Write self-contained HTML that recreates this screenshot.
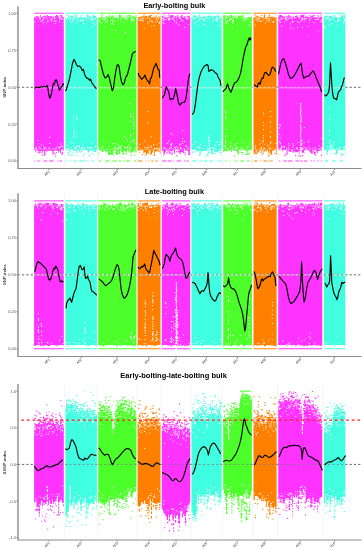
<!DOCTYPE html><html><head><meta charset="utf-8"><style>html,body{margin:0;padding:0;background:#fff;width:364px;height:550px;overflow:hidden}svg{display:block}</style></head><body><svg width="364" height="550" viewBox="0 0 364 550" font-family="Liberation Sans, Arial, sans-serif"><rect width="364" height="550" fill="#fff"/><line x1="64.6" y1="6.5" x2="64.6" y2="167.2" stroke="#EBEBEB" stroke-width="0.5"/><line x1="97.55" y1="6.5" x2="97.55" y2="167.2" stroke="#EBEBEB" stroke-width="0.5"/><line x1="137" y1="6.5" x2="137" y2="167.2" stroke="#EBEBEB" stroke-width="0.5"/><line x1="161.2" y1="6.5" x2="161.2" y2="167.2" stroke="#EBEBEB" stroke-width="0.5"/><line x1="190.85" y1="6.5" x2="190.85" y2="167.2" stroke="#EBEBEB" stroke-width="0.5"/><line x1="222.4" y1="6.5" x2="222.4" y2="167.2" stroke="#EBEBEB" stroke-width="0.5"/><line x1="252.7" y1="6.5" x2="252.7" y2="167.2" stroke="#EBEBEB" stroke-width="0.5"/><line x1="277.4" y1="6.5" x2="277.4" y2="167.2" stroke="#EBEBEB" stroke-width="0.5"/><line x1="323.05" y1="6.5" x2="323.05" y2="167.2" stroke="#EBEBEB" stroke-width="0.5"/><line x1="17.7" y1="87.3" x2="360.6" y2="87.3" stroke="#555" stroke-width="0.9" stroke-dasharray="2.2 2.11" stroke-dashoffset="0" stroke-opacity="1"/><rect x="34.1" y="12.7" width="29.7" height="1" fill="#FF33FF"/><rect x="34.1" y="17.6" width="29.7" height="132" fill="#FF33FF"/><path fill="#FF33FF" d="M34.1 16.7h1.0v1.0h-1.0zM35.1 17.3h0.8v0.4h-0.8zM35.9 16.0h1.6v1.7h-1.6zM37.5 16.4h1.6v1.3h-1.6zM40.1 15.1h0.8v2.6h-0.8zM40.9 17.0h1.6v0.7h-1.6zM42.5 16.3h0.8v1.4h-0.8zM43.3 16.2h1.2v1.5h-1.2zM44.5 16.6h1.0v1.1h-1.0zM45.5 15.1h0.8v2.6h-0.8zM47.1 15.0h0.8v2.7h-0.8zM47.9 16.3h1.6v1.4h-1.6zM49.5 16.2h1.6v1.5h-1.6zM51.1 16.0h1.0v1.7h-1.0zM52.1 16.7h1.6v1.0h-1.6zM54.9 16.0h1.0v1.7h-1.0zM55.9 15.0h1.2v2.7h-1.2zM57.1 15.6h1.6v2.1h-1.6zM60.7 15.1h1.2v2.6h-1.2zM61.9 16.8h1.6v0.9h-1.6zM60.1 14.8h1.1v1.1h-1.1zM42.2 16.5h1.1v1.1h-1.1zM48.4 16.5h1.1v1.1h-1.1zM45.3 16.3h1.1v1.1h-1.1zM47.8 16.0h1.1v1.1h-1.1zM45.7 15.9h1.1v1.1h-1.1zM44.6 16.3h1.1v1.1h-1.1zM35.3 149.5h0.8v2.8h-0.8zM36.1 149.5h1.6v0.9h-1.6zM37.7 149.5h0.8v1.2h-0.8zM38.5 149.5h1.2v2.3h-1.2zM39.7 149.5h1.6v2.0h-1.6zM41.3 149.5h1.0v1.4h-1.0zM42.3 149.5h0.8v2.7h-0.8zM43.1 149.5h1.0v1.0h-1.0zM44.1 149.5h1.2v5.6h-1.2zM45.3 149.5h1.2v1.2h-1.2zM46.5 149.5h1.2v2.0h-1.2zM47.7 149.5h0.8v1.0h-0.8zM48.5 149.5h1.0v1.4h-1.0zM49.5 149.5h1.0v1.1h-1.0zM50.5 149.5h0.8v1.3h-0.8zM51.3 149.5h1.2v1.6h-1.2zM52.5 149.5h1.0v5.2h-1.0zM53.5 149.5h1.6v1.3h-1.6zM55.1 149.5h1.2v1.1h-1.2zM56.3 149.5h0.8v1.5h-0.8zM57.1 149.5h1.2v1.2h-1.2zM58.3 149.5h0.8v3.0h-0.8zM59.1 149.5h1.0v1.5h-1.0zM60.1 149.5h1.0v3.7h-1.0zM63.1 149.5h0.7v1.2h-0.7zM55.7 152.0h1.1v1.1h-1.1zM41.8 154.6h1.1v1.1h-1.1zM39.4 152.1h1.1v1.1h-1.1zM38.9 151.9h1.1v1.1h-1.1zM61.3 153.9h1.1v1.1h-1.1zM52.6 152.1h1.1v1.1h-1.1zM54.2 153.1h1.1v1.1h-1.1zM37.4 152.2h1.1v1.1h-1.1zM43.9 154.6h1.1v1.1h-1.1zM41.5 151.9h1.1v1.1h-1.1zM55.0 155.5h1.1v1.1h-1.1zM61.7 152.8h1.1v1.1h-1.1zM62.0 151.7h1.1v1.1h-1.1zM34.5 160.5h0.9v1h-0.9zM37.4 160.5h2.2v1h-2.2zM43.6 160.5h3.5v1h-3.5zM49.1 160.5h4.5v1h-4.5zM57.6 160.5h1.0v1h-1.0zM59.8 160.5h2.2v1h-2.2z"/><rect x="65.4" y="12.7" width="31.5" height="1" fill="#40FFE0"/><rect x="65.4" y="17.6" width="31.5" height="132" fill="#40FFE0"/><path fill="#40FFE0" d="M68.2 15.3h1.0v2.4h-1.0zM70.4 17.2h0.8v0.5h-0.8zM71.2 16.1h1.2v1.6h-1.2zM72.4 16.7h1.6v1.0h-1.6zM75.0 16.6h0.8v1.1h-0.8zM75.8 15.0h1.0v2.7h-1.0zM78.4 17.1h0.8v0.6h-0.8zM80.4 16.6h1.6v1.1h-1.6zM83.6 17.2h1.6v0.5h-1.6zM86.8 15.1h1.6v2.6h-1.6zM89.2 15.8h1.2v1.9h-1.2zM90.4 17.1h1.0v0.6h-1.0zM91.4 17.3h1.0v0.4h-1.0zM92.4 15.6h0.8v2.1h-0.8zM93.2 15.0h1.2v2.7h-1.2zM94.4 16.0h1.6v1.7h-1.6zM66.6 14.7h1.1v1.1h-1.1zM70.5 15.6h1.1v1.1h-1.1zM73.5 15.1h1.1v1.1h-1.1zM80.8 15.0h1.1v1.1h-1.1zM75.7 14.7h1.1v1.1h-1.1zM72.5 16.5h1.1v1.1h-1.1zM89.1 16.0h1.1v1.1h-1.1zM67.0 149.5h0.8v0.8h-0.8zM69.4 149.5h1.0v3.3h-1.0zM73.2 149.5h1.0v1.6h-1.0zM74.2 149.5h1.2v0.9h-1.2zM75.4 149.5h1.2v1.6h-1.2zM76.6 149.5h0.8v1.2h-0.8zM78.6 149.5h0.8v3.3h-0.8zM79.4 149.5h0.8v1.8h-0.8zM81.0 149.5h0.8v3.2h-0.8zM81.8 149.5h0.8v0.5h-0.8zM82.6 149.5h1.6v0.4h-1.6zM84.2 149.5h1.6v0.4h-1.6zM85.8 149.5h1.0v0.4h-1.0zM86.8 149.5h0.8v1.1h-0.8zM87.6 149.5h1.6v3.1h-1.6zM89.2 149.5h1.2v1.5h-1.2zM90.4 149.5h1.6v0.8h-1.6zM92.0 149.5h1.0v2.0h-1.0zM93.8 149.5h1.2v2.4h-1.2zM95.0 149.5h1.2v1.2h-1.2zM96.2 149.5h0.7v1.0h-0.7zM67.4 152.2h1.1v1.1h-1.1zM83.7 152.9h1.1v1.1h-1.1zM73.0 154.5h1.1v1.1h-1.1zM89.0 155.1h1.1v1.1h-1.1zM91.8 152.9h1.1v1.1h-1.1zM76.2 151.5h1.1v1.1h-1.1zM71.7 151.6h1.1v1.1h-1.1zM76.4 154.7h1.1v1.1h-1.1zM68.1 154.4h1.1v1.1h-1.1zM68.2 153.5h1.1v1.1h-1.1zM75.7 151.7h1.1v1.1h-1.1zM94.8 150.8h1.1v1.1h-1.1zM71.1 154.6h1.1v1.1h-1.1zM83.0 155.2h1.1v1.1h-1.1zM65.6 160.5h0.9v1h-0.9zM67.7 160.5h1.0v1h-1.0zM70.7 160.5h0.9v1h-0.9zM73.6 160.5h2.2v1h-2.2zM77.0 160.5h1.2v1h-1.2zM79.4 160.5h4.5v1h-4.5zM85.1 160.5h0.9v1h-0.9zM87.2 160.5h1.2v1h-1.2zM91.4 160.5h2.2v1h-2.2z"/><rect x="98.2" y="12.7" width="38.2" height="1" fill="#4CFF2A"/><rect x="98.2" y="17.6" width="38.2" height="132" fill="#4CFF2A"/><path fill="#4CFF2A" d="M101.4 15.0h1.0v2.7h-1.0zM102.4 17.2h1.2v0.5h-1.2zM105.8 15.9h0.8v1.8h-0.8zM107.6 16.8h1.6v0.9h-1.6zM109.2 16.2h0.8v1.5h-0.8zM110.0 17.3h1.0v0.4h-1.0zM111.0 16.3h0.8v1.4h-0.8zM111.8 15.8h1.6v1.9h-1.6zM113.4 16.7h1.2v1.0h-1.2zM119.0 15.0h1.6v2.7h-1.6zM121.4 16.6h1.2v1.1h-1.2zM123.6 17.0h1.2v0.7h-1.2zM128.0 16.8h1.2v0.9h-1.2zM129.2 15.0h1.6v2.7h-1.6zM131.8 16.3h1.6v1.4h-1.6zM133.4 16.2h1.0v1.5h-1.0zM134.4 16.7h1.2v1.0h-1.2zM135.6 15.0h0.8v2.7h-0.8zM106.3 16.4h1.1v1.1h-1.1zM126.5 15.8h1.1v1.1h-1.1zM111.9 15.5h1.1v1.1h-1.1zM127.6 14.8h1.1v1.1h-1.1zM109.3 15.1h1.1v1.1h-1.1zM118.7 14.8h1.1v1.1h-1.1zM124.2 15.4h1.1v1.1h-1.1zM101.4 14.7h1.1v1.1h-1.1zM120.7 15.5h1.1v1.1h-1.1zM98.2 149.5h1.6v0.4h-1.6zM99.8 149.5h1.2v1.1h-1.2zM101.0 149.5h0.8v1.3h-0.8zM101.8 149.5h1.6v2.4h-1.6zM103.4 149.5h1.2v1.0h-1.2zM104.6 149.5h1.0v1.5h-1.0zM105.6 149.5h0.8v1.4h-0.8zM106.4 149.5h0.8v3.1h-0.8zM107.2 149.5h0.8v0.7h-0.8zM108.0 149.5h0.8v5.6h-0.8zM108.8 149.5h1.0v5.6h-1.0zM109.8 149.5h0.8v1.2h-0.8zM110.6 149.5h1.0v5.6h-1.0zM111.6 149.5h1.6v5.2h-1.6zM113.2 149.5h1.6v1.0h-1.6zM114.8 149.5h1.2v1.1h-1.2zM116.0 149.5h1.6v5.6h-1.6zM117.6 149.5h0.8v1.1h-0.8zM118.4 149.5h1.6v4.4h-1.6zM120.0 149.5h1.2v0.7h-1.2zM121.2 149.5h1.6v2.6h-1.6zM122.8 149.5h0.8v5.6h-0.8zM123.6 149.5h1.6v1.7h-1.6zM125.2 149.5h0.8v1.9h-0.8zM126.0 149.5h1.0v3.3h-1.0zM127.0 149.5h1.0v0.4h-1.0zM128.0 149.5h1.0v1.5h-1.0zM129.0 149.5h1.2v0.8h-1.2zM130.2 149.5h1.2v3.3h-1.2zM131.4 149.5h1.6v2.9h-1.6zM133.0 149.5h1.0v1.5h-1.0zM134.0 149.5h1.6v1.1h-1.6zM135.6 149.5h0.8v2.7h-0.8zM119.4 152.5h1.1v1.1h-1.1zM108.7 151.1h1.1v1.1h-1.1zM128.2 151.2h1.1v1.1h-1.1zM125.9 153.3h1.1v1.1h-1.1zM134.0 154.4h1.1v1.1h-1.1zM134.3 151.3h1.1v1.1h-1.1zM116.8 153.5h1.1v1.1h-1.1zM109.7 153.1h1.1v1.1h-1.1zM111.4 153.2h1.1v1.1h-1.1zM98.2 152.8h1.1v1.1h-1.1zM114.9 152.1h1.1v1.1h-1.1zM113.0 154.5h1.1v1.1h-1.1zM123.6 153.1h1.1v1.1h-1.1zM122.2 152.5h1.1v1.1h-1.1zM105.8 150.6h1.1v1.1h-1.1zM108.5 153.6h1.1v1.1h-1.1zM130.9 154.7h1.1v1.1h-1.1zM98.7 160.5h2.2v1h-2.2zM104.9 160.5h4.5v1h-4.5zM112.4 160.5h4.5v1h-4.5zM118.9 160.5h2.2v1h-2.2zM123.1 160.5h1.2v1h-1.2zM125.5 160.5h4.5v1h-4.5zM134.0 160.5h2.4v1h-2.4z"/><rect x="137.6" y="12.7" width="22.9" height="1" fill="#FF8000"/><rect x="137.6" y="17.6" width="22.9" height="132" fill="#FF8000"/><path fill="#FF8000" d="M137.6 17.1h1.6v0.6h-1.6zM139.2 16.9h0.8v0.8h-0.8zM140.0 16.5h1.0v1.2h-1.0zM141.0 16.5h1.2v1.2h-1.2zM142.2 16.2h1.6v1.5h-1.6zM143.8 16.5h1.0v1.2h-1.0zM144.8 15.9h1.6v1.8h-1.6zM146.4 16.0h1.0v1.7h-1.0zM147.4 17.1h0.8v0.6h-0.8zM148.2 15.8h1.2v1.9h-1.2zM149.4 15.3h1.6v2.4h-1.6zM152.2 16.9h1.2v0.8h-1.2zM153.4 16.8h1.6v0.9h-1.6zM155.0 16.8h1.2v0.9h-1.2zM157.8 16.4h0.8v1.3h-0.8zM159.4 16.3h1.0v1.4h-1.0zM146.4 15.9h1.1v1.1h-1.1zM150.8 14.9h1.1v1.1h-1.1zM142.1 16.3h1.1v1.1h-1.1zM143.5 14.6h1.1v1.1h-1.1zM155.7 15.6h1.1v1.1h-1.1zM137.6 149.5h1.2v1.2h-1.2zM138.8 149.5h0.8v0.4h-0.8zM139.6 149.5h1.2v0.9h-1.2zM140.8 149.5h1.0v1.0h-1.0zM141.8 149.5h1.6v0.4h-1.6zM143.4 149.5h1.2v3.7h-1.2zM144.6 149.5h1.2v2.4h-1.2zM145.8 149.5h1.2v5.6h-1.2zM147.0 149.5h1.0v3.4h-1.0zM148.0 149.5h0.8v3.5h-0.8zM148.8 149.5h1.6v0.8h-1.6zM150.4 149.5h1.6v5.0h-1.6zM152.0 149.5h1.0v2.9h-1.0zM154.0 149.5h1.0v3.8h-1.0zM155.0 149.5h1.6v1.7h-1.6zM156.6 149.5h1.0v1.8h-1.0zM157.6 149.5h1.2v1.2h-1.2zM159.8 149.5h0.7v4.1h-0.7zM147.2 152.1h1.1v1.1h-1.1zM146.3 151.2h1.1v1.1h-1.1zM142.1 154.0h1.1v1.1h-1.1zM139.1 151.7h1.1v1.1h-1.1zM144.6 155.2h1.1v1.1h-1.1zM158.4 150.8h1.1v1.1h-1.1zM155.2 150.7h1.1v1.1h-1.1zM154.0 154.0h1.1v1.1h-1.1zM148.4 153.2h1.1v1.1h-1.1zM153.4 155.0h1.1v1.1h-1.1zM138.0 160.5h4.5v1h-4.5zM145.5 160.5h0.9v1h-0.9zM148.4 160.5h0.9v1h-0.9zM151.3 160.5h2.2v1h-2.2zM155.5 160.5h2.2v1h-2.2z"/><rect x="161.9" y="12.7" width="28.3" height="1" fill="#FF33FF"/><rect x="161.9" y="17.6" width="28.3" height="132" fill="#FF33FF"/><path fill="#FF33FF" d="M161.9 16.1h1.6v1.6h-1.6zM164.5 16.9h1.2v0.8h-1.2zM167.3 17.2h1.2v0.5h-1.2zM168.5 15.0h0.8v2.7h-0.8zM170.1 15.5h0.8v2.2h-0.8zM170.9 15.2h1.2v2.5h-1.2zM172.1 15.0h1.2v2.7h-1.2zM174.9 15.9h1.0v1.8h-1.0zM176.7 15.3h1.0v2.4h-1.0zM177.7 16.7h0.8v1.0h-0.8zM179.7 16.4h1.6v1.3h-1.6zM181.3 15.0h1.2v2.7h-1.2zM182.5 16.8h0.8v0.9h-0.8zM184.3 15.9h1.2v1.8h-1.2zM187.1 16.8h0.8v0.9h-0.8zM187.9 16.1h1.0v1.6h-1.0zM188.9 16.4h1.0v1.3h-1.0zM172.5 15.8h1.1v1.1h-1.1zM188.3 15.8h1.1v1.1h-1.1zM168.5 14.5h1.1v1.1h-1.1zM187.3 15.7h1.1v1.1h-1.1zM171.4 15.7h1.1v1.1h-1.1zM177.1 15.5h1.1v1.1h-1.1zM163.6 15.2h1.1v1.1h-1.1zM161.9 149.5h1.6v1.5h-1.6zM163.5 149.5h1.6v4.6h-1.6zM165.1 149.5h0.8v2.4h-0.8zM165.9 149.5h0.8v0.6h-0.8zM167.5 149.5h1.0v3.6h-1.0zM169.3 149.5h0.8v4.5h-0.8zM170.1 149.5h1.6v1.4h-1.6zM171.7 149.5h0.8v5.6h-0.8zM173.3 149.5h0.8v1.2h-0.8zM174.1 149.5h1.0v4.2h-1.0zM179.1 149.5h0.8v3.6h-0.8zM179.9 149.5h0.8v2.5h-0.8zM180.7 149.5h1.2v2.5h-1.2zM181.9 149.5h1.2v2.9h-1.2zM183.1 149.5h0.8v3.6h-0.8zM185.1 149.5h1.0v1.4h-1.0zM186.1 149.5h1.0v0.8h-1.0zM187.1 149.5h1.2v1.4h-1.2zM188.3 149.5h1.6v5.6h-1.6zM177.8 151.1h1.1v1.1h-1.1zM179.7 152.8h1.1v1.1h-1.1zM188.8 154.2h1.1v1.1h-1.1zM184.6 154.1h1.1v1.1h-1.1zM176.5 155.1h1.1v1.1h-1.1zM184.5 152.1h1.1v1.1h-1.1zM166.2 152.5h1.1v1.1h-1.1zM176.1 151.1h1.1v1.1h-1.1zM171.3 153.5h1.1v1.1h-1.1zM163.1 154.7h1.1v1.1h-1.1zM179.6 152.2h1.1v1.1h-1.1zM170.0 152.4h1.1v1.1h-1.1zM162.2 160.5h4.5v1h-4.5zM167.9 160.5h3.5v1h-3.5zM172.6 160.5h1.0v1h-1.0zM176.6 160.5h4.5v1h-4.5zM184.1 160.5h1.2v1h-1.2zM186.5 160.5h2.2v1h-2.2z"/><rect x="191.5" y="12.7" width="30.1" height="1" fill="#40FFE0"/><rect x="191.5" y="17.6" width="30.1" height="132" fill="#40FFE0"/><path fill="#40FFE0" d="M191.5 16.9h1.6v0.8h-1.6zM193.1 15.0h1.2v2.7h-1.2zM194.3 15.7h1.6v2.0h-1.6zM195.9 15.0h0.8v2.7h-0.8zM197.5 16.7h1.6v1.0h-1.6zM199.1 15.9h1.2v1.8h-1.2zM200.3 17.1h1.2v0.6h-1.2zM201.5 17.0h1.2v0.7h-1.2zM202.7 16.6h1.6v1.1h-1.6zM204.3 16.8h1.2v0.9h-1.2zM206.5 16.3h1.2v1.4h-1.2zM207.7 15.0h1.0v2.7h-1.0zM208.7 16.0h1.0v1.7h-1.0zM209.7 15.8h0.8v1.9h-0.8zM210.5 16.2h1.2v1.5h-1.2zM211.7 17.3h1.0v0.4h-1.0zM212.7 15.5h0.8v2.2h-0.8zM213.5 16.5h1.0v1.2h-1.0zM214.5 16.8h1.0v0.9h-1.0zM217.1 15.1h1.2v2.6h-1.2zM218.3 16.2h1.6v1.5h-1.6zM221.1 16.6h0.5v1.1h-0.5zM216.6 16.4h1.1v1.1h-1.1zM203.8 15.9h1.1v1.1h-1.1zM207.3 16.5h1.1v1.1h-1.1zM214.6 16.0h1.1v1.1h-1.1zM215.1 16.6h1.1v1.1h-1.1zM198.9 14.8h1.1v1.1h-1.1zM213.2 16.1h1.1v1.1h-1.1zM196.3 149.5h1.2v2.2h-1.2zM197.5 149.5h0.8v1.5h-0.8zM198.3 149.5h1.2v1.4h-1.2zM199.5 149.5h1.2v5.6h-1.2zM200.7 149.5h1.2v1.4h-1.2zM201.9 149.5h1.6v1.8h-1.6zM203.5 149.5h1.2v1.2h-1.2zM204.7 149.5h1.0v1.4h-1.0zM205.7 149.5h1.0v1.5h-1.0zM206.7 149.5h1.0v0.6h-1.0zM207.7 149.5h0.8v5.6h-0.8zM208.5 149.5h0.8v0.9h-0.8zM209.3 149.5h1.6v0.7h-1.6zM210.9 149.5h0.8v4.2h-0.8zM211.7 149.5h0.8v3.5h-0.8zM212.5 149.5h1.6v0.7h-1.6zM214.1 149.5h1.2v3.0h-1.2zM215.3 149.5h1.2v1.9h-1.2zM216.5 149.5h1.6v2.7h-1.6zM218.1 149.5h1.6v1.2h-1.6zM219.7 149.5h0.8v1.3h-0.8zM220.5 149.5h1.0v1.1h-1.0zM192.0 151.5h1.1v1.1h-1.1zM199.0 154.9h1.1v1.1h-1.1zM208.6 152.0h1.1v1.1h-1.1zM220.4 151.9h1.1v1.1h-1.1zM206.4 154.3h1.1v1.1h-1.1zM211.5 152.8h1.1v1.1h-1.1zM214.0 153.0h1.1v1.1h-1.1zM212.2 153.1h1.1v1.1h-1.1zM219.7 154.2h1.1v1.1h-1.1zM194.1 151.2h1.1v1.1h-1.1zM219.5 151.7h1.1v1.1h-1.1zM192.3 151.9h1.1v1.1h-1.1zM205.4 155.4h1.1v1.1h-1.1zM191.9 160.5h4.5v1h-4.5zM198.4 160.5h0.9v1h-0.9zM200.5 160.5h2.2v1h-2.2zM203.9 160.5h3.5v1h-3.5zM209.4 160.5h3.5v1h-3.5zM216.9 160.5h1.2v1h-1.2zM219.3 160.5h2.3v1h-2.3z"/><rect x="223.2" y="12.7" width="28.7" height="1" fill="#4CFF2A"/><rect x="223.2" y="17.6" width="28.7" height="132" fill="#4CFF2A"/><path fill="#4CFF2A" d="M223.2 15.6h1.6v2.1h-1.6zM224.8 15.0h0.8v2.7h-0.8zM226.8 15.9h0.8v1.8h-0.8zM227.6 15.4h0.8v2.3h-0.8zM228.4 16.4h0.8v1.3h-0.8zM229.2 16.3h1.2v1.4h-1.2zM230.4 15.0h1.6v2.7h-1.6zM232.0 16.6h0.8v1.1h-0.8zM234.4 16.6h1.6v1.1h-1.6zM237.0 17.0h1.2v0.7h-1.2zM238.2 15.4h1.2v2.3h-1.2zM239.4 15.9h1.0v1.8h-1.0zM240.4 15.4h1.2v2.3h-1.2zM242.4 15.0h1.2v2.7h-1.2zM244.8 17.2h1.6v0.5h-1.6zM247.2 17.3h1.2v0.4h-1.2zM248.4 17.0h1.0v0.7h-1.0zM249.4 17.3h1.0v0.4h-1.0zM250.4 16.7h1.5v1.0h-1.5zM239.7 16.5h1.1v1.1h-1.1zM237.9 15.7h1.1v1.1h-1.1zM227.3 15.3h1.1v1.1h-1.1zM230.9 15.9h1.1v1.1h-1.1zM230.6 14.9h1.1v1.1h-1.1zM233.3 15.4h1.1v1.1h-1.1zM232.5 15.7h1.1v1.1h-1.1zM223.2 149.5h1.0v2.5h-1.0zM224.2 149.5h1.6v1.5h-1.6zM225.8 149.5h0.8v1.4h-0.8zM226.6 149.5h1.0v2.0h-1.0zM227.6 149.5h1.0v0.8h-1.0zM228.6 149.5h1.6v1.3h-1.6zM231.0 149.5h1.0v2.3h-1.0zM233.0 149.5h0.8v1.6h-0.8zM233.8 149.5h0.8v0.6h-0.8zM234.6 149.5h1.0v1.4h-1.0zM235.6 149.5h1.2v1.1h-1.2zM236.8 149.5h0.8v2.8h-0.8zM237.6 149.5h1.2v3.2h-1.2zM239.8 149.5h1.0v0.7h-1.0zM240.8 149.5h1.2v0.7h-1.2zM243.6 149.5h1.2v0.9h-1.2zM244.8 149.5h0.8v0.6h-0.8zM245.6 149.5h1.0v2.2h-1.0zM246.6 149.5h0.8v0.9h-0.8zM247.4 149.5h0.8v2.4h-0.8zM248.2 149.5h0.8v0.7h-0.8zM249.0 149.5h1.0v0.7h-1.0zM250.0 149.5h0.8v0.9h-0.8zM234.2 155.3h1.1v1.1h-1.1zM240.8 151.8h1.1v1.1h-1.1zM242.0 152.0h1.1v1.1h-1.1zM237.4 152.2h1.1v1.1h-1.1zM249.4 152.4h1.1v1.1h-1.1zM245.4 153.8h1.1v1.1h-1.1zM246.5 153.6h1.1v1.1h-1.1zM247.2 152.6h1.1v1.1h-1.1zM241.9 153.7h1.1v1.1h-1.1zM237.8 153.4h1.1v1.1h-1.1zM238.0 152.6h1.1v1.1h-1.1zM248.0 153.8h1.1v1.1h-1.1zM223.7 160.5h0.9v1h-0.9zM225.8 160.5h1.0v1h-1.0zM228.8 160.5h1.0v1h-1.0zM233.8 160.5h1.2v1h-1.2zM236.2 160.5h1.2v1h-1.2zM240.4 160.5h3.5v1h-3.5zM246.9 160.5h2.2v1h-2.2zM251.1 160.5h0.8v1h-0.8z"/><rect x="253.5" y="12.7" width="23.1" height="1" fill="#FF8000"/><rect x="253.5" y="17.6" width="23.1" height="132" fill="#FF8000"/><path fill="#FF8000" d="M254.7 16.7h1.2v1.0h-1.2zM255.9 16.5h0.8v1.2h-0.8zM256.7 16.3h1.6v1.4h-1.6zM259.3 16.4h1.0v1.3h-1.0zM260.3 16.9h1.0v0.8h-1.0zM261.3 17.1h1.2v0.6h-1.2zM263.7 15.6h1.6v2.1h-1.6zM266.9 17.3h1.0v0.4h-1.0zM267.9 16.8h0.8v0.9h-0.8zM268.7 15.0h0.8v2.7h-0.8zM269.5 17.1h1.0v0.6h-1.0zM270.5 16.9h0.8v0.8h-0.8zM271.3 16.6h1.6v1.1h-1.6zM272.9 17.2h1.6v0.5h-1.6zM274.5 17.0h1.2v0.7h-1.2zM263.9 14.5h1.1v1.1h-1.1zM269.0 14.4h1.1v1.1h-1.1zM254.4 14.6h1.1v1.1h-1.1zM256.6 15.5h1.1v1.1h-1.1zM261.3 15.0h1.1v1.1h-1.1zM253.5 149.5h1.2v3.0h-1.2zM254.7 149.5h1.0v4.8h-1.0zM256.7 149.5h1.2v3.8h-1.2zM257.9 149.5h0.8v2.8h-0.8zM258.7 149.5h1.2v1.1h-1.2zM259.9 149.5h1.2v0.6h-1.2zM261.1 149.5h0.8v1.8h-0.8zM261.9 149.5h1.6v0.9h-1.6zM263.5 149.5h1.2v2.6h-1.2zM264.7 149.5h1.2v1.1h-1.2zM265.9 149.5h1.0v1.9h-1.0zM267.9 149.5h0.8v4.1h-0.8zM268.7 149.5h1.0v1.5h-1.0zM269.7 149.5h1.6v4.1h-1.6zM271.3 149.5h0.8v5.6h-0.8zM272.1 149.5h0.8v1.3h-0.8zM272.9 149.5h1.0v1.0h-1.0zM273.9 149.5h1.0v1.0h-1.0zM275.9 149.5h0.7v5.6h-0.7zM260.7 151.8h1.1v1.1h-1.1zM268.4 154.3h1.1v1.1h-1.1zM261.6 153.9h1.1v1.1h-1.1zM268.1 155.3h1.1v1.1h-1.1zM263.0 152.6h1.1v1.1h-1.1zM256.1 153.0h1.1v1.1h-1.1zM259.4 151.2h1.1v1.1h-1.1zM253.8 152.7h1.1v1.1h-1.1zM271.1 153.9h1.1v1.1h-1.1zM274.2 152.9h1.1v1.1h-1.1zM253.9 160.5h3.5v1h-3.5zM260.4 160.5h1.0v1h-1.0zM263.4 160.5h3.5v1h-3.5zM268.1 160.5h1.2v1h-1.2zM270.5 160.5h2.2v1h-2.2z"/><rect x="278.2" y="12.7" width="44" height="1" fill="#FF33FF"/><rect x="278.2" y="17.6" width="44" height="132" fill="#FF33FF"/><path fill="#FF33FF" d="M278.2 16.8h1.0v0.9h-1.0zM279.2 15.0h1.6v2.7h-1.6zM280.8 15.0h1.0v2.7h-1.0zM281.8 16.4h1.0v1.3h-1.0zM282.8 16.4h1.2v1.3h-1.2zM284.0 16.0h0.8v1.7h-0.8zM285.8 16.8h0.8v0.9h-0.8zM288.2 15.0h0.8v2.7h-0.8zM289.0 16.3h1.0v1.4h-1.0zM290.0 17.3h0.8v0.4h-0.8zM292.4 17.1h0.8v0.6h-0.8zM293.2 16.5h0.8v1.2h-0.8zM295.6 15.9h1.0v1.8h-1.0zM296.6 15.0h0.8v2.7h-0.8zM297.4 16.9h1.2v0.8h-1.2zM300.2 15.0h1.0v2.7h-1.0zM301.2 16.0h1.2v1.7h-1.2zM302.4 15.0h1.6v2.7h-1.6zM304.0 16.7h1.6v1.0h-1.6zM305.6 16.3h1.6v1.4h-1.6zM307.2 16.8h1.0v0.9h-1.0zM308.2 17.1h1.2v0.6h-1.2zM309.4 17.3h1.0v0.4h-1.0zM310.4 15.6h1.2v2.1h-1.2zM311.6 16.2h0.8v1.5h-0.8zM312.4 15.0h1.2v2.7h-1.2zM313.6 17.3h1.2v0.4h-1.2zM314.8 17.1h1.2v0.6h-1.2zM317.6 15.0h1.0v2.7h-1.0zM319.6 16.7h1.0v1.0h-1.0zM320.6 16.7h1.0v1.0h-1.0zM321.6 17.1h0.6v0.6h-0.6zM286.6 15.8h1.1v1.1h-1.1zM281.5 16.1h1.1v1.1h-1.1zM280.7 16.0h1.1v1.1h-1.1zM294.6 15.9h1.1v1.1h-1.1zM303.6 14.7h1.1v1.1h-1.1zM301.3 14.6h1.1v1.1h-1.1zM288.5 15.2h1.1v1.1h-1.1zM290.5 15.9h1.1v1.1h-1.1zM320.5 15.2h1.1v1.1h-1.1zM314.2 14.9h1.1v1.1h-1.1zM308.6 15.2h1.1v1.1h-1.1zM279.4 149.5h1.2v0.5h-1.2zM282.2 149.5h0.8v1.8h-0.8zM283.0 149.5h1.6v0.6h-1.6zM285.4 149.5h1.2v0.4h-1.2zM286.6 149.5h1.0v5.6h-1.0zM288.4 149.5h1.6v1.9h-1.6zM290.0 149.5h1.0v2.6h-1.0zM292.6 149.5h1.0v3.2h-1.0zM293.6 149.5h1.6v2.0h-1.6zM295.2 149.5h1.0v3.1h-1.0zM296.2 149.5h1.2v2.4h-1.2zM297.4 149.5h0.8v3.1h-0.8zM298.2 149.5h1.6v2.1h-1.6zM299.8 149.5h1.0v0.7h-1.0zM300.8 149.5h1.0v2.1h-1.0zM301.8 149.5h1.0v3.6h-1.0zM302.8 149.5h1.2v2.7h-1.2zM304.0 149.5h1.6v1.0h-1.6zM307.2 149.5h1.0v0.5h-1.0zM308.2 149.5h0.8v1.2h-0.8zM309.0 149.5h0.8v1.3h-0.8zM309.8 149.5h1.6v3.2h-1.6zM311.4 149.5h1.2v4.4h-1.2zM313.4 149.5h0.8v3.5h-0.8zM314.2 149.5h1.6v0.5h-1.6zM315.8 149.5h1.0v1.7h-1.0zM316.8 149.5h1.0v3.5h-1.0zM317.8 149.5h1.6v1.4h-1.6zM319.4 149.5h1.0v0.6h-1.0zM320.4 149.5h0.8v0.9h-0.8zM321.2 149.5h0.8v1.2h-0.8zM314.0 151.5h1.1v1.1h-1.1zM284.5 155.1h1.1v1.1h-1.1zM290.4 150.8h1.1v1.1h-1.1zM299.7 155.6h1.1v1.1h-1.1zM314.0 152.6h1.1v1.1h-1.1zM320.8 154.6h1.1v1.1h-1.1zM314.3 153.8h1.1v1.1h-1.1zM295.1 155.1h1.1v1.1h-1.1zM298.4 155.3h1.1v1.1h-1.1zM301.9 155.1h1.1v1.1h-1.1zM298.7 152.7h1.1v1.1h-1.1zM303.5 152.2h1.1v1.1h-1.1zM284.6 153.5h1.1v1.1h-1.1zM314.7 152.0h1.1v1.1h-1.1zM315.3 154.5h1.1v1.1h-1.1zM311.5 152.7h1.1v1.1h-1.1zM321.0 154.6h1.1v1.1h-1.1zM302.9 151.2h1.1v1.1h-1.1zM302.8 150.7h1.1v1.1h-1.1zM279.1 160.5h1.2v1h-1.2zM283.3 160.5h3.5v1h-3.5zM288.0 160.5h4.5v1h-4.5zM295.5 160.5h3.5v1h-3.5zM300.2 160.5h2.2v1h-2.2zM303.6 160.5h3.5v1h-3.5zM311.1 160.5h1.2v1h-1.2zM313.5 160.5h1.0v1h-1.0zM317.5 160.5h1.2v1h-1.2zM320.7 160.5h1.0v1h-1.0z"/><rect x="323.9" y="12.7" width="21.4" height="1" fill="#40FFE0"/><rect x="323.9" y="17.6" width="21.4" height="132" fill="#40FFE0"/><path fill="#40FFE0" d="M323.9 17.0h0.8v0.7h-0.8zM324.7 15.7h1.6v2.0h-1.6zM326.3 15.5h1.2v2.2h-1.2zM328.7 16.0h0.8v1.7h-0.8zM329.5 15.7h1.0v2.0h-1.0zM330.5 16.1h1.2v1.6h-1.2zM331.7 16.7h1.6v1.0h-1.6zM334.1 15.0h1.0v2.7h-1.0zM335.1 17.0h1.2v0.7h-1.2zM336.3 17.2h1.0v0.5h-1.0zM338.5 17.2h0.8v0.5h-0.8zM340.9 15.9h1.2v1.8h-1.2zM342.1 15.7h1.0v2.0h-1.0zM343.1 16.7h0.8v1.0h-0.8zM343.9 15.0h1.2v2.7h-1.2zM341.3 14.7h1.1v1.1h-1.1zM332.9 15.2h1.1v1.1h-1.1zM339.1 14.5h1.1v1.1h-1.1zM330.3 16.0h1.1v1.1h-1.1zM341.9 14.5h1.1v1.1h-1.1zM323.9 149.5h1.6v0.5h-1.6zM325.5 149.5h1.0v0.6h-1.0zM326.5 149.5h1.0v5.6h-1.0zM327.5 149.5h0.8v2.4h-0.8zM328.3 149.5h1.6v0.5h-1.6zM329.9 149.5h0.8v0.9h-0.8zM330.7 149.5h1.6v0.8h-1.6zM332.3 149.5h1.2v0.5h-1.2zM335.9 149.5h1.2v4.2h-1.2zM337.9 149.5h0.8v1.4h-0.8zM339.7 149.5h1.0v0.5h-1.0zM340.7 149.5h1.2v0.6h-1.2zM341.9 149.5h1.2v0.8h-1.2zM343.1 149.5h0.8v0.5h-0.8zM343.9 149.5h1.0v0.5h-1.0zM344.9 149.5h0.4v5.6h-0.4zM335.7 153.7h1.1v1.1h-1.1zM331.3 153.0h1.1v1.1h-1.1zM342.8 153.9h1.1v1.1h-1.1zM335.6 153.7h1.1v1.1h-1.1zM341.1 154.7h1.1v1.1h-1.1zM335.7 152.3h1.1v1.1h-1.1zM337.0 151.6h1.1v1.1h-1.1zM334.3 153.1h1.1v1.1h-1.1zM341.0 153.6h1.1v1.1h-1.1zM324.6 160.5h3.5v1h-3.5zM332.1 160.5h3.5v1h-3.5zM339.6 160.5h3.5v1h-3.5z"/><path fill="#fff" d="M38.8 18.5h1.0v1.0h-1.0zM42.8 21.7h0.9v0.9h-0.9zM51.5 18.4h0.9v0.9h-0.9zM34.5 21.6h0.9v0.9h-0.9zM47.2 18.8h1.0v1.0h-1.0zM46.8 21.0h0.9v0.9h-0.9zM54.1 20.4h0.9v0.9h-0.9zM58.8 17.8h0.7v0.7h-0.7zM44.3 21.9h0.7v0.7h-0.7zM41.4 19.8h0.7v0.7h-0.7zM42.9 17.6h0.9v0.9h-0.9zM43.0 23.5h0.7v0.7h-0.7zM40.1 17.8h0.7v0.7h-0.7zM53.4 22.4h0.7v0.7h-0.7zM37.8 20.9h0.9v0.9h-0.9zM51.5 18.3h1.0v1.0h-1.0zM54.2 18.2h1.0v1.0h-1.0zM55.6 20.5h0.9v0.9h-0.9zM42.5 19.1h1.0v1.0h-1.0zM62.0 22.3h0.7v0.7h-0.7zM61.1 19.1h0.7v0.7h-0.7zM51.5 20.3h1.0v1.0h-1.0zM40.5 21.1h0.9v0.9h-0.9zM40.1 18.1h0.9v0.9h-0.9zM55.4 23.5h0.7v0.7h-0.7zM54.6 20.9h0.9v0.9h-0.9zM48.4 20.7h0.7v0.7h-0.7zM62.6 19.2h0.9v0.9h-0.9zM59.2 19.6h0.9v0.9h-0.9zM61.1 17.9h1.0v1.0h-1.0zM42.5 19.8h0.9v0.9h-0.9zM46.4 22.8h0.7v0.7h-0.7zM52.4 17.9h0.7v0.7h-0.7zM59.1 21.5h1.0v1.0h-1.0zM62.0 24.9h0.9v0.9h-0.9zM44.8 18.3h0.7v0.7h-0.7zM51.2 19.6h0.7v0.7h-0.7zM37.8 24.8h0.7v0.7h-0.7zM40.4 20.7h0.9v0.9h-0.9zM55.1 23.0h0.7v0.7h-0.7zM35.7 17.7h0.9v0.9h-0.9zM43.6 17.7h0.7v0.7h-0.7zM50.1 19.4h0.9v0.9h-0.9zM42.6 19.8h0.9v0.9h-0.9zM59.6 18.2h0.9v0.9h-0.9zM59.6 18.4h1.0v1.0h-1.0zM54.2 17.7h0.9v0.9h-0.9zM45.8 148.6h0.7v0.7h-0.7zM48.6 148.3h0.7v0.7h-0.7zM40.4 148.1h0.7v0.7h-0.7zM35.8 147.5h1.0v1.0h-1.0zM38.3 143.6h0.7v0.7h-0.7zM40.7 144.7h0.9v0.9h-0.9zM35.8 148.3h0.7v0.7h-0.7zM56.9 145.5h0.7v0.7h-0.7zM35.7 148.4h1.0v1.0h-1.0zM37.4 140.1h1.0v1.0h-1.0zM40.4 147.7h0.9v0.9h-0.9zM49.2 142.9h1.0v1.0h-1.0zM35.0 147.8h0.7v0.7h-0.7zM43.4 147.4h1.0v1.0h-1.0zM59.0 147.3h1.0v1.0h-1.0zM45.2 147.0h0.7v0.7h-0.7zM58.0 146.7h0.9v0.9h-0.9zM60.2 146.0h0.7v0.7h-0.7zM41.0 144.4h0.9v0.9h-0.9zM59.5 146.5h0.9v0.9h-0.9zM55.8 147.3h0.9v0.9h-0.9zM44.6 147.5h0.9v0.9h-0.9zM48.8 147.3h0.9v0.9h-0.9zM38.9 146.3h1.0v1.0h-1.0zM54.5 148.1h0.9v0.9h-0.9zM52.6 148.1h0.7v0.7h-0.7zM36.4 145.9h0.7v0.7h-0.7zM44.3 147.5h0.9v0.9h-0.9zM58.7 147.6h0.9v0.9h-0.9zM38.5 147.4h0.9v0.9h-0.9zM60.4 143.4h1.0v1.0h-1.0zM43.2 145.4h0.9v0.9h-0.9zM49.4 136.8h1.0v1.0h-1.0zM61.5 145.7h1.0v1.0h-1.0zM61.7 146.6h0.9v0.9h-0.9zM91.6 21.9h1.0v1.0h-1.0zM90.1 18.9h1.0v1.0h-1.0zM69.1 25.9h0.7v0.7h-0.7zM95.2 23.7h1.0v1.0h-1.0zM94.8 18.3h0.7v0.7h-0.7zM91.0 18.6h1.0v1.0h-1.0zM77.7 18.8h0.7v0.7h-0.7zM72.5 18.6h1.0v1.0h-1.0zM65.6 17.9h0.7v0.7h-0.7zM72.2 19.6h0.9v0.9h-0.9zM69.7 18.3h0.9v0.9h-0.9zM82.9 19.6h1.0v1.0h-1.0zM83.7 23.2h0.9v0.9h-0.9zM91.7 19.2h1.0v1.0h-1.0zM79.9 19.6h0.9v0.9h-0.9zM71.4 22.2h0.9v0.9h-0.9zM71.7 21.6h0.7v0.7h-0.7zM89.0 17.7h0.9v0.9h-0.9zM76.5 17.7h0.9v0.9h-0.9zM67.9 18.4h1.0v1.0h-1.0zM91.9 17.9h1.0v1.0h-1.0zM85.4 20.2h0.7v0.7h-0.7zM82.9 22.7h1.0v1.0h-1.0zM87.0 25.0h0.7v0.7h-0.7zM75.0 19.4h0.7v0.7h-0.7zM92.9 23.0h0.9v0.9h-0.9zM82.5 18.0h0.7v0.7h-0.7zM81.0 20.7h1.0v1.0h-1.0zM85.8 18.6h0.9v0.9h-0.9zM92.6 20.0h0.9v0.9h-0.9zM75.7 22.9h0.9v0.9h-0.9zM67.3 20.6h0.9v0.9h-0.9zM66.0 18.2h0.9v0.9h-0.9zM72.3 18.5h0.9v0.9h-0.9zM91.9 26.1h0.9v0.9h-0.9zM94.4 18.6h1.0v1.0h-1.0zM74.3 17.9h0.9v0.9h-0.9zM93.7 18.3h0.9v0.9h-0.9zM88.8 21.2h0.9v0.9h-0.9zM83.0 20.2h1.0v1.0h-1.0zM70.7 18.0h0.7v0.7h-0.7zM77.5 19.7h1.0v1.0h-1.0zM86.6 18.2h0.9v0.9h-0.9zM70.0 19.4h1.0v1.0h-1.0zM72.8 21.3h0.7v0.7h-0.7zM67.8 17.8h1.0v1.0h-1.0zM80.9 20.0h1.0v1.0h-1.0zM75.4 19.7h0.7v0.7h-0.7zM82.6 19.5h0.7v0.7h-0.7zM77.2 21.2h1.0v1.0h-1.0zM79.1 146.1h0.9v0.9h-0.9zM67.0 145.0h0.9v0.9h-0.9zM78.8 145.3h1.0v1.0h-1.0zM82.1 143.3h0.9v0.9h-0.9zM88.5 147.4h0.7v0.7h-0.7zM69.5 141.1h0.7v0.7h-0.7zM94.5 146.3h0.7v0.7h-0.7zM82.7 146.8h1.0v1.0h-1.0zM72.5 142.7h0.7v0.7h-0.7zM78.9 148.1h0.7v0.7h-0.7zM95.5 134.5h0.7v0.7h-0.7zM75.0 148.2h0.7v0.7h-0.7zM75.5 148.0h1.0v1.0h-1.0zM84.2 147.6h1.0v1.0h-1.0zM87.0 146.8h1.0v1.0h-1.0zM82.2 148.1h1.0v1.0h-1.0zM80.9 147.6h0.7v0.7h-0.7zM74.0 148.1h0.7v0.7h-0.7zM90.2 147.4h0.9v0.9h-0.9zM77.0 145.6h1.0v1.0h-1.0zM70.9 142.5h0.9v0.9h-0.9zM90.3 147.0h0.7v0.7h-0.7zM67.0 145.0h0.7v0.7h-0.7zM81.8 148.2h0.9v0.9h-0.9zM71.0 146.9h1.0v1.0h-1.0zM66.5 148.0h1.0v1.0h-1.0zM79.1 147.2h0.9v0.9h-0.9zM89.1 148.1h1.0v1.0h-1.0zM73.7 142.7h0.7v0.7h-0.7zM82.4 144.1h0.7v0.7h-0.7zM95.1 146.4h0.9v0.9h-0.9zM91.3 147.0h1.0v1.0h-1.0zM68.5 148.4h0.9v0.9h-0.9zM73.9 147.1h0.9v0.9h-0.9zM80.9 148.1h1.0v1.0h-1.0zM91.8 142.6h1.0v1.0h-1.0zM88.0 146.8h0.7v0.7h-0.7zM110.1 18.8h0.7v0.7h-0.7zM120.9 18.3h0.7v0.7h-0.7zM131.2 20.5h0.7v0.7h-0.7zM102.0 17.9h0.7v0.7h-0.7zM115.1 30.3h1.0v1.0h-1.0zM110.2 18.5h0.7v0.7h-0.7zM112.6 21.1h0.9v0.9h-0.9zM125.8 18.6h1.0v1.0h-1.0zM112.6 22.9h0.9v0.9h-0.9zM104.7 19.5h0.9v0.9h-0.9zM103.9 17.9h0.7v0.7h-0.7zM118.1 18.7h0.9v0.9h-0.9zM133.6 19.9h1.0v1.0h-1.0zM110.9 20.0h1.0v1.0h-1.0zM120.2 19.3h0.9v0.9h-0.9zM123.9 22.5h0.7v0.7h-0.7zM104.4 19.8h1.0v1.0h-1.0zM132.9 17.7h0.9v0.9h-0.9zM131.9 21.6h0.9v0.9h-0.9zM113.8 17.7h0.9v0.9h-0.9zM111.7 20.1h1.0v1.0h-1.0zM130.7 18.3h0.9v0.9h-0.9zM131.9 18.7h1.0v1.0h-1.0zM112.5 21.8h0.7v0.7h-0.7zM112.7 24.1h0.9v0.9h-0.9zM120.7 21.8h0.7v0.7h-0.7zM106.9 22.4h0.9v0.9h-0.9zM112.5 21.1h0.9v0.9h-0.9zM101.8 17.6h0.9v0.9h-0.9zM101.7 19.1h0.7v0.7h-0.7zM102.3 22.0h0.7v0.7h-0.7zM126.2 18.0h0.9v0.9h-0.9zM110.3 23.3h1.0v1.0h-1.0zM117.7 18.5h0.7v0.7h-0.7zM105.4 18.1h1.0v1.0h-1.0zM104.2 27.3h0.7v0.7h-0.7zM114.6 19.7h0.9v0.9h-0.9zM103.2 18.7h1.0v1.0h-1.0zM124.3 18.7h0.7v0.7h-0.7zM99.0 21.8h0.7v0.7h-0.7zM106.9 19.5h0.9v0.9h-0.9zM99.5 20.6h0.7v0.7h-0.7zM118.0 19.9h0.7v0.7h-0.7zM106.0 21.1h0.9v0.9h-0.9zM131.4 18.8h0.7v0.7h-0.7zM112.5 17.7h0.9v0.9h-0.9zM131.2 21.2h0.7v0.7h-0.7zM123.8 22.1h1.0v1.0h-1.0zM124.1 17.7h1.0v1.0h-1.0zM105.2 22.1h0.7v0.7h-0.7zM130.5 18.7h0.9v0.9h-0.9zM124.9 32.0h1.0v1.0h-1.0zM124.6 19.4h0.9v0.9h-0.9zM103.5 18.9h0.9v0.9h-0.9zM132.9 19.0h0.9v0.9h-0.9zM111.9 19.8h0.7v0.7h-0.7zM105.5 18.0h0.7v0.7h-0.7zM99.0 20.7h0.9v0.9h-0.9zM127.4 19.2h0.7v0.7h-0.7zM100.2 22.3h1.0v1.0h-1.0zM98.5 19.2h0.9v0.9h-0.9zM113.7 143.1h1.0v1.0h-1.0zM126.9 147.3h0.9v0.9h-0.9zM127.2 146.1h0.7v0.7h-0.7zM117.0 148.2h1.0v1.0h-1.0zM111.7 148.4h0.7v0.7h-0.7zM129.5 147.8h1.0v1.0h-1.0zM102.8 140.2h0.7v0.7h-0.7zM111.8 148.1h0.7v0.7h-0.7zM115.8 148.5h0.7v0.7h-0.7zM126.1 137.7h1.0v1.0h-1.0zM114.2 146.8h1.0v1.0h-1.0zM116.8 148.2h1.0v1.0h-1.0zM124.5 147.2h1.0v1.0h-1.0zM118.5 147.1h1.0v1.0h-1.0zM112.3 143.6h0.9v0.9h-0.9zM114.5 148.4h1.0v1.0h-1.0zM120.9 145.3h0.7v0.7h-0.7zM101.8 148.3h0.7v0.7h-0.7zM102.3 145.6h0.7v0.7h-0.7zM98.3 147.0h0.7v0.7h-0.7zM101.6 146.7h0.7v0.7h-0.7zM119.5 146.3h0.9v0.9h-0.9zM121.6 145.5h0.7v0.7h-0.7zM108.5 145.9h0.9v0.9h-0.9zM106.3 141.9h0.9v0.9h-0.9zM127.0 140.3h0.9v0.9h-0.9zM118.1 147.7h0.7v0.7h-0.7zM125.9 147.0h0.9v0.9h-0.9zM120.0 148.0h1.0v1.0h-1.0zM134.4 147.2h1.0v1.0h-1.0zM124.0 136.1h1.0v1.0h-1.0zM120.4 146.8h1.0v1.0h-1.0zM106.4 148.6h0.7v0.7h-0.7zM116.6 143.8h0.7v0.7h-0.7zM129.0 147.8h0.9v0.9h-0.9zM127.6 146.4h0.9v0.9h-0.9zM103.4 146.6h0.7v0.7h-0.7zM135.4 143.3h0.9v0.9h-0.9zM115.7 146.2h0.9v0.9h-0.9zM118.4 148.2h0.7v0.7h-0.7zM118.2 144.5h1.0v1.0h-1.0zM128.3 144.3h0.9v0.9h-0.9zM98.6 147.7h1.0v1.0h-1.0zM123.9 146.3h0.7v0.7h-0.7zM101.8 147.5h1.0v1.0h-1.0zM151.6 20.9h0.9v0.9h-0.9zM139.6 19.5h0.9v0.9h-0.9zM150.5 20.8h0.7v0.7h-0.7zM141.3 20.3h0.7v0.7h-0.7zM140.2 19.7h0.7v0.7h-0.7zM141.1 18.1h0.7v0.7h-0.7zM139.6 18.8h1.0v1.0h-1.0zM156.0 19.2h1.0v1.0h-1.0zM140.5 20.0h0.7v0.7h-0.7zM139.1 20.1h0.7v0.7h-0.7zM158.0 17.7h1.0v1.0h-1.0zM158.7 22.8h0.9v0.9h-0.9zM147.2 22.2h0.7v0.7h-0.7zM142.3 20.8h1.0v1.0h-1.0zM159.1 21.6h0.9v0.9h-0.9zM145.4 18.8h0.7v0.7h-0.7zM159.3 22.0h0.7v0.7h-0.7zM155.3 17.8h0.7v0.7h-0.7zM156.6 18.7h0.7v0.7h-0.7zM142.4 18.1h1.0v1.0h-1.0zM149.0 17.9h1.0v1.0h-1.0zM153.6 25.0h1.0v1.0h-1.0zM137.6 18.6h1.0v1.0h-1.0zM144.0 28.2h0.7v0.7h-0.7zM155.1 20.9h0.9v0.9h-0.9zM152.1 21.9h0.9v0.9h-0.9zM147.6 23.2h0.7v0.7h-0.7zM142.7 19.5h0.7v0.7h-0.7zM157.0 21.0h0.9v0.9h-0.9zM142.0 18.7h0.7v0.7h-0.7zM142.9 20.0h0.7v0.7h-0.7zM148.5 21.0h1.0v1.0h-1.0zM151.5 20.3h0.9v0.9h-0.9zM149.7 19.1h0.7v0.7h-0.7zM151.3 25.7h0.7v0.7h-0.7zM146.9 17.8h0.9v0.9h-0.9zM151.1 145.8h0.7v0.7h-0.7zM150.7 146.8h0.9v0.9h-0.9zM143.4 143.6h0.7v0.7h-0.7zM144.7 140.6h1.0v1.0h-1.0zM153.2 144.3h1.0v1.0h-1.0zM157.4 148.5h1.0v1.0h-1.0zM153.7 148.3h0.9v0.9h-0.9zM147.5 144.7h0.9v0.9h-0.9zM140.6 148.4h1.0v1.0h-1.0zM158.9 148.5h1.0v1.0h-1.0zM153.3 144.4h1.0v1.0h-1.0zM158.9 146.7h0.7v0.7h-0.7zM148.8 147.3h0.7v0.7h-0.7zM146.6 148.4h1.0v1.0h-1.0zM138.5 146.9h0.9v0.9h-0.9zM151.0 147.4h0.7v0.7h-0.7zM139.1 143.7h1.0v1.0h-1.0zM144.3 147.6h1.0v1.0h-1.0zM147.9 147.4h0.9v0.9h-0.9zM156.4 148.1h1.0v1.0h-1.0zM145.4 146.5h0.9v0.9h-0.9zM150.8 136.2h1.0v1.0h-1.0zM154.5 147.9h0.9v0.9h-0.9zM155.8 147.5h0.9v0.9h-0.9zM150.5 145.6h0.9v0.9h-0.9zM156.7 144.3h0.7v0.7h-0.7zM158.9 143.1h0.7v0.7h-0.7zM169.0 18.2h0.7v0.7h-0.7zM184.1 27.0h1.0v1.0h-1.0zM163.9 19.0h1.0v1.0h-1.0zM167.7 17.7h0.7v0.7h-0.7zM172.8 17.9h0.9v0.9h-0.9zM183.0 21.2h0.9v0.9h-0.9zM175.9 22.0h0.9v0.9h-0.9zM171.1 17.8h0.7v0.7h-0.7zM165.2 19.3h1.0v1.0h-1.0zM174.4 20.2h0.7v0.7h-0.7zM174.4 19.8h0.7v0.7h-0.7zM162.3 18.6h1.0v1.0h-1.0zM178.5 24.3h0.9v0.9h-0.9zM187.0 18.5h0.7v0.7h-0.7zM162.7 17.6h0.9v0.9h-0.9zM163.1 17.8h0.9v0.9h-0.9zM180.0 17.9h1.0v1.0h-1.0zM185.6 18.2h0.7v0.7h-0.7zM179.3 18.0h1.0v1.0h-1.0zM180.6 20.7h0.7v0.7h-0.7zM173.9 21.3h1.0v1.0h-1.0zM168.1 19.4h1.0v1.0h-1.0zM187.8 17.6h0.7v0.7h-0.7zM163.6 23.3h0.9v0.9h-0.9zM186.8 17.8h1.0v1.0h-1.0zM169.0 19.0h1.0v1.0h-1.0zM169.5 18.4h1.0v1.0h-1.0zM172.4 19.0h1.0v1.0h-1.0zM176.5 18.5h0.7v0.7h-0.7zM182.6 19.9h0.7v0.7h-0.7zM186.5 18.3h0.7v0.7h-0.7zM176.0 22.8h0.7v0.7h-0.7zM167.9 19.0h0.9v0.9h-0.9zM181.8 20.1h1.0v1.0h-1.0zM185.9 17.8h1.0v1.0h-1.0zM162.8 19.9h1.0v1.0h-1.0zM172.5 18.5h0.7v0.7h-0.7zM167.8 18.6h0.9v0.9h-0.9zM188.0 24.3h0.7v0.7h-0.7zM187.4 18.5h1.0v1.0h-1.0zM176.1 19.7h0.7v0.7h-0.7zM168.2 18.3h0.7v0.7h-0.7zM163.3 22.7h0.9v0.9h-0.9zM162.3 22.1h0.7v0.7h-0.7zM181.2 19.2h0.7v0.7h-0.7zM187.6 147.9h0.9v0.9h-0.9zM184.1 140.9h1.0v1.0h-1.0zM173.0 147.9h0.7v0.7h-0.7zM171.1 146.8h1.0v1.0h-1.0zM179.9 147.0h1.0v1.0h-1.0zM168.7 140.1h0.9v0.9h-0.9zM187.6 147.4h1.0v1.0h-1.0zM168.1 142.1h0.7v0.7h-0.7zM166.8 142.9h1.0v1.0h-1.0zM183.9 148.4h0.9v0.9h-0.9zM185.8 146.7h0.9v0.9h-0.9zM186.5 145.8h0.7v0.7h-0.7zM174.3 146.6h0.9v0.9h-0.9zM180.4 147.7h1.0v1.0h-1.0zM176.2 145.9h0.9v0.9h-0.9zM165.4 148.1h1.0v1.0h-1.0zM170.4 147.0h0.7v0.7h-0.7zM175.3 147.2h1.0v1.0h-1.0zM168.9 147.7h0.7v0.7h-0.7zM177.3 147.5h1.0v1.0h-1.0zM180.0 147.9h1.0v1.0h-1.0zM164.1 146.9h0.9v0.9h-0.9zM179.3 144.4h0.9v0.9h-0.9zM185.5 145.4h1.0v1.0h-1.0zM180.0 143.6h1.0v1.0h-1.0zM175.2 148.4h1.0v1.0h-1.0zM162.8 148.5h0.7v0.7h-0.7zM169.2 148.1h0.9v0.9h-0.9zM178.8 145.4h0.7v0.7h-0.7zM174.3 147.4h0.7v0.7h-0.7zM171.3 143.4h1.0v1.0h-1.0zM163.5 147.0h0.7v0.7h-0.7zM172.6 134.5h0.7v0.7h-0.7zM193.9 17.7h0.9v0.9h-0.9zM191.6 19.8h1.0v1.0h-1.0zM206.8 17.7h0.9v0.9h-0.9zM198.0 25.4h1.0v1.0h-1.0zM206.6 26.5h0.7v0.7h-0.7zM215.9 20.2h1.0v1.0h-1.0zM202.5 19.0h0.9v0.9h-0.9zM199.4 18.8h0.7v0.7h-0.7zM193.8 22.6h1.0v1.0h-1.0zM203.7 24.0h0.7v0.7h-0.7zM215.8 19.6h1.0v1.0h-1.0zM212.7 20.3h0.9v0.9h-0.9zM220.3 21.5h0.9v0.9h-0.9zM219.4 25.3h0.9v0.9h-0.9zM216.8 19.8h0.9v0.9h-0.9zM198.5 19.8h1.0v1.0h-1.0zM212.0 18.3h0.7v0.7h-0.7zM216.3 17.8h1.0v1.0h-1.0zM217.0 18.1h1.0v1.0h-1.0zM198.8 17.6h0.9v0.9h-0.9zM194.7 18.1h0.9v0.9h-0.9zM193.2 17.8h0.9v0.9h-0.9zM207.5 20.6h0.7v0.7h-0.7zM193.2 17.7h0.9v0.9h-0.9zM217.4 20.5h0.9v0.9h-0.9zM208.8 17.9h0.9v0.9h-0.9zM216.9 25.3h0.9v0.9h-0.9zM199.9 18.3h1.0v1.0h-1.0zM204.3 18.8h0.9v0.9h-0.9zM204.1 24.2h1.0v1.0h-1.0zM204.2 18.5h0.7v0.7h-0.7zM216.4 18.7h0.9v0.9h-0.9zM219.6 17.8h1.0v1.0h-1.0zM214.6 18.7h0.7v0.7h-0.7zM195.7 21.2h1.0v1.0h-1.0zM194.8 18.2h1.0v1.0h-1.0zM198.3 20.3h1.0v1.0h-1.0zM212.2 21.8h0.9v0.9h-0.9zM196.5 21.5h1.0v1.0h-1.0zM203.1 19.5h1.0v1.0h-1.0zM214.2 19.7h0.7v0.7h-0.7zM202.2 18.1h0.9v0.9h-0.9zM204.4 20.1h0.9v0.9h-0.9zM208.9 18.8h0.9v0.9h-0.9zM217.7 17.8h1.0v1.0h-1.0zM193.1 18.0h1.0v1.0h-1.0zM213.1 25.9h0.7v0.7h-0.7zM191.7 17.7h0.9v0.9h-0.9zM197.2 146.9h1.0v1.0h-1.0zM207.3 147.7h1.0v1.0h-1.0zM199.2 147.2h0.7v0.7h-0.7zM212.1 146.9h0.7v0.7h-0.7zM212.6 147.6h1.0v1.0h-1.0zM209.1 145.8h0.9v0.9h-0.9zM210.0 147.6h1.0v1.0h-1.0zM216.6 142.0h1.0v1.0h-1.0zM209.6 147.5h0.7v0.7h-0.7zM213.7 147.5h1.0v1.0h-1.0zM214.4 145.3h1.0v1.0h-1.0zM193.0 143.9h0.9v0.9h-0.9zM216.4 145.3h0.7v0.7h-0.7zM203.8 144.9h1.0v1.0h-1.0zM220.4 148.6h1.0v1.0h-1.0zM208.8 144.6h0.9v0.9h-0.9zM196.6 144.9h0.7v0.7h-0.7zM218.5 144.0h1.0v1.0h-1.0zM211.9 147.1h1.0v1.0h-1.0zM196.3 146.2h1.0v1.0h-1.0zM200.0 143.9h1.0v1.0h-1.0zM199.0 145.4h0.9v0.9h-0.9zM207.2 146.1h0.7v0.7h-0.7zM200.9 146.9h1.0v1.0h-1.0zM220.2 141.7h1.0v1.0h-1.0zM195.2 142.3h0.7v0.7h-0.7zM209.1 139.9h0.9v0.9h-0.9zM199.1 146.7h0.7v0.7h-0.7zM214.9 144.8h0.7v0.7h-0.7zM216.0 140.9h0.9v0.9h-0.9zM199.5 147.8h0.7v0.7h-0.7zM219.7 143.6h0.7v0.7h-0.7zM205.1 148.1h0.7v0.7h-0.7zM214.3 148.5h0.7v0.7h-0.7zM194.7 141.1h1.0v1.0h-1.0zM192.6 145.6h0.7v0.7h-0.7zM230.2 18.0h0.9v0.9h-0.9zM226.4 22.8h0.9v0.9h-0.9zM250.2 20.3h0.7v0.7h-0.7zM227.6 20.0h0.7v0.7h-0.7zM233.0 20.2h1.0v1.0h-1.0zM245.1 19.9h0.7v0.7h-0.7zM232.2 23.0h1.0v1.0h-1.0zM245.6 17.7h0.7v0.7h-0.7zM245.6 18.6h0.9v0.9h-0.9zM225.6 23.3h0.7v0.7h-0.7zM243.8 19.8h1.0v1.0h-1.0zM249.0 25.8h0.9v0.9h-0.9zM235.9 17.9h1.0v1.0h-1.0zM229.4 20.5h0.7v0.7h-0.7zM237.3 23.7h0.7v0.7h-0.7zM233.3 21.1h0.7v0.7h-0.7zM250.7 22.3h0.7v0.7h-0.7zM230.8 18.9h0.7v0.7h-0.7zM232.3 20.3h1.0v1.0h-1.0zM229.4 20.3h0.7v0.7h-0.7zM242.8 19.4h1.0v1.0h-1.0zM226.7 20.7h0.9v0.9h-0.9zM248.1 19.2h0.9v0.9h-0.9zM224.7 18.6h1.0v1.0h-1.0zM232.0 28.2h0.7v0.7h-0.7zM246.4 18.4h0.9v0.9h-0.9zM230.3 17.6h0.9v0.9h-0.9zM244.6 18.0h0.9v0.9h-0.9zM225.7 22.1h0.9v0.9h-0.9zM226.0 17.9h0.9v0.9h-0.9zM227.1 20.7h1.0v1.0h-1.0zM241.7 22.1h0.7v0.7h-0.7zM229.2 18.9h1.0v1.0h-1.0zM232.2 21.4h1.0v1.0h-1.0zM244.1 17.7h0.9v0.9h-0.9zM248.8 24.1h1.0v1.0h-1.0zM238.0 18.8h0.7v0.7h-0.7zM242.5 18.4h0.7v0.7h-0.7zM225.2 20.9h1.0v1.0h-1.0zM250.5 21.5h0.7v0.7h-0.7zM226.1 17.6h0.9v0.9h-0.9zM232.6 18.7h0.9v0.9h-0.9zM232.7 20.1h1.0v1.0h-1.0zM230.3 19.0h1.0v1.0h-1.0zM230.8 18.8h0.7v0.7h-0.7zM248.9 141.4h0.9v0.9h-0.9zM229.4 146.8h0.9v0.9h-0.9zM244.6 145.1h0.7v0.7h-0.7zM239.7 140.2h0.7v0.7h-0.7zM240.4 147.9h1.0v1.0h-1.0zM235.4 147.6h0.9v0.9h-0.9zM240.4 148.4h0.7v0.7h-0.7zM243.4 147.9h0.9v0.9h-0.9zM241.8 147.2h0.7v0.7h-0.7zM234.6 144.3h0.7v0.7h-0.7zM248.2 145.6h0.7v0.7h-0.7zM241.4 138.9h0.7v0.7h-0.7zM247.0 147.6h0.7v0.7h-0.7zM230.2 145.7h0.9v0.9h-0.9zM236.4 147.0h1.0v1.0h-1.0zM232.1 147.7h0.9v0.9h-0.9zM237.1 143.1h0.9v0.9h-0.9zM237.0 147.7h0.9v0.9h-0.9zM230.5 142.3h0.7v0.7h-0.7zM230.4 142.6h0.9v0.9h-0.9zM249.3 143.6h0.9v0.9h-0.9zM243.2 142.3h0.9v0.9h-0.9zM224.3 146.2h0.9v0.9h-0.9zM224.6 144.8h0.7v0.7h-0.7zM234.7 148.3h1.0v1.0h-1.0zM240.5 147.5h0.7v0.7h-0.7zM232.7 145.9h1.0v1.0h-1.0zM235.2 145.1h1.0v1.0h-1.0zM225.5 147.5h1.0v1.0h-1.0zM235.5 148.1h1.0v1.0h-1.0zM231.0 145.5h0.7v0.7h-0.7zM246.8 147.0h1.0v1.0h-1.0zM227.8 148.5h0.9v0.9h-0.9zM247.3 146.4h1.0v1.0h-1.0zM256.0 18.6h0.7v0.7h-0.7zM275.6 18.7h1.0v1.0h-1.0zM266.2 20.2h1.0v1.0h-1.0zM264.8 17.9h1.0v1.0h-1.0zM262.4 20.6h0.7v0.7h-0.7zM264.9 22.6h0.9v0.9h-0.9zM272.7 22.1h0.9v0.9h-0.9zM268.5 18.3h0.7v0.7h-0.7zM259.7 18.4h0.7v0.7h-0.7zM257.5 18.4h0.9v0.9h-0.9zM268.8 18.6h0.9v0.9h-0.9zM270.9 19.4h0.9v0.9h-0.9zM265.6 18.0h1.0v1.0h-1.0zM262.3 17.6h1.0v1.0h-1.0zM260.1 21.2h0.9v0.9h-0.9zM255.6 18.1h1.0v1.0h-1.0zM257.9 18.1h1.0v1.0h-1.0zM268.5 20.5h1.0v1.0h-1.0zM266.0 17.7h0.9v0.9h-0.9zM268.6 20.7h1.0v1.0h-1.0zM262.7 20.3h0.7v0.7h-0.7zM254.7 24.6h0.9v0.9h-0.9zM267.9 18.2h0.7v0.7h-0.7zM255.5 19.3h1.0v1.0h-1.0zM260.9 20.7h0.9v0.9h-0.9zM257.7 20.1h0.9v0.9h-0.9zM259.0 18.6h0.9v0.9h-0.9zM273.2 21.1h1.0v1.0h-1.0zM267.5 18.9h1.0v1.0h-1.0zM259.6 20.5h0.7v0.7h-0.7zM265.4 17.7h0.7v0.7h-0.7zM259.6 21.4h0.7v0.7h-0.7zM257.1 20.5h1.0v1.0h-1.0zM258.3 18.4h0.7v0.7h-0.7zM267.5 18.9h0.7v0.7h-0.7zM272.6 21.2h0.9v0.9h-0.9zM260.2 143.3h0.9v0.9h-0.9zM270.7 147.4h0.7v0.7h-0.7zM259.8 147.7h0.9v0.9h-0.9zM264.2 148.1h1.0v1.0h-1.0zM261.4 147.2h0.7v0.7h-0.7zM259.3 144.4h0.7v0.7h-0.7zM263.5 147.6h0.9v0.9h-0.9zM260.9 148.6h1.0v1.0h-1.0zM268.5 146.7h0.9v0.9h-0.9zM271.5 141.9h0.9v0.9h-0.9zM270.2 141.0h1.0v1.0h-1.0zM264.2 148.0h0.9v0.9h-0.9zM272.5 147.6h0.7v0.7h-0.7zM255.3 145.0h1.0v1.0h-1.0zM261.0 147.3h0.9v0.9h-0.9zM269.1 148.2h0.9v0.9h-0.9zM254.6 146.0h0.7v0.7h-0.7zM275.6 143.1h0.9v0.9h-0.9zM262.0 145.4h0.7v0.7h-0.7zM267.2 145.3h0.9v0.9h-0.9zM264.7 144.0h0.7v0.7h-0.7zM261.9 140.6h1.0v1.0h-1.0zM274.7 148.5h0.7v0.7h-0.7zM268.5 144.6h0.7v0.7h-0.7zM259.5 140.5h0.7v0.7h-0.7zM253.6 147.7h0.7v0.7h-0.7zM254.7 147.6h1.0v1.0h-1.0zM284.6 17.8h0.7v0.7h-0.7zM303.5 18.5h0.7v0.7h-0.7zM281.3 18.2h0.7v0.7h-0.7zM304.1 18.3h0.9v0.9h-0.9zM301.5 19.5h1.0v1.0h-1.0zM281.0 19.5h0.7v0.7h-0.7zM281.3 18.1h0.7v0.7h-0.7zM304.4 21.0h0.7v0.7h-0.7zM301.8 27.1h1.0v1.0h-1.0zM317.6 30.4h0.9v0.9h-0.9zM300.9 18.2h1.0v1.0h-1.0zM298.4 21.9h1.0v1.0h-1.0zM308.7 18.3h0.7v0.7h-0.7zM302.0 18.0h0.9v0.9h-0.9zM310.1 18.9h0.9v0.9h-0.9zM307.2 26.0h0.9v0.9h-0.9zM307.0 35.2h0.7v0.7h-0.7zM311.1 17.7h0.9v0.9h-0.9zM315.3 19.3h1.0v1.0h-1.0zM309.2 20.0h0.9v0.9h-0.9zM284.9 18.2h0.9v0.9h-0.9zM301.2 20.2h0.7v0.7h-0.7zM304.4 18.5h1.0v1.0h-1.0zM282.0 18.3h0.9v0.9h-0.9zM300.2 20.7h0.9v0.9h-0.9zM299.4 17.8h0.7v0.7h-0.7zM305.5 17.8h1.0v1.0h-1.0zM291.1 18.3h0.7v0.7h-0.7zM321.2 19.3h0.9v0.9h-0.9zM288.7 17.9h1.0v1.0h-1.0zM280.4 18.9h0.7v0.7h-0.7zM318.3 17.6h0.9v0.9h-0.9zM318.1 18.9h0.9v0.9h-0.9zM279.4 20.5h1.0v1.0h-1.0zM296.9 26.8h1.0v1.0h-1.0zM321.1 19.9h0.7v0.7h-0.7zM319.7 20.6h0.7v0.7h-0.7zM306.0 18.7h0.7v0.7h-0.7zM297.1 21.0h0.9v0.9h-0.9zM284.5 18.4h1.0v1.0h-1.0zM294.6 17.9h0.7v0.7h-0.7zM281.3 25.8h0.9v0.9h-0.9zM294.0 17.7h0.9v0.9h-0.9zM287.7 19.4h0.7v0.7h-0.7zM285.5 18.2h1.0v1.0h-1.0zM292.8 20.9h0.9v0.9h-0.9zM313.7 22.2h1.0v1.0h-1.0zM302.9 19.6h0.7v0.7h-0.7zM290.3 27.4h1.0v1.0h-1.0zM320.8 21.6h1.0v1.0h-1.0zM291.8 22.0h1.0v1.0h-1.0zM285.9 19.8h0.9v0.9h-0.9zM309.2 22.4h0.7v0.7h-0.7zM312.2 21.1h0.7v0.7h-0.7zM291.9 20.7h1.0v1.0h-1.0zM293.6 28.3h0.7v0.7h-0.7zM316.6 19.3h0.7v0.7h-0.7zM315.1 18.9h0.9v0.9h-0.9zM287.3 18.8h1.0v1.0h-1.0zM278.5 19.3h0.9v0.9h-0.9zM291.4 18.1h1.0v1.0h-1.0zM319.7 20.6h1.0v1.0h-1.0zM292.4 18.7h0.7v0.7h-0.7zM280.4 17.7h0.7v0.7h-0.7zM304.0 18.7h1.0v1.0h-1.0zM279.8 22.1h1.0v1.0h-1.0zM317.0 18.5h0.7v0.7h-0.7zM309.1 18.4h0.7v0.7h-0.7zM283.8 21.5h0.9v0.9h-0.9zM289.8 23.6h0.9v0.9h-0.9zM279.9 148.3h1.0v1.0h-1.0zM296.2 147.8h1.0v1.0h-1.0zM303.3 146.3h0.7v0.7h-0.7zM278.5 148.1h0.9v0.9h-0.9zM308.7 141.4h0.7v0.7h-0.7zM321.2 137.9h0.9v0.9h-0.9zM281.5 146.0h0.7v0.7h-0.7zM302.1 142.9h0.7v0.7h-0.7zM320.9 147.2h1.0v1.0h-1.0zM308.1 139.6h0.7v0.7h-0.7zM283.8 146.0h1.0v1.0h-1.0zM316.0 148.2h0.7v0.7h-0.7zM303.8 127.1h0.9v0.9h-0.9zM278.5 148.2h0.7v0.7h-0.7zM280.9 146.9h1.0v1.0h-1.0zM296.8 147.2h1.0v1.0h-1.0zM283.9 147.0h0.9v0.9h-0.9zM311.9 147.4h0.9v0.9h-0.9zM286.2 147.7h0.9v0.9h-0.9zM288.1 143.3h0.9v0.9h-0.9zM280.8 148.6h1.0v1.0h-1.0zM320.8 148.6h1.0v1.0h-1.0zM288.8 145.1h1.0v1.0h-1.0zM304.7 147.2h1.0v1.0h-1.0zM314.8 145.9h0.7v0.7h-0.7zM309.3 148.1h0.9v0.9h-0.9zM320.8 148.3h1.0v1.0h-1.0zM288.1 147.5h1.0v1.0h-1.0zM301.3 144.2h1.0v1.0h-1.0zM281.8 146.2h0.7v0.7h-0.7zM286.0 148.3h0.7v0.7h-0.7zM307.8 141.3h1.0v1.0h-1.0zM281.6 146.9h0.7v0.7h-0.7zM280.9 145.5h0.9v0.9h-0.9zM292.3 143.5h1.0v1.0h-1.0zM292.2 146.6h1.0v1.0h-1.0zM306.2 148.0h0.9v0.9h-0.9zM293.1 144.9h0.9v0.9h-0.9zM308.0 146.9h0.7v0.7h-0.7zM287.9 147.6h1.0v1.0h-1.0zM319.1 148.2h0.9v0.9h-0.9zM308.5 145.9h0.7v0.7h-0.7zM314.5 147.6h1.0v1.0h-1.0zM283.0 145.8h0.7v0.7h-0.7zM318.5 145.2h1.0v1.0h-1.0zM297.6 141.9h0.9v0.9h-0.9zM296.7 148.2h0.9v0.9h-0.9zM299.8 144.8h0.7v0.7h-0.7zM302.5 148.2h1.0v1.0h-1.0zM300.1 147.0h0.7v0.7h-0.7zM303.6 142.1h0.9v0.9h-0.9zM301.1 148.0h1.0v1.0h-1.0zM328.1 17.7h0.7v0.7h-0.7zM328.8 19.7h1.0v1.0h-1.0zM332.3 19.1h0.7v0.7h-0.7zM323.9 25.7h1.0v1.0h-1.0zM343.6 20.6h1.0v1.0h-1.0zM325.7 17.7h1.0v1.0h-1.0zM329.3 18.9h1.0v1.0h-1.0zM326.7 18.4h0.9v0.9h-0.9zM331.2 23.3h1.0v1.0h-1.0zM325.2 20.7h0.7v0.7h-0.7zM338.8 18.7h0.9v0.9h-0.9zM337.7 21.4h0.9v0.9h-0.9zM330.2 19.0h0.9v0.9h-0.9zM337.6 20.1h1.0v1.0h-1.0zM337.2 21.1h0.9v0.9h-0.9zM325.4 18.0h0.7v0.7h-0.7zM328.9 24.5h0.7v0.7h-0.7zM343.6 18.3h0.9v0.9h-0.9zM329.7 19.4h1.0v1.0h-1.0zM335.3 21.1h0.7v0.7h-0.7zM338.1 18.9h1.0v1.0h-1.0zM324.5 27.3h1.0v1.0h-1.0zM344.2 19.3h1.0v1.0h-1.0zM329.9 24.7h0.7v0.7h-0.7zM337.0 24.8h0.9v0.9h-0.9zM331.6 22.9h0.9v0.9h-0.9zM328.4 24.7h0.7v0.7h-0.7zM329.9 19.4h0.9v0.9h-0.9zM339.3 20.1h1.0v1.0h-1.0zM337.6 18.0h1.0v1.0h-1.0zM333.0 18.3h0.7v0.7h-0.7zM343.1 22.6h1.0v1.0h-1.0zM337.8 19.2h1.0v1.0h-1.0zM326.8 17.8h1.0v1.0h-1.0zM338.4 148.5h0.7v0.7h-0.7zM339.4 146.4h1.0v1.0h-1.0zM333.4 141.4h0.9v0.9h-0.9zM333.6 148.5h0.9v0.9h-0.9zM332.7 145.5h1.0v1.0h-1.0zM330.9 145.1h0.7v0.7h-0.7zM339.6 147.7h1.0v1.0h-1.0zM333.3 142.4h0.9v0.9h-0.9zM343.9 145.9h0.9v0.9h-0.9zM329.5 147.0h0.7v0.7h-0.7zM343.1 146.9h1.0v1.0h-1.0zM337.7 147.7h0.7v0.7h-0.7zM334.3 141.8h0.7v0.7h-0.7zM327.1 147.8h0.7v0.7h-0.7zM332.3 148.5h0.9v0.9h-0.9zM332.0 148.2h0.7v0.7h-0.7zM327.3 146.0h0.9v0.9h-0.9zM340.1 141.4h0.9v0.9h-0.9zM336.2 147.7h0.9v0.9h-0.9zM344.2 148.2h0.9v0.9h-0.9zM329.6 145.5h1.0v1.0h-1.0zM332.4 148.4h1.0v1.0h-1.0zM337.8 148.3h0.7v0.7h-0.7zM334.5 143.9h0.7v0.7h-0.7zM342.8 147.4h0.9v0.9h-0.9zM73.4 116.0h0.9v1.3h-0.9zM73.5 122.0h0.9v0.8h-0.9zM73.7 125.0h0.9v0.8h-0.9zM73.8 129.0h0.9v1.3h-0.9zM73.6 131.0h0.9v1.3h-0.9zM73.6 133.0h0.9v1.3h-0.9zM73.4 135.0h0.9v0.8h-0.9zM73.5 136.0h0.9v1.0h-0.9zM73.3 138.0h0.9v0.8h-0.9zM73.3 145.0h0.9v1.0h-0.9zM75.8 114.0h0.9v1.0h-0.9zM76.1 117.0h0.9v0.8h-0.9zM75.9 118.0h0.9v0.8h-0.9zM76.3 119.0h0.9v1.3h-0.9zM75.9 132.0h0.9v0.8h-0.9zM76.2 134.0h0.9v0.8h-0.9zM76.1 137.0h0.9v1.0h-0.9zM75.8 146.0h0.9v1.3h-0.9zM76.1 147.0h0.9v1.0h-0.9zM129.8 103.0h0.9v0.8h-0.9zM129.9 108.0h0.9v0.8h-0.9zM130.1 113.0h0.9v1.3h-0.9zM130.0 115.0h0.9v1.3h-0.9zM130.3 117.0h0.9v0.8h-0.9zM129.7 121.0h0.9v1.0h-0.9zM130.3 134.0h0.9v0.8h-0.9zM130.2 135.0h0.9v1.0h-0.9zM130.3 137.0h0.9v0.8h-0.9zM130.3 141.0h0.9v1.3h-0.9zM130.2 146.0h0.9v0.8h-0.9zM129.7 147.0h0.9v1.0h-0.9zM129.9 148.0h0.9v0.8h-0.9zM132.8 113.0h0.9v0.8h-0.9zM132.8 116.0h0.9v1.3h-0.9zM133.1 119.0h0.9v0.8h-0.9zM132.8 121.0h0.9v0.8h-0.9zM133.1 122.0h0.9v1.0h-0.9zM133.4 124.0h0.9v1.3h-0.9zM133.0 126.0h0.9v0.8h-0.9zM133.0 128.0h0.9v1.0h-0.9zM133.4 133.0h0.9v1.0h-0.9zM133.3 139.0h0.9v1.3h-0.9zM133.0 140.0h0.9v1.0h-0.9zM133.4 141.0h0.9v0.8h-0.9zM132.8 142.0h0.9v0.8h-0.9zM147.4 111.0h0.9v1.3h-0.9zM147.8 122.0h0.9v1.3h-0.9zM147.3 147.0h0.9v0.8h-0.9zM170.5 133.0h0.9v1.3h-0.9zM170.9 143.0h0.9v1.0h-0.9zM170.5 144.0h0.9v1.3h-0.9zM170.8 145.0h0.9v1.0h-0.9zM182.2 130.0h0.9v1.3h-0.9zM182.4 138.0h0.9v1.0h-0.9zM182.2 141.0h0.9v1.0h-0.9zM182.2 143.0h0.9v1.0h-0.9zM208.7 135.0h0.9v0.8h-0.9zM208.2 136.0h0.9v1.0h-0.9zM208.4 137.0h0.9v0.8h-0.9zM208.2 138.0h0.9v1.3h-0.9zM208.3 140.0h0.9v1.3h-0.9zM208.6 141.0h0.9v1.0h-0.9zM208.5 143.0h0.9v1.3h-0.9zM208.8 145.0h0.9v1.0h-0.9zM208.7 148.0h0.9v1.0h-0.9zM208.3 149.0h0.9v1.3h-0.9zM225.0 110.0h0.9v1.3h-0.9zM225.5 112.0h0.9v1.3h-0.9zM225.0 116.0h0.9v1.3h-0.9zM225.4 118.0h0.9v1.3h-0.9zM225.4 129.0h0.9v0.8h-0.9zM225.5 135.0h0.9v1.3h-0.9zM225.5 137.0h0.9v0.8h-0.9zM225.1 140.0h0.9v0.8h-0.9zM225.3 141.0h0.9v1.3h-0.9zM225.3 143.0h0.9v1.0h-0.9zM225.5 145.0h0.9v0.8h-0.9zM225.2 147.0h0.9v1.0h-0.9zM263.0 112.0h0.9v0.8h-0.9zM263.0 114.0h0.9v1.0h-0.9zM263.1 122.0h0.9v1.0h-0.9zM263.1 125.0h0.9v0.8h-0.9zM263.1 129.0h0.9v1.0h-0.9zM263.0 135.0h0.9v1.0h-0.9zM263.1 137.0h0.9v1.3h-0.9zM263.1 140.0h0.9v1.0h-0.9zM263.0 142.0h0.9v0.8h-0.9zM263.0 149.0h0.9v1.0h-0.9zM270.0 111.0h0.9v1.0h-0.9zM270.4 116.0h0.9v1.0h-0.9zM270.0 121.0h0.9v0.8h-0.9zM270.3 122.0h0.9v0.8h-0.9zM269.8 126.0h0.9v0.8h-0.9zM270.0 131.0h0.9v1.3h-0.9zM269.9 136.0h0.9v1.0h-0.9zM269.9 137.0h0.9v1.0h-0.9zM270.2 141.0h0.9v1.3h-0.9zM270.0 143.0h0.9v1.3h-0.9zM270.1 148.0h0.9v1.3h-0.9zM300.3 103.0h0.9v1.0h-0.9zM300.3 104.0h0.9v0.8h-0.9zM300.2 105.0h0.9v0.8h-0.9zM300.2 106.0h0.9v0.8h-0.9zM300.5 107.0h0.9v0.8h-0.9zM300.0 108.0h0.9v1.3h-0.9zM300.0 109.0h0.9v1.0h-0.9zM300.7 110.0h0.9v1.3h-0.9zM300.3 111.0h0.9v1.3h-0.9zM300.0 112.0h0.9v1.0h-0.9zM300.3 113.0h0.9v1.3h-0.9zM300.1 114.0h0.9v1.0h-0.9zM300.4 115.0h0.9v1.3h-0.9zM300.5 116.0h0.9v0.8h-0.9zM300.6 117.0h0.9v1.3h-0.9zM300.6 118.0h0.9v0.8h-0.9zM300.7 119.0h0.9v1.3h-0.9zM300.4 120.0h0.9v1.0h-0.9zM300.6 121.0h0.9v1.0h-0.9zM300.4 122.0h0.9v1.0h-0.9zM300.1 124.0h0.9v1.0h-0.9zM300.3 125.0h0.9v0.8h-0.9zM300.3 126.0h0.9v1.3h-0.9zM300.3 127.0h0.9v1.3h-0.9zM300.5 128.0h0.9v1.3h-0.9zM300.5 129.0h0.9v0.8h-0.9zM300.3 130.0h0.9v1.0h-0.9zM300.3 131.0h0.9v1.0h-0.9zM300.6 132.0h0.9v0.8h-0.9zM300.1 133.0h0.9v0.8h-0.9zM300.1 134.0h0.9v1.3h-0.9zM300.1 135.0h0.9v0.8h-0.9zM300.1 136.0h0.9v0.8h-0.9zM300.6 137.0h0.9v1.0h-0.9zM300.2 139.0h0.9v0.8h-0.9zM300.6 140.0h0.9v1.3h-0.9zM300.0 141.0h0.9v0.8h-0.9zM300.1 142.0h0.9v0.8h-0.9zM300.7 143.0h0.9v1.0h-0.9zM300.6 144.0h0.9v1.3h-0.9zM300.3 145.0h0.9v0.8h-0.9zM300.4 147.0h0.9v1.0h-0.9zM300.4 148.0h0.9v1.3h-0.9zM300.1 149.0h0.9v1.3h-0.9zM300.7 150.0h0.9v1.0h-0.9zM300.6 151.0h0.9v1.0h-0.9zM301.4 139.0h0.9v0.8h-0.9zM301.0 140.0h0.9v1.3h-0.9zM301.4 141.0h0.9v0.8h-0.9zM301.4 143.0h0.9v0.8h-0.9zM301.3 147.0h0.9v0.8h-0.9zM301.4 148.0h0.9v1.0h-0.9zM301.4 149.0h0.9v1.0h-0.9zM279.5 124.0h0.9v1.3h-0.9zM279.8 125.0h0.9v0.8h-0.9zM279.2 127.0h0.9v0.8h-0.9zM279.2 128.0h0.9v0.8h-0.9zM279.4 134.0h0.9v0.8h-0.9zM279.8 137.0h0.9v0.8h-0.9zM279.3 141.0h0.9v0.8h-0.9zM279.6 142.0h0.9v1.0h-0.9zM279.8 143.0h0.9v1.3h-0.9zM329.4 108.0h0.9v0.8h-0.9zM329.4 109.0h0.9v0.8h-0.9zM329.6 115.0h0.9v1.3h-0.9zM329.2 119.0h0.9v1.3h-0.9zM329.2 129.0h0.9v1.3h-0.9zM329.0 131.0h0.9v0.8h-0.9zM329.0 135.0h0.9v1.0h-0.9zM329.1 140.0h0.9v0.8h-0.9zM329.0 142.0h0.9v1.0h-0.9zM329.0 143.0h0.9v1.0h-0.9zM329.2 148.0h0.9v0.8h-0.9zM330.3 140.0h0.9v1.3h-0.9zM330.5 144.0h0.9v0.8h-0.9zM330.4 145.0h0.9v1.3h-0.9zM330.6 146.0h0.9v0.8h-0.9zM330.7 147.0h0.9v1.3h-0.9zM330.7 149.0h0.9v1.0h-0.9zM330.6 150.0h0.9v0.8h-0.9zM330.7 151.0h0.9v0.8h-0.9z"/><rect x="34.1" y="87.25" width="29.7" height="1.3" fill="#fff" fill-opacity="0.35"/><rect x="65.4" y="87.25" width="31.5" height="1.3" fill="#fff" fill-opacity="0.35"/><rect x="98.2" y="87.25" width="38.2" height="1.3" fill="#fff" fill-opacity="0.35"/><rect x="137.6" y="87.25" width="22.9" height="1.3" fill="#fff" fill-opacity="0.35"/><rect x="161.9" y="87.25" width="28.3" height="1.3" fill="#fff" fill-opacity="0.35"/><rect x="191.5" y="87.25" width="30.1" height="1.3" fill="#fff" fill-opacity="0.35"/><rect x="223.2" y="87.25" width="28.7" height="1.3" fill="#fff" fill-opacity="0.35"/><rect x="253.5" y="87.25" width="23.1" height="1.3" fill="#fff" fill-opacity="0.35"/><rect x="278.2" y="87.25" width="44" height="1.3" fill="#fff" fill-opacity="0.35"/><rect x="323.9" y="87.25" width="21.4" height="1.3" fill="#fff" fill-opacity="0.35"/><line x1="34.1" y1="87.3" x2="63.8" y2="87.3" stroke="#E0E0E0" stroke-width="0.9" stroke-dasharray="2.2 2.11" stroke-dashoffset="16.4" stroke-opacity="0.6"/><line x1="65.4" y1="87.3" x2="96.9" y2="87.3" stroke="#E0E0E0" stroke-width="0.9" stroke-dasharray="2.2 2.11" stroke-dashoffset="47.7" stroke-opacity="0.6"/><line x1="98.2" y1="87.3" x2="136.4" y2="87.3" stroke="#E0E0E0" stroke-width="0.9" stroke-dasharray="2.2 2.11" stroke-dashoffset="80.5" stroke-opacity="0.6"/><line x1="137.6" y1="87.3" x2="160.5" y2="87.3" stroke="#E0E0E0" stroke-width="0.9" stroke-dasharray="2.2 2.11" stroke-dashoffset="119.9" stroke-opacity="0.6"/><line x1="161.9" y1="87.3" x2="190.2" y2="87.3" stroke="#E0E0E0" stroke-width="0.9" stroke-dasharray="2.2 2.11" stroke-dashoffset="144.2" stroke-opacity="0.6"/><line x1="191.5" y1="87.3" x2="221.6" y2="87.3" stroke="#E0E0E0" stroke-width="0.9" stroke-dasharray="2.2 2.11" stroke-dashoffset="173.8" stroke-opacity="0.6"/><line x1="223.2" y1="87.3" x2="251.9" y2="87.3" stroke="#E0E0E0" stroke-width="0.9" stroke-dasharray="2.2 2.11" stroke-dashoffset="205.5" stroke-opacity="0.6"/><line x1="253.5" y1="87.3" x2="276.6" y2="87.3" stroke="#E0E0E0" stroke-width="0.9" stroke-dasharray="2.2 2.11" stroke-dashoffset="235.8" stroke-opacity="0.6"/><line x1="278.2" y1="87.3" x2="322.2" y2="87.3" stroke="#E0E0E0" stroke-width="0.9" stroke-dasharray="2.2 2.11" stroke-dashoffset="260.5" stroke-opacity="0.6"/><line x1="323.9" y1="87.3" x2="345.3" y2="87.3" stroke="#E0E0E0" stroke-width="0.9" stroke-dasharray="2.2 2.11" stroke-dashoffset="306.2" stroke-opacity="0.6"/><polyline points="34.9,88.1 36.6,87 38.8,87.6 41,86.7 42.6,87 44.3,86.3 45.4,87 46.5,86.5 47.4,85.4 48.1,89.2 48.7,94.2 49.6,98 50.3,98 51.4,93.6 52.5,88.1 53.3,83.2 54.4,84.3 55.3,80.4 56.2,79.7 56.9,81 57.7,84.3 58.6,87 59.5,90.3 60.2,88.7 61.3,87 62.1,86.5 63,83.7 63.5,84.8" fill="none" stroke="#000" stroke-width="1.15" stroke-linejoin="round" stroke-linecap="round"/><polyline points="65.8,90.7 67.5,85.8 69.1,80.3 70.8,72.6 72.4,63.8 73.9,59.4 75,61 76.3,64.3 77.9,66.5 79.6,66 80.9,67.6 82.3,70.4 83.4,69.3 84.5,74.2 85.6,76.4 86.7,78.1 88.4,78.6 89.5,80.3 90.6,79.2 91.7,82.5 93.9,85.8 96.1,88.5" fill="none" stroke="#000" stroke-width="1.15" stroke-linejoin="round" stroke-linecap="round"/><polyline points="99,60.1 100.2,60.7 101.4,66.1 103.3,74 105.1,78 106.9,76.8 108.1,74.6 109.1,77 110.5,83.1 112.3,90.9 113.5,87.9 114.7,78.2 116,69.8 117.2,64.9 118.4,64.9 119.2,67.3 120.2,74.6 121.4,81.3 122.8,84.9 124.1,83.7 125.6,77.6 127.4,74.6 128.6,69.8 130.5,62.5 132.3,54 133.5,52.2 135.3,51.6" fill="none" stroke="#000" stroke-width="1.15" stroke-linejoin="round" stroke-linecap="round"/><polyline points="138.4,73.4 138.8,75.6 140.2,76.9 141.5,79.1 142.4,78.7 143.7,77.3 145,75.1 145.6,77.3 146.7,79.5 148.1,81.3 149.1,82.6 149.6,83.9 150.3,79.1 151.6,76.9 152.6,72.9 153.5,68.5 154.7,66.4 156,63.3 157,65.9 157.9,69 159.1,69.9 159.7,77.3" fill="none" stroke="#000" stroke-width="1.15" stroke-linejoin="round" stroke-linecap="round"/><polyline points="162.5,97.7 163.4,96.2 164.4,94.8 165.4,90.8 166.1,86.8 167.1,88.8 167.9,90.3 168.7,91.3 169.7,97.7 170.4,99.7 171.7,98.7 172.9,99.2 173.8,97.2 175,92.8 175.6,88.3 176.3,90.8 177.3,96.2 178.3,101.7 179.6,105.1 180.8,104.2 181.8,102.7 183.2,102.2 184.7,102.2 185.9,98.7 186.7,92.8 187.7,84.9 188.7,77.9 189.7,74" fill="none" stroke="#000" stroke-width="1.15" stroke-linejoin="round" stroke-linecap="round"/><polyline points="192.5,114.2 193.9,112.5 194.8,108 195.9,100.1 197,91.1 198.1,83.2 199.3,77.5 201,71.9 202.7,68.5 204.3,66.3 206,65.1 207.2,64.6 208.1,65.7 208.9,71.3 210,70.8 211.1,69.7 212.8,70.2 214.5,71.9 215.6,73 216.7,73.6 217.9,76.4 219,78.7 220.1,80.4 220.9,85.4" fill="none" stroke="#000" stroke-width="1.15" stroke-linejoin="round" stroke-linecap="round"/><polyline points="223.1,91.4 224.6,89.9 226.1,88.3 227.6,83.8 228.9,88.3 229.9,90.6 231,92.2 233,86.8 234.5,83 236,82.2 237.6,80.7 239.1,77.6 240.6,73.1 242.1,65.4 243.2,57.8 244.4,52.5 245.6,47.1 246.7,45.3 247.6,42.5 248.5,39.5 249.6,38.9 250.6,38.9" fill="none" stroke="#000" stroke-width="1.15" stroke-linejoin="round" stroke-linecap="round"/><polyline points="254.5,84.8 255.4,86 256.2,86.4 257.4,86.9 258.2,83.6 259.2,82.7 260.1,84.4 260.9,81.1 261.7,79 262.4,77.8 263.2,78.2 264,74.5 264.8,72.7 266.1,72.4 267.3,74.1 268.5,75.3 269.6,74.9 270.6,72.8 271.6,68.7 272.4,67.1 273.5,67.9 274.6,68.7 275.4,71.2" fill="none" stroke="#000" stroke-width="1.15" stroke-linejoin="round" stroke-linecap="round"/><polyline points="278.6,73.7 279.7,68.5 281,62.5 282.6,59.2 283.7,58.6 285,61.9 286.6,67.2 288.5,74.4 290.5,78.4 292.5,77.7 294.5,75.1 296.4,71.8 298.4,67.8 300,64.5 301.1,63.2 302.4,73.1 303.7,78.4 305.3,77 307,76.4 308.7,76.1 310,74.4 311.6,72.4 313.2,70.8 314.5,73.1 316.2,77.7 318,82.3 319.8,86.3 321.5,91.6" fill="none" stroke="#000" stroke-width="1.15" stroke-linejoin="round" stroke-linecap="round"/><polyline points="324.8,95 325.7,95.9 326.6,95.4 327.7,93.7 328.8,91.9 329.5,85.8 330.1,72.6 330.5,62.9 331.1,72.6 331.9,85.8 332.7,93.7 333.6,98.1 334.9,98.5 335.8,99 336.7,99.8 337.6,95.4 338.5,91.9 339.5,91 340.7,89.7 341.5,86.6 342.4,85.3 343.3,81.4 344.2,77.9" fill="none" stroke="#000" stroke-width="1.15" stroke-linejoin="round" stroke-linecap="round"/><rect x="248.5" y="37.5" width="2.6" height="2.8" fill="#000"/><path d="M18,6.3 V168.5" fill="none" stroke="#8F8F8F" stroke-width="1.45"/><path d="M17.3,168.5 H361.6" fill="none" stroke="#8C8C8C" stroke-width="1.1"/><line x1="16.4" y1="13.2" x2="17.4" y2="13.2" stroke="#555" stroke-width="0.8"/><text x="15.9" y="14.6" font-size="3.9" fill="#4D4D4D" text-anchor="end">1.00</text><line x1="16.4" y1="50.2" x2="17.4" y2="50.2" stroke="#555" stroke-width="0.8"/><text x="15.9" y="51.6" font-size="3.9" fill="#4D4D4D" text-anchor="end">0.75</text><line x1="16.4" y1="87.1" x2="17.4" y2="87.1" stroke="#555" stroke-width="0.8"/><text x="15.9" y="88.5" font-size="3.9" fill="#4D4D4D" text-anchor="end">0.50</text><line x1="16.4" y1="124.1" x2="17.4" y2="124.1" stroke="#555" stroke-width="0.8"/><text x="15.9" y="125.5" font-size="3.9" fill="#4D4D4D" text-anchor="end">0.25</text><line x1="16.4" y1="161" x2="17.4" y2="161" stroke="#555" stroke-width="0.8"/><text x="15.9" y="162.4" font-size="3.9" fill="#4D4D4D" text-anchor="end">0.00</text><line x1="48.95" y1="169" x2="48.95" y2="170" stroke="#555" stroke-width="0.8"/><text transform="translate(50.05,171.9) rotate(-45)" font-size="3.5" fill="#3A3A3A" text-anchor="end">A01</text><line x1="81.15" y1="169" x2="81.15" y2="170" stroke="#555" stroke-width="0.8"/><text transform="translate(82.25,171.9) rotate(-45)" font-size="3.5" fill="#3A3A3A" text-anchor="end">A02</text><line x1="117.3" y1="169" x2="117.3" y2="170" stroke="#555" stroke-width="0.8"/><text transform="translate(118.4,171.9) rotate(-45)" font-size="3.5" fill="#3A3A3A" text-anchor="end">A03</text><line x1="149.05" y1="169" x2="149.05" y2="170" stroke="#555" stroke-width="0.8"/><text transform="translate(150.15,171.9) rotate(-45)" font-size="3.5" fill="#3A3A3A" text-anchor="end">A04</text><line x1="176.05" y1="169" x2="176.05" y2="170" stroke="#555" stroke-width="0.8"/><text transform="translate(177.15,171.9) rotate(-45)" font-size="3.5" fill="#3A3A3A" text-anchor="end">A05</text><line x1="206.55" y1="169" x2="206.55" y2="170" stroke="#555" stroke-width="0.8"/><text transform="translate(207.65,171.9) rotate(-45)" font-size="3.5" fill="#3A3A3A" text-anchor="end">A06</text><line x1="237.55" y1="169" x2="237.55" y2="170" stroke="#555" stroke-width="0.8"/><text transform="translate(238.65,171.9) rotate(-45)" font-size="3.5" fill="#3A3A3A" text-anchor="end">A07</text><line x1="265.05" y1="169" x2="265.05" y2="170" stroke="#555" stroke-width="0.8"/><text transform="translate(266.15,171.9) rotate(-45)" font-size="3.5" fill="#3A3A3A" text-anchor="end">A08</text><line x1="300.2" y1="169" x2="300.2" y2="170" stroke="#555" stroke-width="0.8"/><text transform="translate(301.3,171.9) rotate(-45)" font-size="3.5" fill="#3A3A3A" text-anchor="end">A09</text><line x1="334.6" y1="169" x2="334.6" y2="170" stroke="#555" stroke-width="0.8"/><text transform="translate(335.7,171.9) rotate(-45)" font-size="3.5" fill="#3A3A3A" text-anchor="end">A10</text><text x="174.4" y="7.7" font-size="7.35" font-weight="bold" fill="#000" text-anchor="middle">Early-bolting bulk</text><text transform="translate(6.3,87.2) rotate(-90)" font-size="4.4" fill="#000" text-anchor="middle">SNP-index</text><line x1="64.6" y1="193.5" x2="64.6" y2="355.2" stroke="#EBEBEB" stroke-width="0.5"/><line x1="97.55" y1="193.5" x2="97.55" y2="355.2" stroke="#EBEBEB" stroke-width="0.5"/><line x1="137" y1="193.5" x2="137" y2="355.2" stroke="#EBEBEB" stroke-width="0.5"/><line x1="161.2" y1="193.5" x2="161.2" y2="355.2" stroke="#EBEBEB" stroke-width="0.5"/><line x1="190.85" y1="193.5" x2="190.85" y2="355.2" stroke="#EBEBEB" stroke-width="0.5"/><line x1="222.4" y1="193.5" x2="222.4" y2="355.2" stroke="#EBEBEB" stroke-width="0.5"/><line x1="252.7" y1="193.5" x2="252.7" y2="355.2" stroke="#EBEBEB" stroke-width="0.5"/><line x1="277.4" y1="193.5" x2="277.4" y2="355.2" stroke="#EBEBEB" stroke-width="0.5"/><line x1="323.05" y1="193.5" x2="323.05" y2="355.2" stroke="#EBEBEB" stroke-width="0.5"/><line x1="17.7" y1="274.8" x2="360.6" y2="274.8" stroke="#555" stroke-width="0.9" stroke-dasharray="2.2 2.11" stroke-dashoffset="0" stroke-opacity="1"/><rect x="34.1" y="200.4" width="29.7" height="1" fill="#FF33FF"/><rect x="34.1" y="205.4" width="29.7" height="139.6" fill="#FF33FF"/><path fill="#FF33FF" d="M34.9 203.4h1.2v2.1h-1.2zM36.1 205.1h1.2v0.4h-1.2zM37.3 204.4h1.0v1.1h-1.0zM38.3 202.8h1.0v2.7h-1.0zM39.3 203.6h1.6v1.9h-1.6zM40.9 204.5h1.2v1.0h-1.2zM42.1 204.6h1.6v0.9h-1.6zM43.7 203.1h0.8v2.4h-0.8zM44.5 204.7h1.2v0.8h-1.2zM45.7 202.8h1.2v2.7h-1.2zM46.9 203.0h1.6v2.5h-1.6zM48.5 204.5h1.0v1.0h-1.0zM50.5 205.0h1.0v0.5h-1.0zM51.5 204.6h1.0v0.9h-1.0zM52.5 202.8h1.2v2.7h-1.2zM53.7 202.8h1.0v2.7h-1.0zM54.7 203.6h1.6v1.9h-1.6zM56.3 203.7h1.2v1.8h-1.2zM57.5 204.9h1.2v0.6h-1.2zM60.3 204.0h1.6v1.5h-1.6zM61.9 204.2h1.6v1.3h-1.6zM41.2 202.8h1.1v1.1h-1.1zM48.3 203.3h1.1v1.1h-1.1zM56.9 203.7h1.1v1.1h-1.1zM47.1 204.2h1.1v1.1h-1.1zM44.1 203.8h1.1v1.1h-1.1zM50.0 203.2h1.1v1.1h-1.1zM52.9 204.3h1.1v1.1h-1.1zM34.1 344.9h1.0v1.1h-1.0zM35.1 344.9h1.2v0.8h-1.2zM39.5 344.9h1.0v0.4h-1.0zM40.5 344.9h1.2v1.3h-1.2zM41.7 344.9h0.8v0.9h-0.8zM42.5 344.9h1.2v0.7h-1.2zM43.7 344.9h1.0v1.3h-1.0zM46.3 344.9h1.0v0.7h-1.0zM47.3 344.9h0.8v0.8h-0.8zM48.1 344.9h1.0v1.1h-1.0zM49.1 344.9h1.0v1.0h-1.0zM55.3 344.9h1.0v0.9h-1.0zM56.3 344.9h1.0v0.8h-1.0zM58.1 344.9h0.8v0.9h-0.8zM63.1 344.9h0.7v0.5h-0.7zM34.1 348.3h29.7v1h-29.7z"/><rect x="65.4" y="200.4" width="31.5" height="1" fill="#40FFE0"/><rect x="65.4" y="205.4" width="31.5" height="139.6" fill="#40FFE0"/><path fill="#40FFE0" d="M65.4 202.8h0.8v2.7h-0.8zM66.2 203.2h1.6v2.3h-1.6zM67.8 204.7h1.0v0.8h-1.0zM69.8 203.4h1.2v2.1h-1.2zM71.0 204.7h0.8v0.8h-0.8zM71.8 204.6h1.0v0.9h-1.0zM72.8 204.7h1.6v0.8h-1.6zM75.6 205.1h1.2v0.4h-1.2zM76.8 204.2h1.6v1.3h-1.6zM78.4 204.2h1.0v1.3h-1.0zM81.6 204.3h1.6v1.2h-1.6zM83.2 202.8h0.8v2.7h-0.8zM84.0 204.0h1.0v1.5h-1.0zM85.0 205.1h0.8v0.4h-0.8zM85.8 204.3h1.0v1.2h-1.0zM86.8 205.1h1.2v0.4h-1.2zM88.0 205.0h1.6v0.5h-1.6zM90.4 204.8h1.6v0.7h-1.6zM92.0 204.6h0.8v0.9h-0.8zM92.8 205.1h0.8v0.4h-0.8zM95.4 204.6h0.8v0.9h-0.8zM96.2 204.7h0.7v0.8h-0.7zM81.7 203.0h1.1v1.1h-1.1zM86.2 203.9h1.1v1.1h-1.1zM71.8 204.0h1.1v1.1h-1.1zM78.3 202.2h1.1v1.1h-1.1zM83.4 204.1h1.1v1.1h-1.1zM93.6 203.5h1.1v1.1h-1.1zM93.4 203.7h1.1v1.1h-1.1zM67.0 344.9h0.8v0.6h-0.8zM67.8 344.9h1.2v0.7h-1.2zM73.0 344.9h0.8v0.9h-0.8zM74.6 344.9h1.6v0.4h-1.6zM85.8 344.9h1.2v0.6h-1.2zM87.0 344.9h1.0v0.7h-1.0zM88.0 344.9h0.8v0.6h-0.8zM88.8 344.9h1.6v0.9h-1.6zM94.8 344.9h1.6v0.7h-1.6zM96.4 344.9h0.5v1.3h-0.5zM65.4 348.3h31.5v1h-31.5z"/><rect x="98.2" y="200.4" width="38.2" height="1" fill="#4CFF2A"/><rect x="98.2" y="205.4" width="38.2" height="139.6" fill="#4CFF2A"/><path fill="#4CFF2A" d="M98.2 204.8h1.2v0.7h-1.2zM99.4 204.7h1.0v0.8h-1.0zM100.4 204.5h1.2v1.0h-1.2zM101.6 204.4h0.8v1.1h-0.8zM103.2 202.8h1.0v2.7h-1.0zM104.2 203.6h1.0v1.9h-1.0zM105.2 203.6h0.8v1.9h-0.8zM106.8 204.9h1.2v0.6h-1.2zM108.0 204.8h1.2v0.7h-1.2zM112.0 204.0h1.0v1.5h-1.0zM114.2 204.7h1.0v0.8h-1.0zM115.2 204.8h1.0v0.7h-1.0zM116.2 203.7h1.2v1.8h-1.2zM117.4 204.7h1.0v0.8h-1.0zM118.4 203.6h0.8v1.9h-0.8zM119.2 203.1h1.6v2.4h-1.6zM120.8 204.9h1.0v0.6h-1.0zM121.8 204.7h0.8v0.8h-0.8zM122.6 205.1h1.6v0.4h-1.6zM124.2 204.1h1.6v1.4h-1.6zM125.8 204.9h1.6v0.6h-1.6zM127.4 204.0h1.2v1.5h-1.2zM128.6 203.8h0.8v1.7h-0.8zM129.4 204.6h1.0v0.9h-1.0zM130.4 204.8h1.0v0.7h-1.0zM131.4 202.8h1.6v2.7h-1.6zM133.0 205.0h0.8v0.5h-0.8zM133.8 204.2h1.6v1.3h-1.6zM133.2 203.8h1.1v1.1h-1.1zM120.7 204.2h1.1v1.1h-1.1zM131.0 202.4h1.1v1.1h-1.1zM128.5 203.9h1.1v1.1h-1.1zM105.6 203.8h1.1v1.1h-1.1zM119.9 202.6h1.1v1.1h-1.1zM128.0 202.5h1.1v1.1h-1.1zM120.9 203.2h1.1v1.1h-1.1zM107.6 203.4h1.1v1.1h-1.1zM98.2 344.9h1.6v0.7h-1.6zM100.6 344.9h1.6v0.5h-1.6zM102.2 344.9h0.8v0.8h-0.8zM103.0 344.9h1.6v1.3h-1.6zM104.6 344.9h1.2v0.4h-1.2zM107.4 344.9h0.8v0.6h-0.8zM113.6 344.9h1.6v0.7h-1.6zM116.2 344.9h1.6v1.3h-1.6zM119.0 344.9h1.6v0.5h-1.6zM120.6 344.9h1.0v1.1h-1.0zM121.6 344.9h1.2v0.4h-1.2zM122.8 344.9h1.0v0.4h-1.0zM126.2 344.9h1.2v0.6h-1.2zM127.4 344.9h1.6v0.5h-1.6zM129.0 344.9h0.8v0.5h-0.8zM130.8 344.9h1.0v0.9h-1.0zM132.6 344.9h1.0v1.3h-1.0zM133.6 344.9h1.0v0.5h-1.0zM134.6 344.9h0.8v1.3h-0.8zM135.4 344.9h0.8v0.7h-0.8zM98.2 348.3h38.2v1h-38.2z"/><rect x="137.6" y="200.4" width="22.9" height="1" fill="#FF8000"/><rect x="137.6" y="205.4" width="22.9" height="139.6" fill="#FF8000"/><path fill="#FF8000" d="M137.6 203.3h1.6v2.2h-1.6zM139.2 205.0h1.0v0.5h-1.0zM140.2 205.0h0.8v0.5h-0.8zM142.2 203.2h1.6v2.3h-1.6zM143.8 202.9h1.6v2.6h-1.6zM145.4 202.8h1.6v2.7h-1.6zM147.0 202.8h1.0v2.7h-1.0zM149.2 204.7h1.0v0.8h-1.0zM151.4 203.7h1.0v1.8h-1.0zM152.4 205.1h1.0v0.4h-1.0zM153.4 204.8h1.6v0.7h-1.6zM155.0 205.0h1.2v0.5h-1.2zM156.2 203.9h1.2v1.6h-1.2zM157.4 204.6h1.2v0.9h-1.2zM158.6 204.9h0.8v0.6h-0.8zM159.4 204.7h1.1v0.8h-1.1zM143.2 204.2h1.1v1.1h-1.1zM147.2 202.4h1.1v1.1h-1.1zM157.7 202.9h1.1v1.1h-1.1zM145.9 204.3h1.1v1.1h-1.1zM139.9 202.6h1.1v1.1h-1.1zM137.6 344.9h0.8v1.3h-0.8zM141.2 344.9h1.6v0.5h-1.6zM142.8 344.9h1.6v0.6h-1.6zM145.4 344.9h1.0v1.3h-1.0zM146.4 344.9h0.8v1.3h-0.8zM151.4 344.9h1.0v0.8h-1.0zM153.2 344.9h1.2v0.6h-1.2zM154.4 344.9h0.8v1.1h-0.8zM155.2 344.9h1.0v1.1h-1.0zM137.6 348.3h22.9v1h-22.9z"/><rect x="161.9" y="200.4" width="28.3" height="1" fill="#FF33FF"/><rect x="161.9" y="205.4" width="28.3" height="139.6" fill="#FF33FF"/><path fill="#FF33FF" d="M161.9 204.9h0.8v0.6h-0.8zM162.7 204.7h1.6v0.8h-1.6zM164.3 204.5h1.2v1.0h-1.2zM165.5 204.4h0.8v1.1h-0.8zM166.3 202.8h1.6v2.7h-1.6zM169.5 204.6h1.6v0.9h-1.6zM171.1 203.1h0.8v2.4h-0.8zM171.9 202.8h1.6v2.7h-1.6zM175.5 204.7h1.2v0.8h-1.2zM176.7 205.1h0.8v0.4h-0.8zM179.5 204.9h0.8v0.6h-0.8zM181.9 205.1h1.6v0.4h-1.6zM186.7 203.5h0.8v2.0h-0.8zM187.5 204.1h1.2v1.4h-1.2zM176.6 202.7h1.1v1.1h-1.1zM174.6 204.0h1.1v1.1h-1.1zM178.7 203.6h1.1v1.1h-1.1zM171.1 203.6h1.1v1.1h-1.1zM172.6 204.3h1.1v1.1h-1.1zM176.2 203.9h1.1v1.1h-1.1zM180.3 203.3h1.1v1.1h-1.1zM161.9 344.9h1.0v0.6h-1.0zM167.5 344.9h1.2v0.9h-1.2zM168.7 344.9h0.8v0.4h-0.8zM169.5 344.9h1.2v0.5h-1.2zM170.7 344.9h1.6v1.3h-1.6zM173.3 344.9h1.0v0.7h-1.0zM176.1 344.9h1.6v0.5h-1.6zM177.7 344.9h1.0v0.6h-1.0zM178.7 344.9h1.2v0.7h-1.2zM179.9 344.9h1.6v0.5h-1.6zM181.5 344.9h1.0v1.0h-1.0zM183.7 344.9h1.0v1.3h-1.0zM184.7 344.9h1.0v0.6h-1.0zM185.7 344.9h1.0v0.8h-1.0zM186.7 344.9h0.8v1.3h-0.8zM187.5 344.9h1.6v0.6h-1.6zM161.9 348.3h28.3v1h-28.3z"/><rect x="191.5" y="200.4" width="30.1" height="1" fill="#40FFE0"/><rect x="191.5" y="205.4" width="30.1" height="139.6" fill="#40FFE0"/><path fill="#40FFE0" d="M191.5 204.1h1.2v1.4h-1.2zM192.7 203.3h1.2v2.2h-1.2zM193.9 204.8h0.8v0.7h-0.8zM194.7 204.2h1.6v1.3h-1.6zM196.3 204.7h0.8v0.8h-0.8zM197.1 204.3h0.8v1.2h-0.8zM197.9 202.8h1.2v2.7h-1.2zM199.9 205.1h1.2v0.4h-1.2zM201.1 204.4h1.6v1.1h-1.6zM202.7 204.8h1.0v0.7h-1.0zM203.7 204.1h1.0v1.4h-1.0zM204.7 203.1h1.6v2.4h-1.6zM206.3 204.9h1.2v0.6h-1.2zM207.5 204.3h1.2v1.2h-1.2zM208.7 204.8h1.6v0.7h-1.6zM210.3 203.3h1.6v2.2h-1.6zM211.9 205.0h1.2v0.5h-1.2zM213.1 204.9h1.0v0.6h-1.0zM215.7 204.1h1.0v1.4h-1.0zM216.7 203.2h1.2v2.3h-1.2zM221.1 203.7h0.5v1.8h-0.5zM210.8 204.0h1.1v1.1h-1.1zM193.6 203.2h1.1v1.1h-1.1zM212.1 202.8h1.1v1.1h-1.1zM208.2 202.7h1.1v1.1h-1.1zM196.2 203.9h1.1v1.1h-1.1zM212.4 203.6h1.1v1.1h-1.1zM204.5 202.8h1.1v1.1h-1.1zM191.5 344.9h0.8v0.4h-0.8zM193.3 344.9h1.2v1.0h-1.2zM195.5 344.9h1.2v0.5h-1.2zM196.7 344.9h1.6v0.5h-1.6zM198.3 344.9h1.0v0.6h-1.0zM201.1 344.9h1.6v1.0h-1.6zM202.7 344.9h0.8v1.3h-0.8zM207.7 344.9h0.8v0.6h-0.8zM212.1 344.9h1.2v0.5h-1.2zM213.3 344.9h1.6v0.5h-1.6zM214.9 344.9h1.6v0.8h-1.6zM217.5 344.9h0.8v0.4h-0.8zM218.3 344.9h1.0v0.6h-1.0zM220.3 344.9h0.8v0.6h-0.8zM221.1 344.9h0.5v1.3h-0.5zM191.5 348.3h30.1v1h-30.1z"/><rect x="223.2" y="200.4" width="28.7" height="1" fill="#4CFF2A"/><rect x="223.2" y="205.4" width="28.7" height="139.6" fill="#4CFF2A"/><path fill="#4CFF2A" d="M223.2 204.3h0.8v1.2h-0.8zM224.0 204.2h0.8v1.3h-0.8zM224.8 204.8h1.0v0.7h-1.0zM226.8 204.7h1.2v0.8h-1.2zM228.0 203.8h1.2v1.7h-1.2zM229.2 204.4h0.8v1.1h-0.8zM230.0 204.4h0.8v1.1h-0.8zM230.8 204.9h1.2v0.6h-1.2zM232.0 203.6h1.2v1.9h-1.2zM233.2 204.6h1.2v0.9h-1.2zM235.4 204.8h1.2v0.7h-1.2zM236.6 204.9h0.8v0.6h-0.8zM237.4 203.2h0.8v2.3h-0.8zM238.2 204.1h0.8v1.4h-0.8zM239.0 204.8h1.6v0.7h-1.6zM240.6 203.7h1.0v1.8h-1.0zM241.6 204.4h1.0v1.1h-1.0zM242.6 204.4h0.8v1.1h-0.8zM243.4 204.2h1.2v1.3h-1.2zM245.8 202.8h0.8v2.7h-0.8zM246.6 204.8h1.0v0.7h-1.0zM248.8 205.1h0.8v0.4h-0.8zM246.7 203.5h1.1v1.1h-1.1zM229.3 203.4h1.1v1.1h-1.1zM250.7 204.2h1.1v1.1h-1.1zM235.0 203.9h1.1v1.1h-1.1zM227.5 202.5h1.1v1.1h-1.1zM243.5 202.3h1.1v1.1h-1.1zM249.6 202.6h1.1v1.1h-1.1zM223.2 344.9h1.6v1.3h-1.6zM226.4 344.9h1.0v1.1h-1.0zM228.4 344.9h1.0v1.3h-1.0zM229.4 344.9h1.6v0.5h-1.6zM231.0 344.9h1.2v1.3h-1.2zM232.2 344.9h1.6v0.4h-1.6zM236.4 344.9h0.8v1.0h-0.8zM238.0 344.9h0.8v1.3h-0.8zM238.8 344.9h1.6v0.5h-1.6zM243.2 344.9h1.6v1.3h-1.6zM244.8 344.9h1.0v0.5h-1.0zM245.8 344.9h1.0v0.4h-1.0zM248.0 344.9h1.0v0.8h-1.0zM250.6 344.9h1.3v0.6h-1.3zM223.2 348.3h28.7v1h-28.7z"/><rect x="253.5" y="200.4" width="23.1" height="1" fill="#FF8000"/><rect x="253.5" y="205.4" width="23.1" height="139.6" fill="#FF8000"/><path fill="#FF8000" d="M255.1 204.7h1.6v0.8h-1.6zM256.7 202.8h1.2v2.7h-1.2zM259.1 204.2h1.0v1.3h-1.0zM260.1 204.8h1.0v0.7h-1.0zM261.1 204.0h1.6v1.5h-1.6zM262.7 204.8h1.0v0.7h-1.0zM263.7 204.5h1.2v1.0h-1.2zM264.9 205.0h1.6v0.5h-1.6zM266.5 204.2h1.2v1.3h-1.2zM267.7 204.8h0.8v0.7h-0.8zM270.1 205.0h1.2v0.5h-1.2zM271.3 203.9h1.2v1.6h-1.2zM272.5 203.9h1.0v1.6h-1.0zM273.5 203.7h1.2v1.8h-1.2zM274.7 204.8h1.6v0.7h-1.6zM273.7 203.2h1.1v1.1h-1.1zM255.6 202.2h1.1v1.1h-1.1zM254.2 203.3h1.1v1.1h-1.1zM269.2 202.3h1.1v1.1h-1.1zM260.8 203.3h1.1v1.1h-1.1zM253.5 344.9h0.8v1.1h-0.8zM256.5 344.9h1.2v0.9h-1.2zM257.7 344.9h1.6v0.5h-1.6zM259.3 344.9h1.6v0.4h-1.6zM262.1 344.9h1.0v0.5h-1.0zM264.1 344.9h1.2v1.3h-1.2zM265.3 344.9h1.0v1.2h-1.0zM268.9 344.9h1.2v0.5h-1.2zM271.1 344.9h1.6v0.8h-1.6zM272.7 344.9h1.0v0.7h-1.0zM273.7 344.9h1.0v1.0h-1.0zM274.7 344.9h0.8v0.9h-0.8zM275.5 344.9h1.0v1.3h-1.0zM253.5 348.3h23.1v1h-23.1z"/><rect x="278.2" y="200.4" width="44" height="1" fill="#FF33FF"/><rect x="278.2" y="205.4" width="44" height="139.6" fill="#FF33FF"/><path fill="#FF33FF" d="M279.2 204.7h0.8v0.8h-0.8zM280.0 203.9h1.0v1.6h-1.0zM281.0 204.8h1.2v0.7h-1.2zM283.0 205.0h0.8v0.5h-0.8zM283.8 204.7h1.2v0.8h-1.2zM287.4 202.8h1.6v2.7h-1.6zM289.0 205.1h0.8v0.4h-0.8zM289.8 204.6h1.6v0.9h-1.6zM291.4 205.0h1.2v0.5h-1.2zM292.6 204.5h0.8v1.0h-0.8zM295.4 204.7h1.2v0.8h-1.2zM296.6 203.3h1.0v2.2h-1.0zM297.6 204.7h1.2v0.8h-1.2zM299.6 203.3h1.0v2.2h-1.0zM300.6 204.3h1.2v1.2h-1.2zM301.8 203.3h0.8v2.2h-0.8zM302.6 203.5h1.0v2.0h-1.0zM304.6 205.0h0.8v0.5h-0.8zM305.4 203.8h1.2v1.7h-1.2zM306.6 204.9h1.0v0.6h-1.0zM307.6 203.9h1.6v1.6h-1.6zM309.2 205.0h1.0v0.5h-1.0zM310.2 203.9h0.8v1.6h-0.8zM311.0 204.3h1.2v1.2h-1.2zM312.2 203.2h0.8v2.3h-0.8zM313.8 202.8h1.6v2.7h-1.6zM315.4 204.7h1.2v0.8h-1.2zM316.6 205.0h1.2v0.5h-1.2zM317.8 202.8h1.0v2.7h-1.0zM319.6 202.9h0.8v2.6h-0.8zM320.4 203.0h1.2v2.5h-1.2zM321.6 202.8h0.6v2.7h-0.6zM311.5 203.7h1.1v1.1h-1.1zM317.8 202.5h1.1v1.1h-1.1zM320.8 202.7h1.1v1.1h-1.1zM309.3 203.8h1.1v1.1h-1.1zM312.7 204.4h1.1v1.1h-1.1zM315.7 203.7h1.1v1.1h-1.1zM287.2 203.6h1.1v1.1h-1.1zM279.8 204.3h1.1v1.1h-1.1zM296.6 203.3h1.1v1.1h-1.1zM302.2 204.2h1.1v1.1h-1.1zM300.8 202.5h1.1v1.1h-1.1zM280.6 344.9h1.0v0.6h-1.0zM283.4 344.9h0.8v0.5h-0.8zM286.4 344.9h1.6v0.7h-1.6zM291.4 344.9h0.8v0.8h-0.8zM295.4 344.9h1.0v1.3h-1.0zM297.4 344.9h0.8v0.6h-0.8zM298.2 344.9h1.6v0.4h-1.6zM300.6 344.9h0.8v1.0h-0.8zM302.4 344.9h1.0v0.9h-1.0zM303.4 344.9h1.6v1.0h-1.6zM306.0 344.9h1.2v0.9h-1.2zM307.2 344.9h1.0v1.3h-1.0zM309.4 344.9h1.6v0.4h-1.6zM311.0 344.9h1.6v0.8h-1.6zM315.8 344.9h1.6v0.5h-1.6zM317.4 344.9h1.2v0.5h-1.2zM319.4 344.9h1.6v1.2h-1.6zM321.0 344.9h1.2v0.7h-1.2zM278.2 348.3h44.0v1h-44.0z"/><rect x="323.9" y="200.4" width="21.4" height="1" fill="#40FFE0"/><rect x="323.9" y="205.4" width="21.4" height="139.6" fill="#40FFE0"/><path fill="#40FFE0" d="M323.9 204.6h1.6v0.9h-1.6zM326.7 204.9h1.0v0.6h-1.0zM327.7 203.9h0.8v1.6h-0.8zM328.5 204.8h1.0v0.7h-1.0zM329.5 204.6h1.0v0.9h-1.0zM330.5 203.2h1.0v2.3h-1.0zM331.5 203.5h1.2v2.0h-1.2zM332.7 203.9h1.0v1.6h-1.0zM333.7 203.9h0.8v1.6h-0.8zM335.5 204.8h0.8v0.7h-0.8zM336.3 202.9h0.8v2.6h-0.8zM338.3 204.0h1.0v1.5h-1.0zM339.3 202.9h1.0v2.6h-1.0zM340.3 204.5h1.0v1.0h-1.0zM341.3 204.6h1.0v0.9h-1.0zM342.3 204.5h1.2v1.0h-1.2zM344.7 204.6h0.6v0.9h-0.6zM338.5 202.3h1.1v1.1h-1.1zM333.9 203.4h1.1v1.1h-1.1zM343.0 203.8h1.1v1.1h-1.1zM342.3 202.3h1.1v1.1h-1.1zM330.7 203.2h1.1v1.1h-1.1zM332.7 344.9h1.0v0.8h-1.0zM334.5 344.9h0.8v1.3h-0.8zM341.1 344.9h0.8v0.7h-0.8zM343.9 344.9h0.8v0.6h-0.8zM344.7 344.9h0.6v1.3h-0.6zM323.9 348.3h21.4v1h-21.4z"/><path fill="#fff" d="M59.9 205.7h1.0v1.0h-1.0zM60.0 208.2h0.7v0.7h-0.7zM45.9 206.2h0.7v0.7h-0.7zM60.0 208.9h1.0v1.0h-1.0zM59.0 207.8h0.7v0.7h-0.7zM41.0 206.2h0.7v0.7h-0.7zM57.6 206.2h0.7v0.7h-0.7zM52.0 210.1h0.7v0.7h-0.7zM61.5 207.8h1.0v1.0h-1.0zM41.0 206.5h0.7v0.7h-0.7zM59.3 206.0h0.7v0.7h-0.7zM50.5 214.3h0.7v0.7h-0.7zM44.4 208.7h0.7v0.7h-0.7zM40.2 206.3h0.7v0.7h-0.7zM40.7 219.8h0.9v0.9h-0.9zM52.8 206.4h0.9v0.9h-0.9zM62.8 205.5h0.9v0.9h-0.9zM62.1 220.5h1.0v1.0h-1.0zM53.0 208.0h0.9v0.9h-0.9zM42.3 212.1h0.9v0.9h-0.9zM62.7 207.0h1.0v1.0h-1.0zM57.4 213.9h0.7v0.7h-0.7zM52.7 206.1h1.0v1.0h-1.0zM52.3 205.6h0.7v0.7h-0.7zM51.5 207.2h0.7v0.7h-0.7zM44.9 207.2h1.0v1.0h-1.0zM52.8 207.0h0.7v0.7h-0.7zM37.1 206.6h0.9v0.9h-0.9zM38.0 207.9h0.9v0.9h-0.9zM57.2 212.6h1.0v1.0h-1.0zM60.3 205.5h0.7v0.7h-0.7zM40.0 205.6h0.9v0.9h-0.9zM61.0 209.4h0.7v0.7h-0.7zM41.1 205.6h0.7v0.7h-0.7zM37.3 205.7h1.0v1.0h-1.0zM61.0 206.9h1.0v1.0h-1.0zM61.3 209.3h1.0v1.0h-1.0zM34.9 205.8h0.7v0.7h-0.7zM57.9 205.6h1.0v1.0h-1.0zM42.1 212.4h0.9v0.9h-0.9zM37.4 216.5h0.7v0.7h-0.7zM56.2 206.4h1.0v1.0h-1.0zM51.6 205.9h0.7v0.7h-0.7zM60.3 208.5h1.0v1.0h-1.0zM57.1 207.1h0.7v0.7h-0.7zM52.6 207.9h0.7v0.7h-0.7zM57.6 206.5h0.7v0.7h-0.7zM41.0 340.7h0.7v0.7h-0.7zM38.9 343.4h0.9v0.9h-0.9zM62.6 343.1h0.9v0.9h-0.9zM62.6 343.1h1.0v1.0h-1.0zM38.3 342.9h0.7v0.7h-0.7zM50.9 343.3h0.9v0.9h-0.9zM46.8 342.1h1.0v1.0h-1.0zM59.1 340.5h0.7v0.7h-0.7zM47.3 342.4h1.0v1.0h-1.0zM61.4 335.7h1.0v1.0h-1.0zM59.2 339.4h0.9v0.9h-0.9zM82.3 209.3h0.7v0.7h-0.7zM89.2 210.1h0.9v0.9h-0.9zM73.6 207.1h0.9v0.9h-0.9zM88.3 211.4h0.7v0.7h-0.7zM88.4 211.3h0.7v0.7h-0.7zM92.3 206.2h0.7v0.7h-0.7zM88.3 206.3h1.0v1.0h-1.0zM69.3 211.3h1.0v1.0h-1.0zM87.7 208.6h0.7v0.7h-0.7zM86.9 205.5h0.7v0.7h-0.7zM66.5 212.0h1.0v1.0h-1.0zM73.2 209.4h0.7v0.7h-0.7zM70.2 223.2h1.0v1.0h-1.0zM68.0 207.0h1.0v1.0h-1.0zM84.0 205.9h0.9v0.9h-0.9zM74.2 205.4h0.7v0.7h-0.7zM88.9 205.6h0.7v0.7h-0.7zM94.0 206.1h0.9v0.9h-0.9zM92.3 209.3h0.9v0.9h-0.9zM94.7 213.8h0.7v0.7h-0.7zM74.8 210.6h1.0v1.0h-1.0zM85.2 207.5h0.9v0.9h-0.9zM68.4 207.1h1.0v1.0h-1.0zM70.6 205.9h1.0v1.0h-1.0zM94.2 208.9h0.7v0.7h-0.7zM81.1 205.5h1.0v1.0h-1.0zM89.3 208.0h1.0v1.0h-1.0zM73.7 210.0h0.9v0.9h-0.9zM95.2 207.9h1.0v1.0h-1.0zM69.4 207.8h0.7v0.7h-0.7zM83.3 214.1h1.0v1.0h-1.0zM75.2 211.6h0.7v0.7h-0.7zM92.1 205.5h0.9v0.9h-0.9zM67.3 209.5h0.9v0.9h-0.9zM77.5 205.9h0.7v0.7h-0.7zM83.5 206.9h0.9v0.9h-0.9zM70.4 207.4h0.7v0.7h-0.7zM73.4 210.1h0.9v0.9h-0.9zM80.6 212.2h0.9v0.9h-0.9zM79.6 209.7h0.9v0.9h-0.9zM82.2 208.1h0.7v0.7h-0.7zM88.3 209.2h0.7v0.7h-0.7zM77.8 207.0h1.0v1.0h-1.0zM79.4 207.7h0.9v0.9h-0.9zM88.5 214.2h0.9v0.9h-0.9zM66.3 219.2h1.0v1.0h-1.0zM85.1 206.1h0.7v0.7h-0.7zM92.5 207.6h0.9v0.9h-0.9zM93.5 206.6h0.7v0.7h-0.7zM75.9 209.0h0.7v0.7h-0.7zM94.1 339.2h0.9v0.9h-0.9zM73.4 342.0h1.0v1.0h-1.0zM73.4 341.7h1.0v1.0h-1.0zM88.7 337.2h0.9v0.9h-0.9zM78.6 342.6h0.9v0.9h-0.9zM67.8 337.3h0.7v0.7h-0.7zM68.6 342.6h1.0v1.0h-1.0zM83.1 340.2h0.9v0.9h-0.9zM79.2 338.8h0.9v0.9h-0.9zM93.4 331.5h0.9v0.9h-0.9zM66.0 342.1h1.0v1.0h-1.0zM76.4 342.5h1.0v1.0h-1.0zM105.7 210.3h0.7v0.7h-0.7zM104.6 208.6h1.0v1.0h-1.0zM99.2 210.1h0.7v0.7h-0.7zM122.7 209.6h0.9v0.9h-0.9zM124.4 210.3h0.9v0.9h-0.9zM128.3 206.3h0.9v0.9h-0.9zM112.8 205.4h0.7v0.7h-0.7zM130.4 205.4h0.7v0.7h-0.7zM105.6 206.5h0.9v0.9h-0.9zM119.4 209.4h1.0v1.0h-1.0zM110.7 206.8h0.7v0.7h-0.7zM99.0 205.7h0.9v0.9h-0.9zM122.7 206.7h0.7v0.7h-0.7zM108.4 216.9h0.7v0.7h-0.7zM123.2 206.9h0.9v0.9h-0.9zM110.9 206.1h0.7v0.7h-0.7zM123.8 208.3h0.9v0.9h-0.9zM113.1 208.8h1.0v1.0h-1.0zM132.2 207.0h0.7v0.7h-0.7zM121.6 210.3h1.0v1.0h-1.0zM108.4 208.6h0.9v0.9h-0.9zM99.2 207.5h0.9v0.9h-0.9zM109.9 207.8h1.0v1.0h-1.0zM113.7 205.6h0.7v0.7h-0.7zM132.5 205.9h0.9v0.9h-0.9zM128.2 206.1h0.7v0.7h-0.7zM126.5 208.2h0.7v0.7h-0.7zM116.8 207.5h0.9v0.9h-0.9zM117.0 205.8h0.7v0.7h-0.7zM106.7 206.4h0.9v0.9h-0.9zM126.4 207.1h1.0v1.0h-1.0zM127.0 206.6h0.7v0.7h-0.7zM115.2 205.5h0.9v0.9h-0.9zM127.3 206.8h0.7v0.7h-0.7zM120.4 207.5h0.9v0.9h-0.9zM114.7 211.8h0.9v0.9h-0.9zM122.1 208.6h1.0v1.0h-1.0zM123.0 205.9h0.9v0.9h-0.9zM124.1 208.6h1.0v1.0h-1.0zM131.7 207.7h0.7v0.7h-0.7zM119.9 207.0h1.0v1.0h-1.0zM106.3 206.3h0.7v0.7h-0.7zM127.1 206.4h1.0v1.0h-1.0zM134.5 208.2h0.7v0.7h-0.7zM98.8 207.5h1.0v1.0h-1.0zM128.7 209.5h0.7v0.7h-0.7zM130.7 206.0h0.7v0.7h-0.7zM100.7 208.3h0.7v0.7h-0.7zM112.9 208.0h0.9v0.9h-0.9zM130.3 206.5h1.0v1.0h-1.0zM133.3 205.4h1.0v1.0h-1.0zM119.9 207.2h0.7v0.7h-0.7zM112.4 209.2h0.7v0.7h-0.7zM107.4 205.8h0.7v0.7h-0.7zM110.9 205.6h0.7v0.7h-0.7zM101.8 207.0h1.0v1.0h-1.0zM101.7 208.8h0.7v0.7h-0.7zM113.9 208.8h0.9v0.9h-0.9zM121.7 206.1h0.7v0.7h-0.7zM129.6 205.6h1.0v1.0h-1.0zM105.4 206.6h0.9v0.9h-0.9zM111.5 343.1h0.7v0.7h-0.7zM114.8 341.2h0.9v0.9h-0.9zM118.4 339.0h0.7v0.7h-0.7zM117.7 343.6h1.0v1.0h-1.0zM107.3 339.1h0.7v0.7h-0.7zM126.7 340.6h0.9v0.9h-0.9zM103.3 343.0h0.7v0.7h-0.7zM114.5 341.0h0.9v0.9h-0.9zM135.4 335.0h0.9v0.9h-0.9zM117.5 341.5h0.7v0.7h-0.7zM133.2 340.7h0.9v0.9h-0.9zM120.3 343.9h0.9v0.9h-0.9zM134.4 336.4h1.0v1.0h-1.0zM101.6 342.1h0.9v0.9h-0.9zM124.1 339.7h1.0v1.0h-1.0zM141.4 206.2h0.9v0.9h-0.9zM146.2 210.4h1.0v1.0h-1.0zM144.6 206.2h1.0v1.0h-1.0zM154.1 208.9h0.9v0.9h-0.9zM150.5 206.9h1.0v1.0h-1.0zM153.8 212.3h1.0v1.0h-1.0zM151.2 206.0h1.0v1.0h-1.0zM142.3 206.1h0.7v0.7h-0.7zM138.7 205.6h1.0v1.0h-1.0zM155.5 205.9h0.9v0.9h-0.9zM140.4 205.4h0.9v0.9h-0.9zM146.6 205.9h1.0v1.0h-1.0zM144.2 205.8h0.7v0.7h-0.7zM141.7 206.1h0.7v0.7h-0.7zM140.1 205.5h0.7v0.7h-0.7zM145.0 207.4h1.0v1.0h-1.0zM149.3 206.5h0.7v0.7h-0.7zM149.1 206.3h0.7v0.7h-0.7zM149.6 217.8h0.7v0.7h-0.7zM156.4 217.7h0.7v0.7h-0.7zM149.3 206.9h1.0v1.0h-1.0zM148.3 213.2h0.7v0.7h-0.7zM155.6 206.2h0.9v0.9h-0.9zM138.3 209.7h0.7v0.7h-0.7zM154.2 205.8h0.9v0.9h-0.9zM144.9 208.7h0.7v0.7h-0.7zM142.9 209.8h1.0v1.0h-1.0zM151.7 207.5h0.7v0.7h-0.7zM138.2 207.0h0.9v0.9h-0.9zM151.1 207.2h0.9v0.9h-0.9zM140.5 208.0h1.0v1.0h-1.0zM157.8 210.5h0.9v0.9h-0.9zM156.9 205.7h0.9v0.9h-0.9zM154.0 206.5h0.9v0.9h-0.9zM154.7 206.0h0.7v0.7h-0.7zM145.4 208.2h0.9v0.9h-0.9zM159.0 339.5h0.7v0.7h-0.7zM143.5 343.6h0.7v0.7h-0.7zM140.9 339.6h0.7v0.7h-0.7zM137.7 338.1h0.9v0.9h-0.9zM150.6 340.5h0.9v0.9h-0.9zM145.3 343.7h0.9v0.9h-0.9zM151.9 339.6h1.0v1.0h-1.0zM138.9 339.0h0.9v0.9h-0.9zM153.4 340.7h0.9v0.9h-0.9zM167.0 213.8h0.9v0.9h-0.9zM171.3 206.3h0.9v0.9h-0.9zM187.0 211.2h0.7v0.7h-0.7zM163.9 207.4h1.0v1.0h-1.0zM162.2 205.8h0.9v0.9h-0.9zM171.8 209.4h1.0v1.0h-1.0zM162.1 208.5h0.9v0.9h-0.9zM181.1 207.9h0.9v0.9h-0.9zM168.8 206.3h1.0v1.0h-1.0zM183.1 210.3h0.7v0.7h-0.7zM172.9 211.2h0.7v0.7h-0.7zM188.7 208.2h0.9v0.9h-0.9zM173.0 214.1h0.9v0.9h-0.9zM170.5 205.5h0.9v0.9h-0.9zM169.6 205.6h1.0v1.0h-1.0zM184.3 209.0h0.7v0.7h-0.7zM166.9 208.4h0.9v0.9h-0.9zM177.1 206.3h1.0v1.0h-1.0zM185.1 206.7h0.7v0.7h-0.7zM179.0 209.2h0.7v0.7h-0.7zM186.2 206.0h0.7v0.7h-0.7zM174.2 207.3h0.7v0.7h-0.7zM168.6 209.0h1.0v1.0h-1.0zM181.9 214.9h1.0v1.0h-1.0zM182.3 208.2h1.0v1.0h-1.0zM179.1 205.6h1.0v1.0h-1.0zM170.1 210.0h0.7v0.7h-0.7zM167.5 210.7h0.9v0.9h-0.9zM167.9 211.6h0.9v0.9h-0.9zM187.9 205.6h0.9v0.9h-0.9zM163.3 206.2h1.0v1.0h-1.0zM162.4 205.5h0.9v0.9h-0.9zM176.2 206.7h1.0v1.0h-1.0zM182.8 208.2h0.7v0.7h-0.7zM171.4 208.5h0.9v0.9h-0.9zM167.9 205.4h0.9v0.9h-0.9zM172.9 208.0h1.0v1.0h-1.0zM168.4 205.8h1.0v1.0h-1.0zM174.3 208.7h1.0v1.0h-1.0zM184.2 207.1h0.7v0.7h-0.7zM174.0 209.5h0.9v0.9h-0.9zM180.9 207.9h0.9v0.9h-0.9zM166.1 207.6h1.0v1.0h-1.0zM172.9 205.5h1.0v1.0h-1.0zM189.1 207.4h1.0v1.0h-1.0zM177.1 337.6h0.9v0.9h-0.9zM179.9 343.8h1.0v1.0h-1.0zM165.6 341.7h0.9v0.9h-0.9zM177.2 343.8h1.0v1.0h-1.0zM188.9 343.2h0.9v0.9h-0.9zM169.7 340.9h1.0v1.0h-1.0zM183.1 334.5h0.9v0.9h-0.9zM170.1 338.2h1.0v1.0h-1.0zM176.5 337.9h1.0v1.0h-1.0zM164.7 340.1h0.9v0.9h-0.9zM181.7 341.2h0.7v0.7h-0.7zM213.4 215.6h0.9v0.9h-0.9zM209.7 206.5h0.9v0.9h-0.9zM215.8 206.3h0.9v0.9h-0.9zM201.1 206.7h0.9v0.9h-0.9zM191.7 207.5h1.0v1.0h-1.0zM205.3 207.2h0.7v0.7h-0.7zM210.4 207.7h1.0v1.0h-1.0zM219.2 208.1h1.0v1.0h-1.0zM209.6 205.7h0.9v0.9h-0.9zM220.3 205.9h1.0v1.0h-1.0zM202.4 207.9h1.0v1.0h-1.0zM216.7 212.2h0.7v0.7h-0.7zM202.8 208.2h0.7v0.7h-0.7zM200.3 206.2h1.0v1.0h-1.0zM199.2 209.9h1.0v1.0h-1.0zM192.8 206.5h0.9v0.9h-0.9zM215.9 206.4h1.0v1.0h-1.0zM217.2 209.3h1.0v1.0h-1.0zM218.6 207.0h0.7v0.7h-0.7zM213.6 207.8h1.0v1.0h-1.0zM206.9 207.7h0.7v0.7h-0.7zM197.1 210.9h1.0v1.0h-1.0zM207.6 212.8h0.7v0.7h-0.7zM217.1 207.0h0.9v0.9h-0.9zM200.9 207.5h1.0v1.0h-1.0zM207.1 207.0h1.0v1.0h-1.0zM195.1 209.7h0.7v0.7h-0.7zM213.9 207.1h0.9v0.9h-0.9zM209.6 208.5h1.0v1.0h-1.0zM211.3 209.7h1.0v1.0h-1.0zM201.7 207.6h1.0v1.0h-1.0zM207.9 206.3h1.0v1.0h-1.0zM197.4 205.4h1.0v1.0h-1.0zM193.0 207.9h0.9v0.9h-0.9zM205.3 206.9h0.7v0.7h-0.7zM212.4 206.0h0.9v0.9h-0.9zM202.9 205.6h0.9v0.9h-0.9zM197.2 206.8h0.9v0.9h-0.9zM207.8 205.8h1.0v1.0h-1.0zM206.7 206.0h0.9v0.9h-0.9zM219.3 207.9h0.9v0.9h-0.9zM208.6 205.5h0.7v0.7h-0.7zM195.2 207.9h0.9v0.9h-0.9zM199.2 209.6h0.7v0.7h-0.7zM208.7 206.5h0.9v0.9h-0.9zM208.0 209.1h1.0v1.0h-1.0zM197.5 213.7h0.9v0.9h-0.9zM196.9 210.7h1.0v1.0h-1.0zM202.9 339.7h1.0v1.0h-1.0zM212.1 341.6h1.0v1.0h-1.0zM193.1 342.9h0.9v0.9h-0.9zM200.4 343.0h1.0v1.0h-1.0zM219.7 339.0h1.0v1.0h-1.0zM201.7 340.6h0.9v0.9h-0.9zM197.7 341.2h0.9v0.9h-0.9zM196.3 342.4h0.9v0.9h-0.9zM194.9 337.3h0.9v0.9h-0.9zM195.5 342.7h1.0v1.0h-1.0zM217.0 342.1h0.7v0.7h-0.7zM215.2 343.1h0.7v0.7h-0.7zM248.0 205.4h0.7v0.7h-0.7zM240.0 205.7h0.7v0.7h-0.7zM228.8 206.0h0.7v0.7h-0.7zM232.9 206.6h0.7v0.7h-0.7zM236.3 208.9h0.7v0.7h-0.7zM246.4 212.7h0.9v0.9h-0.9zM229.7 206.9h0.7v0.7h-0.7zM242.7 206.2h0.9v0.9h-0.9zM234.4 207.0h0.7v0.7h-0.7zM228.3 209.9h0.9v0.9h-0.9zM244.1 215.3h0.7v0.7h-0.7zM234.2 209.0h0.7v0.7h-0.7zM228.9 209.9h0.7v0.7h-0.7zM238.1 207.3h0.7v0.7h-0.7zM225.8 206.2h0.7v0.7h-0.7zM241.3 205.8h0.9v0.9h-0.9zM240.7 206.6h0.7v0.7h-0.7zM238.1 206.4h0.7v0.7h-0.7zM228.7 206.3h0.7v0.7h-0.7zM248.0 206.2h1.0v1.0h-1.0zM237.8 211.4h0.9v0.9h-0.9zM242.0 208.2h1.0v1.0h-1.0zM227.6 205.5h0.9v0.9h-0.9zM235.4 209.8h0.9v0.9h-0.9zM250.2 210.5h0.7v0.7h-0.7zM239.7 206.4h0.9v0.9h-0.9zM227.3 207.5h1.0v1.0h-1.0zM233.9 213.1h0.9v0.9h-0.9zM227.4 206.5h1.0v1.0h-1.0zM225.4 205.9h1.0v1.0h-1.0zM230.9 209.5h0.7v0.7h-0.7zM229.7 206.3h0.7v0.7h-0.7zM250.6 209.7h0.9v0.9h-0.9zM241.2 207.4h1.0v1.0h-1.0zM232.1 205.6h1.0v1.0h-1.0zM236.7 209.5h0.7v0.7h-0.7zM235.1 206.3h0.9v0.9h-0.9zM242.1 208.5h1.0v1.0h-1.0zM230.3 209.6h1.0v1.0h-1.0zM236.3 212.7h1.0v1.0h-1.0zM241.6 219.2h0.9v0.9h-0.9zM250.4 208.9h1.0v1.0h-1.0zM234.6 206.5h0.9v0.9h-0.9zM237.6 207.4h0.7v0.7h-0.7zM232.3 206.2h0.7v0.7h-0.7zM239.6 341.8h0.7v0.7h-0.7zM234.9 343.5h0.7v0.7h-0.7zM234.5 342.2h0.9v0.9h-0.9zM248.0 343.8h0.9v0.9h-0.9zM232.4 334.8h1.0v1.0h-1.0zM225.2 343.5h0.9v0.9h-0.9zM229.8 341.8h0.9v0.9h-0.9zM246.3 338.5h1.0v1.0h-1.0zM236.9 339.6h1.0v1.0h-1.0zM230.0 334.6h1.0v1.0h-1.0zM236.7 341.4h0.7v0.7h-0.7zM271.8 207.5h0.7v0.7h-0.7zM254.5 208.8h0.9v0.9h-0.9zM265.3 206.7h0.9v0.9h-0.9zM259.8 206.7h1.0v1.0h-1.0zM274.9 208.9h0.7v0.7h-0.7zM256.9 207.5h0.7v0.7h-0.7zM264.7 207.9h0.9v0.9h-0.9zM260.2 207.6h1.0v1.0h-1.0zM261.1 209.8h0.7v0.7h-0.7zM257.4 206.5h0.9v0.9h-0.9zM260.9 208.2h0.9v0.9h-0.9zM266.9 206.0h1.0v1.0h-1.0zM271.2 206.0h0.9v0.9h-0.9zM272.3 206.0h1.0v1.0h-1.0zM259.4 210.6h0.7v0.7h-0.7zM270.5 207.5h0.9v0.9h-0.9zM265.9 208.6h0.9v0.9h-0.9zM267.5 206.5h0.9v0.9h-0.9zM273.5 207.5h0.9v0.9h-0.9zM253.6 209.8h0.9v0.9h-0.9zM260.5 209.8h0.9v0.9h-0.9zM258.0 206.8h0.7v0.7h-0.7zM264.9 205.5h1.0v1.0h-1.0zM257.5 207.2h1.0v1.0h-1.0zM270.4 209.2h0.7v0.7h-0.7zM258.2 206.5h0.7v0.7h-0.7zM273.7 206.1h0.7v0.7h-0.7zM270.8 208.9h1.0v1.0h-1.0zM256.4 211.0h1.0v1.0h-1.0zM254.3 210.5h0.7v0.7h-0.7zM270.0 207.1h0.7v0.7h-0.7zM267.4 206.2h0.9v0.9h-0.9zM267.1 211.4h1.0v1.0h-1.0zM274.1 206.2h0.7v0.7h-0.7zM271.4 207.8h1.0v1.0h-1.0zM264.2 206.1h0.9v0.9h-0.9zM262.2 339.4h1.0v1.0h-1.0zM268.6 338.5h0.7v0.7h-0.7zM268.3 341.2h0.7v0.7h-0.7zM263.7 343.1h0.9v0.9h-0.9zM258.6 342.7h0.9v0.9h-0.9zM271.6 343.8h0.7v0.7h-0.7zM257.1 342.8h0.9v0.9h-0.9zM262.5 343.5h0.7v0.7h-0.7zM263.6 342.1h0.9v0.9h-0.9zM281.8 210.7h0.7v0.7h-0.7zM319.5 206.4h1.0v1.0h-1.0zM308.5 209.5h1.0v1.0h-1.0zM312.5 207.8h0.9v0.9h-0.9zM288.7 215.3h0.9v0.9h-0.9zM317.9 206.7h0.9v0.9h-0.9zM296.9 211.8h0.7v0.7h-0.7zM313.9 213.7h0.9v0.9h-0.9zM278.8 206.4h0.7v0.7h-0.7zM299.5 207.1h0.7v0.7h-0.7zM312.3 206.0h0.7v0.7h-0.7zM295.7 212.7h0.7v0.7h-0.7zM288.9 206.0h1.0v1.0h-1.0zM289.3 207.8h0.9v0.9h-0.9zM301.0 210.0h1.0v1.0h-1.0zM288.0 205.8h0.7v0.7h-0.7zM305.3 205.5h0.9v0.9h-0.9zM319.0 206.7h0.9v0.9h-0.9zM288.0 209.1h1.0v1.0h-1.0zM303.1 207.6h0.9v0.9h-0.9zM321.2 205.9h1.0v1.0h-1.0zM312.8 211.9h0.9v0.9h-0.9zM287.5 213.0h0.9v0.9h-0.9zM317.7 206.0h0.7v0.7h-0.7zM320.8 208.1h0.7v0.7h-0.7zM283.3 215.0h0.9v0.9h-0.9zM292.5 205.9h0.7v0.7h-0.7zM285.9 207.9h0.7v0.7h-0.7zM291.1 209.2h0.9v0.9h-0.9zM301.1 206.7h1.0v1.0h-1.0zM303.0 207.1h0.7v0.7h-0.7zM305.1 207.5h0.9v0.9h-0.9zM291.8 207.8h1.0v1.0h-1.0zM281.9 206.5h1.0v1.0h-1.0zM290.1 205.6h0.9v0.9h-0.9zM289.2 205.6h1.0v1.0h-1.0zM305.7 206.0h0.7v0.7h-0.7zM305.1 211.9h0.9v0.9h-0.9zM288.9 209.2h1.0v1.0h-1.0zM282.8 210.7h1.0v1.0h-1.0zM299.8 206.3h0.9v0.9h-0.9zM315.8 208.5h0.9v0.9h-0.9zM294.7 212.8h0.9v0.9h-0.9zM290.5 217.6h0.7v0.7h-0.7zM295.9 205.6h1.0v1.0h-1.0zM315.8 206.3h0.7v0.7h-0.7zM310.6 205.5h0.7v0.7h-0.7zM301.4 210.5h1.0v1.0h-1.0zM292.6 218.6h0.9v0.9h-0.9zM287.5 207.6h0.7v0.7h-0.7zM320.7 207.8h1.0v1.0h-1.0zM302.3 206.6h1.0v1.0h-1.0zM296.5 212.1h0.9v0.9h-0.9zM317.1 207.0h0.7v0.7h-0.7zM281.3 206.3h1.0v1.0h-1.0zM278.2 208.3h0.9v0.9h-0.9zM299.5 207.2h0.9v0.9h-0.9zM314.6 206.6h1.0v1.0h-1.0zM300.0 208.5h0.7v0.7h-0.7zM313.5 208.3h1.0v1.0h-1.0zM293.5 207.2h1.0v1.0h-1.0zM290.6 205.9h1.0v1.0h-1.0zM313.2 209.3h1.0v1.0h-1.0zM283.6 205.9h1.0v1.0h-1.0zM282.2 206.1h0.9v0.9h-0.9zM301.2 208.4h0.7v0.7h-0.7zM291.6 205.7h0.9v0.9h-0.9zM312.5 214.7h0.7v0.7h-0.7zM296.3 205.7h0.7v0.7h-0.7zM314.6 205.5h0.9v0.9h-0.9zM314.7 342.2h1.0v1.0h-1.0zM290.7 342.1h0.7v0.7h-0.7zM287.9 342.8h1.0v1.0h-1.0zM308.7 343.1h1.0v1.0h-1.0zM298.2 344.0h0.9v0.9h-0.9zM282.4 340.2h0.9v0.9h-0.9zM297.2 341.7h0.7v0.7h-0.7zM288.9 343.8h1.0v1.0h-1.0zM308.6 336.2h1.0v1.0h-1.0zM310.1 337.7h1.0v1.0h-1.0zM298.5 337.6h0.9v0.9h-0.9zM282.2 340.7h0.7v0.7h-0.7zM309.8 332.6h1.0v1.0h-1.0zM304.1 339.7h0.7v0.7h-0.7zM286.5 343.9h1.0v1.0h-1.0zM305.0 338.3h0.7v0.7h-0.7zM301.4 340.4h1.0v1.0h-1.0zM335.2 209.7h0.7v0.7h-0.7zM339.6 208.0h1.0v1.0h-1.0zM328.5 206.8h0.9v0.9h-0.9zM328.3 207.3h0.9v0.9h-0.9zM339.5 205.5h1.0v1.0h-1.0zM332.3 205.7h0.9v0.9h-0.9zM341.7 206.3h1.0v1.0h-1.0zM329.9 205.9h0.7v0.7h-0.7zM326.4 207.1h0.9v0.9h-0.9zM326.6 209.1h0.7v0.7h-0.7zM327.8 207.9h1.0v1.0h-1.0zM328.2 208.8h1.0v1.0h-1.0zM328.3 206.1h1.0v1.0h-1.0zM330.5 206.7h0.7v0.7h-0.7zM340.7 212.9h0.9v0.9h-0.9zM339.0 208.6h0.7v0.7h-0.7zM329.1 218.6h0.9v0.9h-0.9zM342.6 213.4h0.9v0.9h-0.9zM325.4 206.6h0.7v0.7h-0.7zM341.3 209.4h0.9v0.9h-0.9zM336.3 207.6h1.0v1.0h-1.0zM340.6 208.1h1.0v1.0h-1.0zM332.0 210.1h1.0v1.0h-1.0zM340.5 206.8h0.7v0.7h-0.7zM337.6 211.9h0.7v0.7h-0.7zM327.8 209.1h1.0v1.0h-1.0zM335.9 205.8h0.9v0.9h-0.9zM335.2 206.7h0.7v0.7h-0.7zM342.2 210.1h0.7v0.7h-0.7zM325.8 209.0h1.0v1.0h-1.0zM344.3 209.1h1.0v1.0h-1.0zM332.4 208.7h0.7v0.7h-0.7zM341.1 207.4h0.9v0.9h-0.9zM335.6 206.9h0.9v0.9h-0.9zM338.5 342.8h0.9v0.9h-0.9zM330.2 342.2h0.9v0.9h-0.9zM333.2 343.8h0.9v0.9h-0.9zM325.4 342.0h1.0v1.0h-1.0zM337.1 336.7h0.7v0.7h-0.7zM326.5 343.4h0.7v0.7h-0.7zM324.3 343.4h0.9v0.9h-0.9zM340.1 333.5h0.7v0.7h-0.7zM37.8 313.0h0.9v1.3h-0.9zM38.0 318.0h0.9v1.0h-0.9zM38.0 319.0h0.9v0.8h-0.9zM38.1 320.0h0.9v1.0h-0.9zM37.7 325.0h0.9v0.8h-0.9zM38.1 327.0h0.9v1.0h-0.9zM38.1 329.0h0.9v1.3h-0.9zM37.8 330.0h0.9v1.0h-0.9zM37.8 331.0h0.9v1.0h-0.9zM38.3 332.0h0.9v1.0h-0.9zM38.4 336.0h0.9v0.8h-0.9zM37.8 338.0h0.9v1.0h-0.9zM38.4 339.0h0.9v0.8h-0.9zM38.2 342.0h0.9v1.0h-0.9zM40.8 323.0h0.9v1.3h-0.9zM41.0 325.0h0.9v1.0h-0.9zM41.1 326.0h0.9v0.8h-0.9zM41.2 331.0h0.9v1.3h-0.9zM41.0 335.0h0.9v1.0h-0.9zM41.2 339.0h0.9v0.8h-0.9zM41.3 342.0h0.9v1.3h-0.9zM84.8 322.0h0.9v1.3h-0.9zM84.4 327.0h0.9v0.8h-0.9zM84.5 328.0h0.9v0.8h-0.9zM84.3 329.0h0.9v1.3h-0.9zM84.9 331.0h0.9v1.3h-0.9zM84.9 332.0h0.9v1.3h-0.9zM84.7 333.0h0.9v0.8h-0.9zM84.3 338.0h0.9v1.0h-0.9zM84.3 342.0h0.9v1.0h-0.9zM84.8 343.0h0.9v1.3h-0.9zM130.8 332.0h0.9v1.3h-0.9zM130.7 334.0h0.9v0.8h-0.9zM130.3 336.0h0.9v1.3h-0.9zM130.3 337.0h0.9v1.0h-0.9zM130.9 338.0h0.9v0.8h-0.9zM130.9 339.0h0.9v1.0h-0.9zM133.5 336.0h0.9v1.0h-0.9zM133.6 337.0h0.9v1.0h-0.9zM133.4 338.0h0.9v1.3h-0.9zM133.2 342.0h0.9v1.0h-0.9zM144.5 300.0h0.9v1.0h-0.9zM144.7 303.0h0.9v0.8h-0.9zM144.7 306.0h0.9v1.0h-0.9zM144.7 311.0h0.9v0.8h-0.9zM144.4 326.0h0.9v0.8h-0.9zM144.3 327.0h0.9v0.8h-0.9zM144.6 328.0h0.9v1.3h-0.9zM144.6 330.0h0.9v1.0h-0.9zM144.6 332.0h0.9v1.0h-0.9zM144.7 343.0h0.9v1.3h-0.9zM152.5 292.0h0.9v1.3h-0.9zM152.0 295.0h0.9v0.8h-0.9zM152.6 296.0h0.9v1.3h-0.9zM152.1 299.0h0.9v1.3h-0.9zM152.1 305.0h0.9v1.3h-0.9zM152.2 309.0h0.9v1.3h-0.9zM152.5 316.0h0.9v1.3h-0.9zM152.1 321.0h0.9v1.0h-0.9zM152.2 326.0h0.9v1.3h-0.9zM152.0 328.0h0.9v0.8h-0.9zM152.4 333.0h0.9v1.0h-0.9zM152.1 334.0h0.9v0.8h-0.9zM152.1 337.0h0.9v0.8h-0.9zM152.5 338.0h0.9v1.3h-0.9zM152.4 339.0h0.9v0.8h-0.9zM175.8 282.0h0.9v1.0h-0.9zM175.9 283.0h0.9v1.0h-0.9zM175.7 284.0h0.9v0.8h-0.9zM176.0 285.0h0.9v1.3h-0.9zM176.1 286.0h0.9v0.8h-0.9zM175.9 287.0h0.9v1.0h-0.9zM175.8 288.0h0.9v1.3h-0.9zM176.3 289.0h0.9v1.3h-0.9zM176.2 290.0h0.9v1.0h-0.9zM176.1 291.0h0.9v1.3h-0.9zM176.1 292.0h0.9v0.8h-0.9zM175.6 293.0h0.9v0.8h-0.9zM176.2 294.0h0.9v1.0h-0.9zM175.7 295.0h0.9v1.3h-0.9zM176.0 296.0h0.9v1.3h-0.9zM176.2 297.0h0.9v0.8h-0.9zM176.3 298.0h0.9v0.8h-0.9zM176.0 299.0h0.9v1.0h-0.9zM176.0 300.0h0.9v1.0h-0.9zM175.9 301.0h0.9v1.3h-0.9zM175.7 302.0h0.9v1.3h-0.9zM175.9 303.0h0.9v0.8h-0.9zM175.8 304.0h0.9v0.8h-0.9zM175.9 305.0h0.9v0.8h-0.9zM176.0 306.0h0.9v0.8h-0.9zM176.0 307.0h0.9v1.0h-0.9zM176.0 308.0h0.9v1.3h-0.9zM175.6 309.0h0.9v0.8h-0.9zM175.7 310.0h0.9v0.8h-0.9zM175.7 311.0h0.9v1.0h-0.9zM175.6 312.0h0.9v0.8h-0.9zM176.0 313.0h0.9v0.8h-0.9zM176.1 314.0h0.9v1.0h-0.9zM175.9 315.0h0.9v1.0h-0.9zM176.0 316.0h0.9v0.8h-0.9zM175.8 317.0h0.9v1.0h-0.9zM176.0 318.0h0.9v0.8h-0.9zM176.1 319.0h0.9v1.3h-0.9zM176.0 320.0h0.9v1.3h-0.9zM176.0 321.0h0.9v1.3h-0.9zM175.6 322.0h0.9v0.8h-0.9zM176.2 323.0h0.9v1.3h-0.9zM175.7 324.0h0.9v0.8h-0.9zM175.8 325.0h0.9v1.0h-0.9zM176.2 326.0h0.9v0.8h-0.9zM175.7 327.0h0.9v1.0h-0.9zM175.7 328.0h0.9v1.0h-0.9zM175.8 329.0h0.9v0.8h-0.9zM176.0 330.0h0.9v1.3h-0.9zM175.7 331.0h0.9v1.3h-0.9zM175.9 332.0h0.9v1.0h-0.9zM175.7 333.0h0.9v1.3h-0.9zM176.0 334.0h0.9v1.3h-0.9zM175.9 335.0h0.9v1.3h-0.9zM176.2 336.0h0.9v0.8h-0.9zM176.2 337.0h0.9v1.3h-0.9zM175.7 338.0h0.9v0.8h-0.9zM175.8 339.0h0.9v1.0h-0.9zM176.0 340.0h0.9v1.0h-0.9zM176.2 341.0h0.9v0.8h-0.9zM175.6 342.0h0.9v1.0h-0.9zM176.2 343.0h0.9v1.0h-0.9zM175.3 292.0h0.9v1.0h-0.9zM175.0 297.0h0.9v1.3h-0.9zM175.1 299.0h0.9v1.3h-0.9zM175.5 300.0h0.9v1.0h-0.9zM174.8 309.0h0.9v1.0h-0.9zM175.4 310.0h0.9v1.3h-0.9zM175.1 312.0h0.9v1.3h-0.9zM175.4 315.0h0.9v0.8h-0.9zM174.9 316.0h0.9v0.8h-0.9zM175.2 317.0h0.9v0.8h-0.9zM175.1 320.0h0.9v0.8h-0.9zM174.8 323.0h0.9v0.8h-0.9zM175.3 324.0h0.9v0.8h-0.9zM175.4 325.0h0.9v0.8h-0.9zM174.8 326.0h0.9v1.0h-0.9zM175.3 329.0h0.9v1.0h-0.9zM175.2 336.0h0.9v0.8h-0.9zM174.9 337.0h0.9v1.3h-0.9zM175.5 340.0h0.9v1.3h-0.9zM175.2 343.0h0.9v1.3h-0.9zM177.0 310.0h0.9v1.0h-0.9zM177.1 312.0h0.9v1.3h-0.9zM176.8 314.0h0.9v1.3h-0.9zM176.8 315.0h0.9v1.0h-0.9zM176.7 316.0h0.9v1.3h-0.9zM177.2 318.0h0.9v1.3h-0.9zM176.7 319.0h0.9v0.8h-0.9zM177.2 321.0h0.9v0.8h-0.9zM177.2 322.0h0.9v1.0h-0.9zM176.6 323.0h0.9v0.8h-0.9zM177.1 324.0h0.9v0.8h-0.9zM176.7 325.0h0.9v1.3h-0.9zM177.0 326.0h0.9v1.0h-0.9zM177.2 327.0h0.9v1.3h-0.9zM176.7 330.0h0.9v0.8h-0.9zM176.5 331.0h0.9v0.8h-0.9zM177.0 332.0h0.9v1.0h-0.9zM177.1 333.0h0.9v0.8h-0.9zM177.1 334.0h0.9v0.8h-0.9zM176.9 336.0h0.9v1.3h-0.9zM176.6 337.0h0.9v1.0h-0.9zM177.0 338.0h0.9v0.8h-0.9zM176.8 340.0h0.9v1.3h-0.9zM176.6 342.0h0.9v1.3h-0.9zM172.8 316.0h0.9v1.3h-0.9zM172.7 321.0h0.9v1.0h-0.9zM173.3 324.0h0.9v0.8h-0.9zM173.1 326.0h0.9v0.8h-0.9zM173.0 328.0h0.9v1.3h-0.9zM172.8 339.0h0.9v0.8h-0.9zM172.9 340.0h0.9v1.0h-0.9zM172.9 342.0h0.9v0.8h-0.9zM171.2 321.0h0.9v1.0h-0.9zM171.1 327.0h0.9v1.3h-0.9zM171.2 331.0h0.9v1.3h-0.9zM171.1 337.0h0.9v1.3h-0.9zM171.2 339.0h0.9v1.3h-0.9zM171.0 341.0h0.9v1.3h-0.9zM170.9 342.0h0.9v1.0h-0.9zM178.4 324.0h0.9v1.0h-0.9zM178.8 337.0h0.9v1.3h-0.9zM178.5 340.0h0.9v1.0h-0.9zM165.3 302.0h0.9v1.0h-0.9zM165.2 303.0h0.9v1.0h-0.9zM165.8 307.0h0.9v1.0h-0.9zM165.3 313.0h0.9v1.0h-0.9zM165.6 339.0h0.9v1.3h-0.9zM145.1 302.0h0.9v1.3h-0.9zM145.2 304.0h0.9v0.8h-0.9zM144.7 310.0h0.9v1.0h-0.9zM145.1 312.0h0.9v1.0h-0.9zM145.1 314.0h0.9v1.0h-0.9zM145.1 316.0h0.9v1.0h-0.9zM144.7 319.0h0.9v1.0h-0.9zM145.1 321.0h0.9v0.8h-0.9zM145.1 323.0h0.9v1.3h-0.9zM144.6 324.0h0.9v1.0h-0.9zM144.8 327.0h0.9v1.0h-0.9zM145.1 332.0h0.9v1.0h-0.9zM144.9 335.0h0.9v1.0h-0.9zM144.8 339.0h0.9v1.3h-0.9zM152.6 300.0h0.9v1.3h-0.9zM152.3 301.0h0.9v1.0h-0.9zM152.6 302.0h0.9v1.3h-0.9zM152.4 316.0h0.9v1.3h-0.9zM152.3 317.0h0.9v1.0h-0.9zM152.7 318.0h0.9v1.3h-0.9zM152.3 319.0h0.9v0.8h-0.9zM152.5 323.0h0.9v1.3h-0.9zM152.7 325.0h0.9v0.8h-0.9zM152.7 329.0h0.9v0.8h-0.9zM152.7 331.0h0.9v0.8h-0.9zM152.2 332.0h0.9v1.0h-0.9zM152.8 333.0h0.9v1.0h-0.9zM152.4 334.0h0.9v1.0h-0.9zM152.3 335.0h0.9v1.3h-0.9zM156.4 331.0h0.9v1.0h-0.9zM156.7 332.0h0.9v1.3h-0.9zM156.8 334.0h0.9v0.8h-0.9zM156.4 337.0h0.9v0.8h-0.9zM156.5 338.0h0.9v1.3h-0.9zM156.8 339.0h0.9v1.3h-0.9zM156.2 340.0h0.9v1.0h-0.9zM155.7 334.0h0.9v1.0h-0.9zM155.2 335.0h0.9v1.0h-0.9zM155.3 337.0h0.9v0.8h-0.9zM155.2 340.0h0.9v1.3h-0.9zM227.8 296.0h0.9v1.0h-0.9zM228.2 299.0h0.9v1.0h-0.9zM228.0 300.0h0.9v1.3h-0.9zM228.1 301.0h0.9v1.0h-0.9zM228.2 311.0h0.9v0.8h-0.9zM227.7 313.0h0.9v0.8h-0.9zM228.2 315.0h0.9v0.8h-0.9zM228.1 317.0h0.9v0.8h-0.9zM228.0 320.0h0.9v1.3h-0.9zM228.1 323.0h0.9v0.8h-0.9zM228.1 328.0h0.9v1.3h-0.9zM227.7 329.0h0.9v1.0h-0.9zM228.0 330.0h0.9v1.0h-0.9zM228.0 334.0h0.9v1.3h-0.9zM228.1 336.0h0.9v1.3h-0.9zM227.7 337.0h0.9v1.3h-0.9zM227.9 339.0h0.9v1.0h-0.9zM228.2 343.0h0.9v1.3h-0.9zM227.8 344.0h0.9v0.8h-0.9zM248.5 297.0h0.9v1.3h-0.9zM248.4 298.0h0.9v1.3h-0.9zM248.8 299.0h0.9v1.0h-0.9zM248.3 300.0h0.9v1.0h-0.9zM248.5 302.0h0.9v0.8h-0.9zM248.3 306.0h0.9v0.8h-0.9zM248.5 317.0h0.9v1.0h-0.9zM248.6 318.0h0.9v1.0h-0.9zM248.8 320.0h0.9v1.0h-0.9zM248.8 323.0h0.9v1.0h-0.9zM248.6 324.0h0.9v1.3h-0.9zM248.7 327.0h0.9v1.3h-0.9zM248.3 331.0h0.9v1.3h-0.9zM248.4 333.0h0.9v1.3h-0.9zM248.9 335.0h0.9v1.0h-0.9zM248.6 337.0h0.9v1.0h-0.9zM240.5 335.0h0.9v1.0h-0.9zM240.5 344.0h0.9v1.3h-0.9zM272.1 302.0h0.9v1.0h-0.9zM272.0 305.0h0.9v1.3h-0.9zM272.2 310.0h0.9v0.8h-0.9zM271.8 314.0h0.9v1.3h-0.9zM271.9 318.0h0.9v1.0h-0.9zM272.1 323.0h0.9v1.0h-0.9zM271.7 334.0h0.9v1.0h-0.9zM271.7 339.0h0.9v1.0h-0.9z"/><rect x="34.1" y="274.1" width="29.7" height="1.4" fill="#fff" fill-opacity="0.55"/><rect x="65.4" y="274.1" width="31.5" height="1.4" fill="#fff" fill-opacity="0.55"/><rect x="98.2" y="274.1" width="38.2" height="1.4" fill="#fff" fill-opacity="0.55"/><rect x="137.6" y="274.1" width="22.9" height="1.4" fill="#fff" fill-opacity="0.55"/><rect x="161.9" y="274.1" width="28.3" height="1.4" fill="#fff" fill-opacity="0.55"/><rect x="191.5" y="274.1" width="30.1" height="1.4" fill="#fff" fill-opacity="0.55"/><rect x="223.2" y="274.1" width="28.7" height="1.4" fill="#fff" fill-opacity="0.55"/><rect x="253.5" y="274.1" width="23.1" height="1.4" fill="#fff" fill-opacity="0.55"/><rect x="278.2" y="274.1" width="44" height="1.4" fill="#fff" fill-opacity="0.55"/><rect x="323.9" y="274.1" width="21.4" height="1.4" fill="#fff" fill-opacity="0.55"/><rect x="175.6" y="347.9" width="1.6" height="1.8" fill="#fff"/><line x1="34.1" y1="274.8" x2="63.8" y2="274.8" stroke="#666" stroke-width="0.9" stroke-dasharray="2.2 2.11" stroke-dashoffset="16.4" stroke-opacity="0.85"/><line x1="65.4" y1="274.8" x2="96.9" y2="274.8" stroke="#666" stroke-width="0.9" stroke-dasharray="2.2 2.11" stroke-dashoffset="47.7" stroke-opacity="0.85"/><line x1="98.2" y1="274.8" x2="136.4" y2="274.8" stroke="#666" stroke-width="0.9" stroke-dasharray="2.2 2.11" stroke-dashoffset="80.5" stroke-opacity="0.85"/><line x1="137.6" y1="274.8" x2="160.5" y2="274.8" stroke="#666" stroke-width="0.9" stroke-dasharray="2.2 2.11" stroke-dashoffset="119.9" stroke-opacity="0.85"/><line x1="161.9" y1="274.8" x2="190.2" y2="274.8" stroke="#666" stroke-width="0.9" stroke-dasharray="2.2 2.11" stroke-dashoffset="144.2" stroke-opacity="0.85"/><line x1="191.5" y1="274.8" x2="221.6" y2="274.8" stroke="#666" stroke-width="0.9" stroke-dasharray="2.2 2.11" stroke-dashoffset="173.8" stroke-opacity="0.85"/><line x1="223.2" y1="274.8" x2="251.9" y2="274.8" stroke="#666" stroke-width="0.9" stroke-dasharray="2.2 2.11" stroke-dashoffset="205.5" stroke-opacity="0.85"/><line x1="253.5" y1="274.8" x2="276.6" y2="274.8" stroke="#666" stroke-width="0.9" stroke-dasharray="2.2 2.11" stroke-dashoffset="235.8" stroke-opacity="0.85"/><line x1="278.2" y1="274.8" x2="322.2" y2="274.8" stroke="#666" stroke-width="0.9" stroke-dasharray="2.2 2.11" stroke-dashoffset="260.5" stroke-opacity="0.85"/><line x1="323.9" y1="274.8" x2="345.3" y2="274.8" stroke="#666" stroke-width="0.9" stroke-dasharray="2.2 2.11" stroke-dashoffset="306.2" stroke-opacity="0.85"/><polyline points="34.9,271.4 36,267 37.1,263.2 38.2,261.5 39.3,262.6 41,263.7 42.6,265.4 44.3,267 45.4,268.1 46.5,269.8 47.4,274.2 48.5,278.6 49.6,280.2 50.9,278.6 52,274.7 53.1,269.8 54,268.1 54.7,269.2 55.8,266 56.9,267.6 58,270.3 59.1,276.4 59.9,281.3 61,281.9 61.9,280.8 63,281.9" fill="none" stroke="#000" stroke-width="1.15" stroke-linejoin="round" stroke-linecap="round"/><polyline points="66.1,307.9 66.6,303.5 67.5,301.3 68.6,299.7 69.9,298 70.7,300.2 71.6,302.4 72.7,298 73.8,293.7 74.9,290.9 76,288.8 76.7,283.8 77.5,277.3 78.4,270.7 79.2,266.4 80.3,265.3 81.1,267.5 82.2,269.7 83.3,269.1 84.1,266.9 84.7,272.9 85.5,278.4 86.6,277.8 87.7,276.2 88.4,279.5 89.3,280.6 90.2,282.8 91,288.2 91.7,290.9 92.8,291.5 94.2,292.6 95.3,293.7 96.4,294.8" fill="none" stroke="#000" stroke-width="1.15" stroke-linejoin="round" stroke-linecap="round"/><polyline points="99.2,279.3 101.1,280.6 103,282.5 104.9,285.1 106.2,285.7 108.1,283.8 110,282.5 111.9,280 113.2,276.2 114.4,272.4 115.7,267.9 117,264.7 118.3,266 119.2,270.4 120.2,280.6 121.2,289.5 122.5,295.3 124,298.2 125.5,297.2 127.2,294.6 128.8,289.5 130.1,283.2 131.4,275.5 132.3,266.6 132.9,257.7 134.2,253.9 135.7,250.1" fill="none" stroke="#000" stroke-width="1.15" stroke-linejoin="round" stroke-linecap="round"/><polyline points="138.4,267.4 139.3,268.7 140.6,267.9 141.9,266.1 142.8,267 143.8,265.7 144.7,263.9 145.6,267.9 146.7,270.1 148.1,271.4 149.1,273 149.8,271.4 150.7,267 151.6,262.6 152.5,257.3 153.2,253.8 153.8,250.3 154.4,252 155.3,253.8 156.4,255.5 157.3,257.7 158.4,259.5 159.5,262.6 159.9,264.8" fill="none" stroke="#000" stroke-width="1.15" stroke-linejoin="round" stroke-linecap="round"/><polyline points="162.5,268.3 163.4,266.3 164.4,263.8 165.1,258.9 166.1,254.4 167.4,255.9 168.7,257.4 169.9,261.3 170.9,256.9 171.9,254.4 173,253.4 174.3,250.9 175.6,248 176.6,252.9 177.8,256.4 179,257.9 180.3,258.9 181.6,259.9 182.8,262.8 183.9,267.3 184.9,273.7 185.9,278.2 186.9,277.7 187.9,275.7 188.9,273.7 189.7,272.2" fill="none" stroke="#000" stroke-width="1.15" stroke-linejoin="round" stroke-linecap="round"/><polyline points="192.7,282.4 194.3,283 195.3,284 196.4,286.1 197.6,288.7 199,291.8 200,293.6 201,291.8 202.1,290.8 203.4,291.3 204.5,289.7 205.5,287.7 206.6,285.6 207.3,282.4 208,272.5 208.7,280.4 209.2,287.7 209.9,293.4 211,296.5 212.2,298.6 213.6,300.2 214.9,301.2 216.2,299.7 217.2,296.5 218.3,294.4 219.3,292.9 220.6,293.4" fill="none" stroke="#000" stroke-width="1.15" stroke-linejoin="round" stroke-linecap="round"/><polyline points="223.4,286.1 224.8,286.8 226.2,285.4 227.6,284.1 228.6,277.9 229.4,283.4 230.8,287.5 232.4,288.9 233.8,288.9 235.4,291 236.8,294.4 238.2,299.2 239.3,303.4 240.7,306.8 242.1,311.7 243.2,317.2 244.1,325.4 244.8,331 245.7,326.8 246.5,317.2 247.6,306.1 248.4,296.5 249.2,291.7 250.3,289.6 251.4,285.4" fill="none" stroke="#000" stroke-width="1.15" stroke-linejoin="round" stroke-linecap="round"/><polyline points="254.3,271.9 254.9,274 255.8,277.7 256.6,282.2 257.4,287.2 258.1,288.8 258.9,287.6 259.7,286.3 260.6,283 261.4,279.7 262.2,278.9 263,281 264,279.3 265.3,278.5 266.5,277.7 267.7,276.8 269,276.4 270,276.8 271,274.4 272.1,272.3 272.7,271.9 273.5,274.4 274.6,276 275.1,278.5 275.7,283.9 276,285.5" fill="none" stroke="#000" stroke-width="1.15" stroke-linejoin="round" stroke-linecap="round"/><polyline points="279.3,276.4 280.6,278.4 282.3,280.4 284.2,282.4 285.9,284.4 287.2,290.3 288.5,297.6 289.9,302.2 291.2,303.5 292.5,302.8 294.5,300.9 296.4,297.6 298.4,294.3 299.7,291 300.8,282.4 301.6,261.9 302.4,279.7 303.3,294.3 304.1,302.2 305.3,298.2 306.6,289 307.9,282.4 309.6,279.7 311,277.1 312.3,274.5 313.6,271.2 314.9,270.5 316.2,273.1 317.6,279.7 318.5,276.4 320.2,271.8 321.9,269.2" fill="none" stroke="#000" stroke-width="1.15" stroke-linejoin="round" stroke-linecap="round"/><polyline points="325.2,283.6 326.2,285.5 326.8,286.9 327.8,285 329,283.6 329.7,280.3 330.2,268.9 330.6,255.7 331.2,268.9 331.8,283.1 332.8,287.9 333.7,292.6 335,295.5 336.1,297.3 337,299.7 338,296.4 338.8,291.7 339.7,289.8 340.6,287.9 341.3,284.6 342,282.2 342.9,283.6 343.9,282.7 344.8,282.2" fill="none" stroke="#000" stroke-width="1.15" stroke-linejoin="round" stroke-linecap="round"/><path d="M18,193.3 V356.5" fill="none" stroke="#8F8F8F" stroke-width="1.45"/><path d="M17.3,356.5 H361.6" fill="none" stroke="#8C8C8C" stroke-width="1.1"/><line x1="16.4" y1="200.9" x2="17.4" y2="200.9" stroke="#555" stroke-width="0.8"/><text x="15.9" y="202.3" font-size="3.9" fill="#4D4D4D" text-anchor="end">1.00</text><line x1="16.4" y1="237.9" x2="17.4" y2="237.9" stroke="#555" stroke-width="0.8"/><text x="15.9" y="239.3" font-size="3.9" fill="#4D4D4D" text-anchor="end">0.75</text><line x1="16.4" y1="274.85" x2="17.4" y2="274.85" stroke="#555" stroke-width="0.8"/><text x="15.9" y="276.25" font-size="3.9" fill="#4D4D4D" text-anchor="end">0.50</text><line x1="16.4" y1="311.8" x2="17.4" y2="311.8" stroke="#555" stroke-width="0.8"/><text x="15.9" y="313.2" font-size="3.9" fill="#4D4D4D" text-anchor="end">0.25</text><line x1="16.4" y1="348.8" x2="17.4" y2="348.8" stroke="#555" stroke-width="0.8"/><text x="15.9" y="350.2" font-size="3.9" fill="#4D4D4D" text-anchor="end">0.00</text><line x1="48.95" y1="357" x2="48.95" y2="358" stroke="#555" stroke-width="0.8"/><text transform="translate(50.05,359.9) rotate(-45)" font-size="3.5" fill="#3A3A3A" text-anchor="end">A01</text><line x1="81.15" y1="357" x2="81.15" y2="358" stroke="#555" stroke-width="0.8"/><text transform="translate(82.25,359.9) rotate(-45)" font-size="3.5" fill="#3A3A3A" text-anchor="end">A02</text><line x1="117.3" y1="357" x2="117.3" y2="358" stroke="#555" stroke-width="0.8"/><text transform="translate(118.4,359.9) rotate(-45)" font-size="3.5" fill="#3A3A3A" text-anchor="end">A03</text><line x1="149.05" y1="357" x2="149.05" y2="358" stroke="#555" stroke-width="0.8"/><text transform="translate(150.15,359.9) rotate(-45)" font-size="3.5" fill="#3A3A3A" text-anchor="end">A04</text><line x1="176.05" y1="357" x2="176.05" y2="358" stroke="#555" stroke-width="0.8"/><text transform="translate(177.15,359.9) rotate(-45)" font-size="3.5" fill="#3A3A3A" text-anchor="end">A05</text><line x1="206.55" y1="357" x2="206.55" y2="358" stroke="#555" stroke-width="0.8"/><text transform="translate(207.65,359.9) rotate(-45)" font-size="3.5" fill="#3A3A3A" text-anchor="end">A06</text><line x1="237.55" y1="357" x2="237.55" y2="358" stroke="#555" stroke-width="0.8"/><text transform="translate(238.65,359.9) rotate(-45)" font-size="3.5" fill="#3A3A3A" text-anchor="end">A07</text><line x1="265.05" y1="357" x2="265.05" y2="358" stroke="#555" stroke-width="0.8"/><text transform="translate(266.15,359.9) rotate(-45)" font-size="3.5" fill="#3A3A3A" text-anchor="end">A08</text><line x1="300.2" y1="357" x2="300.2" y2="358" stroke="#555" stroke-width="0.8"/><text transform="translate(301.3,359.9) rotate(-45)" font-size="3.5" fill="#3A3A3A" text-anchor="end">A09</text><line x1="334.6" y1="357" x2="334.6" y2="358" stroke="#555" stroke-width="0.8"/><text transform="translate(335.7,359.9) rotate(-45)" font-size="3.5" fill="#3A3A3A" text-anchor="end">A10</text><text x="174.4" y="193.6" font-size="7.35" font-weight="bold" fill="#000" text-anchor="middle">Late-bolting bulk</text><text transform="translate(6.3,274.8) rotate(-90)" font-size="4.4" fill="#000" text-anchor="middle">SNP-index</text><line x1="64.6" y1="384.2" x2="64.6" y2="538.6" stroke="#EBEBEB" stroke-width="0.5"/><line x1="97.55" y1="384.2" x2="97.55" y2="538.6" stroke="#EBEBEB" stroke-width="0.5"/><line x1="137" y1="384.2" x2="137" y2="538.6" stroke="#EBEBEB" stroke-width="0.5"/><line x1="161.2" y1="384.2" x2="161.2" y2="538.6" stroke="#EBEBEB" stroke-width="0.5"/><line x1="190.85" y1="384.2" x2="190.85" y2="538.6" stroke="#EBEBEB" stroke-width="0.5"/><line x1="222.4" y1="384.2" x2="222.4" y2="538.6" stroke="#EBEBEB" stroke-width="0.5"/><line x1="252.7" y1="384.2" x2="252.7" y2="538.6" stroke="#EBEBEB" stroke-width="0.5"/><line x1="277.4" y1="384.2" x2="277.4" y2="538.6" stroke="#EBEBEB" stroke-width="0.5"/><line x1="323.05" y1="384.2" x2="323.05" y2="538.6" stroke="#EBEBEB" stroke-width="0.5"/><line x1="17.7" y1="464.4" x2="360.6" y2="464.4" stroke="#555" stroke-width="0.9" stroke-dasharray="2.2 2.11" stroke-dashoffset="0" stroke-opacity="1"/><path d="M34.1,426 L34.43,425.97 L34.77,425.94 L35.1,425.91 L35.43,425.88 L35.77,425.85 L36.1,425.82 L36.44,425.79 L36.77,425.76 L37.1,425.72 L37.44,425.69 L37.77,425.66 L38.1,425.63 L38.44,425.6 L38.77,425.57 L39.11,425.54 L39.44,425.51 L39.77,425.48 L40.11,425.45 L40.44,425.42 L40.77,425.39 L41.11,425.36 L41.44,425.33 L41.78,425.3 L42.11,425.27 L42.44,425.23 L42.78,425.2 L43.11,425.17 L43.44,425.14 L43.78,425.11 L44.11,425.08 L44.44,425.05 L44.78,425.02 L45.11,425 L45.45,425 L45.78,425 L46.11,425 L46.45,425 L46.78,425 L47.11,425 L47.45,425 L47.78,425 L48.12,425 L48.45,425 L48.78,425 L49.12,425 L49.45,425 L49.78,425 L50.12,425 L50.45,425 L50.79,425 L51.12,425 L51.45,425 L51.79,425 L52.12,425 L52.45,425 L52.79,425 L53.12,425 L53.46,425 L53.79,425 L54.12,425 L54.46,425 L54.79,425 L55.12,425.01 L55.46,425.05 L55.79,425.09 L56.12,425.13 L56.46,425.17 L56.79,425.2 L57.13,425.24 L57.46,425.28 L57.79,425.32 L58.13,425.36 L58.46,425.39 L58.79,425.43 L59.13,425.47 L59.46,425.51 L59.8,425.54 L60.13,425.58 L60.46,425.62 L60.8,425.66 L61.13,425.7 L61.46,425.73 L61.8,425.77 L62.13,425.81 L62.47,425.85 L62.8,425.89 L63.13,425.92 L63.47,425.96 L63.8,426 L63.8,496 L63.47,496.02 L63.13,496.05 L62.8,496.07 L62.47,496.1 L62.13,496.12 L61.8,496.15 L61.46,496.17 L61.13,496.19 L60.8,496.22 L60.46,496.24 L60.13,496.27 L59.8,496.29 L59.46,496.31 L59.13,496.34 L58.79,496.36 L58.46,496.39 L58.13,496.41 L57.79,496.44 L57.46,496.46 L57.13,496.48 L56.79,496.51 L56.46,496.53 L56.12,496.56 L55.79,496.58 L55.46,496.6 L55.12,496.63 L54.79,496.65 L54.46,496.68 L54.12,496.7 L53.79,496.73 L53.46,496.75 L53.12,496.77 L52.79,496.8 L52.45,496.82 L52.12,496.85 L51.79,496.87 L51.45,496.89 L51.12,496.92 L50.79,496.94 L50.45,496.97 L50.12,496.99 L49.78,497.16 L49.45,497.41 L49.12,497.66 L48.78,497.91 L48.45,498.16 L48.12,498.41 L47.78,498.66 L47.45,498.91 L47.11,499.16 L46.78,499.41 L46.45,499.66 L46.11,499.91 L45.78,500 L45.45,500 L45.11,500 L44.78,500 L44.44,500 L44.11,500 L43.78,500 L43.44,500 L43.11,500 L42.78,500 L42.44,500 L42.11,500 L41.78,500 L41.44,500 L41.11,500 L40.77,500 L40.44,500 L40.11,500 L39.77,500 L39.44,500 L39.11,500 L38.77,500 L38.44,500 L38.1,500 L37.77,500 L37.44,500 L37.1,500 L36.77,500 L36.44,500 L36.1,500 L35.77,500 L35.43,500 L35.1,500 L34.77,500 L34.43,500 L34.1,500Z" fill="#FF33FF"/><path fill="#FF33FF" d="M50.4 421.0h1.1v1.1h-1.1zM57.5 424.0h1.1v1.1h-1.1zM52.7 416.1h1.1v1.1h-1.1zM60.1 424.8h1.1v1.1h-1.1zM52.7 421.2h1.1v1.1h-1.1zM48.5 411.5h1.1v1.1h-1.1zM49.2 422.6h1.1v1.1h-1.1zM61.1 421.7h1.1v1.1h-1.1zM42.7 423.7h1.1v1.1h-1.1zM48.3 424.8h1.1v1.1h-1.1zM51.5 419.7h1.1v1.1h-1.1zM46.3 417.5h1.1v1.1h-1.1zM60.6 422.4h1.1v1.1h-1.1zM53.6 424.5h1.1v1.1h-1.1zM35.7 410.2h1.1v1.1h-1.1zM42.2 424.3h1.1v1.1h-1.1zM59.7 420.0h1.1v1.1h-1.1zM37.6 424.1h1.1v1.1h-1.1zM41.0 424.1h1.1v1.1h-1.1zM34.3 423.0h1.1v1.1h-1.1zM42.8 423.2h1.1v1.1h-1.1zM39.4 425.0h1.1v1.1h-1.1zM35.0 417.7h1.1v1.1h-1.1zM55.5 421.8h1.1v1.1h-1.1zM37.6 425.0h1.1v1.1h-1.1zM37.5 424.2h1.1v1.1h-1.1zM35.7 424.6h1.1v1.1h-1.1zM39.9 424.6h1.1v1.1h-1.1zM52.8 422.6h1.1v1.1h-1.1zM47.6 423.2h1.1v1.1h-1.1zM49.5 418.8h1.1v1.1h-1.1zM42.9 424.9h1.1v1.1h-1.1zM47.9 423.1h1.1v1.1h-1.1zM56.4 424.7h1.1v1.1h-1.1zM59.1 425.4h1.1v1.1h-1.1zM49.6 422.7h1.1v1.1h-1.1zM43.1 416.4h1.1v1.1h-1.1zM54.2 424.3h1.1v1.1h-1.1zM48.3 421.2h1.1v1.1h-1.1zM35.1 425.5h1.1v1.1h-1.1zM51.3 419.8h1.1v1.1h-1.1zM47.3 422.8h1.1v1.1h-1.1zM48.6 423.8h1.1v1.1h-1.1zM59.2 412.4h1.1v1.1h-1.1zM47.9 424.9h1.1v1.1h-1.1zM45.5 418.5h1.1v1.1h-1.1zM43.4 424.7h1.1v1.1h-1.1zM39.4 420.5h1.1v1.1h-1.1zM51.9 423.7h1.1v1.1h-1.1zM51.9 419.3h1.1v1.1h-1.1zM61.7 418.6h1.1v1.1h-1.1zM46.5 418.4h1.1v1.1h-1.1zM60.6 417.5h1.1v1.1h-1.1zM55.6 421.5h1.1v1.1h-1.1zM48.7 417.4h1.1v1.1h-1.1zM52.0 419.9h1.1v1.1h-1.1zM40.6 425.0h1.1v1.1h-1.1zM41.8 421.8h1.1v1.1h-1.1zM50.5 424.1h1.1v1.1h-1.1zM39.5 413.5h1.1v1.1h-1.1zM36.1 415.4h1.1v1.1h-1.1zM56.2 421.7h1.1v1.1h-1.1zM62.6 421.3h1.1v1.1h-1.1zM34.3 414.8h1.1v1.1h-1.1zM45.9 415.1h1.1v1.1h-1.1zM57.4 424.7h1.1v1.1h-1.1zM35.2 425.8h1.1v1.1h-1.1zM56.4 418.9h1.1v1.1h-1.1zM40.6 424.9h1.1v1.1h-1.1zM44.6 418.6h1.1v1.1h-1.1zM55.3 417.0h1.1v1.1h-1.1zM61.8 420.2h1.1v1.1h-1.1zM58.0 425.3h1.1v1.1h-1.1zM34.3 418.0h1.1v1.1h-1.1zM51.8 423.4h1.1v1.1h-1.1zM37.8 424.0h1.1v1.1h-1.1zM43.8 422.4h1.1v1.1h-1.1zM47.0 424.1h1.1v1.1h-1.1zM36.4 424.9h1.1v1.1h-1.1zM37.8 425.2h1.1v1.1h-1.1zM46.0 424.4h1.1v1.1h-1.1zM57.0 422.1h1.1v1.1h-1.1zM47.3 420.9h1.1v1.1h-1.1zM40.8 425.3h1.1v1.1h-1.1zM36.3 424.1h1.1v1.1h-1.1zM44.4 423.9h1.1v1.1h-1.1zM42.9 418.0h1.1v1.1h-1.1zM34.3 423.6h1.1v1.1h-1.1zM45.1 423.7h1.1v1.1h-1.1zM54.8 424.0h1.1v1.1h-1.1zM35.3 425.2h1.1v1.1h-1.1zM62.1 424.1h1.1v1.1h-1.1zM37.4 411.5h1.1v1.1h-1.1zM52.5 412.5h1.1v1.1h-1.1zM43.6 418.5h1.1v1.1h-1.1zM35.3 424.8h1.1v1.1h-1.1zM56.8 422.3h1.1v1.1h-1.1zM56.7 423.2h1.1v1.1h-1.1zM59.2 425.2h1.1v1.1h-1.1zM51.9 424.2h1.1v1.1h-1.1zM39.8 416.9h1.1v1.1h-1.1zM46.4 418.3h1.1v1.1h-1.1zM42.2 420.0h1.1v1.1h-1.1zM60.1 421.6h1.1v1.1h-1.1zM40.8 421.0h1.1v1.1h-1.1zM61.3 419.3h1.1v1.1h-1.1zM46.8 423.0h1.1v1.1h-1.1zM36.9 419.9h1.1v1.1h-1.1zM38.6 424.6h1.1v1.1h-1.1zM35.0 425.2h1.1v1.1h-1.1zM45.1 422.4h1.1v1.1h-1.1zM39.1 423.3h1.1v1.1h-1.1zM55.8 424.7h1.1v1.1h-1.1zM38.0 422.7h1.1v1.1h-1.1zM60.0 415.6h1.1v1.1h-1.1zM50.4 424.6h1.1v1.1h-1.1zM59.8 422.5h1.1v1.1h-1.1zM45.0 421.5h1.1v1.1h-1.1zM48.2 422.2h1.1v1.1h-1.1zM43.0 422.1h1.1v1.1h-1.1zM49.6 423.7h1.1v1.1h-1.1zM47.2 415.1h1.1v1.1h-1.1zM40.8 424.2h1.1v1.1h-1.1zM42.8 417.4h1.1v1.1h-1.1zM42.8 418.2h1.1v1.1h-1.1zM60.7 417.3h1.1v1.1h-1.1zM57.1 424.4h1.1v1.1h-1.1zM47.0 418.1h1.1v1.1h-1.1zM41.1 421.7h1.1v1.1h-1.1zM59.0 414.6h1.1v1.1h-1.1zM44.1 424.6h1.1v1.1h-1.1zM35.0 424.4h1.1v1.1h-1.1zM49.7 423.7h1.1v1.1h-1.1zM57.7 421.1h1.1v1.1h-1.1zM51.9 418.0h1.1v1.1h-1.1zM43.5 420.9h1.1v1.1h-1.1zM44.1 423.7h1.1v1.1h-1.1zM37.4 419.5h1.1v1.1h-1.1zM59.9 425.4h1.1v1.1h-1.1zM54.6 424.7h1.1v1.1h-1.1zM46.0 423.5h1.1v1.1h-1.1zM59.9 423.3h1.1v1.1h-1.1zM48.7 423.2h1.1v1.1h-1.1zM41.4 424.2h1.1v1.1h-1.1zM35.9 425.8h1.1v1.1h-1.1zM49.8 419.6h1.1v1.1h-1.1zM53.3 423.8h1.1v1.1h-1.1zM62.4 425.5h1.1v1.1h-1.1zM46.4 423.4h1.1v1.1h-1.1zM39.2 412.5h1.1v1.1h-1.1zM54.6 424.4h1.1v1.1h-1.1zM39.2 418.9h1.1v1.1h-1.1zM44.8 423.6h1.1v1.1h-1.1zM42.6 423.6h1.1v1.1h-1.1zM50.9 423.5h1.1v1.1h-1.1zM51.0 424.7h1.1v1.1h-1.1zM49.4 421.5h1.1v1.1h-1.1zM43.2 417.1h1.1v1.1h-1.1zM60.6 421.4h1.1v1.1h-1.1zM45.9 424.3h1.1v1.1h-1.1zM52.0 423.6h1.1v1.1h-1.1zM38.8 422.5h1.1v1.1h-1.1zM39.8 421.4h1.1v1.1h-1.1zM55.8 425.0h1.1v1.1h-1.1zM52.2 424.1h1.1v1.1h-1.1zM43.7 420.0h1.1v1.1h-1.1zM61.7 424.3h1.1v1.1h-1.1zM55.7 423.4h1.1v1.1h-1.1zM61.0 424.9h1.1v1.1h-1.1zM53.1 424.7h1.1v1.1h-1.1zM50.1 419.6h1.1v1.1h-1.1zM60.2 419.8h1.1v1.1h-1.1zM49.8 423.0h1.1v1.1h-1.1zM52.1 420.8h1.1v1.1h-1.1zM51.6 420.0h1.1v1.1h-1.1zM55.4 414.0h1.1v1.1h-1.1zM34.1 499.8h1.3v2.6h-1.3zM36.5 499.8h1.3v3.7h-1.3zM36.5 503.5h1.3v3.7h-1.3zM36.5 508.8h1.3v1.8h-1.3zM37.8 499.8h1.1v2.1h-1.1zM37.8 501.9h1.1v1.6h-1.1zM37.8 503.5h1.1v3.3h-1.1zM37.8 508.6h1.1v1.6h-1.1zM37.8 511.0h1.1v0.2h-1.1zM38.9 499.8h1.0v1.4h-1.0zM38.9 501.2h1.0v1.3h-1.0zM38.9 502.5h1.0v1.7h-1.0zM38.9 505.3h1.0v2.4h-1.0zM38.9 508.3h1.0v2.8h-1.0zM38.9 511.9h1.0v2.0h-1.0zM38.9 515.2h1.0v1.2h-1.0zM39.9 499.8h1.0v1.6h-1.0zM39.9 501.4h1.0v1.7h-1.0zM39.9 503.1h1.0v2.2h-1.0zM40.9 499.8h1.3v0.9h-1.3zM42.2 499.8h0.8v2.7h-0.8zM42.2 502.5h0.8v2.8h-0.8zM42.2 505.3h0.8v1.3h-0.8zM42.2 507.8h0.8v0.7h-0.8zM43.0 499.8h1.1v2.0h-1.1zM43.0 501.8h1.1v0.5h-1.1zM44.1 499.8h1.1v1.3h-1.1zM44.1 501.1h1.1v1.3h-1.1zM45.2 499.8h1.1v1.1h-1.1zM45.2 500.9h1.1v2.6h-1.1zM45.2 503.5h1.1v0.5h-1.1zM46.3 499.6h1.3v2.7h-1.3zM47.6 498.6h1.3v1.6h-1.3zM47.6 500.2h1.3v3.9h-1.3zM47.6 504.1h1.3v0.7h-1.3zM48.9 497.6h1.3v2.6h-1.3zM50.2 496.8h0.8v3.6h-0.8zM50.2 500.4h0.8v3.6h-0.8zM50.2 505.0h0.8v2.1h-0.8zM50.2 508.6h0.8v1.3h-0.8zM51.0 496.7h1.1v3.7h-1.1zM51.0 500.4h1.1v3.3h-1.1zM52.1 496.6h0.8v2.5h-0.8zM52.1 499.2h0.8v0.2h-0.8zM52.9 496.6h0.8v2.6h-0.8zM52.9 499.2h0.8v3.6h-0.8zM52.9 502.8h0.8v1.1h-0.8zM53.7 496.5h1.1v3.3h-1.1zM53.7 499.8h1.1v2.3h-1.1zM54.8 496.5h1.0v3.9h-1.0zM54.8 500.4h1.0v1.1h-1.0zM54.8 503.3h1.0v1.2h-1.0zM55.8 496.4h1.1v1.6h-1.1zM55.8 497.9h1.1v1.2h-1.1zM58.0 496.2h0.8v3.8h-0.8zM58.0 500.0h0.8v2.7h-0.8zM58.0 503.4h0.8v2.1h-0.8zM58.0 506.6h0.8v3.0h-0.8zM58.0 510.3h0.8v2.8h-0.8zM58.0 513.6h0.8v1.6h-0.8zM58.8 496.2h1.1v3.7h-1.1zM58.8 499.8h1.1v1.8h-1.1zM59.9 496.1h1.0v3.2h-1.0zM61.9 495.9h1.3v1.8h-1.3zM61.9 497.7h1.3v4.0h-1.3zM61.9 501.7h1.3v1.4h-1.3zM63.2 495.8h0.6v2.4h-0.6zM63.2 498.3h0.6v1.1h-0.6zM63.2 499.4h0.6v3.4h-0.6zM63.2 504.1h0.6v2.7h-0.6zM47.8 509.4h1.1v1.1h-1.1zM54.9 497.9h1.1v1.1h-1.1zM43.5 503.9h1.1v1.1h-1.1zM47.2 528.7h1.1v1.1h-1.1zM60.8 496.2h1.1v1.1h-1.1zM51.8 497.8h1.1v1.1h-1.1zM58.8 501.2h1.1v1.1h-1.1zM59.8 511.9h1.1v1.1h-1.1zM60.8 497.4h1.1v1.1h-1.1zM35.9 509.6h1.1v1.1h-1.1zM47.4 508.7h1.1v1.1h-1.1zM46.8 502.9h1.1v1.1h-1.1zM55.1 499.6h1.1v1.1h-1.1zM48.3 501.6h1.1v1.1h-1.1zM53.4 497.2h1.1v1.1h-1.1zM47.3 504.6h1.1v1.1h-1.1zM53.7 511.8h1.1v1.1h-1.1zM44.7 521.2h1.1v1.1h-1.1zM54.2 499.8h1.1v1.1h-1.1zM50.2 499.9h1.1v1.1h-1.1zM52.8 497.0h1.1v1.1h-1.1zM59.8 499.2h1.1v1.1h-1.1zM34.4 500.6h1.1v1.1h-1.1zM43.8 502.0h1.1v1.1h-1.1zM58.1 499.5h1.1v1.1h-1.1zM60.3 498.4h1.1v1.1h-1.1zM44.0 519.6h1.1v1.1h-1.1zM58.7 514.3h1.1v1.1h-1.1zM37.4 500.5h1.1v1.1h-1.1zM54.0 499.4h1.1v1.1h-1.1zM37.1 500.6h1.1v1.1h-1.1zM43.3 502.4h1.1v1.1h-1.1zM53.1 526.3h1.1v1.1h-1.1zM38.9 510.3h1.1v1.1h-1.1zM51.1 510.0h1.1v1.1h-1.1zM62.5 512.2h1.1v1.1h-1.1zM37.9 508.7h1.1v1.1h-1.1zM56.2 499.7h1.1v1.1h-1.1zM35.0 509.3h1.1v1.1h-1.1zM52.1 506.1h1.1v1.1h-1.1zM55.7 505.2h1.1v1.1h-1.1zM35.3 518.4h1.1v1.1h-1.1zM61.4 499.0h1.1v1.1h-1.1zM56.6 514.6h1.1v1.1h-1.1zM46.4 404.4h1.1v1.1h-1.1zM51.3 414.2h1.1v1.1h-1.1zM45.9 412.4h1.1v1.1h-1.1zM61.4 405.5h1.1v1.1h-1.1zM60.1 400.2h1.1v1.1h-1.1zM51.1 415.3h1.1v1.1h-1.1zM45.7 513.5h1.1v1.1h-1.1zM42.0 515.4h1.1v1.1h-1.1zM45.3 516.5h1.1v1.1h-1.1zM41.1 520.7h1.1v1.1h-1.1z"/><path fill="#fff" d="M40.5 426.6h0.9v0.9h-0.9zM36.7 438.0h0.7v0.7h-0.7zM39.3 431.5h1.0v1.0h-1.0zM47.9 433.6h1.0v1.0h-1.0zM39.9 429.5h0.7v0.7h-0.7zM54.0 429.4h0.7v0.7h-0.7zM52.2 431.3h1.0v1.0h-1.0zM34.5 427.5h0.7v0.7h-0.7zM50.8 428.0h1.0v1.0h-1.0zM60.1 431.6h0.7v0.7h-0.7zM34.2 432.5h0.7v0.7h-0.7zM50.6 425.2h0.9v0.9h-0.9zM61.5 429.8h1.0v1.0h-1.0zM37.0 434.7h0.9v0.9h-0.9zM36.8 427.7h0.7v0.7h-0.7zM46.3 431.9h0.7v0.7h-0.7zM46.7 427.5h0.9v0.9h-0.9zM37.7 426.8h0.9v0.9h-0.9zM60.3 426.3h1.0v1.0h-1.0zM42.3 429.8h1.0v1.0h-1.0zM40.9 433.5h0.7v0.7h-0.7zM48.0 425.1h1.0v1.0h-1.0zM57.3 426.0h0.9v0.9h-0.9zM40.5 435.1h0.7v0.7h-0.7zM34.5 426.6h1.0v1.0h-1.0zM38.4 433.3h0.9v0.9h-0.9zM55.6 425.2h1.0v1.0h-1.0zM45.4 425.6h0.9v0.9h-0.9zM61.7 430.6h1.0v1.0h-1.0zM39.1 431.2h1.0v1.0h-1.0zM43.1 426.4h0.9v0.9h-0.9zM58.6 427.8h1.0v1.0h-1.0zM38.4 426.9h0.7v0.7h-0.7zM57.3 425.7h0.9v0.9h-0.9zM56.1 427.0h0.9v0.9h-0.9zM35.0 429.3h1.0v1.0h-1.0zM37.1 426.7h0.9v0.9h-0.9zM49.5 428.1h0.7v0.7h-0.7zM35.7 434.2h1.0v1.0h-1.0zM57.0 429.5h1.0v1.0h-1.0zM49.6 425.4h1.0v1.0h-1.0zM45.8 434.1h0.9v0.9h-0.9zM56.9 425.7h0.7v0.7h-0.7zM56.3 434.8h0.9v0.9h-0.9zM52.0 426.8h0.9v0.9h-0.9zM47.4 428.6h0.9v0.9h-0.9zM45.3 428.3h0.7v0.7h-0.7zM60.2 428.8h0.9v0.9h-0.9zM39.0 428.3h0.9v0.9h-0.9zM48.2 425.4h1.0v1.0h-1.0zM49.7 425.0h0.9v0.9h-0.9zM49.1 431.3h1.0v1.0h-1.0zM51.8 433.6h0.7v0.7h-0.7zM41.5 435.6h1.0v1.0h-1.0zM47.0 426.9h0.7v0.7h-0.7zM38.9 427.7h1.0v1.0h-1.0zM48.4 425.6h0.7v0.7h-0.7zM42.6 428.1h1.0v1.0h-1.0zM46.5 426.5h0.9v0.9h-0.9zM62.5 426.1h0.9v0.9h-0.9zM48.3 425.7h0.7v0.7h-0.7zM61.5 427.4h0.7v0.7h-0.7zM34.3 429.1h0.9v0.9h-0.9zM57.0 428.3h0.7v0.7h-0.7zM62.3 427.2h0.7v0.7h-0.7zM34.8 425.9h0.9v0.9h-0.9zM34.5 428.2h1.0v1.0h-1.0zM46.9 427.9h1.0v1.0h-1.0zM54.5 430.1h0.7v0.7h-0.7zM53.3 431.7h1.0v1.0h-1.0zM43.8 427.2h0.7v0.7h-0.7zM53.0 426.2h0.7v0.7h-0.7zM49.4 425.9h1.0v1.0h-1.0zM47.1 425.7h1.0v1.0h-1.0zM43.6 498.5h0.9v0.9h-0.9zM44.0 498.2h1.0v1.0h-1.0zM38.4 495.7h0.7v0.7h-0.7zM58.8 493.2h0.9v0.9h-0.9zM44.9 495.8h0.9v0.9h-0.9zM43.7 498.1h0.9v0.9h-0.9zM53.7 494.6h0.7v0.7h-0.7zM39.8 496.9h1.0v1.0h-1.0zM58.1 495.3h1.0v1.0h-1.0zM42.7 497.2h1.0v1.0h-1.0zM56.7 493.5h1.0v1.0h-1.0zM35.6 498.1h1.0v1.0h-1.0zM50.6 494.2h0.9v0.9h-0.9zM61.9 485.5h1.0v1.0h-1.0zM46.6 486.0h1.0v1.0h-1.0zM46.6 487.0h1.0v1.0h-1.0zM46.8 489.0h1.0v1.0h-1.0zM46.9 490.0h1.0v1.0h-1.0zM46.7 491.0h1.0v1.0h-1.0zM46.6 494.0h1.0v1.0h-1.0zM47.0 495.0h1.0v1.0h-1.0zM46.6 496.0h1.0v1.0h-1.0zM46.8 497.0h1.0v1.0h-1.0zM46.7 498.0h1.0v1.0h-1.0zM47.1 499.0h1.0v1.0h-1.0zM46.8 501.0h1.0v1.0h-1.0zM47.1 502.0h1.0v1.0h-1.0zM47.1 503.0h1.0v1.0h-1.0zM46.6 504.0h1.0v1.0h-1.0z"/><path d="M65.4,409 L65.74,408.58 L66.07,408.16 L66.41,407.74 L66.74,407.32 L67.08,407 L67.41,407 L67.75,407 L68.08,407 L68.42,407 L68.75,407 L69.09,407 L69.42,407 L69.76,407 L70.09,407 L70.43,407 L70.76,407 L71.1,407 L71.43,407 L71.77,407 L72.1,407 L72.44,407 L72.77,407 L73.11,407 L73.44,407 L73.78,407 L74.11,407 L74.45,407 L74.78,407 L75.12,407 L75.45,407 L75.79,407 L76.12,407.49 L76.46,408.83 L76.79,410.17 L77.13,411.51 L77.46,412.86 L77.8,413.03 L78.13,413.07 L78.47,413.1 L78.8,413.13 L79.14,413.17 L79.47,413.2 L79.81,413.24 L80.14,413.27 L80.48,413.31 L80.81,413.34 L81.15,413.38 L81.49,413.41 L81.82,413.45 L82.16,413.48 L82.49,413.51 L82.83,413.55 L83.16,413.58 L83.5,413.62 L83.83,413.65 L84.17,413.69 L84.5,413.72 L84.84,413.76 L85.17,413.79 L85.51,413.83 L85.84,413.86 L86.18,413.89 L86.51,413.93 L86.85,413.96 L87.18,414 L87.52,414.03 L87.85,414.07 L88.19,414.1 L88.52,414.14 L88.86,414.17 L89.19,414.21 L89.53,414.24 L89.86,414.27 L90.2,414.31 L90.53,414.34 L90.87,414.38 L91.2,414.41 L91.54,414.45 L91.87,414.48 L92.21,414.52 L92.54,414.55 L92.88,414.59 L93.21,414.62 L93.55,414.65 L93.88,414.69 L94.22,414.72 L94.55,414.76 L94.89,414.79 L95.22,414.83 L95.56,414.86 L95.89,414.9 L96.23,414.93 L96.56,414.97 L96.9,415 L96.9,498 L96.56,498.03 L96.23,498.06 L95.89,498.08 L95.56,498.11 L95.22,498.14 L94.89,498.17 L94.55,498.2 L94.22,498.23 L93.88,498.25 L93.55,498.28 L93.21,498.31 L92.88,498.34 L92.54,498.37 L92.21,498.39 L91.87,498.42 L91.54,498.45 L91.2,498.48 L90.87,498.51 L90.53,498.54 L90.2,498.56 L89.86,498.59 L89.53,498.62 L89.19,498.65 L88.86,498.68 L88.52,498.7 L88.19,498.73 L87.85,498.76 L87.52,498.79 L87.18,498.82 L86.85,498.84 L86.51,498.87 L86.18,498.9 L85.84,498.93 L85.51,498.96 L85.17,498.99 L84.84,499 L84.5,499 L84.17,499 L83.83,499 L83.5,499 L83.16,499 L82.83,499 L82.49,499 L82.16,499 L81.82,499 L81.49,499 L81.15,499 L80.81,499 L80.48,499 L80.14,499 L79.81,499 L79.47,499 L79.14,499 L78.8,499 L78.47,499 L78.13,499 L77.8,499 L77.46,499 L77.13,499 L76.79,499 L76.46,499 L76.12,499 L75.79,499 L75.45,499 L75.12,499 L74.78,499 L74.45,499 L74.11,499 L73.78,499 L73.44,499 L73.11,499 L72.77,499 L72.44,499 L72.1,499 L71.77,499 L71.43,499 L71.1,499 L70.76,499 L70.43,499 L70.09,499 L69.76,499 L69.42,499 L69.09,502.7 L68.75,512 L68.42,512 L68.08,512 L67.75,512 L67.41,512 L67.08,512 L66.74,512 L66.41,512 L66.07,512 L65.74,512 L65.4,512Z" fill="#40FFE0"/><path fill="#40FFE0" d="M75.8 405.8h1.1v1.1h-1.1zM75.9 405.5h1.1v1.1h-1.1zM77.8 412.7h1.1v1.1h-1.1zM84.5 410.2h1.1v1.1h-1.1zM72.2 406.6h1.1v1.1h-1.1zM66.5 407.1h1.1v1.1h-1.1zM81.1 410.4h1.1v1.1h-1.1zM93.9 409.5h1.1v1.1h-1.1zM70.2 406.1h1.1v1.1h-1.1zM71.4 406.8h1.1v1.1h-1.1zM66.3 405.6h1.1v1.1h-1.1zM94.4 403.3h1.1v1.1h-1.1zM66.1 407.2h1.1v1.1h-1.1zM76.1 401.5h1.1v1.1h-1.1zM68.5 405.3h1.1v1.1h-1.1zM92.0 409.9h1.1v1.1h-1.1zM70.9 404.8h1.1v1.1h-1.1zM86.1 413.5h1.1v1.1h-1.1zM91.6 411.1h1.1v1.1h-1.1zM76.5 408.0h1.1v1.1h-1.1zM68.1 400.0h1.1v1.1h-1.1zM71.2 404.3h1.1v1.1h-1.1zM86.6 411.2h1.1v1.1h-1.1zM89.6 413.3h1.1v1.1h-1.1zM85.7 413.1h1.1v1.1h-1.1zM86.9 409.8h1.1v1.1h-1.1zM79.6 409.3h1.1v1.1h-1.1zM86.0 413.8h1.1v1.1h-1.1zM71.9 406.3h1.1v1.1h-1.1zM86.4 408.6h1.1v1.1h-1.1zM72.4 399.3h1.1v1.1h-1.1zM71.4 405.3h1.1v1.1h-1.1zM91.2 413.4h1.1v1.1h-1.1zM91.5 414.3h1.1v1.1h-1.1zM74.3 401.5h1.1v1.1h-1.1zM85.3 413.4h1.1v1.1h-1.1zM80.3 411.0h1.1v1.1h-1.1zM66.3 399.8h1.1v1.1h-1.1zM66.2 400.1h1.1v1.1h-1.1zM86.5 410.7h1.1v1.1h-1.1zM76.7 408.8h1.1v1.1h-1.1zM80.4 404.1h1.1v1.1h-1.1zM68.3 405.1h1.1v1.1h-1.1zM83.8 402.9h1.1v1.1h-1.1zM86.8 405.1h1.1v1.1h-1.1zM86.7 412.2h1.1v1.1h-1.1zM93.9 414.6h1.1v1.1h-1.1zM88.1 414.1h1.1v1.1h-1.1zM68.1 406.8h1.1v1.1h-1.1zM79.1 408.4h1.1v1.1h-1.1zM89.6 411.3h1.1v1.1h-1.1zM76.6 408.5h1.1v1.1h-1.1zM79.2 412.0h1.1v1.1h-1.1zM81.0 410.2h1.1v1.1h-1.1zM68.2 399.1h1.1v1.1h-1.1zM69.4 400.8h1.1v1.1h-1.1zM65.9 408.4h1.1v1.1h-1.1zM94.6 413.6h1.1v1.1h-1.1zM77.3 407.7h1.1v1.1h-1.1zM67.9 404.2h1.1v1.1h-1.1zM91.8 412.5h1.1v1.1h-1.1zM66.1 407.6h1.1v1.1h-1.1zM92.0 413.8h1.1v1.1h-1.1zM86.9 410.9h1.1v1.1h-1.1zM88.9 411.1h1.1v1.1h-1.1zM81.7 408.6h1.1v1.1h-1.1zM87.3 413.2h1.1v1.1h-1.1zM67.6 404.3h1.1v1.1h-1.1zM82.9 410.3h1.1v1.1h-1.1zM83.6 412.0h1.1v1.1h-1.1zM70.6 406.4h1.1v1.1h-1.1zM73.7 403.5h1.1v1.1h-1.1zM77.9 408.0h1.1v1.1h-1.1zM75.1 401.5h1.1v1.1h-1.1zM94.9 411.5h1.1v1.1h-1.1zM89.6 413.2h1.1v1.1h-1.1zM79.4 411.7h1.1v1.1h-1.1zM77.6 402.2h1.1v1.1h-1.1zM87.7 413.1h1.1v1.1h-1.1zM78.6 411.4h1.1v1.1h-1.1zM79.4 404.4h1.1v1.1h-1.1zM84.7 411.7h1.1v1.1h-1.1zM83.1 412.3h1.1v1.1h-1.1zM69.4 405.5h1.1v1.1h-1.1zM90.0 409.5h1.1v1.1h-1.1zM66.4 404.7h1.1v1.1h-1.1zM88.7 411.2h1.1v1.1h-1.1zM94.4 413.6h1.1v1.1h-1.1zM70.5 405.5h1.1v1.1h-1.1zM66.1 402.3h1.1v1.1h-1.1zM78.9 409.9h1.1v1.1h-1.1zM80.7 411.1h1.1v1.1h-1.1zM76.9 405.8h1.1v1.1h-1.1zM91.9 400.0h1.1v1.1h-1.1zM82.6 411.6h1.1v1.1h-1.1zM82.7 404.0h1.1v1.1h-1.1zM75.5 407.0h1.1v1.1h-1.1zM80.7 407.4h1.1v1.1h-1.1zM69.8 405.7h1.1v1.1h-1.1zM84.5 410.7h1.1v1.1h-1.1zM75.5 402.8h1.1v1.1h-1.1zM90.5 410.7h1.1v1.1h-1.1zM91.9 414.0h1.1v1.1h-1.1zM78.0 411.5h1.1v1.1h-1.1zM74.2 405.3h1.1v1.1h-1.1zM93.7 410.6h1.1v1.1h-1.1zM71.2 403.5h1.1v1.1h-1.1zM85.2 412.9h1.1v1.1h-1.1zM75.8 406.6h1.1v1.1h-1.1zM79.1 409.2h1.1v1.1h-1.1zM76.1 406.1h1.1v1.1h-1.1zM73.0 405.2h1.1v1.1h-1.1zM72.4 405.0h1.1v1.1h-1.1zM89.1 408.1h1.1v1.1h-1.1zM83.0 405.6h1.1v1.1h-1.1zM74.2 403.5h1.1v1.1h-1.1zM76.6 408.5h1.1v1.1h-1.1zM77.5 412.1h1.1v1.1h-1.1zM84.4 413.2h1.1v1.1h-1.1zM87.0 410.0h1.1v1.1h-1.1zM66.0 406.8h1.1v1.1h-1.1zM85.2 410.7h1.1v1.1h-1.1zM84.2 413.6h1.1v1.1h-1.1zM88.1 413.6h1.1v1.1h-1.1zM65.9 404.1h1.1v1.1h-1.1zM78.6 412.5h1.1v1.1h-1.1zM69.7 405.6h1.1v1.1h-1.1zM85.5 413.7h1.1v1.1h-1.1zM81.2 411.6h1.1v1.1h-1.1zM91.9 412.8h1.1v1.1h-1.1zM70.4 404.3h1.1v1.1h-1.1zM68.2 406.7h1.1v1.1h-1.1zM92.7 412.1h1.1v1.1h-1.1zM76.1 406.7h1.1v1.1h-1.1zM69.8 405.4h1.1v1.1h-1.1zM78.2 404.4h1.1v1.1h-1.1zM79.7 411.8h1.1v1.1h-1.1zM80.5 412.2h1.1v1.1h-1.1zM80.7 411.8h1.1v1.1h-1.1zM71.6 405.6h1.1v1.1h-1.1zM89.0 413.9h1.1v1.1h-1.1zM83.8 405.8h1.1v1.1h-1.1zM83.3 411.8h1.1v1.1h-1.1zM91.8 410.6h1.1v1.1h-1.1zM75.6 407.0h1.1v1.1h-1.1zM93.2 412.8h1.1v1.1h-1.1zM75.1 407.0h1.1v1.1h-1.1zM72.0 403.0h1.1v1.1h-1.1zM83.7 413.1h1.1v1.1h-1.1zM88.4 409.5h1.1v1.1h-1.1zM68.2 404.1h1.1v1.1h-1.1zM75.6 405.6h1.1v1.1h-1.1zM74.2 404.7h1.1v1.1h-1.1zM66.2 406.4h1.1v1.1h-1.1zM76.8 409.7h1.1v1.1h-1.1zM76.9 410.4h1.1v1.1h-1.1zM80.2 412.7h1.1v1.1h-1.1zM72.1 406.5h1.1v1.1h-1.1zM81.7 410.4h1.1v1.1h-1.1zM90.6 412.7h1.1v1.1h-1.1zM85.5 413.8h1.1v1.1h-1.1zM81.4 408.0h1.1v1.1h-1.1zM76.3 407.8h1.1v1.1h-1.1zM93.3 410.0h1.1v1.1h-1.1zM75.1 406.6h1.1v1.1h-1.1zM77.0 409.1h1.1v1.1h-1.1zM73.4 401.2h1.1v1.1h-1.1zM82.5 408.5h1.1v1.1h-1.1zM81.4 405.0h1.1v1.1h-1.1zM84.7 411.7h1.1v1.1h-1.1zM80.2 407.5h1.1v1.1h-1.1zM84.3 411.3h1.1v1.1h-1.1zM70.5 400.6h1.1v1.1h-1.1zM85.8 401.3h1.1v1.1h-1.1zM77.8 412.3h1.1v1.1h-1.1zM67.0 405.8h1.1v1.1h-1.1zM80.6 412.5h1.1v1.1h-1.1zM87.4 413.4h1.1v1.1h-1.1zM93.3 414.1h1.1v1.1h-1.1zM70.9 406.6h1.1v1.1h-1.1zM89.4 407.8h1.1v1.1h-1.1zM65.4 511.8h1.0v2.0h-1.0zM65.4 513.8h1.0v1.5h-1.0zM66.4 511.8h0.8v3.3h-0.8zM66.4 515.1h0.8v1.8h-0.8zM66.4 518.2h0.8v1.0h-0.8zM66.4 519.9h0.8v1.2h-0.8zM66.4 522.9h0.8v0.7h-0.8zM69.4 498.8h1.1v1.2h-1.1zM69.4 500.0h1.1v2.7h-1.1zM69.4 502.7h1.1v0.0h-1.1zM70.5 498.8h0.8v2.1h-0.8zM70.5 500.9h0.8v3.9h-0.8zM70.5 504.8h0.8v1.7h-0.8zM71.3 498.8h1.1v1.7h-1.1zM71.3 500.5h1.1v1.8h-1.1zM71.3 502.2h1.1v1.0h-1.1zM73.5 498.8h1.0v3.6h-1.0zM73.5 502.4h1.0v2.1h-1.0zM73.5 505.6h1.0v3.7h-1.0zM74.5 498.8h0.8v1.1h-0.8zM74.5 499.9h0.8v2.3h-0.8zM75.3 498.8h1.1v2.9h-1.1zM75.3 501.7h1.1v2.3h-1.1zM76.4 498.8h1.0v1.8h-1.0zM76.4 500.6h1.0v1.0h-1.0zM76.4 501.6h1.0v1.1h-1.0zM77.4 498.8h0.8v1.0h-0.8zM78.2 498.8h1.0v1.2h-1.0zM79.2 498.8h0.8v0.7h-0.8zM80.0 498.8h1.3v3.4h-1.3zM80.0 502.2h1.3v3.1h-1.3zM80.0 506.8h1.3v1.2h-1.3zM80.0 509.1h1.3v1.0h-1.3zM81.3 498.8h1.1v2.7h-1.1zM81.3 501.5h1.1v2.6h-1.1zM81.3 505.6h1.1v3.1h-1.1zM81.3 509.7h1.1v1.2h-1.1zM82.4 498.8h1.3v2.4h-1.3zM82.4 501.2h1.3v0.2h-1.3zM83.7 498.8h1.0v3.7h-1.0zM83.7 502.5h1.0v1.0h-1.0zM83.7 504.5h1.0v0.3h-1.0zM85.7 498.7h1.0v1.1h-1.0zM85.7 499.9h1.0v2.1h-1.0zM85.7 502.0h1.0v2.8h-1.0zM85.7 506.6h1.0v1.5h-1.0zM85.7 510.1h1.0v3.8h-1.0zM85.7 515.4h1.0v3.1h-1.0zM86.7 498.7h0.8v1.8h-0.8zM86.7 500.5h0.8v2.2h-0.8zM86.7 502.6h0.8v0.3h-0.8zM87.5 498.6h0.8v2.6h-0.8zM87.5 501.2h0.8v3.6h-0.8zM87.5 504.7h0.8v1.5h-0.8zM87.5 507.3h0.8v3.1h-0.8zM87.5 511.4h0.8v3.2h-0.8zM87.5 516.5h0.8v0.1h-0.8zM88.3 498.5h1.0v1.7h-1.0zM88.3 500.2h1.0v3.4h-1.0zM88.3 503.6h1.0v2.7h-1.0zM89.3 498.4h1.1v1.9h-1.1zM89.3 500.4h1.1v1.8h-1.1zM89.3 502.2h1.1v1.4h-1.1zM90.4 498.3h1.0v2.1h-1.0zM90.4 500.4h1.0v1.8h-1.0zM90.4 502.2h1.0v1.3h-1.0zM91.4 498.3h1.3v1.6h-1.3zM91.4 499.9h1.3v2.4h-1.3zM92.7 498.2h1.0v2.9h-1.0zM92.7 501.0h1.0v3.0h-1.0zM93.7 498.1h0.8v4.0h-0.8zM93.7 502.1h0.8v2.2h-0.8zM94.5 498.0h0.8v1.4h-0.8zM96.4 497.8h0.5v3.9h-0.5zM96.4 501.8h0.5v1.7h-0.5zM96.4 505.0h0.5v3.4h-0.5zM96.4 509.3h0.5v0.5h-0.5zM81.0 502.2h1.1v1.1h-1.1zM67.5 516.1h1.1v1.1h-1.1zM72.0 504.7h1.1v1.1h-1.1zM72.0 499.1h1.1v1.1h-1.1zM77.1 520.1h1.1v1.1h-1.1zM93.4 500.6h1.1v1.1h-1.1zM93.2 508.1h1.1v1.1h-1.1zM74.0 504.2h1.1v1.1h-1.1zM80.7 499.7h1.1v1.1h-1.1zM73.9 503.6h1.1v1.1h-1.1zM70.6 502.7h1.1v1.1h-1.1zM91.3 499.7h1.1v1.1h-1.1zM76.7 502.7h1.1v1.1h-1.1zM85.3 504.8h1.1v1.1h-1.1zM92.1 507.2h1.1v1.1h-1.1zM76.6 500.3h1.1v1.1h-1.1zM71.2 503.6h1.1v1.1h-1.1zM77.1 509.1h1.1v1.1h-1.1zM70.1 501.1h1.1v1.1h-1.1zM77.8 507.1h1.1v1.1h-1.1zM71.7 516.3h1.1v1.1h-1.1zM87.2 501.5h1.1v1.1h-1.1zM81.7 524.0h1.1v1.1h-1.1zM95.2 498.7h1.1v1.1h-1.1zM78.8 511.9h1.1v1.1h-1.1zM80.7 514.2h1.1v1.1h-1.1zM76.9 504.2h1.1v1.1h-1.1zM71.7 500.4h1.1v1.1h-1.1zM84.0 505.9h1.1v1.1h-1.1zM78.4 499.7h1.1v1.1h-1.1zM79.6 502.2h1.1v1.1h-1.1zM68.4 522.2h1.1v1.1h-1.1zM77.1 512.3h1.1v1.1h-1.1zM67.6 514.5h1.1v1.1h-1.1zM77.2 500.6h1.1v1.1h-1.1zM79.6 502.3h1.1v1.1h-1.1zM72.6 500.3h1.1v1.1h-1.1zM65.8 525.7h1.1v1.1h-1.1zM86.7 501.4h1.1v1.1h-1.1zM87.7 507.2h1.1v1.1h-1.1zM95.3 499.8h1.1v1.1h-1.1zM79.2 499.3h1.1v1.1h-1.1zM90.1 499.2h1.1v1.1h-1.1zM66.9 514.6h1.1v1.1h-1.1zM91.1 514.5h1.1v1.1h-1.1zM84.3 390.2h1.1v1.1h-1.1zM76.0 395.3h1.1v1.1h-1.1zM94.6 405.4h1.1v1.1h-1.1zM92.8 394.8h1.1v1.1h-1.1zM90.4 391.7h1.1v1.1h-1.1zM94.3 402.2h1.1v1.1h-1.1zM70.0 521.0h1.1v1.1h-1.1zM85.7 524.5h1.1v1.1h-1.1zM70.1 525.9h1.1v1.1h-1.1zM86.2 507.5h1.1v1.1h-1.1z"/><path fill="#fff" d="M94.1 421.9h0.9v0.9h-0.9zM91.3 414.6h0.7v0.7h-0.7zM92.3 415.7h1.0v1.0h-1.0zM92.8 417.0h0.7v0.7h-0.7zM80.2 419.5h0.7v0.7h-0.7zM84.0 426.8h1.0v1.0h-1.0zM68.9 408.8h1.0v1.0h-1.0zM81.8 415.8h1.0v1.0h-1.0zM86.9 421.0h1.0v1.0h-1.0zM72.5 411.3h0.9v0.9h-0.9zM82.8 415.7h0.7v0.7h-0.7zM66.9 408.2h0.7v0.7h-0.7zM76.7 410.4h0.9v0.9h-0.9zM83.8 414.4h0.7v0.7h-0.7zM92.7 421.5h1.0v1.0h-1.0zM83.9 415.9h0.9v0.9h-0.9zM75.6 410.4h1.0v1.0h-1.0zM75.6 410.8h0.9v0.9h-0.9zM86.7 417.6h0.9v0.9h-0.9zM84.4 416.2h0.7v0.7h-0.7zM67.8 407.7h0.9v0.9h-0.9zM85.5 415.2h0.9v0.9h-0.9zM67.4 410.6h0.9v0.9h-0.9zM73.8 408.7h0.9v0.9h-0.9zM78.1 415.4h0.9v0.9h-0.9zM72.2 408.5h1.0v1.0h-1.0zM68.7 411.5h0.9v0.9h-0.9zM74.0 407.8h1.0v1.0h-1.0zM74.4 407.5h1.0v1.0h-1.0zM74.3 415.1h0.9v0.9h-0.9zM81.4 418.5h0.7v0.7h-0.7zM80.4 420.4h1.0v1.0h-1.0zM80.7 414.7h1.0v1.0h-1.0zM75.6 420.0h0.7v0.7h-0.7zM89.0 415.7h0.7v0.7h-0.7zM88.9 417.6h1.0v1.0h-1.0zM91.8 421.0h0.9v0.9h-0.9zM78.5 422.4h1.0v1.0h-1.0zM95.1 415.1h0.9v0.9h-0.9zM69.6 409.8h0.9v0.9h-0.9zM75.9 418.0h0.7v0.7h-0.7zM81.0 421.0h0.9v0.9h-0.9zM89.6 414.4h0.9v0.9h-0.9zM92.3 414.6h0.7v0.7h-0.7zM90.6 424.3h0.7v0.7h-0.7zM70.1 408.4h0.9v0.9h-0.9zM73.1 418.2h0.7v0.7h-0.7zM71.8 422.0h1.0v1.0h-1.0zM80.5 420.1h0.9v0.9h-0.9zM91.6 419.7h0.9v0.9h-0.9zM65.8 413.4h1.0v1.0h-1.0zM91.3 415.8h1.0v1.0h-1.0zM93.8 415.2h1.0v1.0h-1.0zM92.4 417.0h0.7v0.7h-0.7zM85.9 418.4h1.0v1.0h-1.0zM85.4 422.4h0.7v0.7h-0.7zM72.4 421.4h0.7v0.7h-0.7zM85.3 414.4h0.7v0.7h-0.7zM72.6 408.6h1.0v1.0h-1.0zM66.2 412.8h0.7v0.7h-0.7zM92.1 416.1h0.9v0.9h-0.9zM94.0 419.4h0.9v0.9h-0.9zM89.4 419.0h0.7v0.7h-0.7zM90.5 415.3h0.7v0.7h-0.7zM71.6 421.5h1.0v1.0h-1.0zM84.0 423.8h0.9v0.9h-0.9zM91.4 415.8h1.0v1.0h-1.0zM76.4 409.5h0.9v0.9h-0.9zM72.4 412.9h0.9v0.9h-0.9zM78.9 418.4h0.9v0.9h-0.9zM76.3 408.6h0.9v0.9h-0.9zM86.0 414.9h0.9v0.9h-0.9zM74.8 407.0h0.9v0.9h-0.9zM82.5 421.1h1.0v1.0h-1.0zM79.3 413.4h0.7v0.7h-0.7zM86.5 418.4h1.0v1.0h-1.0zM77.3 413.0h1.0v1.0h-1.0zM92.0 422.5h0.7v0.7h-0.7zM90.8 496.1h0.9v0.9h-0.9zM73.6 496.9h1.0v1.0h-1.0zM75.9 492.1h0.7v0.7h-0.7zM91.0 496.3h0.9v0.9h-0.9zM79.5 497.6h1.0v1.0h-1.0zM84.5 496.7h0.9v0.9h-0.9zM78.8 495.1h1.0v1.0h-1.0zM94.8 495.7h0.9v0.9h-0.9zM90.5 496.9h0.9v0.9h-0.9zM80.5 497.6h0.9v0.9h-0.9zM94.4 496.0h1.0v1.0h-1.0zM83.7 497.7h1.0v1.0h-1.0zM90.0 489.8h0.9v0.9h-0.9zM88.5 496.9h0.9v0.9h-0.9zM73.9 496.4h1.0v1.0h-1.0zM69.9 486.0h1.0v1.0h-1.0zM69.6 487.0h1.0v1.0h-1.0zM69.6 488.0h1.0v1.0h-1.0zM69.5 489.0h1.0v1.0h-1.0zM69.9 491.0h1.0v1.0h-1.0zM69.9 492.0h1.0v1.0h-1.0zM69.9 493.0h1.0v1.0h-1.0zM69.6 494.0h1.0v1.0h-1.0zM69.9 495.0h1.0v1.0h-1.0zM69.5 496.0h1.0v1.0h-1.0zM69.9 497.0h1.0v1.0h-1.0zM69.9 498.0h1.0v1.0h-1.0zM69.8 499.0h1.0v1.0h-1.0z"/><path d="M98.2,412 L98.54,412 L98.87,412 L99.21,412 L99.54,412 L99.88,412 L100.21,412 L100.55,412 L100.88,412 L101.22,412 L101.55,412 L101.89,412 L102.22,412 L102.56,412 L102.89,412 L103.23,412 L103.56,412 L103.9,412 L104.23,412 L104.57,412 L104.9,412 L105.24,412 L105.57,412 L105.91,412 L106.24,412 L106.58,412 L106.91,412 L107.25,412 L107.58,412 L107.92,412 L108.25,412 L108.59,412 L108.92,412 L109.26,412.52 L109.59,413.19 L109.93,413.86 L110.26,414.53 L110.6,415.2 L110.93,415.87 L111.27,416.54 L111.6,417.67 L111.94,419.84 L112.27,422.01 L112.61,424.17 L112.94,426.34 L113.28,427.52 L113.61,425.47 L113.95,423.42 L114.28,421.37 L114.62,419.33 L114.95,417.28 L115.29,415.84 L115.62,414.5 L115.96,413.16 L116.29,411.82 L116.63,410.48 L116.96,409.14 L117.3,408.91 L117.64,408.82 L117.97,408.72 L118.31,408.63 L118.64,408.53 L118.98,408.44 L119.31,408.34 L119.65,408.24 L119.98,408.15 L120.32,408.05 L120.65,407.96 L120.99,407.86 L121.32,407.77 L121.66,407.67 L121.99,407.57 L122.33,407.48 L122.66,407.38 L123,407.29 L123.33,407.19 L123.67,407.1 L124,407 L124.34,407.22 L124.67,407.45 L125.01,407.67 L125.34,407.89 L125.68,408.12 L126.01,408.34 L126.35,408.56 L126.68,408.79 L127.02,409.01 L127.35,409.24 L127.69,409.46 L128.02,409.68 L128.36,409.91 L128.69,410.13 L129.03,410.35 L129.36,410.58 L129.7,410.8 L130.03,411.03 L130.37,411.29 L130.7,411.55 L131.04,411.81 L131.37,412.07 L131.71,412.33 L132.04,412.6 L132.38,412.86 L132.71,413.12 L133.05,413.38 L133.38,413.64 L133.72,413.91 L134.05,414.17 L134.39,414.43 L134.72,414.69 L135.06,414.95 L135.39,415.21 L135.73,415.48 L136.06,415.74 L136.4,416 L136.4,488 L136.06,488.14 L135.73,488.27 L135.39,488.41 L135.06,488.54 L134.72,488.68 L134.39,488.81 L134.05,488.95 L133.72,489.08 L133.38,489.22 L133.05,489.35 L132.71,489.49 L132.38,489.62 L132.04,489.76 L131.71,489.89 L131.37,490.03 L131.04,490.16 L130.7,490.3 L130.37,490.43 L130.03,490.57 L129.7,490.7 L129.36,490.84 L129.03,490.97 L128.69,491.11 L128.36,491.24 L128.02,491.38 L127.69,491.51 L127.35,491.65 L127.02,491.78 L126.68,491.92 L126.35,492.05 L126.01,492.19 L125.68,492.32 L125.34,492.46 L125.01,492.59 L124.67,492.73 L124.34,492.86 L124,493 L123.67,493.14 L123.33,493.28 L123,493.42 L122.66,493.56 L122.33,493.7 L121.99,493.84 L121.66,493.98 L121.32,494.12 L120.99,494.26 L120.65,494.4 L120.32,494.54 L119.98,494.67 L119.65,494.81 L119.31,494.95 L118.98,495.09 L118.64,495.23 L118.31,495.37 L117.97,495.51 L117.64,495.65 L117.3,495.79 L116.96,495.93 L116.63,496.07 L116.29,496.21 L115.96,496.35 L115.62,496.49 L115.29,496.63 L114.95,496.77 L114.62,496.91 L114.28,497.05 L113.95,497.19 L113.61,497.33 L113.28,497.47 L112.94,497.61 L112.61,497.75 L112.27,497.89 L111.94,498 L111.6,498.03 L111.27,498.05 L110.93,498.08 L110.6,498.1 L110.26,498.13 L109.93,498.15 L109.59,498.17 L109.26,498.2 L108.92,498.22 L108.59,498.25 L108.25,498.27 L107.92,498.3 L107.58,498.32 L107.25,498.34 L106.91,498.37 L106.58,498.39 L106.24,498.42 L105.91,498.44 L105.57,498.47 L105.24,498.49 L104.9,498.51 L104.57,498.54 L104.23,498.56 L103.9,498.59 L103.56,498.61 L103.23,498.64 L102.89,498.66 L102.56,498.68 L102.22,498.71 L101.89,498.73 L101.55,498.76 L101.22,498.78 L100.88,498.81 L100.55,498.83 L100.21,498.85 L99.88,498.88 L99.54,498.9 L99.21,498.93 L98.87,498.95 L98.54,498.98 L98.2,499Z" fill="#4CFF2A"/><path fill="#4CFF2A" d="M114.3 417.9h1.1v1.1h-1.1zM133.7 410.2h1.1v1.1h-1.1zM100.6 402.5h1.1v1.1h-1.1zM99.5 410.1h1.1v1.1h-1.1zM119.2 405.7h1.1v1.1h-1.1zM101.2 409.8h1.1v1.1h-1.1zM122.1 400.1h1.1v1.1h-1.1zM123.6 404.4h1.1v1.1h-1.1zM115.5 414.4h1.1v1.1h-1.1zM119.7 404.7h1.1v1.1h-1.1zM133.7 411.1h1.1v1.1h-1.1zM113.5 418.3h1.1v1.1h-1.1zM123.4 403.0h1.1v1.1h-1.1zM104.0 406.3h1.1v1.1h-1.1zM110.2 411.7h1.1v1.1h-1.1zM115.5 413.7h1.1v1.1h-1.1zM128.8 407.5h1.1v1.1h-1.1zM134.9 406.1h1.1v1.1h-1.1zM124.3 400.3h1.1v1.1h-1.1zM112.4 419.8h1.1v1.1h-1.1zM127.6 399.6h1.1v1.1h-1.1zM135.0 411.9h1.1v1.1h-1.1zM130.7 410.2h1.1v1.1h-1.1zM130.1 410.0h1.1v1.1h-1.1zM101.1 410.9h1.1v1.1h-1.1zM117.7 408.1h1.1v1.1h-1.1zM108.4 411.6h1.1v1.1h-1.1zM126.2 400.8h1.1v1.1h-1.1zM106.4 408.5h1.1v1.1h-1.1zM107.3 409.2h1.1v1.1h-1.1zM119.8 408.2h1.1v1.1h-1.1zM104.0 407.2h1.1v1.1h-1.1zM115.4 405.2h1.1v1.1h-1.1zM106.8 410.6h1.1v1.1h-1.1zM119.0 405.8h1.1v1.1h-1.1zM112.0 417.4h1.1v1.1h-1.1zM99.8 411.9h1.1v1.1h-1.1zM108.0 406.6h1.1v1.1h-1.1zM109.3 406.3h1.1v1.1h-1.1zM117.9 407.2h1.1v1.1h-1.1zM121.0 405.7h1.1v1.1h-1.1zM124.6 407.1h1.1v1.1h-1.1zM110.5 414.0h1.1v1.1h-1.1zM103.7 409.5h1.1v1.1h-1.1zM104.1 410.1h1.1v1.1h-1.1zM107.6 406.9h1.1v1.1h-1.1zM104.3 408.1h1.1v1.1h-1.1zM100.4 405.4h1.1v1.1h-1.1zM131.5 412.1h1.1v1.1h-1.1zM113.4 425.6h1.1v1.1h-1.1zM103.0 405.3h1.1v1.1h-1.1zM129.4 410.3h1.1v1.1h-1.1zM133.2 409.1h1.1v1.1h-1.1zM99.8 409.7h1.1v1.1h-1.1zM124.8 403.8h1.1v1.1h-1.1zM131.0 408.6h1.1v1.1h-1.1zM116.3 411.6h1.1v1.1h-1.1zM101.8 406.8h1.1v1.1h-1.1zM130.5 401.3h1.1v1.1h-1.1zM99.7 408.0h1.1v1.1h-1.1zM99.3 404.3h1.1v1.1h-1.1zM121.1 403.9h1.1v1.1h-1.1zM110.2 412.8h1.1v1.1h-1.1zM102.1 407.5h1.1v1.1h-1.1zM130.8 407.2h1.1v1.1h-1.1zM129.8 410.2h1.1v1.1h-1.1zM134.4 413.7h1.1v1.1h-1.1zM134.3 410.2h1.1v1.1h-1.1zM113.3 400.7h1.1v1.1h-1.1zM114.7 418.6h1.1v1.1h-1.1zM120.6 403.6h1.1v1.1h-1.1zM128.6 405.7h1.1v1.1h-1.1zM103.1 411.9h1.1v1.1h-1.1zM105.7 402.3h1.1v1.1h-1.1zM112.0 416.7h1.1v1.1h-1.1zM103.1 405.9h1.1v1.1h-1.1zM101.6 410.9h1.1v1.1h-1.1zM132.8 401.3h1.1v1.1h-1.1zM105.0 399.6h1.1v1.1h-1.1zM117.6 403.3h1.1v1.1h-1.1zM133.6 413.1h1.1v1.1h-1.1zM117.3 405.0h1.1v1.1h-1.1zM107.5 411.5h1.1v1.1h-1.1zM123.5 397.1h1.1v1.1h-1.1zM133.2 413.0h1.1v1.1h-1.1zM125.8 407.5h1.1v1.1h-1.1zM122.1 404.7h1.1v1.1h-1.1zM130.5 408.5h1.1v1.1h-1.1zM103.4 409.9h1.1v1.1h-1.1zM101.3 411.9h1.1v1.1h-1.1zM111.7 404.9h1.1v1.1h-1.1zM106.0 405.6h1.1v1.1h-1.1zM124.9 401.4h1.1v1.1h-1.1zM120.6 404.9h1.1v1.1h-1.1zM108.8 411.3h1.1v1.1h-1.1zM134.6 402.0h1.1v1.1h-1.1zM118.6 406.4h1.1v1.1h-1.1zM112.9 420.3h1.1v1.1h-1.1zM112.6 423.6h1.1v1.1h-1.1zM131.9 407.8h1.1v1.1h-1.1zM100.6 406.9h1.1v1.1h-1.1zM118.5 407.1h1.1v1.1h-1.1zM108.4 406.0h1.1v1.1h-1.1zM126.5 407.6h1.1v1.1h-1.1zM101.2 410.1h1.1v1.1h-1.1zM131.7 409.6h1.1v1.1h-1.1zM125.8 402.5h1.1v1.1h-1.1zM117.5 405.7h1.1v1.1h-1.1zM119.9 404.5h1.1v1.1h-1.1zM116.8 400.7h1.1v1.1h-1.1zM123.1 403.8h1.1v1.1h-1.1zM117.4 407.0h1.1v1.1h-1.1zM131.6 409.9h1.1v1.1h-1.1zM108.3 406.6h1.1v1.1h-1.1zM101.4 406.4h1.1v1.1h-1.1zM128.6 407.6h1.1v1.1h-1.1zM126.4 407.4h1.1v1.1h-1.1zM123.1 407.2h1.1v1.1h-1.1zM116.3 410.3h1.1v1.1h-1.1zM128.0 408.4h1.1v1.1h-1.1zM130.8 405.9h1.1v1.1h-1.1zM123.9 401.2h1.1v1.1h-1.1zM102.4 404.8h1.1v1.1h-1.1zM111.0 415.5h1.1v1.1h-1.1zM99.5 408.5h1.1v1.1h-1.1zM110.2 413.8h1.1v1.1h-1.1zM128.3 409.3h1.1v1.1h-1.1zM117.7 406.8h1.1v1.1h-1.1zM114.7 418.3h1.1v1.1h-1.1zM105.7 407.9h1.1v1.1h-1.1zM127.8 405.6h1.1v1.1h-1.1zM116.5 408.9h1.1v1.1h-1.1zM134.6 411.6h1.1v1.1h-1.1zM119.2 400.2h1.1v1.1h-1.1zM133.1 411.0h1.1v1.1h-1.1zM116.4 400.3h1.1v1.1h-1.1zM105.6 396.8h1.1v1.1h-1.1zM122.2 404.1h1.1v1.1h-1.1zM131.5 411.6h1.1v1.1h-1.1zM115.4 413.2h1.1v1.1h-1.1zM113.9 413.3h1.1v1.1h-1.1zM119.9 400.2h1.1v1.1h-1.1zM120.2 405.3h1.1v1.1h-1.1zM129.1 401.5h1.1v1.1h-1.1zM100.1 409.7h1.1v1.1h-1.1zM121.1 403.7h1.1v1.1h-1.1zM127.3 404.8h1.1v1.1h-1.1zM112.9 420.8h1.1v1.1h-1.1zM102.7 409.9h1.1v1.1h-1.1zM121.1 404.9h1.1v1.1h-1.1zM130.7 407.7h1.1v1.1h-1.1zM134.1 405.4h1.1v1.1h-1.1zM100.6 411.9h1.1v1.1h-1.1zM107.1 409.7h1.1v1.1h-1.1zM102.1 410.5h1.1v1.1h-1.1zM129.6 408.8h1.1v1.1h-1.1zM103.1 405.4h1.1v1.1h-1.1zM122.6 403.0h1.1v1.1h-1.1zM130.8 410.0h1.1v1.1h-1.1zM99.7 409.9h1.1v1.1h-1.1zM98.5 408.1h1.1v1.1h-1.1zM133.8 412.3h1.1v1.1h-1.1zM115.0 415.4h1.1v1.1h-1.1zM119.4 406.3h1.1v1.1h-1.1zM120.5 402.3h1.1v1.1h-1.1zM123.5 403.3h1.1v1.1h-1.1zM114.9 412.8h1.1v1.1h-1.1zM108.7 409.8h1.1v1.1h-1.1zM102.1 406.2h1.1v1.1h-1.1zM110.5 413.2h1.1v1.1h-1.1zM99.9 408.7h1.1v1.1h-1.1zM112.1 415.7h1.1v1.1h-1.1zM128.5 404.2h1.1v1.1h-1.1zM105.8 410.5h1.1v1.1h-1.1zM135.1 414.3h1.1v1.1h-1.1zM108.6 408.3h1.1v1.1h-1.1zM133.9 413.8h1.1v1.1h-1.1zM99.1 404.6h1.1v1.1h-1.1zM99.3 401.2h1.1v1.1h-1.1zM104.5 406.5h1.1v1.1h-1.1zM124.8 406.7h1.1v1.1h-1.1zM133.3 413.0h1.1v1.1h-1.1zM120.8 407.5h1.1v1.1h-1.1zM128.8 402.3h1.1v1.1h-1.1zM110.6 411.2h1.1v1.1h-1.1zM104.4 408.6h1.1v1.1h-1.1zM127.6 408.2h1.1v1.1h-1.1zM117.4 407.2h1.1v1.1h-1.1zM120.1 404.2h1.1v1.1h-1.1zM101.1 406.8h1.1v1.1h-1.1zM118.5 406.3h1.1v1.1h-1.1zM120.7 402.8h1.1v1.1h-1.1zM115.7 410.8h1.1v1.1h-1.1zM131.6 407.7h1.1v1.1h-1.1zM122.9 406.8h1.1v1.1h-1.1zM111.4 413.8h1.1v1.1h-1.1zM119.4 407.7h1.1v1.1h-1.1zM114.4 411.0h1.1v1.1h-1.1zM112.1 419.1h1.1v1.1h-1.1zM110.3 412.3h1.1v1.1h-1.1zM102.1 411.4h1.1v1.1h-1.1zM110.1 411.0h1.1v1.1h-1.1zM117.4 402.9h1.1v1.1h-1.1zM102.6 406.4h1.1v1.1h-1.1zM131.0 410.8h1.1v1.1h-1.1zM132.0 411.4h1.1v1.1h-1.1zM110.3 412.0h1.1v1.1h-1.1zM120.1 407.2h1.1v1.1h-1.1zM112.8 424.9h1.1v1.1h-1.1zM132.3 397.4h1.1v1.1h-1.1zM130.9 403.3h1.1v1.1h-1.1zM122.4 396.7h1.1v1.1h-1.1zM128.8 405.5h1.1v1.1h-1.1zM126.0 404.0h1.1v1.1h-1.1zM101.4 409.5h1.1v1.1h-1.1zM100.8 411.3h1.1v1.1h-1.1zM134.3 413.8h1.1v1.1h-1.1zM98.2 498.8h1.0v1.3h-1.0zM98.2 500.1h1.0v2.2h-1.0zM98.2 502.3h1.0v1.0h-1.0zM99.2 498.7h1.1v1.8h-1.1zM100.3 498.6h0.8v2.7h-0.8zM100.3 501.3h0.8v0.9h-0.8zM101.1 498.6h1.0v2.8h-1.0zM101.1 501.4h1.0v0.5h-1.0zM102.1 498.5h1.1v1.1h-1.1zM102.1 499.6h1.1v1.1h-1.1zM102.1 500.8h1.1v2.3h-1.1zM102.1 503.1h1.1v1.3h-1.1zM103.2 498.4h1.0v2.2h-1.0zM103.2 500.6h1.0v2.5h-1.0zM103.2 503.2h1.0v0.2h-1.0zM104.2 498.4h0.8v3.5h-0.8zM104.2 501.9h0.8v3.2h-0.8zM104.2 505.8h0.8v1.0h-0.8zM105.0 498.3h1.3v1.3h-1.3zM105.0 499.6h1.3v2.9h-1.3zM106.3 498.2h1.1v3.8h-1.1zM106.3 502.1h1.1v0.5h-1.1zM107.4 498.1h0.8v3.0h-0.8zM108.2 498.1h1.0v1.0h-1.0zM109.2 498.0h0.8v1.9h-0.8zM109.2 499.9h0.8v2.3h-0.8zM109.2 502.3h0.8v3.9h-0.8zM109.2 506.7h0.8v1.6h-0.8zM109.2 509.1h0.8v1.4h-0.8zM109.2 511.6h0.8v3.0h-0.8zM110.0 497.9h1.1v1.5h-1.1zM110.0 499.4h1.1v0.4h-1.1zM111.1 497.9h0.8v1.5h-0.8zM111.9 497.8h0.8v1.1h-0.8zM112.7 497.5h1.1v1.7h-1.1zM113.8 497.1h1.0v3.2h-1.0zM113.8 500.2h1.0v1.9h-1.0zM113.8 502.7h1.0v2.2h-1.0zM114.8 496.6h0.8v2.8h-0.8zM115.6 496.3h1.1v1.7h-1.1zM116.7 495.8h1.1v2.1h-1.1zM116.7 497.9h1.1v1.4h-1.1zM116.7 499.3h1.1v2.1h-1.1zM116.7 503.4h1.1v4.0h-1.1zM116.7 508.4h1.1v0.4h-1.1zM117.8 495.4h1.1v1.3h-1.1zM117.8 496.6h1.1v1.0h-1.1zM118.9 494.9h1.0v2.3h-1.0zM118.9 497.2h1.0v2.3h-1.0zM119.9 494.5h1.0v1.7h-1.0zM119.9 496.2h1.0v1.6h-1.0zM119.9 497.8h1.0v0.5h-1.0zM120.9 494.1h1.3v3.7h-1.3zM120.9 497.8h1.3v1.1h-1.3zM122.2 493.6h1.3v3.0h-1.3zM122.2 496.6h1.3v3.5h-1.3zM123.5 493.0h0.8v1.8h-0.8zM123.5 494.8h0.8v3.0h-0.8zM123.5 497.7h0.8v1.9h-0.8zM123.5 501.3h0.8v0.6h-0.8zM124.3 492.7h1.0v3.1h-1.0zM125.3 492.3h0.8v1.7h-0.8zM125.3 494.0h0.8v3.8h-0.8zM125.3 497.8h0.8v1.1h-0.8zM125.3 499.5h0.8v2.2h-0.8zM126.1 492.0h1.3v2.1h-1.3zM126.1 494.1h1.3v1.1h-1.3zM126.1 495.2h1.3v2.1h-1.3zM126.1 498.1h1.3v1.0h-1.3zM126.1 500.0h1.3v2.3h-1.3zM126.1 504.3h1.3v0.1h-1.3zM127.4 491.4h1.0v1.3h-1.0zM127.4 492.7h1.0v2.0h-1.0zM128.4 491.0h1.0v0.8h-1.0zM129.4 490.6h1.1v0.9h-1.1zM130.5 490.2h1.1v2.2h-1.1zM130.5 492.3h1.1v1.6h-1.1zM130.5 493.9h1.1v1.9h-1.1zM131.6 489.7h1.0v3.8h-1.0zM131.6 493.5h1.0v3.4h-1.0zM132.6 489.3h1.1v1.5h-1.1zM132.6 490.9h1.1v1.8h-1.1zM132.6 492.6h1.1v0.2h-1.1zM133.7 488.9h1.1v2.4h-1.1zM133.7 491.3h1.1v0.0h-1.1zM134.8 488.4h0.8v2.5h-0.8zM134.8 491.0h0.8v0.7h-0.8zM135.6 488.1h0.8v1.8h-0.8zM114.5 513.4h1.1v1.1h-1.1zM98.9 514.5h1.1v1.1h-1.1zM103.4 504.0h1.1v1.1h-1.1zM117.5 500.9h1.1v1.1h-1.1zM126.8 492.9h1.1v1.1h-1.1zM108.4 501.3h1.1v1.1h-1.1zM130.1 495.0h1.1v1.1h-1.1zM107.6 500.4h1.1v1.1h-1.1zM100.2 506.7h1.1v1.1h-1.1zM108.6 511.6h1.1v1.1h-1.1zM135.0 498.4h1.1v1.1h-1.1zM127.7 506.1h1.1v1.1h-1.1zM101.2 513.0h1.1v1.1h-1.1zM105.1 503.0h1.1v1.1h-1.1zM104.7 506.5h1.1v1.1h-1.1zM101.5 499.3h1.1v1.1h-1.1zM109.5 512.8h1.1v1.1h-1.1zM116.3 506.0h1.1v1.1h-1.1zM130.3 493.6h1.1v1.1h-1.1zM103.7 511.1h1.1v1.1h-1.1zM106.9 504.5h1.1v1.1h-1.1zM105.7 501.6h1.1v1.1h-1.1zM128.2 495.9h1.1v1.1h-1.1zM117.7 502.2h1.1v1.1h-1.1zM133.2 502.7h1.1v1.1h-1.1zM117.9 509.7h1.1v1.1h-1.1zM124.9 498.8h1.1v1.1h-1.1zM107.0 499.0h1.1v1.1h-1.1zM130.9 496.6h1.1v1.1h-1.1zM133.8 490.4h1.1v1.1h-1.1zM102.5 519.2h1.1v1.1h-1.1zM121.2 506.4h1.1v1.1h-1.1zM119.2 495.2h1.1v1.1h-1.1zM115.3 503.0h1.1v1.1h-1.1zM121.2 503.5h1.1v1.1h-1.1zM110.6 498.9h1.1v1.1h-1.1zM112.8 501.1h1.1v1.1h-1.1zM119.2 501.8h1.1v1.1h-1.1zM101.4 501.9h1.1v1.1h-1.1zM100.1 502.2h1.1v1.1h-1.1zM114.1 514.5h1.1v1.1h-1.1zM124.3 506.8h1.1v1.1h-1.1zM101.2 506.3h1.1v1.1h-1.1zM115.2 513.5h1.1v1.1h-1.1zM126.0 504.3h1.1v1.1h-1.1zM117.4 500.7h1.1v1.1h-1.1zM127.5 492.6h1.1v1.1h-1.1zM122.5 508.1h1.1v1.1h-1.1zM113.0 504.7h1.1v1.1h-1.1zM119.1 506.1h1.1v1.1h-1.1zM117.7 500.6h1.1v1.1h-1.1zM107.3 508.6h1.1v1.1h-1.1zM124.1 494.5h1.1v1.1h-1.1zM98.6 512.5h1.1v1.1h-1.1zM123.8 503.2h1.1v1.1h-1.1zM135.2 490.8h1.1v1.1h-1.1zM109.9 514.0h1.1v1.1h-1.1zM121.5 399.1h1.1v1.1h-1.1zM108.0 399.9h1.1v1.1h-1.1zM125.2 400.1h1.1v1.1h-1.1zM110.1 396.2h1.1v1.1h-1.1zM98.9 403.4h1.1v1.1h-1.1zM118.5 401.5h1.1v1.1h-1.1zM105.5 402.4h1.1v1.1h-1.1zM99.4 403.7h1.1v1.1h-1.1zM131.5 510.7h1.1v1.1h-1.1zM122.5 506.0h1.1v1.1h-1.1zM130.0 517.5h1.1v1.1h-1.1zM98.9 524.0h1.1v1.1h-1.1zM121.3 506.7h1.1v1.1h-1.1z"/><path fill="#fff" d="M128.8 411.2h1.0v1.0h-1.0zM117.0 412.1h1.0v1.0h-1.0zM115.7 417.3h0.9v0.9h-0.9zM129.1 412.0h0.9v0.9h-0.9zM115.0 417.3h1.0v1.0h-1.0zM109.1 412.2h0.9v0.9h-0.9zM130.2 419.0h1.0v1.0h-1.0zM99.6 423.3h1.0v1.0h-1.0zM102.3 412.2h0.7v0.7h-0.7zM116.3 412.8h0.9v0.9h-0.9zM124.8 409.2h0.9v0.9h-0.9zM112.0 427.4h1.0v1.0h-1.0zM126.1 408.8h0.7v0.7h-0.7zM127.3 413.5h0.9v0.9h-0.9zM124.7 416.8h1.0v1.0h-1.0zM99.6 413.6h1.0v1.0h-1.0zM122.4 407.6h0.7v0.7h-0.7zM123.8 409.2h0.7v0.7h-0.7zM122.6 410.5h0.7v0.7h-0.7zM116.6 422.9h1.0v1.0h-1.0zM100.6 412.7h0.9v0.9h-0.9zM122.4 409.8h1.0v1.0h-1.0zM135.4 416.3h1.0v1.0h-1.0zM131.2 415.7h0.9v0.9h-0.9zM115.2 429.3h0.7v0.7h-0.7zM110.3 415.4h0.7v0.7h-0.7zM124.4 408.4h1.0v1.0h-1.0zM101.5 416.2h0.9v0.9h-0.9zM124.7 408.4h1.0v1.0h-1.0zM124.9 410.2h0.7v0.7h-0.7zM113.1 431.9h0.7v0.7h-0.7zM116.2 419.7h0.7v0.7h-0.7zM105.6 412.9h0.7v0.7h-0.7zM124.8 411.1h1.0v1.0h-1.0zM105.4 417.3h0.9v0.9h-0.9zM107.4 413.8h0.7v0.7h-0.7zM118.1 410.7h0.9v0.9h-0.9zM126.5 411.1h0.7v0.7h-0.7zM120.6 413.1h1.0v1.0h-1.0zM112.9 433.0h1.0v1.0h-1.0zM129.0 410.7h0.7v0.7h-0.7zM119.7 409.3h1.0v1.0h-1.0zM108.2 414.5h1.0v1.0h-1.0zM134.9 420.7h1.0v1.0h-1.0zM106.3 415.9h0.9v0.9h-0.9zM127.9 411.2h0.9v0.9h-0.9zM109.4 418.4h1.0v1.0h-1.0zM127.8 410.8h1.0v1.0h-1.0zM114.5 425.4h0.9v0.9h-0.9zM119.5 416.1h1.0v1.0h-1.0zM132.4 414.4h1.0v1.0h-1.0zM109.5 415.0h0.7v0.7h-0.7zM112.6 424.6h0.7v0.7h-0.7zM112.9 427.9h0.9v0.9h-0.9zM117.8 416.2h1.0v1.0h-1.0zM133.3 425.0h0.9v0.9h-0.9zM102.5 423.9h0.9v0.9h-0.9zM106.1 420.0h0.9v0.9h-0.9zM120.4 413.1h0.9v0.9h-0.9zM127.9 410.9h0.9v0.9h-0.9zM124.3 408.4h0.9v0.9h-0.9zM133.3 413.9h0.9v0.9h-0.9zM113.9 425.9h0.7v0.7h-0.7zM130.2 417.5h0.7v0.7h-0.7zM124.4 410.6h0.7v0.7h-0.7zM125.8 408.3h0.7v0.7h-0.7zM98.6 416.3h1.0v1.0h-1.0zM128.2 413.8h0.9v0.9h-0.9zM105.8 416.6h1.0v1.0h-1.0zM120.1 409.2h1.0v1.0h-1.0zM131.7 420.1h1.0v1.0h-1.0zM112.7 427.2h1.0v1.0h-1.0zM103.0 416.1h0.9v0.9h-0.9zM109.5 419.1h0.9v0.9h-0.9zM127.6 417.3h1.0v1.0h-1.0zM116.4 413.5h1.0v1.0h-1.0zM102.2 414.6h0.9v0.9h-0.9zM121.1 415.8h1.0v1.0h-1.0zM98.5 412.4h0.7v0.7h-0.7zM124.9 409.6h0.7v0.7h-0.7zM129.0 411.3h1.0v1.0h-1.0zM108.6 412.8h1.0v1.0h-1.0zM135.3 415.2h1.0v1.0h-1.0zM106.4 413.0h1.0v1.0h-1.0zM124.3 413.5h0.9v0.9h-0.9zM110.1 426.2h0.7v0.7h-0.7zM124.6 408.1h0.9v0.9h-0.9zM132.0 413.5h1.0v1.0h-1.0zM114.9 422.0h0.9v0.9h-0.9zM99.6 423.6h0.9v0.9h-0.9zM104.9 416.3h0.7v0.7h-0.7zM132.1 415.1h1.0v1.0h-1.0zM125.5 409.6h1.0v1.0h-1.0zM98.6 415.0h1.0v1.0h-1.0zM134.5 427.4h0.9v0.9h-0.9zM134.0 487.5h0.7v0.7h-0.7zM102.2 495.2h1.0v1.0h-1.0zM127.1 489.4h0.7v0.7h-0.7zM129.8 489.2h0.9v0.9h-0.9zM130.7 488.6h1.0v1.0h-1.0zM100.7 493.5h0.7v0.7h-0.7zM120.0 493.4h1.0v1.0h-1.0zM114.7 492.4h0.9v0.9h-0.9zM134.4 487.1h0.9v0.9h-0.9zM111.3 495.9h1.0v1.0h-1.0zM124.6 490.6h0.7v0.7h-0.7zM98.4 497.4h0.9v0.9h-0.9zM120.5 492.8h1.0v1.0h-1.0zM128.3 488.6h0.9v0.9h-0.9zM101.1 496.9h0.9v0.9h-0.9zM126.9 488.7h0.9v0.9h-0.9zM108.7 496.5h0.9v0.9h-0.9zM98.4 490.3h1.0v1.0h-1.0zM113.0 486.3h1.0v1.0h-1.0zM112.2 402.0h1.0v1.0h-1.0zM112.5 403.0h1.0v1.0h-1.0zM112.2 404.0h1.0v1.0h-1.0zM112.6 405.0h1.0v1.0h-1.0zM112.6 406.0h1.0v1.0h-1.0zM112.2 407.0h1.0v1.0h-1.0zM112.2 408.0h1.0v1.0h-1.0zM112.1 409.0h1.0v1.0h-1.0zM112.0 410.0h1.0v1.0h-1.0zM112.1 411.0h1.0v1.0h-1.0zM112.5 412.0h1.0v1.0h-1.0zM112.2 413.0h1.0v1.0h-1.0zM112.3 414.0h1.0v1.0h-1.0zM112.3 415.0h1.0v1.0h-1.0zM112.4 416.0h1.0v1.0h-1.0zM112.3 417.0h1.0v1.0h-1.0zM112.1 419.0h1.0v1.0h-1.0zM112.1 420.0h1.0v1.0h-1.0zM112.4 421.0h1.0v1.0h-1.0zM112.2 422.0h1.0v1.0h-1.0zM112.6 423.0h1.0v1.0h-1.0zM112.2 424.0h1.0v1.0h-1.0zM112.2 425.0h1.0v1.0h-1.0zM112.3 426.0h1.0v1.0h-1.0zM112.5 427.0h1.0v1.0h-1.0zM112.0 428.0h1.0v1.0h-1.0zM112.6 430.0h1.0v1.0h-1.0zM113.3 404.0h1.0v1.0h-1.0zM113.0 405.0h1.0v1.0h-1.0zM113.0 406.0h1.0v1.0h-1.0zM113.5 407.0h1.0v1.0h-1.0zM113.5 408.0h1.0v1.0h-1.0zM113.4 409.0h1.0v1.0h-1.0zM113.2 410.0h1.0v1.0h-1.0zM113.1 411.0h1.0v1.0h-1.0zM113.4 412.0h1.0v1.0h-1.0zM113.0 413.0h1.0v1.0h-1.0zM113.2 414.0h1.0v1.0h-1.0zM113.4 415.0h1.0v1.0h-1.0zM113.0 417.0h1.0v1.0h-1.0zM113.3 418.0h1.0v1.0h-1.0zM113.2 419.0h1.0v1.0h-1.0zM113.0 420.0h1.0v1.0h-1.0zM113.1 422.0h1.0v1.0h-1.0zM113.0 423.0h1.0v1.0h-1.0zM113.4 424.0h1.0v1.0h-1.0zM113.5 425.0h1.0v1.0h-1.0zM113.0 426.0h1.0v1.0h-1.0zM113.2 427.0h1.0v1.0h-1.0z"/><path d="M137.6,424 L137.94,423.97 L138.27,423.95 L138.61,423.92 L138.95,423.89 L139.28,423.86 L139.62,423.84 L139.96,423.81 L140.29,423.78 L140.63,423.76 L140.97,423.73 L141.3,423.7 L141.64,423.67 L141.98,423.65 L142.31,423.62 L142.65,423.59 L142.99,423.57 L143.32,423.54 L143.66,423.51 L144,423.48 L144.34,423.46 L144.67,423.43 L145.01,423.4 L145.35,423.38 L145.68,423.35 L146.02,423.32 L146.36,423.29 L146.69,423.27 L147.03,423.24 L147.37,423.21 L147.7,423.19 L148.04,423.16 L148.38,423.13 L148.71,423.1 L149.05,423.08 L149.39,423.05 L149.72,423.02 L150.06,423 L150.4,423 L150.73,423 L151.07,423 L151.41,423 L151.74,423 L152.08,423 L152.42,423 L152.75,423 L153.09,423 L153.43,423 L153.76,423 L154.1,423 L154.44,423 L154.78,423 L155.11,423 L155.45,423 L155.79,423 L156.12,423 L156.46,423 L156.8,423 L157.13,423 L157.47,423 L157.81,423 L158.14,423 L158.48,423 L158.82,423 L159.15,423 L159.49,423 L159.83,423 L160.16,423 L160.5,423 L160.5,498 L160.16,497.97 L159.83,497.95 L159.49,497.92 L159.15,497.89 L158.82,497.87 L158.48,497.84 L158.14,497.81 L157.81,497.78 L157.47,497.76 L157.13,497.73 L156.8,497.7 L156.46,497.68 L156.12,497.65 L155.79,497.62 L155.45,497.6 L155.11,497.57 L154.78,497.54 L154.44,497.52 L154.1,497.49 L153.76,497.46 L153.43,497.43 L153.09,497.41 L152.75,497.38 L152.42,497.35 L152.08,497.33 L151.74,497.3 L151.41,497.27 L151.07,497.25 L150.73,497.22 L150.4,497.19 L150.06,497.16 L149.72,497.14 L149.39,497.11 L149.05,497.08 L148.71,497.06 L148.38,497.03 L148.04,497 L147.7,497.89 L147.37,498.9 L147.03,499.91 L146.69,500 L146.36,500 L146.02,500 L145.68,500 L145.35,500 L145.01,500 L144.67,500 L144.34,500 L144,500 L143.66,500 L143.32,500 L142.99,500 L142.65,500 L142.31,500 L141.98,500 L141.64,500 L141.3,500 L140.97,500 L140.63,500 L140.29,500 L139.96,500 L139.62,500 L139.28,500 L138.95,500 L138.61,500 L138.27,500 L137.94,500 L137.6,500Z" fill="#FF8000"/><path fill="#FF8000" d="M138.6 422.8h1.1v1.1h-1.1zM141.6 423.5h1.1v1.1h-1.1zM150.8 420.5h1.1v1.1h-1.1zM155.3 419.1h1.1v1.1h-1.1zM150.5 422.0h1.1v1.1h-1.1zM139.7 422.3h1.1v1.1h-1.1zM158.3 420.4h1.1v1.1h-1.1zM158.6 418.9h1.1v1.1h-1.1zM147.4 418.6h1.1v1.1h-1.1zM140.9 423.5h1.1v1.1h-1.1zM152.8 413.1h1.1v1.1h-1.1zM140.1 422.0h1.1v1.1h-1.1zM154.8 422.3h1.1v1.1h-1.1zM150.2 408.8h1.1v1.1h-1.1zM152.6 422.0h1.1v1.1h-1.1zM142.0 423.0h1.1v1.1h-1.1zM139.3 420.3h1.1v1.1h-1.1zM158.3 420.2h1.1v1.1h-1.1zM152.0 423.0h1.1v1.1h-1.1zM150.1 422.2h1.1v1.1h-1.1zM152.9 422.3h1.1v1.1h-1.1zM155.2 419.1h1.1v1.1h-1.1zM146.3 420.8h1.1v1.1h-1.1zM146.3 406.1h1.1v1.1h-1.1zM155.6 419.1h1.1v1.1h-1.1zM157.7 423.0h1.1v1.1h-1.1zM155.2 412.8h1.1v1.1h-1.1zM142.2 412.7h1.1v1.1h-1.1zM142.6 416.2h1.1v1.1h-1.1zM141.0 421.2h1.1v1.1h-1.1zM155.0 420.8h1.1v1.1h-1.1zM139.5 422.3h1.1v1.1h-1.1zM149.2 421.6h1.1v1.1h-1.1zM143.8 413.1h1.1v1.1h-1.1zM152.8 411.9h1.1v1.1h-1.1zM141.7 415.2h1.1v1.1h-1.1zM154.0 416.8h1.1v1.1h-1.1zM156.1 419.9h1.1v1.1h-1.1zM144.4 408.6h1.1v1.1h-1.1zM138.9 414.9h1.1v1.1h-1.1zM139.6 417.5h1.1v1.1h-1.1zM149.3 420.2h1.1v1.1h-1.1zM152.2 413.1h1.1v1.1h-1.1zM151.0 418.7h1.1v1.1h-1.1zM143.3 419.0h1.1v1.1h-1.1zM145.6 419.7h1.1v1.1h-1.1zM139.5 414.0h1.1v1.1h-1.1zM144.6 422.7h1.1v1.1h-1.1zM153.1 419.8h1.1v1.1h-1.1zM156.5 420.6h1.1v1.1h-1.1zM148.4 422.5h1.1v1.1h-1.1zM138.4 421.7h1.1v1.1h-1.1zM145.4 408.2h1.1v1.1h-1.1zM146.1 419.1h1.1v1.1h-1.1zM156.7 420.9h1.1v1.1h-1.1zM143.9 423.4h1.1v1.1h-1.1zM141.0 420.1h1.1v1.1h-1.1zM152.9 418.2h1.1v1.1h-1.1zM156.4 422.5h1.1v1.1h-1.1zM151.3 422.6h1.1v1.1h-1.1zM154.6 422.4h1.1v1.1h-1.1zM146.4 420.3h1.1v1.1h-1.1zM154.1 420.0h1.1v1.1h-1.1zM150.8 419.9h1.1v1.1h-1.1zM139.3 416.0h1.1v1.1h-1.1zM153.1 420.5h1.1v1.1h-1.1zM151.3 422.1h1.1v1.1h-1.1zM147.0 421.8h1.1v1.1h-1.1zM151.8 421.8h1.1v1.1h-1.1zM156.0 419.4h1.1v1.1h-1.1zM154.9 419.7h1.1v1.1h-1.1zM152.5 407.8h1.1v1.1h-1.1zM154.6 422.3h1.1v1.1h-1.1zM145.1 413.1h1.1v1.1h-1.1zM141.4 413.0h1.1v1.1h-1.1zM146.1 422.2h1.1v1.1h-1.1zM147.0 422.2h1.1v1.1h-1.1zM157.1 422.5h1.1v1.1h-1.1zM158.6 408.3h1.1v1.1h-1.1zM152.2 416.9h1.1v1.1h-1.1zM139.1 420.6h1.1v1.1h-1.1zM151.5 422.5h1.1v1.1h-1.1zM153.6 421.8h1.1v1.1h-1.1zM158.2 422.7h1.1v1.1h-1.1zM155.1 418.4h1.1v1.1h-1.1zM145.8 420.8h1.1v1.1h-1.1zM154.1 420.9h1.1v1.1h-1.1zM144.8 419.9h1.1v1.1h-1.1zM147.3 415.0h1.1v1.1h-1.1zM143.3 420.3h1.1v1.1h-1.1zM154.1 423.0h1.1v1.1h-1.1zM142.7 421.1h1.1v1.1h-1.1zM139.2 420.5h1.1v1.1h-1.1zM158.4 421.7h1.1v1.1h-1.1zM138.3 407.8h1.1v1.1h-1.1zM155.8 411.8h1.1v1.1h-1.1zM148.5 422.6h1.1v1.1h-1.1zM137.7 422.1h1.1v1.1h-1.1zM150.1 422.5h1.1v1.1h-1.1zM146.5 416.0h1.1v1.1h-1.1zM148.2 418.5h1.1v1.1h-1.1zM156.3 422.0h1.1v1.1h-1.1zM140.4 412.4h1.1v1.1h-1.1zM146.4 423.0h1.1v1.1h-1.1zM146.0 419.9h1.1v1.1h-1.1zM144.7 422.9h1.1v1.1h-1.1zM142.7 416.9h1.1v1.1h-1.1zM151.1 418.3h1.1v1.1h-1.1zM154.9 420.6h1.1v1.1h-1.1zM138.7 422.1h1.1v1.1h-1.1zM156.5 415.6h1.1v1.1h-1.1zM152.5 405.3h1.1v1.1h-1.1zM140.6 423.3h1.1v1.1h-1.1zM144.7 422.1h1.1v1.1h-1.1zM156.6 417.5h1.1v1.1h-1.1zM150.4 419.2h1.1v1.1h-1.1zM155.9 419.3h1.1v1.1h-1.1zM147.3 419.2h1.1v1.1h-1.1zM149.3 419.8h1.1v1.1h-1.1zM154.9 421.1h1.1v1.1h-1.1zM149.3 418.7h1.1v1.1h-1.1zM156.9 422.8h1.1v1.1h-1.1zM153.3 417.2h1.1v1.1h-1.1zM151.4 411.5h1.1v1.1h-1.1zM148.0 418.9h1.1v1.1h-1.1zM149.3 419.2h1.1v1.1h-1.1zM159.1 418.0h1.1v1.1h-1.1zM153.4 412.7h1.1v1.1h-1.1zM137.7 417.8h1.1v1.1h-1.1zM138.8 415.9h1.1v1.1h-1.1zM154.2 421.2h1.1v1.1h-1.1zM145.5 417.6h1.1v1.1h-1.1zM157.0 422.8h1.1v1.1h-1.1zM153.0 422.5h1.1v1.1h-1.1zM149.2 421.5h1.1v1.1h-1.1zM139.9 421.0h1.1v1.1h-1.1zM146.6 420.4h1.1v1.1h-1.1zM137.6 499.8h1.1v1.8h-1.1zM137.6 501.6h1.1v2.5h-1.1zM137.6 504.1h1.1v1.9h-1.1zM138.7 499.8h1.1v1.3h-1.1zM138.7 501.1h1.1v3.2h-1.1zM138.7 504.3h1.1v2.9h-1.1zM138.7 509.1h1.1v2.7h-1.1zM139.8 499.8h1.3v1.4h-1.3zM139.8 501.2h1.3v2.7h-1.3zM139.8 503.9h1.3v1.5h-1.3zM141.1 499.8h0.8v1.9h-0.8zM141.1 501.7h0.8v0.3h-0.8zM141.9 499.8h1.0v2.2h-1.0zM142.9 499.8h1.1v1.9h-1.1zM142.9 501.7h1.1v1.7h-1.1zM142.9 503.3h1.1v0.4h-1.1zM144.0 499.8h1.1v0.7h-1.1zM145.1 499.8h1.0v2.3h-1.0zM145.1 502.1h1.0v1.8h-1.0zM146.1 499.8h1.3v3.2h-1.3zM146.1 503.0h1.3v1.1h-1.3zM146.1 505.4h1.3v0.7h-1.3zM147.4 498.6h1.3v2.0h-1.3zM147.4 500.6h1.3v1.3h-1.3zM147.4 501.9h1.3v2.8h-1.3zM147.4 506.5h1.3v3.9h-1.3zM147.4 512.3h1.3v1.1h-1.3zM147.4 514.9h1.3v0.9h-1.3zM148.7 496.9h1.1v2.0h-1.1zM148.7 498.9h1.1v1.7h-1.1zM148.7 500.6h1.1v1.4h-1.1zM149.8 496.9h1.1v2.3h-1.1zM150.9 497.0h1.1v3.7h-1.1zM150.9 500.8h1.1v1.1h-1.1zM150.9 503.1h1.1v2.4h-1.1zM150.9 506.4h1.1v3.8h-1.1zM150.9 511.5h1.1v2.4h-1.1zM150.9 515.9h1.1v2.7h-1.1zM152.0 497.1h0.8v1.4h-0.8zM152.8 497.2h1.1v3.8h-1.1zM152.8 500.9h1.1v2.0h-1.1zM152.8 504.8h1.1v2.2h-1.1zM153.9 497.3h1.1v2.5h-1.1zM153.9 499.8h1.1v1.3h-1.1zM153.9 501.1h1.1v1.8h-1.1zM155.0 497.4h1.0v2.3h-1.0zM155.0 499.7h1.0v1.7h-1.0zM155.0 501.4h1.0v2.4h-1.0zM155.0 505.1h1.0v1.5h-1.0zM155.0 507.4h1.0v2.1h-1.0zM155.0 510.9h1.0v0.0h-1.0zM156.0 497.4h1.3v4.0h-1.3zM156.0 501.4h1.3v2.4h-1.3zM156.0 505.0h1.3v1.3h-1.3zM156.0 507.9h1.3v0.4h-1.3zM157.3 497.5h1.1v3.8h-1.1zM157.3 501.4h1.1v1.0h-1.1zM158.4 497.6h0.8v3.1h-0.8zM158.4 500.7h0.8v1.2h-0.8zM159.2 497.7h1.3v1.0h-1.3zM159.2 498.7h1.3v1.5h-1.3zM159.2 500.3h1.3v1.5h-1.3zM159.2 501.7h1.3v1.3h-1.3zM159.2 503.9h1.3v2.2h-1.3zM151.5 500.5h1.1v1.1h-1.1zM148.7 510.4h1.1v1.1h-1.1zM148.1 502.9h1.1v1.1h-1.1zM156.7 503.4h1.1v1.1h-1.1zM158.4 501.5h1.1v1.1h-1.1zM142.7 502.5h1.1v1.1h-1.1zM151.2 498.5h1.1v1.1h-1.1zM153.8 500.9h1.1v1.1h-1.1zM150.6 507.0h1.1v1.1h-1.1zM149.3 505.2h1.1v1.1h-1.1zM158.9 508.7h1.1v1.1h-1.1zM149.1 502.1h1.1v1.1h-1.1zM145.6 509.9h1.1v1.1h-1.1zM147.1 511.7h1.1v1.1h-1.1zM148.2 505.1h1.1v1.1h-1.1zM138.8 502.9h1.1v1.1h-1.1zM148.8 503.8h1.1v1.1h-1.1zM158.0 501.8h1.1v1.1h-1.1zM139.8 502.3h1.1v1.1h-1.1zM145.3 515.3h1.1v1.1h-1.1zM155.9 500.8h1.1v1.1h-1.1zM147.9 502.9h1.1v1.1h-1.1zM156.1 509.5h1.1v1.1h-1.1zM146.8 506.6h1.1v1.1h-1.1zM156.3 507.1h1.1v1.1h-1.1zM140.4 515.6h1.1v1.1h-1.1zM139.1 502.0h1.1v1.1h-1.1zM147.4 501.5h1.1v1.1h-1.1zM147.4 499.2h1.1v1.1h-1.1zM159.2 506.9h1.1v1.1h-1.1zM157.2 500.6h1.1v1.1h-1.1zM148.0 518.0h1.1v1.1h-1.1zM158.9 413.4h1.1v1.1h-1.1zM158.4 409.3h1.1v1.1h-1.1zM138.9 403.9h1.1v1.1h-1.1zM144.9 406.7h1.1v1.1h-1.1zM139.3 399.9h1.1v1.1h-1.1zM141.2 508.3h1.1v1.1h-1.1zM149.2 522.0h1.1v1.1h-1.1zM156.1 516.4h1.1v1.1h-1.1z"/><path fill="#fff" d="M158.4 424.8h1.0v1.0h-1.0zM142.5 426.9h0.7v0.7h-0.7zM144.0 430.9h1.0v1.0h-1.0zM140.1 424.5h0.9v0.9h-0.9zM139.4 424.7h0.7v0.7h-0.7zM145.3 423.5h0.9v0.9h-0.9zM139.0 431.2h0.9v0.9h-0.9zM148.1 425.2h1.0v1.0h-1.0zM139.0 425.1h0.7v0.7h-0.7zM151.3 425.2h0.7v0.7h-0.7zM158.1 429.4h0.7v0.7h-0.7zM143.5 425.8h1.0v1.0h-1.0zM144.3 424.4h0.9v0.9h-0.9zM159.2 423.9h1.0v1.0h-1.0zM146.5 426.1h1.0v1.0h-1.0zM150.3 426.6h0.7v0.7h-0.7zM143.7 424.2h1.0v1.0h-1.0zM153.6 423.1h0.7v0.7h-0.7zM137.6 437.1h0.9v0.9h-0.9zM148.8 425.9h1.0v1.0h-1.0zM145.2 428.8h1.0v1.0h-1.0zM148.1 425.3h0.9v0.9h-0.9zM138.6 426.9h0.9v0.9h-0.9zM139.1 426.2h0.9v0.9h-0.9zM141.0 426.1h1.0v1.0h-1.0zM144.1 447.9h1.0v1.0h-1.0zM145.2 424.8h1.0v1.0h-1.0zM153.4 423.2h0.7v0.7h-0.7zM156.4 424.1h1.0v1.0h-1.0zM154.8 425.5h0.9v0.9h-0.9zM149.4 432.5h1.0v1.0h-1.0zM139.4 424.6h1.0v1.0h-1.0zM155.3 427.8h0.7v0.7h-0.7zM140.9 432.0h0.9v0.9h-0.9zM149.8 424.6h0.9v0.9h-0.9zM150.1 428.4h0.7v0.7h-0.7zM138.5 424.2h1.0v1.0h-1.0zM146.7 426.5h0.9v0.9h-0.9zM143.9 428.1h0.9v0.9h-0.9zM140.1 426.5h0.9v0.9h-0.9zM146.6 433.1h0.7v0.7h-0.7zM155.9 427.4h0.7v0.7h-0.7zM149.6 423.6h0.9v0.9h-0.9zM149.1 423.4h0.7v0.7h-0.7zM154.9 428.5h0.9v0.9h-0.9zM157.9 423.6h0.9v0.9h-0.9zM158.8 423.4h0.7v0.7h-0.7zM151.7 424.6h1.0v1.0h-1.0zM141.5 430.0h1.0v1.0h-1.0zM143.9 431.2h0.7v0.7h-0.7zM151.8 429.3h0.7v0.7h-0.7zM138.6 428.3h0.9v0.9h-0.9zM139.6 424.0h0.9v0.9h-0.9zM153.8 425.4h0.9v0.9h-0.9zM158.2 425.0h1.0v1.0h-1.0zM157.5 430.2h0.9v0.9h-0.9zM153.3 424.8h1.0v1.0h-1.0zM159.0 490.8h0.9v0.9h-0.9zM150.9 495.4h0.9v0.9h-0.9zM149.5 495.0h1.0v1.0h-1.0zM153.2 496.1h0.9v0.9h-0.9zM149.0 495.6h0.7v0.7h-0.7zM158.1 494.9h0.7v0.7h-0.7zM154.0 494.5h1.0v1.0h-1.0zM140.9 498.8h0.7v0.7h-0.7zM156.9 488.6h1.0v1.0h-1.0zM150.5 493.0h1.0v1.0h-1.0zM153.9 496.4h1.0v1.0h-1.0z"/><path d="M161.9,427 L162.24,427.04 L162.57,427.08 L162.91,427.12 L163.25,427.17 L163.58,427.21 L163.92,427.25 L164.26,427.29 L164.6,427.33 L164.93,427.37 L165.27,427.42 L165.61,427.46 L165.94,427.5 L166.28,427.54 L166.62,427.58 L166.95,427.62 L167.29,427.67 L167.63,427.71 L167.96,427.75 L168.3,427.79 L168.64,427.83 L168.97,427.87 L169.31,427.92 L169.65,427.96 L169.99,428 L170.32,428.12 L170.66,428.25 L171,428.37 L171.33,428.5 L171.67,428.63 L172.01,428.75 L172.34,428.88 L172.68,429.01 L173.02,429.13 L173.35,429.26 L173.69,429.38 L174.03,429.51 L174.37,429.64 L174.7,429.76 L175.04,429.89 L175.38,430.02 L175.71,430.14 L176.05,430.27 L176.39,430.4 L176.72,430.52 L177.06,430.65 L177.4,430.77 L177.73,430.9 L178.07,431.01 L178.41,431.03 L178.75,431.06 L179.08,431.09 L179.42,431.12 L179.76,431.14 L180.09,431.17 L180.43,431.2 L180.77,431.23 L181.1,431.25 L181.44,431.28 L181.78,431.31 L182.11,431.34 L182.45,431.36 L182.79,431.39 L183.12,431.42 L183.46,431.45 L183.8,431.48 L184.14,431.5 L184.47,431.53 L184.81,431.56 L185.15,431.59 L185.48,431.61 L185.82,431.64 L186.16,431.67 L186.49,431.7 L186.83,431.72 L187.17,431.75 L187.5,431.78 L187.84,431.81 L188.18,431.83 L188.52,431.86 L188.85,431.89 L189.19,431.92 L189.53,431.94 L189.86,431.97 L190.2,432 L190.2,502 L189.86,502.45 L189.53,502.91 L189.19,503.36 L188.85,503.81 L188.52,504.27 L188.18,504.72 L187.84,505.17 L187.5,505.63 L187.17,506.08 L186.83,506.54 L186.49,506.99 L186.16,507.44 L185.82,507.9 L185.48,508.35 L185.15,508.8 L184.81,509.11 L184.47,509.3 L184.14,509.49 L183.8,509.69 L183.46,509.88 L183.12,510.07 L182.79,510.26 L182.45,510.46 L182.11,510.65 L181.78,510.84 L181.44,511.03 L181.1,511.23 L180.77,511.42 L180.43,511.61 L180.09,511.8 L179.76,512 L179.42,512.19 L179.08,512.38 L178.75,512.57 L178.41,512.77 L178.07,512.96 L177.73,512.98 L177.4,512.95 L177.06,512.92 L176.72,512.89 L176.39,512.87 L176.05,512.84 L175.71,512.81 L175.38,512.78 L175.04,512.75 L174.7,512.73 L174.37,512.7 L174.03,512.67 L173.69,512.64 L173.35,512.61 L173.02,512.58 L172.68,512.56 L172.34,512.53 L172.01,512.5 L171.67,512.47 L171.33,512.44 L171,512.42 L170.66,512.39 L170.32,512.36 L169.99,512.33 L169.65,512.3 L169.31,512.28 L168.97,512.25 L168.64,512.22 L168.3,512.19 L167.96,512.16 L167.63,512.14 L167.29,512.11 L166.95,512.08 L166.62,512.05 L166.28,512.02 L165.94,511.96 L165.61,511.71 L165.27,511.47 L164.93,511.22 L164.6,510.97 L164.26,510.73 L163.92,510.48 L163.58,510.23 L163.25,509.99 L162.91,509.74 L162.57,509.49 L162.24,509.25 L161.9,509Z" fill="#FF33FF"/><path fill="#FF33FF" d="M183.2 431.2h1.1v1.1h-1.1zM176.4 415.2h1.1v1.1h-1.1zM184.5 421.2h1.1v1.1h-1.1zM165.1 416.6h1.1v1.1h-1.1zM165.4 426.3h1.1v1.1h-1.1zM181.2 430.7h1.1v1.1h-1.1zM179.6 429.0h1.1v1.1h-1.1zM166.9 421.3h1.1v1.1h-1.1zM182.8 428.5h1.1v1.1h-1.1zM169.5 424.5h1.1v1.1h-1.1zM175.1 428.1h1.1v1.1h-1.1zM182.3 429.1h1.1v1.1h-1.1zM178.6 429.0h1.1v1.1h-1.1zM171.6 421.7h1.1v1.1h-1.1zM163.6 414.3h1.1v1.1h-1.1zM182.4 430.9h1.1v1.1h-1.1zM173.8 428.9h1.1v1.1h-1.1zM185.1 428.1h1.1v1.1h-1.1zM167.4 427.6h1.1v1.1h-1.1zM185.0 429.0h1.1v1.1h-1.1zM187.3 430.7h1.1v1.1h-1.1zM181.1 429.7h1.1v1.1h-1.1zM175.0 427.4h1.1v1.1h-1.1zM172.4 416.7h1.1v1.1h-1.1zM174.1 428.7h1.1v1.1h-1.1zM173.4 429.2h1.1v1.1h-1.1zM177.0 415.3h1.1v1.1h-1.1zM175.6 422.8h1.1v1.1h-1.1zM173.5 428.1h1.1v1.1h-1.1zM183.9 423.6h1.1v1.1h-1.1zM175.3 425.1h1.1v1.1h-1.1zM183.1 430.5h1.1v1.1h-1.1zM174.2 427.3h1.1v1.1h-1.1zM169.7 421.9h1.1v1.1h-1.1zM162.8 426.1h1.1v1.1h-1.1zM174.1 427.3h1.1v1.1h-1.1zM172.3 428.7h1.1v1.1h-1.1zM168.9 424.5h1.1v1.1h-1.1zM164.1 424.3h1.1v1.1h-1.1zM170.6 424.5h1.1v1.1h-1.1zM181.1 425.9h1.1v1.1h-1.1zM163.5 424.0h1.1v1.1h-1.1zM187.8 430.7h1.1v1.1h-1.1zM182.0 422.6h1.1v1.1h-1.1zM185.5 424.2h1.1v1.1h-1.1zM165.1 425.5h1.1v1.1h-1.1zM179.6 429.5h1.1v1.1h-1.1zM186.5 421.1h1.1v1.1h-1.1zM177.2 421.8h1.1v1.1h-1.1zM171.4 420.7h1.1v1.1h-1.1zM163.4 426.0h1.1v1.1h-1.1zM180.0 424.4h1.1v1.1h-1.1zM164.1 425.9h1.1v1.1h-1.1zM177.6 425.6h1.1v1.1h-1.1zM168.7 421.9h1.1v1.1h-1.1zM176.1 427.7h1.1v1.1h-1.1zM184.2 427.8h1.1v1.1h-1.1zM164.5 425.4h1.1v1.1h-1.1zM177.6 428.1h1.1v1.1h-1.1zM183.2 429.8h1.1v1.1h-1.1zM176.7 423.1h1.1v1.1h-1.1zM163.7 421.4h1.1v1.1h-1.1zM168.3 423.9h1.1v1.1h-1.1zM167.1 426.6h1.1v1.1h-1.1zM165.3 424.2h1.1v1.1h-1.1zM168.7 427.7h1.1v1.1h-1.1zM162.7 423.9h1.1v1.1h-1.1zM176.9 429.6h1.1v1.1h-1.1zM177.1 420.5h1.1v1.1h-1.1zM188.3 431.1h1.1v1.1h-1.1zM189.0 429.3h1.1v1.1h-1.1zM168.7 419.1h1.1v1.1h-1.1zM162.3 425.9h1.1v1.1h-1.1zM184.0 428.8h1.1v1.1h-1.1zM180.0 430.3h1.1v1.1h-1.1zM165.3 420.3h1.1v1.1h-1.1zM180.6 430.0h1.1v1.1h-1.1zM165.8 416.0h1.1v1.1h-1.1zM186.2 423.5h1.1v1.1h-1.1zM172.4 427.9h1.1v1.1h-1.1zM183.2 428.4h1.1v1.1h-1.1zM181.7 430.8h1.1v1.1h-1.1zM173.7 425.7h1.1v1.1h-1.1zM164.5 424.8h1.1v1.1h-1.1zM177.4 427.5h1.1v1.1h-1.1zM183.6 431.2h1.1v1.1h-1.1zM167.3 421.8h1.1v1.1h-1.1zM183.7 429.7h1.1v1.1h-1.1zM166.6 419.6h1.1v1.1h-1.1zM175.2 425.7h1.1v1.1h-1.1zM176.5 427.3h1.1v1.1h-1.1zM179.6 426.4h1.1v1.1h-1.1zM179.1 420.4h1.1v1.1h-1.1zM181.3 429.7h1.1v1.1h-1.1zM166.0 425.9h1.1v1.1h-1.1zM176.3 430.1h1.1v1.1h-1.1zM171.6 418.8h1.1v1.1h-1.1zM178.7 431.0h1.1v1.1h-1.1zM167.7 418.0h1.1v1.1h-1.1zM163.1 423.0h1.1v1.1h-1.1zM179.8 425.5h1.1v1.1h-1.1zM186.3 424.5h1.1v1.1h-1.1zM180.3 429.4h1.1v1.1h-1.1zM170.0 419.6h1.1v1.1h-1.1zM163.3 418.9h1.1v1.1h-1.1zM171.4 424.3h1.1v1.1h-1.1zM177.2 425.6h1.1v1.1h-1.1zM179.1 429.3h1.1v1.1h-1.1zM171.2 428.1h1.1v1.1h-1.1zM172.9 421.4h1.1v1.1h-1.1zM167.0 424.4h1.1v1.1h-1.1zM162.0 426.6h1.1v1.1h-1.1zM184.4 427.9h1.1v1.1h-1.1zM164.0 420.2h1.1v1.1h-1.1zM162.8 417.4h1.1v1.1h-1.1zM184.0 429.2h1.1v1.1h-1.1zM175.2 423.5h1.1v1.1h-1.1zM180.5 430.3h1.1v1.1h-1.1zM178.0 430.1h1.1v1.1h-1.1zM165.9 426.2h1.1v1.1h-1.1zM188.4 428.0h1.1v1.1h-1.1zM176.0 428.8h1.1v1.1h-1.1zM179.0 421.8h1.1v1.1h-1.1zM187.7 431.1h1.1v1.1h-1.1zM171.2 427.2h1.1v1.1h-1.1zM166.6 426.3h1.1v1.1h-1.1zM181.0 429.5h1.1v1.1h-1.1zM175.8 422.7h1.1v1.1h-1.1zM184.7 427.1h1.1v1.1h-1.1zM170.4 419.0h1.1v1.1h-1.1zM170.2 426.3h1.1v1.1h-1.1zM183.9 428.0h1.1v1.1h-1.1zM168.3 423.4h1.1v1.1h-1.1zM171.2 426.0h1.1v1.1h-1.1zM169.4 426.6h1.1v1.1h-1.1zM183.7 416.6h1.1v1.1h-1.1zM188.4 422.9h1.1v1.1h-1.1zM173.7 424.6h1.1v1.1h-1.1zM186.7 431.5h1.1v1.1h-1.1zM163.5 425.4h1.1v1.1h-1.1zM166.3 424.3h1.1v1.1h-1.1zM187.3 430.5h1.1v1.1h-1.1zM174.6 427.9h1.1v1.1h-1.1zM184.1 430.5h1.1v1.1h-1.1zM186.9 428.9h1.1v1.1h-1.1zM186.5 427.7h1.1v1.1h-1.1zM172.5 423.7h1.1v1.1h-1.1zM184.4 426.0h1.1v1.1h-1.1zM162.9 426.3h1.1v1.1h-1.1zM173.3 427.7h1.1v1.1h-1.1zM165.1 425.3h1.1v1.1h-1.1zM174.0 418.6h1.1v1.1h-1.1zM183.4 428.2h1.1v1.1h-1.1zM182.1 426.7h1.1v1.1h-1.1zM163.3 422.5h1.1v1.1h-1.1zM178.2 428.7h1.1v1.1h-1.1zM168.8 422.2h1.1v1.1h-1.1zM176.1 424.5h1.1v1.1h-1.1zM186.3 427.5h1.1v1.1h-1.1zM188.7 417.1h1.1v1.1h-1.1zM166.4 424.6h1.1v1.1h-1.1zM176.9 421.1h1.1v1.1h-1.1zM170.9 427.5h1.1v1.1h-1.1zM173.1 427.9h1.1v1.1h-1.1zM176.0 428.0h1.1v1.1h-1.1zM188.0 429.6h1.1v1.1h-1.1zM172.6 428.2h1.1v1.1h-1.1zM186.9 429.8h1.1v1.1h-1.1zM162.9 509.5h0.8v1.5h-0.8zM163.7 510.1h1.0v3.2h-1.0zM164.7 510.8h1.0v3.3h-1.0zM164.7 514.1h1.0v0.7h-1.0zM165.7 511.6h1.1v1.7h-1.1zM165.7 513.3h1.1v2.2h-1.1zM165.7 515.5h1.1v1.1h-1.1zM166.8 511.9h1.3v2.0h-1.3zM166.8 513.9h1.3v3.4h-1.3zM166.8 517.3h1.3v2.8h-1.3zM166.8 521.9h1.3v1.2h-1.3zM168.1 512.0h0.8v1.7h-0.8zM168.1 513.7h0.8v0.5h-0.8zM168.9 512.0h1.3v3.7h-1.3zM168.9 515.7h1.3v1.8h-1.3zM168.9 518.5h1.3v2.7h-1.3zM170.2 512.1h1.0v1.8h-1.0zM171.2 512.2h1.1v1.8h-1.1zM172.3 512.3h1.0v2.1h-1.0zM172.3 514.5h1.0v2.0h-1.0zM172.3 516.5h1.0v3.5h-1.0zM173.3 512.4h0.8v1.2h-0.8zM173.3 513.7h0.8v2.4h-0.8zM173.3 516.0h0.8v2.4h-0.8zM173.3 519.7h0.8v1.5h-0.8zM173.3 523.0h0.8v2.4h-0.8zM173.3 527.1h0.8v1.8h-0.8zM173.3 530.3h0.8v1.7h-0.8zM174.1 512.5h0.8v1.3h-0.8zM174.9 512.5h1.3v3.2h-1.3zM174.9 515.7h1.3v2.5h-1.3zM174.9 519.9h1.3v2.7h-1.3zM176.2 512.6h1.0v3.0h-1.0zM177.2 512.7h0.8v1.5h-0.8zM178.0 512.8h1.3v3.6h-1.3zM178.0 516.4h1.3v2.8h-1.3zM178.0 520.8h1.3v2.2h-1.3zM179.3 512.1h0.8v3.7h-0.8zM179.3 515.8h0.8v1.1h-0.8zM179.3 517.5h0.8v1.9h-0.8zM179.3 520.2h0.8v3.8h-0.8zM179.3 525.7h0.8v1.5h-0.8zM179.3 527.7h0.8v0.2h-0.8zM182.4 510.3h1.3v1.9h-1.3zM182.4 512.2h1.3v2.1h-1.3zM183.7 509.5h1.3v1.5h-1.3zM183.7 511.0h1.3v3.4h-1.3zM185.0 508.8h1.1v1.3h-1.1zM185.0 510.1h1.1v2.7h-1.1zM185.0 512.8h1.1v2.7h-1.1zM185.0 517.3h1.1v2.8h-1.1zM185.0 521.1h1.1v2.4h-1.1zM185.0 524.7h1.1v0.9h-1.1zM186.1 507.3h0.8v3.5h-0.8zM186.1 510.8h0.8v0.4h-0.8zM186.9 506.2h0.8v1.5h-0.8zM186.9 507.8h0.8v0.4h-0.8zM187.7 505.2h1.0v0.8h-1.0zM188.7 503.8h0.8v1.1h-0.8zM189.5 502.7h0.7v0.8h-0.7zM165.1 512.1h1.1v1.1h-1.1zM183.7 514.9h1.1v1.1h-1.1zM167.1 515.4h1.1v1.1h-1.1zM167.3 522.2h1.1v1.1h-1.1zM164.2 511.5h1.1v1.1h-1.1zM182.0 514.0h1.1v1.1h-1.1zM175.9 513.0h1.1v1.1h-1.1zM181.7 515.1h1.1v1.1h-1.1zM174.4 513.8h1.1v1.1h-1.1zM176.3 513.3h1.1v1.1h-1.1zM178.7 512.8h1.1v1.1h-1.1zM188.0 514.4h1.1v1.1h-1.1zM170.5 512.5h1.1v1.1h-1.1zM172.3 514.4h1.1v1.1h-1.1zM178.4 514.1h1.1v1.1h-1.1zM172.4 523.5h1.1v1.1h-1.1zM184.9 519.1h1.1v1.1h-1.1zM184.7 515.0h1.1v1.1h-1.1zM188.3 506.2h1.1v1.1h-1.1zM184.9 519.0h1.1v1.1h-1.1zM172.6 515.2h1.1v1.1h-1.1zM187.3 511.0h1.1v1.1h-1.1zM165.4 515.4h1.1v1.1h-1.1zM181.9 513.9h1.1v1.1h-1.1zM170.0 513.9h1.1v1.1h-1.1zM172.2 514.0h1.1v1.1h-1.1zM183.0 511.2h1.1v1.1h-1.1zM179.2 517.6h1.1v1.1h-1.1zM177.6 513.8h1.1v1.1h-1.1zM178.7 518.7h1.1v1.1h-1.1zM178.1 529.9h1.1v1.1h-1.1zM189.0 518.0h1.1v1.1h-1.1zM186.2 511.3h1.1v1.1h-1.1zM188.3 508.4h1.1v1.1h-1.1zM179.6 513.4h1.1v1.1h-1.1zM182.0 516.3h1.1v1.1h-1.1zM164.0 527.2h1.1v1.1h-1.1zM163.0 511.5h1.1v1.1h-1.1zM175.1 516.6h1.1v1.1h-1.1zM174.3 514.4h1.1v1.1h-1.1zM166.7 517.0h1.1v1.1h-1.1zM166.7 421.5h1.1v1.1h-1.1zM173.6 411.0h1.1v1.1h-1.1zM181.0 422.3h1.1v1.1h-1.1zM179.8 412.1h1.1v1.1h-1.1zM178.8 403.7h1.1v1.1h-1.1zM179.0 403.6h1.1v1.1h-1.1zM168.9 530.1h1.1v1.1h-1.1zM171.2 523.8h1.1v1.1h-1.1zM185.6 520.7h1.1v1.1h-1.1z"/><path fill="#fff" d="M165.1 431.0h0.9v0.9h-0.9zM188.2 432.2h0.9v0.9h-0.9zM188.1 432.3h0.9v0.9h-0.9zM174.7 432.8h0.7v0.7h-0.7zM176.9 433.2h0.7v0.7h-0.7zM185.7 437.7h0.7v0.7h-0.7zM178.1 436.2h1.0v1.0h-1.0zM177.6 434.4h0.9v0.9h-0.9zM172.8 431.9h0.7v0.7h-0.7zM176.2 434.2h1.0v1.0h-1.0zM166.9 431.2h1.0v1.0h-1.0zM170.1 438.6h1.0v1.0h-1.0zM188.5 434.9h0.7v0.7h-0.7zM173.0 431.7h0.9v0.9h-0.9zM185.2 440.2h1.0v1.0h-1.0zM177.4 437.6h1.0v1.0h-1.0zM165.1 427.4h1.0v1.0h-1.0zM178.0 437.0h0.7v0.7h-0.7zM172.3 434.8h0.9v0.9h-0.9zM169.6 432.7h0.7v0.7h-0.7zM168.8 428.4h0.7v0.7h-0.7zM183.5 431.8h0.9v0.9h-0.9zM168.0 455.7h1.0v1.0h-1.0zM184.3 432.7h0.9v0.9h-0.9zM162.5 427.4h0.9v0.9h-0.9zM164.0 429.3h0.9v0.9h-0.9zM183.0 434.1h0.9v0.9h-0.9zM175.3 431.2h1.0v1.0h-1.0zM168.2 428.2h0.7v0.7h-0.7zM175.2 431.5h0.9v0.9h-0.9zM173.2 431.8h0.9v0.9h-0.9zM182.0 431.6h1.0v1.0h-1.0zM180.6 444.3h0.9v0.9h-0.9zM174.9 431.0h0.7v0.7h-0.7zM188.4 435.7h1.0v1.0h-1.0zM164.7 430.3h0.9v0.9h-0.9zM186.7 446.9h0.7v0.7h-0.7zM183.3 438.5h1.0v1.0h-1.0zM186.3 434.3h0.9v0.9h-0.9zM167.0 430.9h0.7v0.7h-0.7zM172.8 429.5h0.7v0.7h-0.7zM185.9 434.3h0.9v0.9h-0.9zM164.1 427.9h0.7v0.7h-0.7zM182.0 437.2h1.0v1.0h-1.0zM162.8 429.2h1.0v1.0h-1.0zM178.6 431.6h0.9v0.9h-0.9zM166.7 428.6h1.0v1.0h-1.0zM174.5 433.0h0.9v0.9h-0.9zM172.1 434.2h0.7v0.7h-0.7zM186.4 434.9h1.0v1.0h-1.0zM164.1 443.0h0.9v0.9h-0.9zM176.7 432.7h1.0v1.0h-1.0zM177.9 431.2h0.9v0.9h-0.9zM167.1 428.2h1.0v1.0h-1.0zM163.9 427.8h0.9v0.9h-0.9zM170.5 434.3h0.9v0.9h-0.9zM179.1 433.8h0.7v0.7h-0.7zM172.7 440.4h0.9v0.9h-0.9zM179.1 433.5h1.0v1.0h-1.0zM186.5 435.9h1.0v1.0h-1.0zM182.2 432.9h0.7v0.7h-0.7zM177.6 435.1h1.0v1.0h-1.0zM173.3 429.7h1.0v1.0h-1.0zM183.1 432.5h0.7v0.7h-0.7zM168.1 428.7h1.0v1.0h-1.0zM166.4 427.8h0.7v0.7h-0.7zM166.1 432.0h0.7v0.7h-0.7zM177.0 443.0h0.7v0.7h-0.7zM162.2 429.7h1.0v1.0h-1.0zM174.7 434.3h1.0v1.0h-1.0zM177.3 511.0h0.7v0.7h-0.7zM163.7 500.0h1.0v1.0h-1.0zM181.1 508.0h0.9v0.9h-0.9zM184.4 505.8h0.9v0.9h-0.9zM166.2 510.0h0.7v0.7h-0.7zM163.0 503.5h1.0v1.0h-1.0zM179.7 510.7h0.7v0.7h-0.7zM170.8 508.5h1.0v1.0h-1.0zM172.2 508.9h1.0v1.0h-1.0zM175.6 510.0h1.0v1.0h-1.0zM173.1 508.5h0.9v0.9h-0.9zM179.3 504.2h0.9v0.9h-0.9zM180.4 502.8h0.9v0.9h-0.9zM167.7 510.3h1.0v1.0h-1.0z"/><path d="M191.5,420 L191.83,419.88 L192.17,419.76 L192.5,419.64 L192.84,419.51 L193.17,419.39 L193.51,419.27 L193.84,419.15 L194.18,419.03 L194.51,418.91 L194.84,418.78 L195.18,418.66 L195.51,418.54 L195.85,418.42 L196.18,418.3 L196.52,418.18 L196.85,418.05 L197.19,417.75 L197.52,417.31 L197.85,416.86 L198.19,416.41 L198.52,415.97 L198.86,415.52 L199.19,415.08 L199.53,414.63 L199.86,414.19 L200.2,414 L200.53,414 L200.86,414 L201.2,414 L201.53,414 L201.87,414 L202.2,414 L202.54,414 L202.87,414 L203.21,414 L203.54,414 L203.87,414 L204.21,414 L204.54,414 L204.88,414 L205.21,414 L205.55,414 L205.88,414 L206.22,414 L206.55,414 L206.88,414 L207.22,414 L207.55,414 L207.89,414 L208.22,414 L208.56,414 L208.89,414 L209.23,414 L209.56,414 L209.89,414 L210.23,414 L210.56,414 L210.9,414 L211.23,414 L211.57,414 L211.9,414 L212.24,414 L212.57,414 L212.9,414 L213.24,414 L213.57,414 L213.91,414 L214.24,414 L214.58,414 L214.91,414 L215.25,414.07 L215.58,414.18 L215.91,414.28 L216.25,414.38 L216.58,414.48 L216.92,414.58 L217.25,414.68 L217.59,414.78 L217.92,414.89 L218.26,414.99 L218.59,415.09 L218.92,415.19 L219.26,415.29 L219.59,415.39 L219.93,415.49 L220.26,415.59 L220.6,415.7 L220.93,415.8 L221.27,415.9 L221.6,416 L221.6,492 L221.27,491.97 L220.93,491.94 L220.6,491.91 L220.26,491.88 L219.93,491.86 L219.59,491.83 L219.26,491.8 L218.92,491.77 L218.59,491.74 L218.26,491.71 L217.92,491.68 L217.59,491.65 L217.25,491.63 L216.92,491.6 L216.58,491.57 L216.25,491.54 L215.91,491.51 L215.58,491.48 L215.25,491.45 L214.91,491.42 L214.58,491.39 L214.24,491.37 L213.91,491.34 L213.57,491.31 L213.24,491.28 L212.9,491.25 L212.57,491.22 L212.24,491.19 L211.9,491.16 L211.57,491.14 L211.23,491.11 L210.9,491.08 L210.56,491.05 L210.23,491.02 L209.89,491.01 L209.56,491.04 L209.23,491.06 L208.89,491.09 L208.56,491.12 L208.22,491.14 L207.89,491.17 L207.55,491.2 L207.22,491.22 L206.88,491.25 L206.55,491.28 L206.22,491.3 L205.88,491.33 L205.55,491.36 L205.21,491.38 L204.88,491.41 L204.54,491.44 L204.21,491.46 L203.87,491.49 L203.54,491.52 L203.21,491.54 L202.87,491.57 L202.54,491.6 L202.2,491.62 L201.87,491.65 L201.53,491.68 L201.2,491.7 L200.86,491.73 L200.53,491.76 L200.2,491.78 L199.86,491.81 L199.53,491.84 L199.19,491.86 L198.86,491.89 L198.52,491.92 L198.19,491.94 L197.85,491.97 L197.52,492 L197.19,497.66 L196.85,503.68 L196.52,509.7 L196.18,510 L195.85,510 L195.51,510 L195.18,510 L194.84,510 L194.51,510 L194.18,510 L193.84,510 L193.51,510 L193.17,510 L192.84,510 L192.5,510 L192.17,510 L191.83,510 L191.5,510Z" fill="#40FFE0"/><path fill="#40FFE0" d="M197.1 411.7h1.1v1.1h-1.1zM193.2 403.4h1.1v1.1h-1.1zM203.4 399.5h1.1v1.1h-1.1zM197.6 416.7h1.1v1.1h-1.1zM200.4 413.8h1.1v1.1h-1.1zM193.0 419.3h1.1v1.1h-1.1zM200.4 412.5h1.1v1.1h-1.1zM208.5 408.5h1.1v1.1h-1.1zM220.0 414.3h1.1v1.1h-1.1zM194.0 412.4h1.1v1.1h-1.1zM196.3 418.2h1.1v1.1h-1.1zM212.2 407.3h1.1v1.1h-1.1zM219.5 406.0h1.1v1.1h-1.1zM209.4 409.7h1.1v1.1h-1.1zM204.1 412.0h1.1v1.1h-1.1zM216.3 403.8h1.1v1.1h-1.1zM193.3 414.5h1.1v1.1h-1.1zM195.7 416.0h1.1v1.1h-1.1zM196.6 414.6h1.1v1.1h-1.1zM219.7 403.3h1.1v1.1h-1.1zM210.0 407.1h1.1v1.1h-1.1zM203.5 392.7h1.1v1.1h-1.1zM210.2 413.4h1.1v1.1h-1.1zM207.0 412.9h1.1v1.1h-1.1zM202.4 406.9h1.1v1.1h-1.1zM202.3 393.0h1.1v1.1h-1.1zM218.2 410.1h1.1v1.1h-1.1zM205.5 409.5h1.1v1.1h-1.1zM198.2 413.3h1.1v1.1h-1.1zM219.0 412.3h1.1v1.1h-1.1zM195.3 415.7h1.1v1.1h-1.1zM209.9 413.7h1.1v1.1h-1.1zM206.2 404.9h1.1v1.1h-1.1zM197.8 414.8h1.1v1.1h-1.1zM195.2 418.3h1.1v1.1h-1.1zM216.4 408.5h1.1v1.1h-1.1zM219.9 414.7h1.1v1.1h-1.1zM213.0 411.1h1.1v1.1h-1.1zM204.1 396.6h1.1v1.1h-1.1zM212.3 410.3h1.1v1.1h-1.1zM198.6 411.3h1.1v1.1h-1.1zM201.9 411.1h1.1v1.1h-1.1zM220.0 406.3h1.1v1.1h-1.1zM192.4 407.4h1.1v1.1h-1.1zM218.1 411.2h1.1v1.1h-1.1zM215.5 413.6h1.1v1.1h-1.1zM192.0 416.8h1.1v1.1h-1.1zM202.7 404.8h1.1v1.1h-1.1zM214.1 394.5h1.1v1.1h-1.1zM220.4 401.6h1.1v1.1h-1.1zM201.2 413.5h1.1v1.1h-1.1zM218.4 412.5h1.1v1.1h-1.1zM220.4 402.9h1.1v1.1h-1.1zM205.9 410.7h1.1v1.1h-1.1zM193.4 412.2h1.1v1.1h-1.1zM217.1 412.2h1.1v1.1h-1.1zM204.6 412.8h1.1v1.1h-1.1zM217.1 409.9h1.1v1.1h-1.1zM200.4 409.0h1.1v1.1h-1.1zM201.5 406.1h1.1v1.1h-1.1zM219.7 409.1h1.1v1.1h-1.1zM199.8 408.1h1.1v1.1h-1.1zM213.7 405.8h1.1v1.1h-1.1zM211.7 400.2h1.1v1.1h-1.1zM197.0 415.4h1.1v1.1h-1.1zM206.2 406.7h1.1v1.1h-1.1zM205.0 407.0h1.1v1.1h-1.1zM210.8 413.3h1.1v1.1h-1.1zM192.8 418.7h1.1v1.1h-1.1zM219.4 414.8h1.1v1.1h-1.1zM207.7 404.5h1.1v1.1h-1.1zM219.4 407.9h1.1v1.1h-1.1zM211.1 409.1h1.1v1.1h-1.1zM211.9 409.0h1.1v1.1h-1.1zM197.3 410.0h1.1v1.1h-1.1zM201.0 409.3h1.1v1.1h-1.1zM217.5 407.5h1.1v1.1h-1.1zM197.5 401.4h1.1v1.1h-1.1zM218.5 411.5h1.1v1.1h-1.1zM195.1 399.4h1.1v1.1h-1.1zM191.9 417.3h1.1v1.1h-1.1zM200.9 413.9h1.1v1.1h-1.1zM208.9 407.3h1.1v1.1h-1.1zM192.9 411.8h1.1v1.1h-1.1zM220.2 405.3h1.1v1.1h-1.1zM213.0 413.5h1.1v1.1h-1.1zM201.1 413.2h1.1v1.1h-1.1zM198.6 403.2h1.1v1.1h-1.1zM197.7 409.0h1.1v1.1h-1.1zM197.3 417.0h1.1v1.1h-1.1zM203.1 409.9h1.1v1.1h-1.1zM215.6 405.6h1.1v1.1h-1.1zM203.9 410.9h1.1v1.1h-1.1zM203.9 401.2h1.1v1.1h-1.1zM214.9 395.8h1.1v1.1h-1.1zM209.8 409.3h1.1v1.1h-1.1zM207.1 413.9h1.1v1.1h-1.1zM201.7 407.6h1.1v1.1h-1.1zM196.9 402.0h1.1v1.1h-1.1zM219.3 411.1h1.1v1.1h-1.1zM213.9 413.1h1.1v1.1h-1.1zM193.2 417.4h1.1v1.1h-1.1zM200.7 413.4h1.1v1.1h-1.1zM205.5 411.2h1.1v1.1h-1.1zM193.2 417.9h1.1v1.1h-1.1zM199.2 414.4h1.1v1.1h-1.1zM210.9 410.4h1.1v1.1h-1.1zM215.6 406.0h1.1v1.1h-1.1zM192.6 417.2h1.1v1.1h-1.1zM217.3 414.5h1.1v1.1h-1.1zM205.0 403.1h1.1v1.1h-1.1zM199.9 413.8h1.1v1.1h-1.1zM214.2 408.9h1.1v1.1h-1.1zM212.7 408.6h1.1v1.1h-1.1zM208.6 408.6h1.1v1.1h-1.1zM218.1 411.4h1.1v1.1h-1.1zM196.7 411.0h1.1v1.1h-1.1zM218.8 414.0h1.1v1.1h-1.1zM193.8 416.9h1.1v1.1h-1.1zM198.3 414.6h1.1v1.1h-1.1zM201.3 409.0h1.1v1.1h-1.1zM216.5 412.1h1.1v1.1h-1.1zM218.2 397.4h1.1v1.1h-1.1zM214.3 406.7h1.1v1.1h-1.1zM194.9 416.2h1.1v1.1h-1.1zM205.7 411.5h1.1v1.1h-1.1zM219.3 409.3h1.1v1.1h-1.1zM219.5 413.3h1.1v1.1h-1.1zM216.0 410.2h1.1v1.1h-1.1zM211.8 402.1h1.1v1.1h-1.1zM213.9 408.7h1.1v1.1h-1.1zM199.4 406.8h1.1v1.1h-1.1zM203.2 413.6h1.1v1.1h-1.1zM215.5 406.0h1.1v1.1h-1.1zM203.8 410.0h1.1v1.1h-1.1zM203.6 405.0h1.1v1.1h-1.1zM193.7 413.9h1.1v1.1h-1.1zM202.6 408.4h1.1v1.1h-1.1zM209.5 395.8h1.1v1.1h-1.1zM193.8 409.9h1.1v1.1h-1.1zM206.5 407.1h1.1v1.1h-1.1zM213.0 413.0h1.1v1.1h-1.1zM197.7 416.6h1.1v1.1h-1.1zM196.8 416.8h1.1v1.1h-1.1zM193.7 411.3h1.1v1.1h-1.1zM207.5 413.8h1.1v1.1h-1.1zM209.8 406.7h1.1v1.1h-1.1zM191.7 418.2h1.1v1.1h-1.1zM206.1 408.7h1.1v1.1h-1.1zM211.3 412.1h1.1v1.1h-1.1zM217.0 409.6h1.1v1.1h-1.1zM218.8 400.6h1.1v1.1h-1.1zM210.3 403.8h1.1v1.1h-1.1zM214.3 413.4h1.1v1.1h-1.1zM200.3 413.7h1.1v1.1h-1.1zM209.6 404.7h1.1v1.1h-1.1zM200.7 402.1h1.1v1.1h-1.1zM194.9 417.4h1.1v1.1h-1.1zM207.6 411.9h1.1v1.1h-1.1zM202.6 412.3h1.1v1.1h-1.1zM198.6 412.8h1.1v1.1h-1.1zM194.2 414.0h1.1v1.1h-1.1zM213.3 413.9h1.1v1.1h-1.1zM203.0 408.3h1.1v1.1h-1.1zM210.3 406.2h1.1v1.1h-1.1zM203.6 413.1h1.1v1.1h-1.1zM192.3 411.1h1.1v1.1h-1.1zM197.5 399.4h1.1v1.1h-1.1zM204.8 397.0h1.1v1.1h-1.1zM217.5 414.1h1.1v1.1h-1.1zM194.9 414.6h1.1v1.1h-1.1zM196.3 408.0h1.1v1.1h-1.1zM206.8 402.9h1.1v1.1h-1.1zM212.3 407.6h1.1v1.1h-1.1zM196.8 412.8h1.1v1.1h-1.1zM193.8 418.7h1.1v1.1h-1.1zM194.2 414.0h1.1v1.1h-1.1zM211.9 407.9h1.1v1.1h-1.1zM201.5 410.4h1.1v1.1h-1.1zM191.5 509.8h1.1v1.7h-1.1zM192.6 509.8h1.0v1.9h-1.0zM192.6 511.7h1.0v2.0h-1.0zM192.6 513.7h1.0v1.5h-1.0zM192.6 517.1h1.0v1.1h-1.0zM192.6 519.2h1.0v1.4h-1.0zM193.6 509.8h0.8v3.4h-0.8zM193.6 513.2h0.8v3.3h-0.8zM194.4 509.8h1.3v2.5h-1.3zM194.4 512.3h1.3v2.3h-1.3zM194.4 514.6h1.3v2.4h-1.3zM194.4 518.0h1.3v1.2h-1.3zM195.7 509.8h1.0v2.2h-1.0zM195.7 512.0h1.0v1.7h-1.0zM196.7 506.2h1.1v1.7h-1.1zM196.7 507.9h1.1v1.5h-1.1zM197.8 491.8h1.3v2.3h-1.3zM197.8 494.1h1.3v1.2h-1.3zM197.8 495.3h1.3v2.3h-1.3zM197.8 498.3h1.3v2.5h-1.3zM197.8 502.5h1.3v1.6h-1.3zM199.1 491.7h1.3v2.1h-1.3zM200.4 491.6h1.1v3.5h-1.1zM200.4 495.0h1.1v2.5h-1.1zM200.4 498.5h1.1v1.5h-1.1zM200.4 500.6h1.1v2.2h-1.1zM201.5 491.5h1.3v3.5h-1.3zM201.5 494.9h1.3v1.6h-1.3zM202.8 491.4h0.8v2.6h-0.8zM202.8 494.0h0.8v0.1h-0.8zM203.6 491.3h1.0v3.2h-1.0zM203.6 494.5h1.0v3.2h-1.0zM203.6 499.4h1.0v1.4h-1.0zM203.6 502.1h1.0v3.3h-1.0zM204.6 491.2h1.1v3.1h-1.1zM204.6 494.4h1.1v2.7h-1.1zM205.7 491.1h1.0v2.7h-1.0zM205.7 493.8h1.0v0.1h-1.0zM206.7 491.1h0.8v1.9h-0.8zM206.7 493.0h0.8v1.8h-0.8zM206.7 494.8h0.8v1.7h-0.8zM206.7 497.6h0.8v1.3h-0.8zM206.7 500.2h0.8v3.8h-0.8zM206.7 505.5h0.8v3.8h-0.8zM208.3 490.9h0.8v2.4h-0.8zM208.3 493.3h0.8v1.8h-0.8zM208.3 495.2h0.8v2.1h-0.8zM208.3 498.4h0.8v1.5h-0.8zM209.1 490.9h0.8v2.0h-0.8zM209.1 492.8h0.8v0.3h-0.8zM210.7 490.9h1.3v1.6h-1.3zM210.7 492.5h1.3v1.2h-1.3zM210.7 493.6h1.3v1.2h-1.3zM212.0 491.0h1.0v1.0h-1.0zM212.0 492.0h1.0v1.8h-1.0zM212.0 493.8h1.0v1.0h-1.0zM213.0 491.1h1.3v2.9h-1.3zM213.0 493.9h1.3v1.1h-1.3zM214.3 491.2h1.0v1.9h-1.0zM214.3 493.1h1.0v3.1h-1.0zM214.3 496.2h1.0v2.4h-1.0zM214.3 499.6h1.0v1.1h-1.0zM216.1 491.3h1.1v1.1h-1.1zM217.2 491.4h1.1v1.5h-1.1zM218.3 491.5h1.1v2.3h-1.1zM218.3 493.8h1.1v1.7h-1.1zM218.3 495.5h1.1v2.4h-1.1zM218.3 499.2h1.1v3.1h-1.1zM218.3 504.2h1.1v1.1h-1.1zM219.4 491.6h0.8v2.7h-0.8zM219.4 494.3h0.8v3.3h-0.8zM220.2 491.7h1.1v3.9h-1.1zM220.2 495.6h1.1v3.7h-1.1zM220.2 500.4h1.1v1.2h-1.1zM207.9 500.5h1.1v1.1h-1.1zM203.8 495.7h1.1v1.1h-1.1zM213.2 499.4h1.1v1.1h-1.1zM211.2 498.5h1.1v1.1h-1.1zM216.8 494.4h1.1v1.1h-1.1zM200.8 494.6h1.1v1.1h-1.1zM205.5 492.1h1.1v1.1h-1.1zM198.6 493.2h1.1v1.1h-1.1zM206.9 499.3h1.1v1.1h-1.1zM214.5 503.8h1.1v1.1h-1.1zM212.9 491.5h1.1v1.1h-1.1zM216.1 492.9h1.1v1.1h-1.1zM210.2 507.8h1.1v1.1h-1.1zM210.0 494.9h1.1v1.1h-1.1zM209.7 508.7h1.1v1.1h-1.1zM199.9 494.9h1.1v1.1h-1.1zM202.1 498.7h1.1v1.1h-1.1zM208.1 497.4h1.1v1.1h-1.1zM210.8 494.0h1.1v1.1h-1.1zM217.5 494.2h1.1v1.1h-1.1zM218.1 492.6h1.1v1.1h-1.1zM201.4 501.5h1.1v1.1h-1.1zM207.2 495.8h1.1v1.1h-1.1zM196.9 510.1h1.1v1.1h-1.1zM201.1 510.4h1.1v1.1h-1.1zM200.4 496.0h1.1v1.1h-1.1zM207.9 492.6h1.1v1.1h-1.1zM204.4 499.7h1.1v1.1h-1.1zM202.8 491.9h1.1v1.1h-1.1zM215.9 495.4h1.1v1.1h-1.1zM220.4 493.6h1.1v1.1h-1.1zM218.7 501.1h1.1v1.1h-1.1zM218.0 496.1h1.1v1.1h-1.1zM219.2 501.5h1.1v1.1h-1.1zM209.6 493.3h1.1v1.1h-1.1zM193.5 513.1h1.1v1.1h-1.1zM207.2 492.8h1.1v1.1h-1.1zM192.0 517.0h1.1v1.1h-1.1zM195.2 511.6h1.1v1.1h-1.1zM201.7 491.8h1.1v1.1h-1.1zM216.4 500.7h1.1v1.1h-1.1zM202.4 493.3h1.1v1.1h-1.1zM209.8 491.7h1.1v1.1h-1.1zM200.0 498.7h1.1v1.1h-1.1zM212.1 400.2h1.1v1.1h-1.1zM210.4 407.9h1.1v1.1h-1.1zM198.3 399.9h1.1v1.1h-1.1zM211.8 402.2h1.1v1.1h-1.1zM195.6 395.4h1.1v1.1h-1.1zM192.0 412.7h1.1v1.1h-1.1zM194.3 517.5h1.1v1.1h-1.1zM195.3 520.1h1.1v1.1h-1.1zM201.1 515.2h1.1v1.1h-1.1zM196.1 518.1h1.1v1.1h-1.1z"/><path fill="#fff" d="M202.0 421.9h0.7v0.7h-0.7zM204.1 418.2h0.9v0.9h-0.9zM198.8 417.4h1.0v1.0h-1.0zM194.2 421.6h1.0v1.0h-1.0zM201.7 416.9h0.7v0.7h-0.7zM210.2 420.9h1.0v1.0h-1.0zM192.9 431.7h0.9v0.9h-0.9zM206.1 418.4h0.9v0.9h-0.9zM218.7 418.3h0.7v0.7h-0.7zM193.9 420.8h0.9v0.9h-0.9zM211.3 423.5h1.0v1.0h-1.0zM204.5 417.3h1.0v1.0h-1.0zM204.5 417.7h0.9v0.9h-0.9zM217.0 414.8h1.0v1.0h-1.0zM195.6 421.3h0.9v0.9h-0.9zM209.6 418.4h0.7v0.7h-0.7zM199.3 416.1h0.7v0.7h-0.7zM195.9 436.5h0.9v0.9h-0.9zM209.6 415.9h0.9v0.9h-0.9zM211.3 417.9h1.0v1.0h-1.0zM193.9 423.0h0.9v0.9h-0.9zM211.7 418.8h0.7v0.7h-0.7zM215.0 416.2h1.0v1.0h-1.0zM211.5 418.6h0.9v0.9h-0.9zM219.0 429.5h0.7v0.7h-0.7zM204.3 415.7h1.0v1.0h-1.0zM219.6 418.7h0.7v0.7h-0.7zM202.7 418.1h0.9v0.9h-0.9zM217.8 422.6h0.9v0.9h-0.9zM200.9 418.1h0.9v0.9h-0.9zM211.0 415.3h0.7v0.7h-0.7zM200.3 414.5h1.0v1.0h-1.0zM212.8 420.4h0.9v0.9h-0.9zM200.4 418.6h1.0v1.0h-1.0zM202.3 415.6h1.0v1.0h-1.0zM206.1 417.0h0.9v0.9h-0.9zM198.4 429.4h1.0v1.0h-1.0zM209.3 414.4h0.7v0.7h-0.7zM203.7 415.3h0.7v0.7h-0.7zM207.2 419.2h0.9v0.9h-0.9zM214.1 416.5h0.7v0.7h-0.7zM219.5 419.8h1.0v1.0h-1.0zM200.9 420.6h0.9v0.9h-0.9zM204.3 414.9h0.7v0.7h-0.7zM204.7 415.5h0.7v0.7h-0.7zM195.0 419.1h0.9v0.9h-0.9zM201.7 415.1h0.7v0.7h-0.7zM202.9 414.0h0.7v0.7h-0.7zM192.9 426.9h0.9v0.9h-0.9zM198.8 416.8h1.0v1.0h-1.0zM192.9 424.7h0.9v0.9h-0.9zM215.9 414.4h0.7v0.7h-0.7zM194.8 423.5h0.7v0.7h-0.7zM194.9 422.4h0.9v0.9h-0.9zM220.0 418.4h0.7v0.7h-0.7zM202.8 414.4h1.0v1.0h-1.0zM219.5 422.9h1.0v1.0h-1.0zM213.8 414.1h0.9v0.9h-0.9zM196.2 419.2h0.7v0.7h-0.7zM203.4 418.3h0.7v0.7h-0.7zM191.9 422.5h0.7v0.7h-0.7zM205.6 419.4h0.7v0.7h-0.7zM205.0 414.3h0.7v0.7h-0.7zM217.3 419.7h0.7v0.7h-0.7zM193.2 420.1h0.7v0.7h-0.7zM203.0 432.1h1.0v1.0h-1.0zM214.9 416.9h0.7v0.7h-0.7zM215.6 414.9h0.7v0.7h-0.7zM207.6 414.6h0.9v0.9h-0.9zM211.0 415.3h1.0v1.0h-1.0zM217.2 419.0h0.7v0.7h-0.7zM211.3 419.6h0.7v0.7h-0.7zM206.3 419.6h0.7v0.7h-0.7zM203.3 417.4h0.7v0.7h-0.7zM205.9 414.9h0.7v0.7h-0.7zM209.1 489.7h1.0v1.0h-1.0zM207.4 489.0h0.7v0.7h-0.7zM199.5 489.2h0.7v0.7h-0.7zM210.1 485.8h0.7v0.7h-0.7zM214.5 486.8h1.0v1.0h-1.0zM218.7 488.3h0.7v0.7h-0.7zM191.9 506.7h0.7v0.7h-0.7zM195.7 505.0h0.9v0.9h-0.9zM191.6 508.0h0.7v0.7h-0.7zM213.3 487.9h0.7v0.7h-0.7zM193.3 499.2h0.9v0.9h-0.9zM211.7 488.9h1.0v1.0h-1.0zM206.8 488.5h1.0v1.0h-1.0zM198.7 489.8h0.7v0.7h-0.7zM218.0 490.7h1.0v1.0h-1.0zM206.7 398.0h1.0v1.0h-1.0zM206.7 399.0h1.0v1.0h-1.0zM206.5 400.0h1.0v1.0h-1.0zM206.6 402.0h1.0v1.0h-1.0zM206.8 403.0h1.0v1.0h-1.0zM206.6 405.0h1.0v1.0h-1.0zM206.4 406.0h1.0v1.0h-1.0zM206.5 407.0h1.0v1.0h-1.0zM206.3 412.0h1.0v1.0h-1.0zM206.5 413.0h1.0v1.0h-1.0zM206.6 415.0h1.0v1.0h-1.0zM206.4 418.0h1.0v1.0h-1.0zM206.6 419.0h1.0v1.0h-1.0zM206.4 420.0h1.0v1.0h-1.0zM206.7 421.0h1.0v1.0h-1.0zM206.7 424.0h1.0v1.0h-1.0zM206.5 425.0h1.0v1.0h-1.0zM206.8 426.0h1.0v1.0h-1.0zM206.4 428.0h1.0v1.0h-1.0z"/><path d="M223.2,421 L223.53,420.95 L223.87,420.89 L224.2,420.84 L224.53,420.79 L224.87,420.74 L225.2,420.68 L225.54,420.63 L225.87,420.58 L226.2,420.52 L226.54,420.47 L226.87,420.42 L227.2,420.36 L227.54,420.31 L227.87,420.26 L228.21,420.21 L228.54,420.15 L228.87,420.1 L229.21,420.05 L229.54,419.72 L229.87,417.38 L230.21,415.04 L230.54,413 L230.88,412.96 L231.21,412.92 L231.54,412.88 L231.88,412.84 L232.21,412.8 L232.54,412.76 L232.88,412.72 L233.21,412.68 L233.55,412.64 L233.88,412.6 L234.21,412.56 L234.55,412.52 L234.88,412.48 L235.21,412.45 L235.55,412.41 L235.88,412.37 L236.22,412.33 L236.55,412.29 L236.88,412.25 L237.22,412.21 L237.55,412.17 L237.88,412.13 L238.22,412.09 L238.55,412.05 L238.88,412.01 L239.22,409.81 L239.55,406.48 L239.89,403.14 L240.22,399.8 L240.55,396.89 L240.89,396.23 L241.22,395.56 L241.55,394.89 L241.89,394.22 L242.22,394 L242.56,394 L242.89,394 L243.22,394 L243.56,394 L243.89,394 L244.22,394 L244.56,394 L244.89,394 L245.23,394 L245.56,394 L245.89,394 L246.23,394 L246.56,394 L246.89,394 L247.23,394 L247.56,394 L247.9,394 L248.23,394 L248.56,394 L248.9,394 L249.23,394.24 L249.56,394.58 L249.9,394.93 L250.23,395.27 L250.57,395.62 L250.9,395.96 L251.23,396.31 L251.57,396.65 L251.9,397 L251.9,491 L251.57,490.98 L251.23,490.96 L250.9,490.94 L250.57,490.92 L250.23,490.9 L249.9,490.88 L249.56,490.86 L249.23,490.84 L248.9,490.82 L248.56,490.8 L248.23,490.78 L247.9,490.76 L247.56,490.74 L247.23,490.72 L246.89,490.7 L246.56,490.68 L246.23,490.66 L245.89,490.64 L245.56,490.62 L245.23,490.61 L244.89,490.59 L244.56,490.57 L244.22,490.55 L243.89,490.53 L243.56,490.51 L243.22,490.49 L242.89,490.47 L242.56,490.45 L242.22,490.43 L241.89,490.41 L241.55,490.39 L241.22,490.37 L240.89,490.35 L240.55,490.33 L240.22,490.31 L239.89,490.29 L239.55,490.27 L239.22,490.25 L238.88,490.23 L238.55,490.21 L238.22,490.19 L237.88,490.17 L237.55,490.15 L237.22,490.13 L236.88,490.11 L236.55,490.09 L236.22,490.07 L235.88,490.05 L235.55,490.03 L235.21,490.01 L234.88,490 L234.55,490 L234.21,490 L233.88,490 L233.55,490 L233.21,490 L232.88,490 L232.54,490 L232.21,490 L231.88,490 L231.54,490 L231.21,490 L230.88,490 L230.54,490 L230.21,490 L229.87,490 L229.54,490 L229.21,490 L228.87,490 L228.54,490 L228.21,490 L227.87,490 L227.54,490 L227.2,490 L226.87,490 L226.54,490 L226.2,490 L225.87,490 L225.54,490 L225.2,490 L224.87,490 L224.53,490 L224.2,490 L223.87,490 L223.53,490 L223.2,490Z" fill="#4CFF2A"/><path fill="#4CFF2A" d="M230.0 413.6h1.1v1.1h-1.1zM238.0 410.6h1.1v1.1h-1.1zM233.6 412.3h1.1v1.1h-1.1zM234.4 409.4h1.1v1.1h-1.1zM233.6 409.2h1.1v1.1h-1.1zM229.9 416.4h1.1v1.1h-1.1zM238.8 408.5h1.1v1.1h-1.1zM227.1 410.9h1.1v1.1h-1.1zM225.9 409.3h1.1v1.1h-1.1zM228.7 412.6h1.1v1.1h-1.1zM231.6 411.3h1.1v1.1h-1.1zM239.3 407.5h1.1v1.1h-1.1zM228.5 412.8h1.1v1.1h-1.1zM226.2 417.5h1.1v1.1h-1.1zM228.1 417.8h1.1v1.1h-1.1zM233.0 412.5h1.1v1.1h-1.1zM226.8 409.2h1.1v1.1h-1.1zM226.6 420.1h1.1v1.1h-1.1zM229.9 410.7h1.1v1.1h-1.1zM229.2 413.3h1.1v1.1h-1.1zM231.5 410.6h1.1v1.1h-1.1zM233.6 408.7h1.1v1.1h-1.1zM236.0 410.8h1.1v1.1h-1.1zM224.6 419.5h1.1v1.1h-1.1zM230.3 413.9h1.1v1.1h-1.1zM235.7 409.6h1.1v1.1h-1.1zM223.2 419.5h1.1v1.1h-1.1zM228.8 420.1h1.1v1.1h-1.1zM231.6 411.7h1.1v1.1h-1.1zM237.2 411.8h1.1v1.1h-1.1zM239.6 403.1h1.1v1.1h-1.1zM230.6 411.5h1.1v1.1h-1.1zM233.1 412.7h1.1v1.1h-1.1zM226.3 420.5h1.1v1.1h-1.1zM227.4 417.6h1.1v1.1h-1.1zM238.4 408.0h1.1v1.1h-1.1zM230.1 408.5h1.1v1.1h-1.1zM223.9 410.8h1.1v1.1h-1.1zM232.9 407.1h1.1v1.1h-1.1zM228.5 420.0h1.1v1.1h-1.1zM231.0 409.9h1.1v1.1h-1.1zM233.9 405.7h1.1v1.1h-1.1zM227.1 419.0h1.1v1.1h-1.1zM228.9 416.3h1.1v1.1h-1.1zM228.1 415.1h1.1v1.1h-1.1zM234.4 411.5h1.1v1.1h-1.1zM230.0 407.9h1.1v1.1h-1.1zM227.5 418.1h1.1v1.1h-1.1zM223.8 415.7h1.1v1.1h-1.1zM229.4 419.7h1.1v1.1h-1.1zM234.3 410.9h1.1v1.1h-1.1zM227.7 412.1h1.1v1.1h-1.1zM224.4 416.5h1.1v1.1h-1.1zM226.3 413.7h1.1v1.1h-1.1zM231.7 412.8h1.1v1.1h-1.1zM227.1 419.1h1.1v1.1h-1.1zM228.5 417.8h1.1v1.1h-1.1zM225.5 419.1h1.1v1.1h-1.1zM228.0 419.2h1.1v1.1h-1.1zM230.4 405.3h1.1v1.1h-1.1zM236.5 407.9h1.1v1.1h-1.1zM237.2 407.8h1.1v1.1h-1.1zM234.9 408.6h1.1v1.1h-1.1zM233.3 412.1h1.1v1.1h-1.1zM236.7 408.9h1.1v1.1h-1.1zM236.0 409.5h1.1v1.1h-1.1zM227.9 416.8h1.1v1.1h-1.1zM223.3 419.7h1.1v1.1h-1.1zM234.5 412.3h1.1v1.1h-1.1zM235.2 407.6h1.1v1.1h-1.1zM234.9 411.9h1.1v1.1h-1.1zM223.4 411.0h1.1v1.1h-1.1zM231.1 406.5h1.1v1.1h-1.1zM234.4 410.1h1.1v1.1h-1.1zM228.2 415.1h1.1v1.1h-1.1zM231.5 409.5h1.1v1.1h-1.1zM224.8 418.0h1.1v1.1h-1.1zM234.2 402.3h1.1v1.1h-1.1zM224.2 419.8h1.1v1.1h-1.1zM225.0 418.3h1.1v1.1h-1.1zM233.9 403.3h1.1v1.1h-1.1zM239.3 408.8h1.1v1.1h-1.1zM224.0 420.0h1.1v1.1h-1.1zM223.6 420.5h1.1v1.1h-1.1zM235.1 408.7h1.1v1.1h-1.1zM227.9 413.6h1.1v1.1h-1.1zM227.9 403.7h1.1v1.1h-1.1zM229.3 419.0h1.1v1.1h-1.1zM223.4 406.6h1.1v1.1h-1.1zM233.2 411.8h1.1v1.1h-1.1zM234.9 411.9h1.1v1.1h-1.1zM235.5 412.3h1.1v1.1h-1.1zM237.4 408.2h1.1v1.1h-1.1zM234.4 409.0h1.1v1.1h-1.1zM226.1 418.2h1.1v1.1h-1.1zM235.8 406.2h1.1v1.1h-1.1zM227.7 416.8h1.1v1.1h-1.1zM239.3 404.0h1.1v1.1h-1.1zM234.8 411.5h1.1v1.1h-1.1zM239.5 404.9h1.1v1.1h-1.1zM223.4 420.3h1.1v1.1h-1.1zM225.2 420.3h1.1v1.1h-1.1zM227.2 419.0h1.1v1.1h-1.1zM226.6 417.4h1.1v1.1h-1.1zM226.3 418.0h1.1v1.1h-1.1zM224.0 414.5h1.1v1.1h-1.1zM239.4 405.1h1.1v1.1h-1.1zM231.8 409.7h1.1v1.1h-1.1zM238.7 408.0h1.1v1.1h-1.1zM237.2 409.8h1.1v1.1h-1.1zM224.0 489.8h1.0v1.1h-1.0zM224.0 490.9h1.0v2.4h-1.0zM225.0 489.8h1.0v3.2h-1.0zM225.0 493.0h1.0v2.9h-1.0zM225.0 497.1h1.0v2.8h-1.0zM225.0 501.3h1.0v0.4h-1.0zM226.0 489.8h1.3v2.1h-1.3zM226.0 491.9h1.3v3.4h-1.3zM226.0 495.2h1.3v2.6h-1.3zM226.0 499.3h1.3v2.6h-1.3zM226.0 503.0h1.3v3.1h-1.3zM226.0 506.8h1.3v3.5h-1.3zM226.0 511.2h1.3v2.8h-1.3zM227.3 489.8h1.3v3.7h-1.3zM227.3 493.5h1.3v0.3h-1.3zM228.6 489.8h1.3v1.4h-1.3zM228.6 491.2h1.3v0.3h-1.3zM229.9 489.8h0.8v3.4h-0.8zM230.7 489.8h0.8v1.3h-0.8zM230.7 491.1h0.8v3.6h-0.8zM230.7 494.7h0.8v3.1h-0.8zM231.5 489.8h0.8v3.5h-0.8zM231.5 493.3h0.8v3.9h-0.8zM231.5 497.7h0.8v3.6h-0.8zM231.5 502.9h0.8v1.5h-0.8zM231.5 505.3h0.8v2.8h-0.8zM231.5 508.9h0.8v2.8h-0.8zM231.5 512.5h0.8v1.5h-0.8zM232.3 489.8h0.8v1.4h-0.8zM232.3 491.2h0.8v1.3h-0.8zM232.3 492.5h0.8v1.1h-0.8zM233.1 489.8h1.3v3.9h-1.3zM233.1 493.7h1.3v1.9h-1.3zM233.1 497.2h1.3v0.7h-1.3zM234.4 489.8h0.8v2.4h-0.8zM234.4 492.2h0.8v3.0h-0.8zM234.4 495.3h0.8v0.9h-0.8zM235.2 489.8h1.1v2.4h-1.1zM235.2 492.2h1.1v1.0h-1.1zM236.3 489.9h1.0v1.6h-1.0zM236.3 491.5h1.0v2.5h-1.0zM236.3 494.0h1.0v1.8h-1.0zM237.3 489.9h0.8v2.2h-0.8zM237.3 492.1h0.8v3.1h-0.8zM237.3 495.2h0.8v1.2h-0.8zM237.3 497.5h0.8v3.2h-0.8zM237.3 501.4h0.8v1.6h-0.8zM238.1 490.0h1.3v1.8h-1.3zM238.1 491.8h1.3v3.3h-1.3zM238.1 495.1h1.3v1.5h-1.3zM238.1 498.2h1.3v2.4h-1.3zM238.1 502.4h1.3v4.0h-1.3zM238.1 508.2h1.3v1.2h-1.3zM239.4 490.1h1.0v2.6h-1.0zM239.4 492.7h1.0v3.4h-1.0zM240.4 490.1h1.3v2.0h-1.3zM240.4 492.1h1.3v2.3h-1.3zM240.4 494.4h1.3v0.3h-1.3zM241.7 490.2h1.1v2.8h-1.1zM241.7 493.0h1.1v1.7h-1.1zM241.7 495.8h1.1v0.1h-1.1zM242.8 490.3h0.8v3.9h-0.8zM242.8 494.1h0.8v2.5h-0.8zM242.8 498.1h0.8v1.8h-0.8zM242.8 500.8h0.8v1.4h-0.8zM243.6 490.3h1.0v3.2h-1.0zM244.6 490.4h1.0v0.7h-1.0zM245.6 490.4h1.0v0.8h-1.0zM246.6 490.5h1.0v0.7h-1.0zM247.6 490.5h1.0v3.5h-1.0zM247.6 494.0h1.0v1.6h-1.0zM247.6 496.9h1.0v1.4h-1.0zM248.6 490.6h1.1v3.1h-1.1zM248.6 493.7h1.1v0.3h-1.1zM249.7 490.7h1.3v1.9h-1.3zM249.7 492.5h1.3v2.0h-1.3zM250.2 494.5h1.1v1.1h-1.1zM228.4 497.1h1.1v1.1h-1.1zM231.8 490.6h1.1v1.1h-1.1zM249.1 491.1h1.1v1.1h-1.1zM248.8 491.0h1.1v1.1h-1.1zM242.3 493.9h1.1v1.1h-1.1zM226.6 492.3h1.1v1.1h-1.1zM239.0 495.6h1.1v1.1h-1.1zM234.3 492.1h1.1v1.1h-1.1zM245.6 490.7h1.1v1.1h-1.1zM233.1 494.0h1.1v1.1h-1.1zM237.7 498.9h1.1v1.1h-1.1zM224.5 507.2h1.1v1.1h-1.1zM245.6 496.9h1.1v1.1h-1.1zM242.0 498.9h1.1v1.1h-1.1zM239.2 494.6h1.1v1.1h-1.1zM243.3 496.0h1.1v1.1h-1.1zM248.2 496.1h1.1v1.1h-1.1zM233.9 495.6h1.1v1.1h-1.1zM233.2 495.3h1.1v1.1h-1.1zM227.9 491.4h1.1v1.1h-1.1zM240.8 494.7h1.1v1.1h-1.1zM231.3 502.0h1.1v1.1h-1.1zM232.9 496.5h1.1v1.1h-1.1zM224.4 492.0h1.1v1.1h-1.1zM241.8 491.5h1.1v1.1h-1.1zM227.1 494.4h1.1v1.1h-1.1zM238.7 492.5h1.1v1.1h-1.1zM244.6 503.2h1.1v1.1h-1.1zM245.3 494.7h1.1v1.1h-1.1zM240.6 492.2h1.1v1.1h-1.1zM239.2 491.7h1.1v1.1h-1.1zM228.8 494.0h1.1v1.1h-1.1zM233.5 493.9h1.1v1.1h-1.1zM229.5 493.8h1.1v1.1h-1.1zM242.8 493.1h1.1v1.1h-1.1zM230.4 491.8h1.1v1.1h-1.1zM235.6 496.1h1.1v1.1h-1.1zM229.7 495.9h1.1v1.1h-1.1zM249.4 493.4h1.1v1.1h-1.1zM242.8 503.4h1.1v1.1h-1.1zM231.3 402.6h1.1v1.1h-1.1zM224.2 405.1h1.1v1.1h-1.1zM242.5 392.6h1.1v1.1h-1.1zM241.0 391.4h1.1v1.1h-1.1zM235.7 403.6h1.1v1.1h-1.1zM232.7 403.0h1.1v1.1h-1.1zM246.5 506.3h1.1v1.1h-1.1zM228.4 497.8h1.1v1.1h-1.1zM237.2 507.8h1.1v1.1h-1.1zM239.1 511.1h1.1v1.1h-1.1zM240.5 516.8h1.1v1.1h-1.1zM241.6 504.1h1.1v1.1h-1.1zM241.1 490.2h1.1v1.1h-1.1zM241.0 513.0h1.1v1.1h-1.1zM241.3 508.2h1.1v1.1h-1.1zM240.5 512.8h1.1v1.1h-1.1zM241.3 517.5h1.1v1.1h-1.1zM240.7 492.0h1.1v1.1h-1.1zM240.7 515.6h1.1v1.1h-1.1zM240.8 521.2h1.1v1.1h-1.1zM241.2 514.1h1.1v1.1h-1.1zM241.5 501.9h1.1v1.1h-1.1zM240.6 494.5h1.1v1.1h-1.1zM240.5 491.6h1.1v1.1h-1.1zM241.5 500.0h1.1v1.1h-1.1zM241.5 513.5h1.1v1.1h-1.1zM240.9 514.4h1.1v1.1h-1.1zM241.5 495.0h1.1v1.1h-1.1zM241.3 505.6h1.1v1.1h-1.1zM240.8 501.3h1.1v1.1h-1.1zM241.4 507.0h1.1v1.1h-1.1zM240.5 510.5h1.1v1.1h-1.1zM241.4 520.5h1.1v1.1h-1.1zM241.3 493.7h1.1v1.1h-1.1zM240.5 492.8h1.1v1.1h-1.1zM241.1 499.3h1.1v1.1h-1.1zM241.0 510.1h1.1v1.1h-1.1zM241.5 500.3h1.1v1.1h-1.1zM241.3 505.6h1.1v1.1h-1.1zM240.8 503.5h1.1v1.1h-1.1zM246.4 492.2h1.1v1.1h-1.1zM245.5 510.3h1.1v1.1h-1.1zM245.8 512.5h1.1v1.1h-1.1zM245.9 497.4h1.1v1.1h-1.1zM245.5 502.9h1.1v1.1h-1.1zM245.6 519.2h1.1v1.1h-1.1zM245.5 492.5h1.1v1.1h-1.1zM245.5 502.2h1.1v1.1h-1.1zM245.6 514.4h1.1v1.1h-1.1zM246.0 511.1h1.1v1.1h-1.1zM245.9 512.7h1.1v1.1h-1.1zM245.6 510.1h1.1v1.1h-1.1zM246.0 496.2h1.1v1.1h-1.1zM245.5 518.1h1.1v1.1h-1.1zM246.4 514.2h1.1v1.1h-1.1zM245.8 516.5h1.1v1.1h-1.1zM245.4 517.3h1.1v1.1h-1.1zM246.1 516.4h1.1v1.1h-1.1zM245.8 494.7h1.1v1.1h-1.1zM246.6 518.9h1.1v1.1h-1.1zM246.4 503.8h1.1v1.1h-1.1zM245.7 502.3h1.1v1.1h-1.1zM246.1 517.3h1.1v1.1h-1.1zM245.5 505.6h1.1v1.1h-1.1zM245.7 491.5h1.1v1.1h-1.1zM246.5 497.2h1.1v1.1h-1.1zM245.6 494.1h1.1v1.1h-1.1zM246.5 509.2h1.1v1.1h-1.1zM248.8 507.3h1.1v1.1h-1.1zM249.4 504.5h1.1v1.1h-1.1zM248.6 510.2h1.1v1.1h-1.1zM248.5 513.7h1.1v1.1h-1.1zM248.8 506.6h1.1v1.1h-1.1zM248.7 494.8h1.1v1.1h-1.1zM249.0 493.6h1.1v1.1h-1.1zM249.0 511.2h1.1v1.1h-1.1zM249.4 501.6h1.1v1.1h-1.1zM248.2 494.3h1.1v1.1h-1.1zM248.7 496.0h1.1v1.1h-1.1zM249.1 509.7h1.1v1.1h-1.1zM249.2 513.5h1.1v1.1h-1.1zM248.9 491.3h1.1v1.1h-1.1zM248.8 497.3h1.1v1.1h-1.1zM248.9 492.5h1.1v1.1h-1.1zM249.0 509.3h1.1v1.1h-1.1zM248.9 510.2h1.1v1.1h-1.1zM243.6 506.5h1.1v1.1h-1.1zM243.9 502.1h1.1v1.1h-1.1zM243.8 502.8h1.1v1.1h-1.1zM244.0 490.3h1.1v1.1h-1.1zM244.0 492.2h1.1v1.1h-1.1zM244.3 508.8h1.1v1.1h-1.1zM244.2 493.1h1.1v1.1h-1.1zM243.5 508.3h1.1v1.1h-1.1zM244.3 510.0h1.1v1.1h-1.1zM243.4 501.3h1.1v1.1h-1.1zM243.9 490.9h1.1v1.1h-1.1zM243.7 508.9h1.1v1.1h-1.1zM237.7 497.0h1.1v1.1h-1.1zM237.7 498.7h1.1v1.1h-1.1zM237.5 496.2h1.1v1.1h-1.1zM238.3 491.6h1.1v1.1h-1.1zM237.4 495.5h1.1v1.1h-1.1zM238.5 492.6h1.1v1.1h-1.1zM237.5 498.4h1.1v1.1h-1.1zM237.9 495.4h1.1v1.1h-1.1zM238.1 503.4h1.1v1.1h-1.1zM238.2 500.7h1.1v1.1h-1.1zM233.3 498.2h1.1v1.1h-1.1zM233.2 490.3h1.1v1.1h-1.1zM232.9 494.9h1.1v1.1h-1.1zM233.4 499.7h1.1v1.1h-1.1zM232.5 503.2h1.1v1.1h-1.1zM233.5 503.9h1.1v1.1h-1.1zM232.6 496.5h1.1v1.1h-1.1zM232.4 497.0h1.1v1.1h-1.1z"/><path fill="#fff" d="M229.1 424.0h0.7v0.7h-0.7zM230.3 416.0h0.9v0.9h-0.9zM230.2 415.5h1.0v1.0h-1.0zM229.9 421.8h0.9v0.9h-0.9zM238.1 413.9h1.0v1.0h-1.0zM250.2 399.1h0.9v0.9h-0.9zM232.7 418.5h0.7v0.7h-0.7zM249.2 395.3h0.9v0.9h-0.9zM231.0 413.5h0.7v0.7h-0.7zM232.8 414.9h1.0v1.0h-1.0zM227.6 422.6h0.9v0.9h-0.9zM243.2 402.6h1.0v1.0h-1.0zM232.7 413.5h0.9v0.9h-0.9zM224.6 424.6h0.7v0.7h-0.7zM225.7 431.8h0.9v0.9h-0.9zM227.1 427.7h1.0v1.0h-1.0zM230.1 418.7h1.0v1.0h-1.0zM236.3 419.4h0.7v0.7h-0.7zM246.4 402.7h1.0v1.0h-1.0zM240.9 397.6h1.0v1.0h-1.0zM234.6 417.6h0.7v0.7h-0.7zM249.8 401.1h0.7v0.7h-0.7zM229.7 419.5h1.0v1.0h-1.0zM236.2 412.7h0.7v0.7h-0.7zM248.2 394.5h0.7v0.7h-0.7zM225.2 421.5h1.0v1.0h-1.0zM229.6 421.1h0.9v0.9h-0.9zM250.8 396.9h0.9v0.9h-0.9zM227.7 428.8h0.7v0.7h-0.7zM229.8 421.3h1.0v1.0h-1.0zM250.5 396.9h1.0v1.0h-1.0zM226.0 423.0h0.9v0.9h-0.9zM246.7 395.9h0.9v0.9h-0.9zM237.7 414.4h1.0v1.0h-1.0zM249.3 398.4h0.9v0.9h-0.9zM243.0 394.8h1.0v1.0h-1.0zM246.0 403.6h0.7v0.7h-0.7zM224.1 423.6h0.9v0.9h-0.9zM245.5 394.3h0.9v0.9h-0.9zM250.2 395.6h0.7v0.7h-0.7zM243.2 394.5h0.9v0.9h-0.9zM235.4 415.8h0.9v0.9h-0.9zM236.9 413.2h1.0v1.0h-1.0zM238.2 413.6h0.7v0.7h-0.7zM242.6 398.9h0.9v0.9h-0.9zM223.6 423.2h1.0v1.0h-1.0zM241.6 395.8h0.7v0.7h-0.7zM231.0 414.4h0.7v0.7h-0.7zM239.5 407.5h0.7v0.7h-0.7zM243.8 396.4h1.0v1.0h-1.0zM235.3 412.9h0.9v0.9h-0.9zM250.8 398.2h0.9v0.9h-0.9zM229.6 421.5h0.7v0.7h-0.7zM230.1 424.3h0.9v0.9h-0.9zM229.5 421.6h0.7v0.7h-0.7zM225.6 425.7h1.0v1.0h-1.0zM236.7 417.2h0.7v0.7h-0.7zM244.8 399.0h0.7v0.7h-0.7zM232.2 422.6h0.9v0.9h-0.9zM234.2 413.2h1.0v1.0h-1.0zM250.5 396.3h0.9v0.9h-0.9zM243.8 396.9h0.9v0.9h-0.9zM246.2 399.4h0.7v0.7h-0.7zM247.8 394.1h1.0v1.0h-1.0zM234.7 414.0h0.7v0.7h-0.7zM233.5 424.2h0.7v0.7h-0.7zM243.9 395.3h0.9v0.9h-0.9zM244.1 404.8h0.9v0.9h-0.9zM229.3 430.7h0.9v0.9h-0.9zM232.4 416.1h0.9v0.9h-0.9zM247.6 403.5h0.9v0.9h-0.9zM242.8 486.2h0.9v0.9h-0.9zM246.1 489.4h1.0v1.0h-1.0zM249.3 484.8h0.7v0.7h-0.7zM225.8 488.9h0.7v0.7h-0.7zM227.4 488.9h1.0v1.0h-1.0zM230.6 486.3h1.0v1.0h-1.0zM229.6 488.3h0.7v0.7h-0.7zM247.5 486.0h1.0v1.0h-1.0zM228.4 488.9h1.0v1.0h-1.0zM224.6 484.7h1.0v1.0h-1.0zM241.8 484.2h0.9v0.9h-0.9zM225.0 487.6h0.9v0.9h-0.9zM243.7 484.3h0.7v0.7h-0.7zM240.0 484.7h0.7v0.7h-0.7zM228.3 408.0h1.0v1.0h-1.0zM228.2 409.0h1.0v1.0h-1.0zM228.3 410.0h1.0v1.0h-1.0zM228.2 411.0h1.0v1.0h-1.0zM228.2 413.0h1.0v1.0h-1.0zM228.3 415.0h1.0v1.0h-1.0zM227.8 416.0h1.0v1.0h-1.0zM228.1 419.0h1.0v1.0h-1.0zM227.8 420.0h1.0v1.0h-1.0zM228.1 421.0h1.0v1.0h-1.0zM227.9 422.0h1.0v1.0h-1.0zM227.8 423.0h1.0v1.0h-1.0zM228.0 424.0h1.0v1.0h-1.0zM227.8 425.0h1.0v1.0h-1.0zM227.8 426.0h1.0v1.0h-1.0zM228.1 427.0h1.0v1.0h-1.0zM228.0 428.0h1.0v1.0h-1.0zM228.3 429.0h1.0v1.0h-1.0zM227.9 430.0h1.0v1.0h-1.0zM227.9 431.0h1.0v1.0h-1.0zM227.9 432.0h1.0v1.0h-1.0zM228.3 433.0h1.0v1.0h-1.0zM227.9 434.0h1.0v1.0h-1.0zM228.2 435.0h1.0v1.0h-1.0zM228.4 436.0h1.0v1.0h-1.0zM228.2 437.0h1.0v1.0h-1.0zM228.3 438.0h1.0v1.0h-1.0zM228.1 439.0h1.0v1.0h-1.0z"/><path d="M253.5,421 L253.83,421.03 L254.17,421.06 L254.5,421.09 L254.84,421.12 L255.17,421.15 L255.51,421.17 L255.84,421.2 L256.18,421.23 L256.51,421.26 L256.85,421.29 L257.18,421.32 L257.52,421.35 L257.85,421.38 L258.19,421.41 L258.52,421.44 L258.86,421.47 L259.19,421.49 L259.53,421.52 L259.86,421.55 L260.2,421.58 L260.53,421.61 L260.87,421.64 L261.2,421.67 L261.53,421.7 L261.87,421.73 L262.2,421.76 L262.54,421.79 L262.87,421.82 L263.21,421.84 L263.54,421.87 L263.88,421.9 L264.21,421.93 L264.55,421.96 L264.88,421.99 L265.22,421.98 L265.55,421.95 L265.89,421.92 L266.22,421.89 L266.56,421.87 L266.89,421.84 L267.23,421.81 L267.56,421.78 L267.9,421.75 L268.23,421.72 L268.57,421.69 L268.9,421.66 L269.23,421.63 L269.57,421.61 L269.9,421.58 L270.24,421.55 L270.57,421.52 L270.91,421.49 L271.24,421.46 L271.58,421.43 L271.91,421.4 L272.25,421.38 L272.58,421.35 L272.92,421.32 L273.25,421.29 L273.59,421.26 L273.92,421.23 L274.26,421.2 L274.59,421.17 L274.93,421.14 L275.26,421.12 L275.6,421.09 L275.93,421.06 L276.27,421.03 L276.6,421 L276.6,503 L276.27,502.97 L275.93,502.94 L275.6,502.91 L275.26,502.87 L274.93,502.84 L274.59,502.81 L274.26,502.78 L273.92,502.75 L273.59,502.72 L273.25,502.68 L272.92,502.65 L272.58,502.62 L272.25,502.59 L271.91,502.56 L271.58,502.53 L271.24,502.49 L270.91,502.46 L270.57,502.43 L270.24,502.4 L269.9,502.37 L269.57,502.34 L269.23,502.31 L268.9,502.27 L268.57,502.24 L268.23,502.21 L267.9,502.18 L267.56,502.15 L267.23,502.12 L266.89,502.08 L266.56,502.05 L266.22,502.02 L265.89,501.6 L265.55,500.43 L265.22,499.26 L264.88,498.09 L264.55,496.92 L264.21,495.75 L263.88,494.99 L263.54,494.96 L263.21,494.92 L262.87,494.89 L262.54,494.86 L262.2,494.83 L261.87,494.8 L261.53,494.77 L261.2,494.73 L260.87,494.7 L260.53,494.67 L260.2,494.64 L259.86,494.61 L259.53,494.57 L259.19,494.54 L258.86,494.51 L258.52,494.48 L258.19,494.45 L257.85,494.41 L257.52,494.38 L257.18,494.35 L256.85,494.32 L256.51,494.29 L256.18,494.26 L255.84,494.22 L255.51,494.19 L255.17,494.16 L254.84,494.13 L254.5,494.1 L254.17,494.06 L253.83,494.03 L253.5,494Z" fill="#FF8000"/><path fill="#FF8000" d="M256.9 410.1h1.1v1.1h-1.1zM261.1 419.0h1.1v1.1h-1.1zM257.7 412.2h1.1v1.1h-1.1zM273.1 420.0h1.1v1.1h-1.1zM267.9 417.9h1.1v1.1h-1.1zM273.4 417.3h1.1v1.1h-1.1zM259.2 419.1h1.1v1.1h-1.1zM259.2 419.4h1.1v1.1h-1.1zM267.2 419.8h1.1v1.1h-1.1zM271.7 418.8h1.1v1.1h-1.1zM262.1 418.8h1.1v1.1h-1.1zM257.5 417.9h1.1v1.1h-1.1zM267.7 413.2h1.1v1.1h-1.1zM269.2 416.3h1.1v1.1h-1.1zM273.8 414.1h1.1v1.1h-1.1zM269.9 421.5h1.1v1.1h-1.1zM268.7 409.8h1.1v1.1h-1.1zM270.7 414.2h1.1v1.1h-1.1zM268.1 421.7h1.1v1.1h-1.1zM266.2 410.5h1.1v1.1h-1.1zM258.7 418.4h1.1v1.1h-1.1zM258.5 421.0h1.1v1.1h-1.1zM267.2 412.1h1.1v1.1h-1.1zM273.7 413.6h1.1v1.1h-1.1zM257.4 418.7h1.1v1.1h-1.1zM253.6 396.2h1.1v1.1h-1.1zM271.0 416.9h1.1v1.1h-1.1zM266.7 412.6h1.1v1.1h-1.1zM273.6 413.1h1.1v1.1h-1.1zM263.7 420.1h1.1v1.1h-1.1zM261.7 421.0h1.1v1.1h-1.1zM258.2 404.3h1.1v1.1h-1.1zM269.7 420.7h1.1v1.1h-1.1zM257.1 420.1h1.1v1.1h-1.1zM257.4 411.5h1.1v1.1h-1.1zM270.1 419.9h1.1v1.1h-1.1zM270.3 397.2h1.1v1.1h-1.1zM264.7 415.5h1.1v1.1h-1.1zM264.4 404.6h1.1v1.1h-1.1zM269.1 419.8h1.1v1.1h-1.1zM260.7 414.7h1.1v1.1h-1.1zM262.8 420.1h1.1v1.1h-1.1zM266.6 419.4h1.1v1.1h-1.1zM268.7 415.0h1.1v1.1h-1.1zM265.7 416.8h1.1v1.1h-1.1zM273.4 417.2h1.1v1.1h-1.1zM269.7 417.3h1.1v1.1h-1.1zM257.9 416.0h1.1v1.1h-1.1zM268.5 411.2h1.1v1.1h-1.1zM259.7 418.1h1.1v1.1h-1.1zM261.4 418.3h1.1v1.1h-1.1zM257.7 400.9h1.1v1.1h-1.1zM265.3 422.0h1.1v1.1h-1.1zM267.9 417.1h1.1v1.1h-1.1zM274.7 419.9h1.1v1.1h-1.1zM254.3 411.3h1.1v1.1h-1.1zM270.4 421.2h1.1v1.1h-1.1zM259.0 421.4h1.1v1.1h-1.1zM270.9 415.4h1.1v1.1h-1.1zM268.3 417.8h1.1v1.1h-1.1zM271.4 419.0h1.1v1.1h-1.1zM261.9 416.5h1.1v1.1h-1.1zM272.1 417.0h1.1v1.1h-1.1zM271.1 420.1h1.1v1.1h-1.1zM268.3 420.2h1.1v1.1h-1.1zM258.5 417.2h1.1v1.1h-1.1zM267.0 419.4h1.1v1.1h-1.1zM257.9 412.4h1.1v1.1h-1.1zM263.3 417.3h1.1v1.1h-1.1zM263.0 421.4h1.1v1.1h-1.1zM257.5 419.3h1.1v1.1h-1.1zM273.7 420.1h1.1v1.1h-1.1zM273.1 410.9h1.1v1.1h-1.1zM262.3 421.5h1.1v1.1h-1.1zM256.3 416.3h1.1v1.1h-1.1zM268.1 413.1h1.1v1.1h-1.1zM260.8 416.7h1.1v1.1h-1.1zM271.5 419.5h1.1v1.1h-1.1zM270.2 418.7h1.1v1.1h-1.1zM258.1 420.1h1.1v1.1h-1.1zM261.0 421.1h1.1v1.1h-1.1zM265.6 418.6h1.1v1.1h-1.1zM258.8 396.2h1.1v1.1h-1.1zM258.4 416.3h1.1v1.1h-1.1zM273.4 403.1h1.1v1.1h-1.1zM256.6 420.2h1.1v1.1h-1.1zM261.3 419.0h1.1v1.1h-1.1zM263.5 416.5h1.1v1.1h-1.1zM262.7 419.9h1.1v1.1h-1.1zM268.1 420.2h1.1v1.1h-1.1zM272.2 420.4h1.1v1.1h-1.1zM269.9 417.6h1.1v1.1h-1.1zM273.2 419.1h1.1v1.1h-1.1zM275.5 416.9h1.1v1.1h-1.1zM269.1 419.5h1.1v1.1h-1.1zM269.0 417.3h1.1v1.1h-1.1zM253.9 410.3h1.1v1.1h-1.1zM254.4 420.6h1.1v1.1h-1.1zM255.4 413.0h1.1v1.1h-1.1zM254.6 418.3h1.1v1.1h-1.1zM271.6 415.0h1.1v1.1h-1.1zM274.5 397.3h1.1v1.1h-1.1zM264.8 416.3h1.1v1.1h-1.1zM257.2 414.0h1.1v1.1h-1.1zM267.7 417.9h1.1v1.1h-1.1zM275.2 419.6h1.1v1.1h-1.1zM262.5 419.3h1.1v1.1h-1.1zM274.7 403.7h1.1v1.1h-1.1zM269.3 413.0h1.1v1.1h-1.1zM257.9 419.0h1.1v1.1h-1.1zM268.4 418.1h1.1v1.1h-1.1zM260.8 415.8h1.1v1.1h-1.1zM257.3 416.0h1.1v1.1h-1.1zM259.6 418.7h1.1v1.1h-1.1zM271.4 421.4h1.1v1.1h-1.1zM257.8 414.4h1.1v1.1h-1.1zM257.9 415.7h1.1v1.1h-1.1zM267.1 421.4h1.1v1.1h-1.1zM259.1 419.5h1.1v1.1h-1.1zM275.1 418.1h1.1v1.1h-1.1zM256.2 417.3h1.1v1.1h-1.1zM271.4 420.0h1.1v1.1h-1.1zM268.3 419.3h1.1v1.1h-1.1zM265.3 416.6h1.1v1.1h-1.1zM260.1 416.6h1.1v1.1h-1.1zM256.9 413.8h1.1v1.1h-1.1zM254.3 417.1h1.1v1.1h-1.1zM266.9 417.1h1.1v1.1h-1.1zM257.7 414.9h1.1v1.1h-1.1zM275.2 421.0h1.1v1.1h-1.1zM271.9 415.6h1.1v1.1h-1.1zM262.0 414.8h1.1v1.1h-1.1zM262.1 409.4h1.1v1.1h-1.1zM260.2 415.9h1.1v1.1h-1.1zM268.8 420.0h1.1v1.1h-1.1zM275.3 413.4h1.1v1.1h-1.1zM253.5 493.8h1.3v3.9h-1.3zM253.5 497.7h1.3v2.2h-1.3zM254.8 493.9h1.3v2.2h-1.3zM256.1 494.0h1.3v2.1h-1.3zM257.4 494.2h0.8v2.3h-0.8zM258.2 494.2h1.0v3.3h-1.0zM259.2 494.3h1.1v3.4h-1.1zM259.2 497.8h1.1v1.6h-1.1zM260.3 494.4h1.1v1.6h-1.1zM260.3 496.1h1.1v1.8h-1.1zM260.3 497.9h1.1v0.8h-1.1zM261.4 494.6h1.1v1.4h-1.1zM261.4 496.0h1.1v3.3h-1.1zM261.4 499.2h1.1v2.0h-1.1zM261.4 503.2h1.1v0.3h-1.1zM262.5 494.7h0.8v0.7h-0.8zM263.3 494.7h1.0v3.8h-1.0zM263.3 498.5h1.0v3.1h-1.0zM264.3 495.9h0.8v2.6h-0.8zM265.1 498.7h1.0v2.2h-1.0zM266.1 501.8h0.8v2.6h-0.8zM266.1 504.4h0.8v2.0h-0.8zM268.2 502.0h1.1v3.2h-1.1zM268.2 505.2h1.1v1.3h-1.1zM269.3 502.1h1.1v3.9h-1.1zM269.3 506.0h1.1v1.6h-1.1zM269.3 508.2h1.1v3.1h-1.1zM269.3 511.8h1.1v3.2h-1.1zM270.4 502.2h1.3v0.6h-1.3zM271.7 502.3h1.1v2.1h-1.1zM271.7 504.4h1.1v2.7h-1.1zM272.8 502.4h1.3v1.3h-1.3zM272.8 503.8h1.3v3.0h-1.3zM272.8 506.8h1.3v1.4h-1.3zM274.1 502.6h1.1v2.4h-1.1zM275.2 502.7h1.0v2.1h-1.0zM275.2 504.7h1.0v2.9h-1.0zM275.2 507.7h1.0v1.8h-1.0zM275.2 511.1h1.0v1.6h-1.0zM276.2 502.8h0.4v2.9h-0.4zM276.2 505.7h0.4v1.9h-0.4zM276.2 508.1h0.4v1.0h-0.4zM276.2 510.7h0.4v1.1h-0.4zM272.7 509.8h1.1v1.1h-1.1zM266.1 516.5h1.1v1.1h-1.1zM263.3 497.8h1.1v1.1h-1.1zM263.0 498.2h1.1v1.1h-1.1zM270.7 506.7h1.1v1.1h-1.1zM258.1 496.8h1.1v1.1h-1.1zM273.5 505.2h1.1v1.1h-1.1zM254.9 514.7h1.1v1.1h-1.1zM267.4 508.7h1.1v1.1h-1.1zM263.5 495.8h1.1v1.1h-1.1zM260.8 499.7h1.1v1.1h-1.1zM272.0 502.9h1.1v1.1h-1.1zM272.3 503.1h1.1v1.1h-1.1zM268.3 505.8h1.1v1.1h-1.1zM262.8 496.2h1.1v1.1h-1.1zM269.6 512.8h1.1v1.1h-1.1zM274.2 505.1h1.1v1.1h-1.1zM254.8 503.0h1.1v1.1h-1.1zM256.8 498.9h1.1v1.1h-1.1zM273.1 506.3h1.1v1.1h-1.1zM270.9 504.1h1.1v1.1h-1.1zM268.0 510.4h1.1v1.1h-1.1zM275.4 506.0h1.1v1.1h-1.1zM257.7 494.6h1.1v1.1h-1.1zM265.6 505.9h1.1v1.1h-1.1zM263.6 496.7h1.1v1.1h-1.1zM272.4 518.5h1.1v1.1h-1.1zM266.2 513.7h1.1v1.1h-1.1zM274.1 504.4h1.1v1.1h-1.1zM268.0 517.4h1.1v1.1h-1.1zM257.1 503.3h1.1v1.1h-1.1zM260.6 495.0h1.1v1.1h-1.1zM275.0 503.7h1.1v1.1h-1.1zM258.4 414.9h1.1v1.1h-1.1zM261.2 408.9h1.1v1.1h-1.1zM270.4 414.0h1.1v1.1h-1.1zM264.3 402.0h1.1v1.1h-1.1zM257.4 406.4h1.1v1.1h-1.1zM262.1 508.8h1.1v1.1h-1.1zM254.8 517.1h1.1v1.1h-1.1zM271.9 512.7h1.1v1.1h-1.1z"/><path fill="#fff" d="M270.9 423.5h0.9v0.9h-0.9zM261.9 422.0h1.0v1.0h-1.0zM274.2 421.7h0.9v0.9h-0.9zM262.8 429.8h0.7v0.7h-0.7zM264.1 422.5h1.0v1.0h-1.0zM261.9 425.2h0.9v0.9h-0.9zM253.6 426.0h0.7v0.7h-0.7zM273.5 430.8h0.9v0.9h-0.9zM258.9 426.1h1.0v1.0h-1.0zM259.0 423.8h1.0v1.0h-1.0zM257.1 422.1h0.7v0.7h-0.7zM273.6 425.6h0.9v0.9h-0.9zM258.4 423.1h0.9v0.9h-0.9zM257.5 424.6h0.7v0.7h-0.7zM266.4 422.7h0.7v0.7h-0.7zM257.0 432.0h0.9v0.9h-0.9zM265.5 425.7h1.0v1.0h-1.0zM275.5 429.7h1.0v1.0h-1.0zM271.4 421.8h0.7v0.7h-0.7zM259.6 422.1h0.9v0.9h-0.9zM274.9 428.2h1.0v1.0h-1.0zM264.6 422.3h0.9v0.9h-0.9zM264.8 427.4h0.9v0.9h-0.9zM269.4 426.4h1.0v1.0h-1.0zM261.7 423.0h1.0v1.0h-1.0zM254.8 431.4h0.9v0.9h-0.9zM271.6 428.3h0.9v0.9h-0.9zM255.5 428.2h0.7v0.7h-0.7zM254.7 421.1h0.7v0.7h-0.7zM255.1 421.2h0.9v0.9h-0.9zM261.6 424.4h0.9v0.9h-0.9zM273.3 422.4h1.0v1.0h-1.0zM265.2 422.9h0.7v0.7h-0.7zM268.7 423.0h0.7v0.7h-0.7zM260.0 421.6h0.9v0.9h-0.9zM275.2 421.9h0.9v0.9h-0.9zM261.0 422.3h1.0v1.0h-1.0zM273.0 424.0h0.7v0.7h-0.7zM260.1 422.2h0.7v0.7h-0.7zM270.6 425.4h1.0v1.0h-1.0zM265.9 426.7h0.9v0.9h-0.9zM270.7 422.2h0.9v0.9h-0.9zM269.1 424.4h1.0v1.0h-1.0zM253.8 424.0h0.9v0.9h-0.9zM263.3 427.8h0.7v0.7h-0.7zM256.1 435.3h0.7v0.7h-0.7zM254.0 423.2h0.7v0.7h-0.7zM272.5 430.7h0.7v0.7h-0.7zM270.4 435.2h0.7v0.7h-0.7zM255.7 433.9h0.9v0.9h-0.9zM266.3 423.3h0.7v0.7h-0.7zM271.3 421.6h0.9v0.9h-0.9zM262.9 422.8h0.7v0.7h-0.7zM256.3 426.2h0.7v0.7h-0.7zM255.8 433.2h1.0v1.0h-1.0zM264.9 429.0h0.7v0.7h-0.7zM267.4 431.5h1.0v1.0h-1.0zM259.0 492.9h1.0v1.0h-1.0zM255.8 481.6h0.7v0.7h-0.7zM259.4 493.5h0.9v0.9h-0.9zM272.5 501.2h0.9v0.9h-0.9zM268.6 500.8h0.9v0.9h-0.9zM267.4 495.1h0.9v0.9h-0.9zM253.6 492.8h0.9v0.9h-0.9zM271.1 492.6h0.9v0.9h-0.9zM265.4 497.7h1.0v1.0h-1.0zM267.6 501.0h1.0v1.0h-1.0zM260.6 492.3h0.7v0.7h-0.7z"/><path d="M278.2,408 L278.53,407.56 L278.87,407.12 L279.2,406.68 L279.53,406.25 L279.87,405.81 L280.2,405.37 L280.53,404.93 L280.87,404.49 L281.2,404.05 L281.53,403.61 L281.87,403.18 L282.2,402.98 L282.53,402.93 L282.87,402.89 L283.2,402.85 L283.53,402.81 L283.87,402.77 L284.2,402.73 L284.53,402.68 L284.87,402.64 L285.2,402.6 L285.53,402.56 L285.87,402.52 L286.2,402.48 L286.53,402.43 L286.87,402.39 L287.2,402.35 L287.53,402.31 L287.87,402.27 L288.2,402.23 L288.53,402.18 L288.87,402.14 L289.2,402.1 L289.53,402.06 L289.87,402.02 L290.2,402.02 L290.53,402.07 L290.87,402.11 L291.2,402.15 L291.53,402.19 L291.87,402.23 L292.2,402.27 L292.53,402.32 L292.87,402.36 L293.2,402.4 L293.53,402.44 L293.87,402.48 L294.2,402.52 L294.53,402.57 L294.87,402.61 L295.2,402.65 L295.53,402.69 L295.87,402.73 L296.2,402.77 L296.53,402.82 L296.87,402.86 L297.2,402.9 L297.53,402.94 L297.87,402.98 L298.2,403.24 L298.53,403.64 L298.87,404.04 L299.2,404.44 L299.53,404.84 L299.87,405.24 L300.2,405.64 L300.53,406.16 L300.87,407.71 L301.2,409.27 L301.53,410.82 L301.87,412.38 L302.2,412.2 L302.53,410.87 L302.87,409.53 L303.2,408.2 L303.53,406.97 L303.87,406.71 L304.2,406.44 L304.53,406.17 L304.87,405.91 L305.2,405.64 L305.53,405.37 L305.87,405.11 L306.2,405.1 L306.53,405.27 L306.87,405.43 L307.2,405.6 L307.53,405.77 L307.87,405.93 L308.2,406.1 L308.53,406.27 L308.87,406.43 L309.2,406.6 L309.53,406.77 L309.87,406.93 L310.2,407.1 L310.53,407.27 L310.87,407.43 L311.2,407.6 L311.53,407.77 L311.87,407.93 L312.2,408.25 L312.53,408.67 L312.87,409.08 L313.2,409.5 L313.53,409.92 L313.87,410.33 L314.2,410.75 L314.53,411.17 L314.87,411.58 L315.2,412 L315.53,412.42 L315.87,412.83 L316.2,413.35 L316.53,413.93 L316.87,414.52 L317.2,415.1 L317.53,415.68 L317.87,416.27 L318.2,416.85 L318.53,417.43 L318.87,418.02 L319.2,418.6 L319.53,419.18 L319.87,419.77 L320.2,420.55 L320.53,421.45 L320.87,422.36 L321.2,423.27 L321.53,424.18 L321.87,425.09 L322.2,426 L322.2,497 L321.87,496.96 L321.53,496.92 L321.2,496.88 L320.87,496.84 L320.53,496.79 L320.2,496.75 L319.87,496.71 L319.53,496.67 L319.2,496.63 L318.87,496.59 L318.53,496.55 L318.2,496.51 L317.87,496.47 L317.53,496.42 L317.2,496.38 L316.87,496.34 L316.53,496.3 L316.2,496.26 L315.87,496.22 L315.53,496.18 L315.2,496.14 L314.87,496.09 L314.53,496.05 L314.2,496.01 L313.87,495.97 L313.53,495.93 L313.2,495.89 L312.87,495.85 L312.53,495.81 L312.2,495.77 L311.87,495.72 L311.53,495.68 L311.2,495.64 L310.87,495.6 L310.53,495.56 L310.2,495.52 L309.87,495.48 L309.53,495.44 L309.2,495.4 L308.87,495.35 L308.53,495.31 L308.2,495.27 L307.87,495.23 L307.53,495.19 L307.2,495.15 L306.87,495.11 L306.53,495.07 L306.2,495.02 L305.87,494.2 L305.53,492.2 L305.2,490.2 L304.87,489 L304.53,489 L304.2,489 L303.87,489 L303.53,489 L303.2,489 L302.87,489 L302.53,489 L302.2,489 L301.87,489 L301.53,489 L301.2,489 L300.87,489 L300.53,489 L300.2,489 L299.87,489.53 L299.53,490.87 L299.2,492.2 L298.87,493.04 L298.53,493.16 L298.2,493.27 L297.87,493.38 L297.53,493.49 L297.2,493.6 L296.87,493.71 L296.53,493.82 L296.2,493.93 L295.87,494.04 L295.53,494.16 L295.2,494.27 L294.87,494.38 L294.53,494.49 L294.2,494.6 L293.87,494.71 L293.53,494.82 L293.2,494.93 L292.87,495.04 L292.53,495.16 L292.2,495.27 L291.87,495.38 L291.53,495.49 L291.2,495.6 L290.87,495.71 L290.53,495.82 L290.2,495.93 L289.87,496.01 L289.53,496.04 L289.2,496.07 L288.87,496.1 L288.53,496.12 L288.2,496.15 L287.87,496.18 L287.53,496.21 L287.2,496.24 L286.87,496.27 L286.53,496.29 L286.2,496.32 L285.87,496.35 L285.53,496.38 L285.2,496.41 L284.87,496.44 L284.53,496.46 L284.2,496.49 L283.87,496.52 L283.53,496.55 L283.2,496.58 L282.87,496.6 L282.53,496.63 L282.2,496.66 L281.87,496.69 L281.53,496.72 L281.2,496.75 L280.87,496.77 L280.53,496.8 L280.2,496.83 L279.87,496.86 L279.53,496.89 L279.2,496.92 L278.87,496.94 L278.53,496.97 L278.2,497Z" fill="#FF33FF"/><path fill="#FF33FF" d="M292.5 402.1h1.1v1.1h-1.1zM288.0 398.4h1.1v1.1h-1.1zM300.8 407.2h1.1v1.1h-1.1zM315.2 405.0h1.1v1.1h-1.1zM282.6 398.7h1.1v1.1h-1.1zM304.4 403.4h1.1v1.1h-1.1zM296.8 402.3h1.1v1.1h-1.1zM279.4 404.9h1.1v1.1h-1.1zM290.2 400.6h1.1v1.1h-1.1zM278.9 399.4h1.1v1.1h-1.1zM307.0 397.0h1.1v1.1h-1.1zM299.2 402.6h1.1v1.1h-1.1zM316.4 410.7h1.1v1.1h-1.1zM299.1 401.4h1.1v1.1h-1.1zM301.4 406.2h1.1v1.1h-1.1zM293.7 400.9h1.1v1.1h-1.1zM297.8 400.3h1.1v1.1h-1.1zM312.7 401.2h1.1v1.1h-1.1zM316.9 413.8h1.1v1.1h-1.1zM312.3 405.7h1.1v1.1h-1.1zM315.2 411.0h1.1v1.1h-1.1zM315.3 410.6h1.1v1.1h-1.1zM284.0 399.6h1.1v1.1h-1.1zM304.6 405.7h1.1v1.1h-1.1zM305.1 397.4h1.1v1.1h-1.1zM301.0 406.4h1.1v1.1h-1.1zM320.9 421.9h1.1v1.1h-1.1zM307.1 405.1h1.1v1.1h-1.1zM320.9 414.7h1.1v1.1h-1.1zM285.8 396.3h1.1v1.1h-1.1zM304.4 405.2h1.1v1.1h-1.1zM307.3 404.2h1.1v1.1h-1.1zM286.2 401.5h1.1v1.1h-1.1zM305.2 403.3h1.1v1.1h-1.1zM292.7 401.3h1.1v1.1h-1.1zM280.0 402.0h1.1v1.1h-1.1zM316.2 410.7h1.1v1.1h-1.1zM278.4 401.4h1.1v1.1h-1.1zM307.6 400.1h1.1v1.1h-1.1zM303.7 399.8h1.1v1.1h-1.1zM295.7 399.4h1.1v1.1h-1.1zM320.7 420.2h1.1v1.1h-1.1zM279.3 401.8h1.1v1.1h-1.1zM301.3 407.2h1.1v1.1h-1.1zM284.4 401.1h1.1v1.1h-1.1zM312.6 407.1h1.1v1.1h-1.1zM281.0 402.1h1.1v1.1h-1.1zM317.9 416.3h1.1v1.1h-1.1zM315.5 411.3h1.1v1.1h-1.1zM293.9 401.2h1.1v1.1h-1.1zM304.7 403.8h1.1v1.1h-1.1zM302.2 408.2h1.1v1.1h-1.1zM285.7 402.1h1.1v1.1h-1.1zM302.6 408.2h1.1v1.1h-1.1zM317.1 406.9h1.1v1.1h-1.1zM292.2 395.5h1.1v1.1h-1.1zM314.4 410.4h1.1v1.1h-1.1zM319.3 413.3h1.1v1.1h-1.1zM312.8 406.4h1.1v1.1h-1.1zM291.8 396.7h1.1v1.1h-1.1zM310.1 406.1h1.1v1.1h-1.1zM309.6 402.2h1.1v1.1h-1.1zM315.0 411.0h1.1v1.1h-1.1zM280.1 393.7h1.1v1.1h-1.1zM291.6 399.2h1.1v1.1h-1.1zM294.6 399.2h1.1v1.1h-1.1zM315.3 397.9h1.1v1.1h-1.1zM282.8 395.4h1.1v1.1h-1.1zM291.3 397.3h1.1v1.1h-1.1zM299.4 402.3h1.1v1.1h-1.1zM308.9 405.2h1.1v1.1h-1.1zM302.0 408.8h1.1v1.1h-1.1zM294.8 400.0h1.1v1.1h-1.1zM284.5 401.5h1.1v1.1h-1.1zM282.4 397.4h1.1v1.1h-1.1zM315.9 411.8h1.1v1.1h-1.1zM285.5 401.2h1.1v1.1h-1.1zM305.3 404.9h1.1v1.1h-1.1zM278.4 400.9h1.1v1.1h-1.1zM293.2 392.9h1.1v1.1h-1.1zM309.0 400.2h1.1v1.1h-1.1zM307.2 404.7h1.1v1.1h-1.1zM319.0 415.0h1.1v1.1h-1.1zM307.4 401.3h1.1v1.1h-1.1zM304.3 405.0h1.1v1.1h-1.1zM291.7 399.3h1.1v1.1h-1.1zM293.2 401.7h1.1v1.1h-1.1zM296.3 402.5h1.1v1.1h-1.1zM304.3 400.5h1.1v1.1h-1.1zM294.1 402.5h1.1v1.1h-1.1zM303.4 407.0h1.1v1.1h-1.1zM306.7 403.9h1.1v1.1h-1.1zM309.5 402.3h1.1v1.1h-1.1zM308.7 405.4h1.1v1.1h-1.1zM319.9 418.5h1.1v1.1h-1.1zM288.6 402.1h1.1v1.1h-1.1zM319.0 415.4h1.1v1.1h-1.1zM293.1 401.3h1.1v1.1h-1.1zM279.2 401.6h1.1v1.1h-1.1zM307.9 404.9h1.1v1.1h-1.1zM308.4 399.3h1.1v1.1h-1.1zM318.6 414.7h1.1v1.1h-1.1zM298.8 403.5h1.1v1.1h-1.1zM298.7 403.5h1.1v1.1h-1.1zM319.6 418.9h1.1v1.1h-1.1zM301.1 408.4h1.1v1.1h-1.1zM292.5 402.1h1.1v1.1h-1.1zM282.8 402.8h1.1v1.1h-1.1zM301.2 408.9h1.1v1.1h-1.1zM300.9 397.5h1.1v1.1h-1.1zM286.2 400.5h1.1v1.1h-1.1zM281.4 402.2h1.1v1.1h-1.1zM299.3 401.1h1.1v1.1h-1.1zM320.2 416.9h1.1v1.1h-1.1zM312.9 407.2h1.1v1.1h-1.1zM312.0 405.7h1.1v1.1h-1.1zM289.1 401.4h1.1v1.1h-1.1zM298.5 401.2h1.1v1.1h-1.1zM308.9 401.1h1.1v1.1h-1.1zM284.3 397.9h1.1v1.1h-1.1zM299.1 403.3h1.1v1.1h-1.1zM298.0 402.1h1.1v1.1h-1.1zM292.0 396.8h1.1v1.1h-1.1zM314.7 397.2h1.1v1.1h-1.1zM308.3 399.1h1.1v1.1h-1.1zM315.2 408.4h1.1v1.1h-1.1zM296.6 400.9h1.1v1.1h-1.1zM320.9 421.2h1.1v1.1h-1.1zM287.3 401.5h1.1v1.1h-1.1zM284.3 401.8h1.1v1.1h-1.1zM290.0 395.7h1.1v1.1h-1.1zM314.0 407.4h1.1v1.1h-1.1zM317.2 408.6h1.1v1.1h-1.1zM315.9 409.5h1.1v1.1h-1.1zM298.6 398.9h1.1v1.1h-1.1zM315.0 410.5h1.1v1.1h-1.1zM280.6 401.4h1.1v1.1h-1.1zM314.2 409.4h1.1v1.1h-1.1zM287.6 400.7h1.1v1.1h-1.1zM307.3 405.0h1.1v1.1h-1.1zM317.3 414.2h1.1v1.1h-1.1zM288.9 398.3h1.1v1.1h-1.1zM302.2 412.1h1.1v1.1h-1.1zM285.1 401.7h1.1v1.1h-1.1zM281.9 395.8h1.1v1.1h-1.1zM292.5 391.6h1.1v1.1h-1.1zM283.3 397.5h1.1v1.1h-1.1zM311.9 407.8h1.1v1.1h-1.1zM288.2 393.6h1.1v1.1h-1.1zM319.6 415.8h1.1v1.1h-1.1zM288.9 401.9h1.1v1.1h-1.1zM284.4 400.0h1.1v1.1h-1.1zM287.1 397.4h1.1v1.1h-1.1zM284.3 400.4h1.1v1.1h-1.1zM290.4 401.8h1.1v1.1h-1.1zM278.8 402.1h1.1v1.1h-1.1zM312.0 406.1h1.1v1.1h-1.1zM317.1 414.4h1.1v1.1h-1.1zM313.8 409.2h1.1v1.1h-1.1zM293.1 401.4h1.1v1.1h-1.1zM297.2 402.4h1.1v1.1h-1.1zM317.5 395.7h1.1v1.1h-1.1zM284.7 400.0h1.1v1.1h-1.1zM303.5 404.2h1.1v1.1h-1.1zM279.1 400.9h1.1v1.1h-1.1zM301.8 411.2h1.1v1.1h-1.1zM291.0 395.2h1.1v1.1h-1.1zM296.5 400.4h1.1v1.1h-1.1zM278.5 403.5h1.1v1.1h-1.1zM291.6 402.1h1.1v1.1h-1.1zM314.2 408.3h1.1v1.1h-1.1zM299.6 399.9h1.1v1.1h-1.1zM278.9 407.0h1.1v1.1h-1.1zM278.7 406.1h1.1v1.1h-1.1zM288.8 392.1h1.1v1.1h-1.1zM280.4 396.5h1.1v1.1h-1.1zM290.8 401.6h1.1v1.1h-1.1zM294.2 402.5h1.1v1.1h-1.1zM307.1 400.9h1.1v1.1h-1.1zM312.7 404.4h1.1v1.1h-1.1zM290.9 400.3h1.1v1.1h-1.1zM287.9 398.5h1.1v1.1h-1.1zM295.6 395.9h1.1v1.1h-1.1zM304.0 405.1h1.1v1.1h-1.1zM279.8 402.7h1.1v1.1h-1.1zM314.2 408.8h1.1v1.1h-1.1zM288.2 402.2h1.1v1.1h-1.1zM285.7 402.4h1.1v1.1h-1.1zM305.4 401.5h1.1v1.1h-1.1zM296.6 394.4h1.1v1.1h-1.1zM280.8 404.3h1.1v1.1h-1.1zM294.4 400.2h1.1v1.1h-1.1zM288.2 401.6h1.1v1.1h-1.1zM283.0 402.0h1.1v1.1h-1.1zM317.6 414.7h1.1v1.1h-1.1zM281.4 403.3h1.1v1.1h-1.1zM320.3 416.6h1.1v1.1h-1.1zM291.1 395.9h1.1v1.1h-1.1zM300.2 403.0h1.1v1.1h-1.1zM304.0 400.5h1.1v1.1h-1.1zM291.0 392.7h1.1v1.1h-1.1zM285.5 400.1h1.1v1.1h-1.1zM318.2 412.1h1.1v1.1h-1.1zM302.8 406.8h1.1v1.1h-1.1zM290.6 400.5h1.1v1.1h-1.1zM313.3 407.5h1.1v1.1h-1.1zM293.6 396.8h1.1v1.1h-1.1zM282.7 395.9h1.1v1.1h-1.1zM295.2 401.4h1.1v1.1h-1.1zM289.3 390.9h1.1v1.1h-1.1zM288.2 401.9h1.1v1.1h-1.1zM292.6 401.8h1.1v1.1h-1.1zM318.3 416.9h1.1v1.1h-1.1zM304.1 402.0h1.1v1.1h-1.1zM312.5 406.9h1.1v1.1h-1.1zM278.5 406.5h1.1v1.1h-1.1zM287.9 399.4h1.1v1.1h-1.1zM279.7 404.5h1.1v1.1h-1.1zM303.4 407.0h1.1v1.1h-1.1zM310.7 404.8h1.1v1.1h-1.1zM280.1 403.8h1.1v1.1h-1.1zM307.9 396.8h1.1v1.1h-1.1zM285.7 400.1h1.1v1.1h-1.1zM305.6 396.2h1.1v1.1h-1.1zM292.5 397.1h1.1v1.1h-1.1zM298.7 400.0h1.1v1.1h-1.1zM311.7 407.8h1.1v1.1h-1.1zM320.9 415.2h1.1v1.1h-1.1zM284.3 402.4h1.1v1.1h-1.1zM313.0 404.0h1.1v1.1h-1.1zM309.1 405.6h1.1v1.1h-1.1zM296.4 399.9h1.1v1.1h-1.1zM291.5 402.2h1.1v1.1h-1.1zM287.6 401.3h1.1v1.1h-1.1zM311.4 404.6h1.1v1.1h-1.1zM308.6 405.7h1.1v1.1h-1.1zM312.6 407.0h1.1v1.1h-1.1zM320.3 419.5h1.1v1.1h-1.1zM304.1 394.0h1.1v1.1h-1.1zM309.6 406.5h1.1v1.1h-1.1zM304.9 403.8h1.1v1.1h-1.1zM310.3 407.1h1.1v1.1h-1.1zM320.3 418.5h1.1v1.1h-1.1zM284.3 399.8h1.1v1.1h-1.1zM282.1 400.7h1.1v1.1h-1.1zM283.9 402.5h1.1v1.1h-1.1zM303.4 406.9h1.1v1.1h-1.1zM283.7 402.4h1.1v1.1h-1.1zM303.0 404.1h1.1v1.1h-1.1zM288.4 400.1h1.1v1.1h-1.1zM296.5 398.4h1.1v1.1h-1.1zM283.7 401.7h1.1v1.1h-1.1zM317.3 409.2h1.1v1.1h-1.1zM303.6 401.4h1.1v1.1h-1.1zM301.0 406.8h1.1v1.1h-1.1zM297.3 401.0h1.1v1.1h-1.1zM278.2 496.8h1.3v2.6h-1.3zM278.2 499.4h1.3v0.3h-1.3zM279.5 496.7h0.8v1.2h-0.8zM280.3 496.6h1.1v2.7h-1.1zM280.3 499.3h1.1v1.9h-1.1zM280.3 501.2h1.1v1.5h-1.1zM281.4 496.5h1.3v1.4h-1.3zM281.4 497.9h1.3v1.4h-1.3zM282.7 496.4h1.3v2.2h-1.3zM282.7 498.6h1.3v2.8h-1.3zM282.7 501.4h1.3v1.5h-1.3zM284.0 496.3h1.1v1.6h-1.1zM284.0 497.9h1.1v2.0h-1.1zM284.0 499.9h1.1v1.7h-1.1zM284.0 502.1h1.1v0.1h-1.1zM285.1 496.2h1.1v2.6h-1.1zM286.2 496.1h1.3v1.6h-1.3zM286.2 497.7h1.3v0.2h-1.3zM287.5 496.0h1.3v1.5h-1.3zM287.5 497.5h1.3v0.6h-1.3zM288.8 495.9h1.3v3.1h-1.3zM288.8 499.0h1.3v1.2h-1.3zM288.8 501.5h1.3v1.8h-1.3zM288.8 504.0h1.3v3.0h-1.3zM288.8 508.1h1.3v2.1h-1.3zM290.1 495.8h0.8v2.2h-0.8zM290.1 498.0h0.8v1.0h-0.8zM292.0 495.1h0.8v1.7h-0.8zM292.0 496.9h0.8v3.2h-0.8zM292.0 500.1h0.8v3.9h-0.8zM292.0 505.1h0.8v1.6h-0.8zM292.0 508.2h0.8v1.4h-0.8zM292.0 510.9h0.8v1.4h-0.8zM292.0 513.7h0.8v1.4h-0.8zM292.0 516.3h0.8v0.6h-0.8zM292.8 494.9h1.1v0.9h-1.1zM293.9 494.5h1.0v1.9h-1.0zM293.9 496.4h1.0v1.4h-1.0zM294.9 494.2h0.8v0.8h-0.8zM295.7 493.9h1.3v2.0h-1.3zM295.7 495.9h1.3v1.7h-1.3zM297.0 493.5h0.8v2.1h-0.8zM297.8 493.2h1.1v2.7h-1.1zM297.8 495.9h1.1v3.4h-1.1zM297.8 500.6h1.1v3.4h-1.1zM297.8 505.8h1.1v1.3h-1.1zM297.8 507.7h1.1v1.2h-1.1zM297.8 509.4h1.1v1.4h-1.1zM298.9 492.8h1.3v1.9h-1.3zM300.2 488.8h1.3v2.6h-1.3zM301.5 488.8h1.3v1.1h-1.3zM301.5 489.9h1.3v2.3h-1.3zM301.5 492.2h1.3v2.5h-1.3zM301.5 496.1h1.3v1.7h-1.3zM303.6 488.8h0.8v0.7h-0.8zM304.4 488.8h1.3v1.3h-1.3zM304.4 490.1h1.3v1.7h-1.3zM305.7 493.0h1.3v2.3h-1.3zM305.7 495.3h1.3v3.8h-1.3zM305.7 499.1h1.3v1.3h-1.3zM305.7 501.0h1.3v1.1h-1.3zM307.0 494.9h1.0v3.6h-1.0zM307.0 498.5h1.0v0.8h-1.0zM308.0 495.0h1.3v1.2h-1.3zM308.0 496.2h1.3v1.7h-1.3zM308.0 497.9h1.3v0.7h-1.3zM309.3 495.2h0.8v2.0h-0.8zM309.3 497.2h0.8v1.4h-0.8zM310.1 495.3h1.3v3.8h-1.3zM310.1 499.1h1.3v1.5h-1.3zM310.1 501.2h1.3v1.8h-1.3zM310.1 504.2h1.3v3.6h-1.3zM311.4 495.5h1.1v1.7h-1.1zM311.4 497.2h1.1v3.1h-1.1zM311.4 500.3h1.1v3.8h-1.1zM311.4 505.1h1.1v1.4h-1.1zM312.5 495.6h1.0v1.3h-1.0zM313.5 495.7h0.8v3.7h-0.8zM313.5 499.4h0.8v1.6h-0.8zM313.5 502.8h0.8v1.1h-0.8zM314.3 495.8h1.1v2.7h-1.1zM314.3 498.6h1.1v3.1h-1.1zM314.3 502.5h1.1v1.4h-1.1zM314.3 505.5h1.1v2.3h-1.1zM314.3 509.0h1.1v0.3h-1.1zM315.4 496.0h1.1v2.8h-1.1zM315.4 498.7h1.1v3.6h-1.1zM316.5 496.1h0.8v2.5h-0.8zM317.3 496.2h0.8v3.7h-0.8zM317.3 499.9h0.8v3.4h-0.8zM317.3 505.0h0.8v1.3h-0.8zM317.3 507.5h0.8v2.5h-0.8zM317.3 511.3h0.8v1.2h-0.8zM318.1 496.3h1.1v1.2h-1.1zM318.1 497.5h1.1v2.9h-1.1zM318.1 500.4h1.1v2.3h-1.1zM319.2 496.4h0.8v2.0h-0.8zM320.0 496.5h0.8v0.9h-0.8zM314.4 500.8h1.1v1.1h-1.1zM299.0 497.3h1.1v1.1h-1.1zM299.6 496.8h1.1v1.1h-1.1zM302.4 492.5h1.1v1.1h-1.1zM304.6 490.5h1.1v1.1h-1.1zM294.2 495.4h1.1v1.1h-1.1zM300.9 498.1h1.1v1.1h-1.1zM295.9 505.1h1.1v1.1h-1.1zM302.1 491.5h1.1v1.1h-1.1zM297.8 495.7h1.1v1.1h-1.1zM299.8 498.0h1.1v1.1h-1.1zM287.6 506.4h1.1v1.1h-1.1zM319.4 497.5h1.1v1.1h-1.1zM319.2 503.3h1.1v1.1h-1.1zM303.8 489.1h1.1v1.1h-1.1zM286.6 498.7h1.1v1.1h-1.1zM285.4 507.3h1.1v1.1h-1.1zM304.3 493.3h1.1v1.1h-1.1zM283.3 509.5h1.1v1.1h-1.1zM310.8 500.9h1.1v1.1h-1.1zM292.5 495.7h1.1v1.1h-1.1zM301.1 502.0h1.1v1.1h-1.1zM291.1 495.7h1.1v1.1h-1.1zM307.6 505.6h1.1v1.1h-1.1zM291.0 504.0h1.1v1.1h-1.1zM311.7 500.2h1.1v1.1h-1.1zM291.4 499.6h1.1v1.1h-1.1zM312.8 496.4h1.1v1.1h-1.1zM318.5 501.7h1.1v1.1h-1.1zM278.2 508.0h1.1v1.1h-1.1zM313.6 502.4h1.1v1.1h-1.1zM285.5 504.7h1.1v1.1h-1.1zM285.6 496.7h1.1v1.1h-1.1zM282.3 502.5h1.1v1.1h-1.1zM316.1 500.1h1.1v1.1h-1.1zM313.5 498.8h1.1v1.1h-1.1zM282.9 497.9h1.1v1.1h-1.1zM284.3 502.7h1.1v1.1h-1.1zM304.7 507.1h1.1v1.1h-1.1zM290.6 498.9h1.1v1.1h-1.1zM315.4 499.6h1.1v1.1h-1.1zM292.4 500.4h1.1v1.1h-1.1zM297.1 506.9h1.1v1.1h-1.1zM317.5 506.0h1.1v1.1h-1.1zM310.0 495.7h1.1v1.1h-1.1zM280.0 501.2h1.1v1.1h-1.1zM304.9 502.0h1.1v1.1h-1.1zM303.5 495.6h1.1v1.1h-1.1zM307.7 500.6h1.1v1.1h-1.1zM302.9 493.8h1.1v1.1h-1.1zM309.3 495.5h1.1v1.1h-1.1zM278.6 501.3h1.1v1.1h-1.1zM294.2 502.9h1.1v1.1h-1.1zM297.6 494.3h1.1v1.1h-1.1zM316.4 500.3h1.1v1.1h-1.1zM286.9 506.4h1.1v1.1h-1.1zM287.1 496.4h1.1v1.1h-1.1zM283.5 496.6h1.1v1.1h-1.1zM289.2 498.7h1.1v1.1h-1.1zM280.8 501.5h1.1v1.1h-1.1zM304.6 502.5h1.1v1.1h-1.1zM316.4 498.4h1.1v1.1h-1.1zM313.3 508.7h1.1v1.1h-1.1zM304.8 490.1h1.1v1.1h-1.1zM280.2 398.7h1.1v1.1h-1.1zM311.4 400.3h1.1v1.1h-1.1zM306.3 395.9h1.1v1.1h-1.1zM282.7 395.8h1.1v1.1h-1.1zM311.9 391.0h1.1v1.1h-1.1zM295.1 392.1h1.1v1.1h-1.1zM305.1 396.6h1.1v1.1h-1.1zM282.3 393.0h1.1v1.1h-1.1zM301.8 394.4h1.1v1.1h-1.1zM285.7 510.1h1.1v1.1h-1.1zM287.1 517.8h1.1v1.1h-1.1zM279.3 513.8h1.1v1.1h-1.1zM305.0 514.6h1.1v1.1h-1.1zM304.6 500.4h1.1v1.1h-1.1zM296.3 502.4h1.1v1.1h-1.1z"/><path fill="#fff" d="M317.6 419.7h0.9v0.9h-0.9zM309.3 417.1h1.0v1.0h-1.0zM283.8 403.4h0.7v0.7h-0.7zM303.5 414.9h0.9v0.9h-0.9zM293.9 405.5h1.0v1.0h-1.0zM300.7 408.8h0.9v0.9h-0.9zM316.5 416.0h1.0v1.0h-1.0zM304.4 417.4h0.9v0.9h-0.9zM314.2 412.2h1.0v1.0h-1.0zM279.1 408.1h1.0v1.0h-1.0zM298.5 404.5h0.9v0.9h-0.9zM295.8 403.2h1.0v1.0h-1.0zM319.8 420.5h1.0v1.0h-1.0zM280.1 408.1h0.9v0.9h-0.9zM293.4 405.9h0.9v0.9h-0.9zM310.8 408.6h0.7v0.7h-0.7zM320.9 425.1h0.9v0.9h-0.9zM296.6 406.6h0.7v0.7h-0.7zM305.2 416.7h1.0v1.0h-1.0zM300.6 412.4h0.9v0.9h-0.9zM296.3 407.5h1.0v1.0h-1.0zM290.2 403.9h1.0v1.0h-1.0zM305.7 406.4h0.7v0.7h-0.7zM320.7 423.0h0.7v0.7h-0.7zM288.8 407.8h0.9v0.9h-0.9zM319.1 419.6h0.9v0.9h-0.9zM282.4 412.6h0.9v0.9h-0.9zM291.9 402.4h0.7v0.7h-0.7zM282.7 403.6h0.7v0.7h-0.7zM279.5 407.5h0.9v0.9h-0.9zM310.9 410.9h0.7v0.7h-0.7zM299.0 408.3h1.0v1.0h-1.0zM299.4 412.7h1.0v1.0h-1.0zM305.3 410.2h0.7v0.7h-0.7zM306.6 406.7h0.7v0.7h-0.7zM304.3 407.1h1.0v1.0h-1.0zM311.9 409.4h0.9v0.9h-0.9zM292.6 405.4h1.0v1.0h-1.0zM308.0 409.0h0.7v0.7h-0.7zM300.0 406.6h0.9v0.9h-0.9zM308.7 410.9h1.0v1.0h-1.0zM284.1 405.9h0.7v0.7h-0.7zM321.1 428.4h0.9v0.9h-0.9zM298.9 404.5h1.0v1.0h-1.0zM297.6 403.5h1.0v1.0h-1.0zM305.3 408.5h0.9v0.9h-0.9zM317.5 422.0h1.0v1.0h-1.0zM300.3 406.2h0.7v0.7h-0.7zM287.3 414.3h1.0v1.0h-1.0zM289.1 405.5h1.0v1.0h-1.0zM280.0 415.7h1.0v1.0h-1.0zM295.1 403.2h0.9v0.9h-0.9zM314.5 413.6h0.7v0.7h-0.7zM288.4 405.9h0.7v0.7h-0.7zM319.7 422.6h1.0v1.0h-1.0zM308.9 414.1h1.0v1.0h-1.0zM286.5 408.1h0.9v0.9h-0.9zM291.1 412.3h1.0v1.0h-1.0zM302.1 415.2h0.9v0.9h-0.9zM287.7 404.8h0.9v0.9h-0.9zM285.3 410.8h1.0v1.0h-1.0zM299.2 409.2h0.9v0.9h-0.9zM298.4 408.3h1.0v1.0h-1.0zM292.7 408.5h0.9v0.9h-0.9zM313.3 413.9h0.7v0.7h-0.7zM286.2 407.0h0.7v0.7h-0.7zM294.9 405.4h0.7v0.7h-0.7zM312.2 411.8h1.0v1.0h-1.0zM304.6 406.4h1.0v1.0h-1.0zM297.4 403.9h1.0v1.0h-1.0zM288.5 406.8h1.0v1.0h-1.0zM299.7 407.4h0.9v0.9h-0.9zM311.5 408.5h1.0v1.0h-1.0zM291.0 402.2h0.9v0.9h-0.9zM300.0 410.5h0.7v0.7h-0.7zM305.7 416.8h0.7v0.7h-0.7zM313.1 413.4h0.7v0.7h-0.7zM312.3 408.7h0.9v0.9h-0.9zM278.4 409.1h0.9v0.9h-0.9zM305.7 405.9h0.9v0.9h-0.9zM314.7 415.0h0.9v0.9h-0.9zM285.5 410.4h0.9v0.9h-0.9zM295.2 415.7h1.0v1.0h-1.0zM291.7 404.3h0.7v0.7h-0.7zM306.9 405.6h0.7v0.7h-0.7zM303.9 408.9h1.0v1.0h-1.0zM294.3 405.1h0.7v0.7h-0.7zM290.8 421.2h0.9v0.9h-0.9zM290.0 406.3h0.9v0.9h-0.9zM300.2 406.4h0.7v0.7h-0.7zM315.6 413.7h1.0v1.0h-1.0zM281.1 415.9h0.7v0.7h-0.7zM296.1 405.1h1.0v1.0h-1.0zM309.8 414.0h0.7v0.7h-0.7zM294.4 403.8h1.0v1.0h-1.0zM278.7 407.9h0.7v0.7h-0.7zM305.0 407.2h0.7v0.7h-0.7zM300.3 407.8h0.9v0.9h-0.9zM316.3 413.9h1.0v1.0h-1.0zM307.2 408.9h0.7v0.7h-0.7zM317.8 418.7h1.0v1.0h-1.0zM289.5 405.7h0.7v0.7h-0.7zM308.0 407.4h1.0v1.0h-1.0zM314.2 412.3h0.9v0.9h-0.9zM282.3 406.3h0.9v0.9h-0.9zM319.6 423.0h0.7v0.7h-0.7zM308.8 408.6h0.7v0.7h-0.7zM313.1 415.5h0.7v0.7h-0.7zM318.3 417.0h1.0v1.0h-1.0zM316.7 418.5h0.7v0.7h-0.7zM287.9 494.7h0.9v0.9h-0.9zM280.8 493.2h0.7v0.7h-0.7zM290.1 493.0h1.0v1.0h-1.0zM280.5 495.5h1.0v1.0h-1.0zM300.8 486.6h0.9v0.9h-0.9zM278.4 494.7h0.9v0.9h-0.9zM304.9 486.6h0.7v0.7h-0.7zM314.0 492.9h0.7v0.7h-0.7zM288.7 492.8h1.0v1.0h-1.0zM284.1 492.5h0.7v0.7h-0.7zM300.4 487.5h0.7v0.7h-0.7zM281.9 495.5h1.0v1.0h-1.0zM302.1 485.6h0.9v0.9h-0.9zM299.9 487.1h0.9v0.9h-0.9zM305.2 488.7h1.0v1.0h-1.0zM310.3 493.1h0.7v0.7h-0.7zM303.8 487.3h0.9v0.9h-0.9zM295.0 491.5h0.7v0.7h-0.7zM288.6 494.5h1.0v1.0h-1.0zM297.0 491.0h0.9v0.9h-0.9zM291.1 493.5h1.0v1.0h-1.0zM287.2 494.2h0.9v0.9h-0.9zM301.7 398.0h1.0v1.0h-1.0zM302.0 399.0h1.0v1.0h-1.0zM302.0 400.0h1.0v1.0h-1.0zM302.0 401.0h1.0v1.0h-1.0zM301.7 402.0h1.0v1.0h-1.0zM302.0 403.0h1.0v1.0h-1.0zM301.8 404.0h1.0v1.0h-1.0zM302.0 405.0h1.0v1.0h-1.0zM302.0 406.0h1.0v1.0h-1.0zM301.7 407.0h1.0v1.0h-1.0zM301.9 408.0h1.0v1.0h-1.0zM302.0 409.0h1.0v1.0h-1.0zM302.0 410.0h1.0v1.0h-1.0zM301.8 411.0h1.0v1.0h-1.0zM301.7 412.0h1.0v1.0h-1.0zM301.8 413.0h1.0v1.0h-1.0zM301.8 415.0h1.0v1.0h-1.0zM302.0 416.0h1.0v1.0h-1.0zM302.0 418.0h1.0v1.0h-1.0zM302.0 419.0h1.0v1.0h-1.0zM301.9 420.0h1.0v1.0h-1.0zM301.6 421.0h1.0v1.0h-1.0zM301.6 422.0h1.0v1.0h-1.0zM301.9 423.0h1.0v1.0h-1.0zM302.0 425.0h1.0v1.0h-1.0zM301.9 426.0h1.0v1.0h-1.0zM301.7 427.0h1.0v1.0h-1.0zM301.7 428.0h1.0v1.0h-1.0zM301.9 429.0h1.0v1.0h-1.0zM301.6 430.0h1.0v1.0h-1.0zM302.0 432.0h1.0v1.0h-1.0zM301.9 433.0h1.0v1.0h-1.0zM302.9 406.0h1.0v1.0h-1.0zM302.9 407.0h1.0v1.0h-1.0zM302.5 409.0h1.0v1.0h-1.0zM302.9 411.0h1.0v1.0h-1.0zM302.6 412.0h1.0v1.0h-1.0zM302.5 413.0h1.0v1.0h-1.0zM302.6 414.0h1.0v1.0h-1.0zM302.4 415.0h1.0v1.0h-1.0zM302.7 416.0h1.0v1.0h-1.0zM302.4 417.0h1.0v1.0h-1.0zM302.9 418.0h1.0v1.0h-1.0zM302.9 420.0h1.0v1.0h-1.0zM302.4 421.0h1.0v1.0h-1.0zM302.7 422.0h1.0v1.0h-1.0zM302.9 423.0h1.0v1.0h-1.0z"/><path d="M323.9,428 L324.23,428 L324.57,428 L324.9,428 L325.24,428 L325.57,428 L325.91,428 L326.24,428 L326.57,428 L326.91,428 L327.24,428 L327.58,428 L327.91,428 L328.25,428 L328.58,428 L328.92,428 L329.25,428 L329.58,428 L329.92,428 L330.25,428 L330.59,428 L330.92,428 L331.26,428 L331.59,428 L331.93,428 L332.26,425.58 L332.59,422.46 L332.93,419.34 L333.26,416.22 L333.6,413.99 L333.93,413.96 L334.27,413.94 L334.6,413.91 L334.93,413.88 L335.27,413.85 L335.6,413.82 L335.94,413.79 L336.27,413.77 L336.61,413.74 L336.94,413.71 L337.27,413.68 L337.61,413.65 L337.94,413.62 L338.28,413.6 L338.61,413.57 L338.95,413.54 L339.28,413.51 L339.62,413.48 L339.95,413.45 L340.28,413.43 L340.62,413.4 L340.95,413.37 L341.29,413.34 L341.62,413.31 L341.96,413.28 L342.29,413.26 L342.62,413.23 L342.96,413.2 L343.29,413.17 L343.63,413.14 L343.96,413.11 L344.3,413.09 L344.63,413.06 L344.97,413.03 L345.3,413 L345.3,495 L344.97,495 L344.63,495 L344.3,495 L343.96,495 L343.63,495 L343.29,495 L342.96,495 L342.62,495 L342.29,495 L341.96,495 L341.62,495 L341.29,495 L340.95,495 L340.62,495 L340.28,495 L339.95,495 L339.62,495 L339.28,495 L338.95,495 L338.61,495 L338.28,495 L337.94,495 L337.61,495 L337.27,495 L336.94,495 L336.61,495 L336.27,495 L335.94,495 L335.6,495 L335.27,495 L334.93,495.01 L334.6,495.04 L334.27,495.07 L333.93,495.1 L333.6,495.13 L333.26,495.16 L332.93,495.19 L332.59,495.22 L332.26,495.25 L331.93,495.28 L331.59,495.31 L331.26,495.34 L330.92,495.37 L330.59,495.4 L330.25,495.43 L329.92,495.46 L329.58,495.49 L329.25,495.52 L328.92,495.55 L328.58,495.58 L328.25,495.61 L327.91,495.64 L327.58,495.67 L327.24,495.7 L326.91,495.73 L326.57,495.76 L326.24,495.79 L325.91,495.82 L325.57,495.85 L325.24,495.88 L324.9,495.91 L324.57,495.94 L324.23,495.97 L323.9,496Z" fill="#40FFE0"/><path fill="#40FFE0" d="M331.8 417.6h1.1v1.1h-1.1zM336.6 412.7h1.1v1.1h-1.1zM340.6 405.7h1.1v1.1h-1.1zM343.4 404.6h1.1v1.1h-1.1zM326.1 422.3h1.1v1.1h-1.1zM340.3 403.1h1.1v1.1h-1.1zM334.8 406.4h1.1v1.1h-1.1zM331.3 414.5h1.1v1.1h-1.1zM343.8 413.0h1.1v1.1h-1.1zM342.0 411.0h1.1v1.1h-1.1zM336.6 411.0h1.1v1.1h-1.1zM337.0 406.4h1.1v1.1h-1.1zM334.0 411.8h1.1v1.1h-1.1zM326.3 416.4h1.1v1.1h-1.1zM330.0 414.5h1.1v1.1h-1.1zM330.6 421.9h1.1v1.1h-1.1zM338.5 408.4h1.1v1.1h-1.1zM327.2 418.7h1.1v1.1h-1.1zM342.7 411.7h1.1v1.1h-1.1zM329.0 424.9h1.1v1.1h-1.1zM342.4 408.5h1.1v1.1h-1.1zM335.1 407.9h1.1v1.1h-1.1zM336.8 412.0h1.1v1.1h-1.1zM341.5 412.1h1.1v1.1h-1.1zM334.8 413.8h1.1v1.1h-1.1zM333.8 413.6h1.1v1.1h-1.1zM339.7 413.3h1.1v1.1h-1.1zM335.0 410.9h1.1v1.1h-1.1zM325.4 422.6h1.1v1.1h-1.1zM327.8 426.2h1.1v1.1h-1.1zM325.9 427.4h1.1v1.1h-1.1zM324.8 422.5h1.1v1.1h-1.1zM338.1 410.5h1.1v1.1h-1.1zM329.0 424.2h1.1v1.1h-1.1zM344.1 411.1h1.1v1.1h-1.1zM339.5 408.3h1.1v1.1h-1.1zM337.7 410.9h1.1v1.1h-1.1zM341.4 411.8h1.1v1.1h-1.1zM337.8 412.9h1.1v1.1h-1.1zM340.7 413.0h1.1v1.1h-1.1zM336.1 412.7h1.1v1.1h-1.1zM330.0 425.1h1.1v1.1h-1.1zM325.2 424.1h1.1v1.1h-1.1zM330.4 427.2h1.1v1.1h-1.1zM341.6 412.4h1.1v1.1h-1.1zM342.2 412.0h1.1v1.1h-1.1zM336.2 413.8h1.1v1.1h-1.1zM334.7 411.1h1.1v1.1h-1.1zM324.3 412.8h1.1v1.1h-1.1zM338.8 409.3h1.1v1.1h-1.1zM327.0 427.3h1.1v1.1h-1.1zM326.3 420.7h1.1v1.1h-1.1zM339.4 413.2h1.1v1.1h-1.1zM340.4 409.9h1.1v1.1h-1.1zM324.9 427.0h1.1v1.1h-1.1zM327.6 417.2h1.1v1.1h-1.1zM329.4 402.2h1.1v1.1h-1.1zM338.8 409.3h1.1v1.1h-1.1zM338.3 406.9h1.1v1.1h-1.1zM340.0 412.1h1.1v1.1h-1.1zM334.6 412.1h1.1v1.1h-1.1zM341.2 408.8h1.1v1.1h-1.1zM325.2 423.2h1.1v1.1h-1.1zM325.6 426.2h1.1v1.1h-1.1zM336.6 409.7h1.1v1.1h-1.1zM326.7 425.3h1.1v1.1h-1.1zM336.7 407.7h1.1v1.1h-1.1zM326.3 425.2h1.1v1.1h-1.1zM331.5 419.2h1.1v1.1h-1.1zM336.5 413.3h1.1v1.1h-1.1zM336.1 412.3h1.1v1.1h-1.1zM341.5 411.3h1.1v1.1h-1.1zM336.7 405.3h1.1v1.1h-1.1zM331.3 426.9h1.1v1.1h-1.1zM342.2 410.7h1.1v1.1h-1.1zM328.2 421.6h1.1v1.1h-1.1zM328.1 426.3h1.1v1.1h-1.1zM329.3 425.4h1.1v1.1h-1.1zM333.7 402.9h1.1v1.1h-1.1zM338.6 413.2h1.1v1.1h-1.1zM328.6 418.0h1.1v1.1h-1.1zM328.0 424.8h1.1v1.1h-1.1zM330.5 427.6h1.1v1.1h-1.1zM336.4 410.6h1.1v1.1h-1.1zM336.9 413.2h1.1v1.1h-1.1zM333.4 408.5h1.1v1.1h-1.1zM343.3 412.3h1.1v1.1h-1.1zM328.3 415.5h1.1v1.1h-1.1zM324.5 424.1h1.1v1.1h-1.1zM338.6 412.1h1.1v1.1h-1.1zM335.7 410.5h1.1v1.1h-1.1zM325.9 427.9h1.1v1.1h-1.1zM338.3 413.0h1.1v1.1h-1.1zM340.3 412.5h1.1v1.1h-1.1zM340.6 411.3h1.1v1.1h-1.1zM326.3 422.6h1.1v1.1h-1.1zM338.4 412.2h1.1v1.1h-1.1zM338.9 409.5h1.1v1.1h-1.1zM326.7 423.0h1.1v1.1h-1.1zM329.3 427.6h1.1v1.1h-1.1zM339.7 410.2h1.1v1.1h-1.1zM333.8 409.5h1.1v1.1h-1.1zM341.5 412.7h1.1v1.1h-1.1zM339.8 409.0h1.1v1.1h-1.1zM332.1 423.4h1.1v1.1h-1.1zM325.7 415.2h1.1v1.1h-1.1zM326.5 410.6h1.1v1.1h-1.1zM333.5 408.2h1.1v1.1h-1.1zM332.2 422.8h1.1v1.1h-1.1zM337.4 407.5h1.1v1.1h-1.1zM327.6 425.0h1.1v1.1h-1.1zM342.0 406.0h1.1v1.1h-1.1zM332.3 424.0h1.1v1.1h-1.1zM330.7 426.0h1.1v1.1h-1.1zM328.9 425.7h1.1v1.1h-1.1zM342.9 413.1h1.1v1.1h-1.1zM327.2 417.3h1.1v1.1h-1.1zM343.5 413.0h1.1v1.1h-1.1zM330.7 426.8h1.1v1.1h-1.1zM324.9 415.4h1.1v1.1h-1.1zM333.4 411.8h1.1v1.1h-1.1zM335.9 404.6h1.1v1.1h-1.1zM332.9 416.9h1.1v1.1h-1.1zM344.1 412.2h1.1v1.1h-1.1zM338.2 407.5h1.1v1.1h-1.1zM333.0 414.8h1.1v1.1h-1.1zM323.9 495.8h1.1v2.2h-1.1zM323.9 498.0h1.1v1.3h-1.1zM323.9 499.4h1.1v3.9h-1.1zM326.0 495.6h0.8v3.2h-0.8zM326.0 498.9h0.8v1.4h-0.8zM326.0 501.1h0.8v2.4h-0.8zM326.0 504.6h0.8v1.1h-0.8zM326.8 495.5h0.8v3.6h-0.8zM326.8 499.1h0.8v1.2h-0.8zM327.6 495.5h1.3v2.8h-1.3zM327.6 498.3h1.3v1.6h-1.3zM329.7 495.3h0.8v2.5h-0.8zM329.7 497.8h0.8v3.8h-0.8zM329.7 501.6h0.8v3.2h-0.8zM329.7 505.5h0.8v2.2h-0.8zM329.7 509.6h0.8v2.4h-0.8zM329.7 513.5h0.8v0.2h-0.8zM330.5 495.2h1.0v1.1h-1.0zM330.5 496.3h1.0v2.9h-1.0zM330.5 499.2h1.0v1.9h-1.0zM330.5 502.4h1.0v1.1h-1.0zM332.3 495.0h1.0v1.6h-1.0zM333.3 495.0h1.0v1.0h-1.0zM333.3 496.0h1.0v0.8h-1.0zM334.3 494.9h0.8v2.0h-0.8zM334.3 496.8h0.8v1.3h-0.8zM334.3 498.1h0.8v2.6h-0.8zM334.3 502.2h0.8v1.4h-0.8zM334.3 505.5h0.8v2.0h-0.8zM334.3 509.0h0.8v2.9h-0.8zM334.3 512.7h0.8v1.6h-0.8zM334.3 515.6h0.8v2.6h-0.8zM334.3 519.4h0.8v0.6h-0.8zM335.1 494.8h1.0v1.1h-1.0zM336.1 494.8h0.8v2.1h-0.8zM336.1 496.9h0.8v1.8h-0.8zM336.1 498.7h0.8v1.6h-0.8zM336.9 494.8h1.1v3.2h-1.1zM336.9 498.0h1.1v1.5h-1.1zM336.9 500.3h1.1v2.4h-1.1zM336.9 503.3h1.1v0.6h-1.1zM338.0 494.8h1.3v3.6h-1.3zM338.0 498.4h1.3v1.5h-1.3zM339.3 494.8h0.8v3.4h-0.8zM339.3 498.2h0.8v3.9h-0.8zM339.3 504.0h0.8v1.2h-0.8zM339.3 506.2h0.8v0.3h-0.8zM340.1 494.8h1.1v2.0h-1.1zM340.1 496.8h1.1v0.1h-1.1zM341.2 494.8h1.1v2.3h-1.1zM341.2 497.1h1.1v4.0h-1.1zM341.2 501.1h1.1v3.7h-1.1zM342.3 494.8h1.0v1.2h-1.0zM342.3 496.0h1.0v0.2h-1.0zM343.3 494.8h0.8v1.1h-0.8zM343.3 495.9h0.8v0.8h-0.8zM344.1 494.8h1.1v2.3h-1.1zM332.2 495.6h1.1v1.1h-1.1zM340.3 500.5h1.1v1.1h-1.1zM340.4 498.5h1.1v1.1h-1.1zM337.0 501.1h1.1v1.1h-1.1zM342.9 499.1h1.1v1.1h-1.1zM329.9 498.1h1.1v1.1h-1.1zM325.2 499.2h1.1v1.1h-1.1zM335.2 505.1h1.1v1.1h-1.1zM337.2 498.9h1.1v1.1h-1.1zM336.5 504.3h1.1v1.1h-1.1zM343.9 511.0h1.1v1.1h-1.1zM331.8 500.0h1.1v1.1h-1.1zM325.4 501.3h1.1v1.1h-1.1zM337.7 497.9h1.1v1.1h-1.1zM332.9 497.0h1.1v1.1h-1.1zM339.4 502.5h1.1v1.1h-1.1zM325.5 512.5h1.1v1.1h-1.1zM329.1 500.8h1.1v1.1h-1.1zM327.1 503.1h1.1v1.1h-1.1zM336.7 496.1h1.1v1.1h-1.1zM330.1 499.1h1.1v1.1h-1.1zM333.2 496.7h1.1v1.1h-1.1zM341.1 495.1h1.1v1.1h-1.1zM339.4 503.0h1.1v1.1h-1.1zM341.5 495.4h1.1v1.1h-1.1zM341.3 504.1h1.1v1.1h-1.1zM330.6 496.3h1.1v1.1h-1.1zM343.6 501.1h1.1v1.1h-1.1zM341.5 507.4h1.1v1.1h-1.1zM344.1 495.6h1.1v1.1h-1.1zM325.1 505.5h1.1v1.1h-1.1zM326.5 418.4h1.1v1.1h-1.1zM325.8 406.7h1.1v1.1h-1.1zM331.4 405.2h1.1v1.1h-1.1zM327.3 406.9h1.1v1.1h-1.1zM333.3 516.3h1.1v1.1h-1.1zM329.0 510.7h1.1v1.1h-1.1z"/><path fill="#fff" d="M338.8 424.3h0.7v0.7h-0.7zM325.7 428.1h0.9v0.9h-0.9zM329.5 433.9h1.0v1.0h-1.0zM339.3 425.7h0.9v0.9h-0.9zM337.1 421.8h0.9v0.9h-0.9zM340.4 415.2h0.7v0.7h-0.7zM338.7 420.0h0.7v0.7h-0.7zM338.3 416.3h1.0v1.0h-1.0zM333.8 437.4h0.9v0.9h-0.9zM327.7 429.6h0.7v0.7h-0.7zM329.0 434.4h0.9v0.9h-0.9zM341.5 413.8h1.0v1.0h-1.0zM336.3 416.4h0.9v0.9h-0.9zM340.0 420.7h1.0v1.0h-1.0zM343.8 424.4h0.9v0.9h-0.9zM327.6 429.9h1.0v1.0h-1.0zM336.7 424.5h0.9v0.9h-0.9zM330.5 438.8h1.0v1.0h-1.0zM337.6 419.6h1.0v1.0h-1.0zM340.9 414.6h1.0v1.0h-1.0zM342.7 414.6h0.9v0.9h-0.9zM335.5 422.1h1.0v1.0h-1.0zM329.1 430.2h0.9v0.9h-0.9zM336.7 426.0h0.7v0.7h-0.7zM340.2 420.1h0.7v0.7h-0.7zM324.4 429.3h1.0v1.0h-1.0zM326.4 430.1h1.0v1.0h-1.0zM327.1 436.9h0.7v0.7h-0.7zM343.8 419.6h1.0v1.0h-1.0zM338.7 414.0h0.9v0.9h-0.9zM338.7 420.3h0.7v0.7h-0.7zM344.3 420.5h0.9v0.9h-0.9zM335.5 415.5h1.0v1.0h-1.0zM325.2 431.0h1.0v1.0h-1.0zM344.3 415.2h1.0v1.0h-1.0zM338.6 417.7h1.0v1.0h-1.0zM325.9 429.1h1.0v1.0h-1.0zM329.9 431.4h1.0v1.0h-1.0zM342.3 413.7h0.9v0.9h-0.9zM326.9 432.2h0.7v0.7h-0.7zM340.8 423.7h1.0v1.0h-1.0zM330.8 436.1h0.9v0.9h-0.9zM332.5 424.0h0.7v0.7h-0.7zM335.6 416.4h0.9v0.9h-0.9zM324.9 428.3h0.7v0.7h-0.7zM326.9 431.6h0.9v0.9h-0.9zM324.4 429.7h1.0v1.0h-1.0zM331.7 434.0h0.7v0.7h-0.7zM338.3 414.4h0.9v0.9h-0.9zM336.1 419.4h1.0v1.0h-1.0zM324.4 431.5h0.9v0.9h-0.9zM326.5 431.4h1.0v1.0h-1.0zM341.1 413.5h1.0v1.0h-1.0zM326.9 494.0h1.0v1.0h-1.0zM329.3 488.6h1.0v1.0h-1.0zM325.4 494.0h0.7v0.7h-0.7zM343.7 491.5h1.0v1.0h-1.0zM324.4 494.4h0.9v0.9h-0.9zM333.2 489.8h0.7v0.7h-0.7zM332.1 491.0h1.0v1.0h-1.0zM324.3 490.0h0.7v0.7h-0.7zM338.6 493.3h0.9v0.9h-0.9zM342.5 492.7h0.9v0.9h-0.9z"/><rect x="240.1" y="390.6" width="10.6" height="1.1" fill="#4CFF2A"/><line x1="34.1" y1="464.4" x2="63.8" y2="464.4" stroke="#777" stroke-width="0.9" stroke-dasharray="2.2 2.11" stroke-dashoffset="16.4" stroke-opacity="0.8"/><line x1="65.4" y1="464.4" x2="96.9" y2="464.4" stroke="#777" stroke-width="0.9" stroke-dasharray="2.2 2.11" stroke-dashoffset="47.7" stroke-opacity="0.8"/><line x1="98.2" y1="464.4" x2="136.4" y2="464.4" stroke="#777" stroke-width="0.9" stroke-dasharray="2.2 2.11" stroke-dashoffset="80.5" stroke-opacity="0.8"/><line x1="137.6" y1="464.4" x2="160.5" y2="464.4" stroke="#777" stroke-width="0.9" stroke-dasharray="2.2 2.11" stroke-dashoffset="119.9" stroke-opacity="0.8"/><line x1="161.9" y1="464.4" x2="190.2" y2="464.4" stroke="#777" stroke-width="0.9" stroke-dasharray="2.2 2.11" stroke-dashoffset="144.2" stroke-opacity="0.8"/><line x1="191.5" y1="464.4" x2="221.6" y2="464.4" stroke="#777" stroke-width="0.9" stroke-dasharray="2.2 2.11" stroke-dashoffset="173.8" stroke-opacity="0.8"/><line x1="223.2" y1="464.4" x2="251.9" y2="464.4" stroke="#777" stroke-width="0.9" stroke-dasharray="2.2 2.11" stroke-dashoffset="205.5" stroke-opacity="0.8"/><line x1="253.5" y1="464.4" x2="276.6" y2="464.4" stroke="#777" stroke-width="0.9" stroke-dasharray="2.2 2.11" stroke-dashoffset="235.8" stroke-opacity="0.8"/><line x1="278.2" y1="464.4" x2="322.2" y2="464.4" stroke="#777" stroke-width="0.9" stroke-dasharray="2.2 2.11" stroke-dashoffset="260.5" stroke-opacity="0.8"/><line x1="323.9" y1="464.4" x2="345.3" y2="464.4" stroke="#777" stroke-width="0.9" stroke-dasharray="2.2 2.11" stroke-dashoffset="306.2" stroke-opacity="0.8"/><line x1="18.0" y1="420.1" x2="360.6" y2="420.1" stroke="#FF2020" stroke-width="1.05" stroke-dasharray="2.8 2.8" stroke-dashoffset="2.3" stroke-opacity="1"/><polyline points="34.4,466.5 36,468.7 37.7,470.7 39.3,470 41,468.9 42.6,468.5 44.3,467.6 45.9,466.3 47,465.7 48.1,466.5 49.8,467 51.4,466.7 53.1,465.9 54.7,465.4 56.4,464.6 58,464.1 59.1,463 60.8,461.5 62.4,459.9" fill="none" stroke="#000" stroke-width="1.15" stroke-linejoin="round" stroke-linecap="round"/><polyline points="65.7,448.8 66.7,449.8 67.7,449.3 69.1,448.3 70.1,445.1 70.9,441.5 71.9,439.6 73,440.4 74,442.5 75,444.6 76.1,447.2 77.1,451.9 78.2,456.1 79.2,458.2 80.8,459 82.4,459.7 83.7,460.3 84.8,458 85.8,458.7 86.8,459.2 88.1,458.2 89.3,456.6 90.7,454.8 91.7,454.2 93.1,454.8 94.6,455.1 95.9,455.3" fill="none" stroke="#000" stroke-width="1.15" stroke-linejoin="round" stroke-linecap="round"/><polyline points="99,448.2 100.2,449.7 101.8,452.1 103.3,453.9 104.5,455.1 105.9,454.5 107.5,454.3 108.7,455.1 109.9,458.1 111.1,461.8 112.3,464.8 113.5,463 114.7,460.6 116,458.7 117.5,458.1 119,456.3 120.8,454.3 122.6,452.1 124.4,450.3 126.2,448.7 127.7,448.5 129.3,449.1 130.8,450.3 132.3,454.5 133.7,456.9 135.3,458.7" fill="none" stroke="#000" stroke-width="1.15" stroke-linejoin="round" stroke-linecap="round"/><polyline points="138.2,461.7 139.3,462.5 140.6,463.4 141.9,464.3 143.2,464.1 144.5,463.6 145.9,463.4 147.2,463.9 148.5,464.3 149.8,465 151.1,465.9 152.5,466.5 153.5,466.1 154.7,464.3 155.8,463 157,462.7 158.2,463.4 159.3,464.3" fill="none" stroke="#000" stroke-width="1.15" stroke-linejoin="round" stroke-linecap="round"/><polyline points="162.5,472.8 163.9,473.3 165.4,474 166.9,474.8 168.4,475.6 169.7,477.2 170.9,478.9 172.4,480.7 173.6,480.5 174.8,478.9 176,478.5 177,479.9 178.3,481.2 179.8,481.7 181.3,480.7 182.8,478.2 183.9,475.3 185.2,471.3 186.5,465.9 187.7,462.4 188.9,460.4 189.7,458.9" fill="none" stroke="#000" stroke-width="1.15" stroke-linejoin="round" stroke-linecap="round"/><polyline points="192.6,474 194,471.5 195.3,467.5 196.1,463.8 197.2,459.1 198.2,454.4 199.5,451.3 201,448.7 202.6,447.1 204.2,446.6 205.7,447.7 207.3,450.3 208.4,455 209.2,451.3 210.4,446.6 212,444 213.6,443 215.1,444 216.7,446.6 218.1,449.2 219.1,450.8 220.4,453.4" fill="none" stroke="#000" stroke-width="1.15" stroke-linejoin="round" stroke-linecap="round"/><polyline points="223.5,461.5 225,460.7 226.4,460.3 227.9,460.7 229.4,461 230.9,460.5 232.1,459.5 233.4,457.5 234.7,455.6 235.8,454.1 237,451.6 238,448.6 239,446.2 240,442.7 241,438.7 242,432.8 242.8,426.9 243.6,420.9 244.3,418.9 245,420.4 245.9,424.9 246.9,427.3 247.9,430.3 248.9,432.3 250.2,433.8 251.2,435" fill="none" stroke="#000" stroke-width="1.15" stroke-linejoin="round" stroke-linecap="round"/><polyline points="254.5,464.8 255.4,463.3 256.2,461.3 257.3,458.8 258.2,456.7 259.2,455.7 260.3,456.3 261.5,457.5 262.8,457.4 263.8,456.3 264.8,455.2 265.8,455.5 266.9,456.1 268,456.9 269,457.4 270.2,457.1 271.4,456.3 272.7,455.2 273.9,454.2 275.1,452.9 276.2,451.8" fill="none" stroke="#000" stroke-width="1.15" stroke-linejoin="round" stroke-linecap="round"/><polyline points="279.3,456.4 280.6,453.2 281.9,449.9 283.3,447.9 285,447.2 286.6,447.6 288.1,446.3 290.2,445.9 292.5,445.5 294.5,445.2 296.4,445.5 298.2,445.9 299.7,446.3 301.1,448.5 301.9,454.5 302.1,459.1 302.8,451.8 303.7,448.1 304.8,447.6 305.8,449.9 307,453.2 308.3,455.8 310,456.8 311.6,457.4 313.2,458.2 314.9,459.7 316.6,460.4 318.2,461.1 319.5,463.7 320.9,467 322.2,470" fill="none" stroke="#000" stroke-width="1.15" stroke-linejoin="round" stroke-linecap="round"/><polyline points="325.1,464.7 326.2,463.5 327.5,462.6 328.8,462 330.1,461.6 331.4,462 332.7,461.1 334.1,460.3 335.4,459.8 336.7,458.8 338,457.6 338.9,458.2 340,459.6 341.3,460.7 342.4,460 343.6,458.5 344.6,456.7 345.5,455.9" fill="none" stroke="#000" stroke-width="1.15" stroke-linejoin="round" stroke-linecap="round"/><path d="M18,384.1 V540" fill="none" stroke="#8F8F8F" stroke-width="1.45"/><path d="M17.3,540 H361.6" fill="none" stroke="#8C8C8C" stroke-width="1.1"/><line x1="16.4" y1="391.2" x2="17.4" y2="391.2" stroke="#555" stroke-width="0.8"/><text x="15.9" y="392.6" font-size="3.9" fill="#4D4D4D" text-anchor="end">1.0</text><line x1="16.4" y1="427.8" x2="17.4" y2="427.8" stroke="#555" stroke-width="0.8"/><text x="15.9" y="429.2" font-size="3.9" fill="#4D4D4D" text-anchor="end">0.5</text><line x1="16.4" y1="464.4" x2="17.4" y2="464.4" stroke="#555" stroke-width="0.8"/><text x="15.9" y="465.8" font-size="3.9" fill="#4D4D4D" text-anchor="end">0.0</text><line x1="16.4" y1="501.1" x2="17.4" y2="501.1" stroke="#555" stroke-width="0.8"/><text x="15.9" y="502.5" font-size="3.9" fill="#4D4D4D" text-anchor="end">-0.5</text><line x1="16.4" y1="537.8" x2="17.4" y2="537.8" stroke="#555" stroke-width="0.8"/><text x="15.9" y="539.2" font-size="3.9" fill="#4D4D4D" text-anchor="end">-1.0</text><line x1="48.95" y1="540.5" x2="48.95" y2="541.5" stroke="#555" stroke-width="0.8"/><text transform="translate(50.05,543.4) rotate(-45)" font-size="3.5" fill="#3A3A3A" text-anchor="end">A01</text><line x1="81.15" y1="540.5" x2="81.15" y2="541.5" stroke="#555" stroke-width="0.8"/><text transform="translate(82.25,543.4) rotate(-45)" font-size="3.5" fill="#3A3A3A" text-anchor="end">A02</text><line x1="117.3" y1="540.5" x2="117.3" y2="541.5" stroke="#555" stroke-width="0.8"/><text transform="translate(118.4,543.4) rotate(-45)" font-size="3.5" fill="#3A3A3A" text-anchor="end">A03</text><line x1="149.05" y1="540.5" x2="149.05" y2="541.5" stroke="#555" stroke-width="0.8"/><text transform="translate(150.15,543.4) rotate(-45)" font-size="3.5" fill="#3A3A3A" text-anchor="end">A04</text><line x1="176.05" y1="540.5" x2="176.05" y2="541.5" stroke="#555" stroke-width="0.8"/><text transform="translate(177.15,543.4) rotate(-45)" font-size="3.5" fill="#3A3A3A" text-anchor="end">A05</text><line x1="206.55" y1="540.5" x2="206.55" y2="541.5" stroke="#555" stroke-width="0.8"/><text transform="translate(207.65,543.4) rotate(-45)" font-size="3.5" fill="#3A3A3A" text-anchor="end">A06</text><line x1="237.55" y1="540.5" x2="237.55" y2="541.5" stroke="#555" stroke-width="0.8"/><text transform="translate(238.65,543.4) rotate(-45)" font-size="3.5" fill="#3A3A3A" text-anchor="end">A07</text><line x1="265.05" y1="540.5" x2="265.05" y2="541.5" stroke="#555" stroke-width="0.8"/><text transform="translate(266.15,543.4) rotate(-45)" font-size="3.5" fill="#3A3A3A" text-anchor="end">A08</text><line x1="300.2" y1="540.5" x2="300.2" y2="541.5" stroke="#555" stroke-width="0.8"/><text transform="translate(301.3,543.4) rotate(-45)" font-size="3.5" fill="#3A3A3A" text-anchor="end">A09</text><line x1="334.6" y1="540.5" x2="334.6" y2="541.5" stroke="#555" stroke-width="0.8"/><text transform="translate(335.7,543.4) rotate(-45)" font-size="3.5" fill="#3A3A3A" text-anchor="end">A10</text><text x="173.6" y="377.9" font-size="7.52" font-weight="bold" fill="#000" text-anchor="middle">Early-bolting-late-bolting bulk</text><text transform="translate(6.3,462.5) rotate(-90)" font-size="4.4" fill="#000" text-anchor="middle">ΔSNP-index</text></svg></body></html>
